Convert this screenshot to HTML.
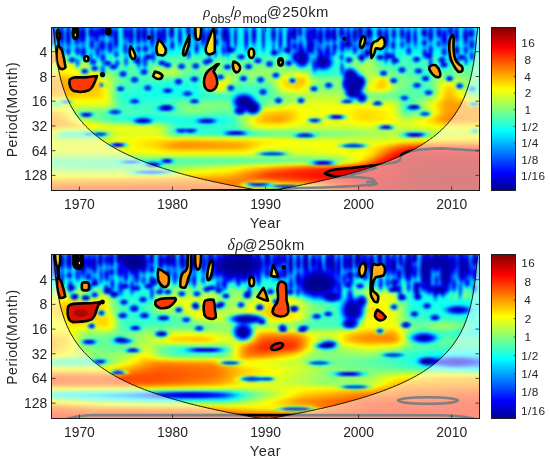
<!DOCTYPE html><html><head><meta charset="utf-8"><style>
html,body{margin:0;padding:0;background:#fff;width:550px;height:463px;overflow:hidden}
.hmo{position:absolute;overflow:hidden}
.hm{position:absolute;filter:blur(1px)}
.hm div{position:absolute;left:0;width:100%;height:3px}
.cb{position:absolute;left:491px;width:25px;background:linear-gradient(to top,#000090 0%,#0000ff 11.1%,#00ffff 36.5%,#ffff00 61.9%,#ff0000 87.3%,#800000 100%)}
svg{position:absolute;left:0;top:0}
text{font-family:"Liberation Sans",Arial,sans-serif;fill:#262626;stroke:none}
</style></head><body>
<div class="hmo" style="left:51px;top:27px;width:429px;height:164px"><div class="hm" style="left:-4px;top:-4px;width:437px;height:172px"><div style="top:0px;background:linear-gradient(90deg,#00beff,#00bbff,#00a0ff,#0084ff,#00a3ff,#00bcff,#00b2ff,#008bff,#008dff,#00b1ff,#009dff,#008bff,#00b0ff,#00bdff,#00b2ff,#00a5ff,#00adff,#0095ff,#0086ff,#009fff,#00b9ff,#00baff,#00b1ff,#00b8ff,#00b5ff,#00aeff,#00b6ff,#00adff,#00a4ff,#00b4ff,#00c4ff,#00c9ff,#00cdff,#00d0ff,#00bbff,#00c1ff,#12ffed,#00ffff,#00d2ff,#00a0ff,#00cbff,#00f8ff,#00a2ff,#00b7ff,#00d4ff,#00b1ff,#00aeff,#00c8ff,#00a2ff,#0093ff,#00b8ff,#00d2ff,#00b3ff,#00bcff,#1effe1,#00e9ff,#00d2ff,#00cfff,#00b4ff,#00bcff,#00d6ff,#00d5ff,#00c1ff,#00cbff,#00dbff,#00dbff,#00bdff,#00ceff,#00dcff,#00dbff,#00c6ff,#00a9ff,#00c5ff,#00d6ff,#00c4ff,#00c5ff,#00d7ff,#00c8ff,#00aeff,#00c9ff,#00d3ff,#00c4ff,#00d7ff,#00dcff,#00d9ff,#00dbff,#00dbff,#00c9ff,#009cff,#00a4ff,#0099ff,#00baff,#00dbff,#00d9ff,#00b5ff,#00d9ff,#00dcff,#00dcff,#00dbff,#00b0ff,#00bfff,#00dcff,#00d0ff,#009fff,#00c0ff,#00dbff,#00dcff,#00d5ff,#008bff,#00d8ff,#00dcff,#00dcff,#00d0ff,#00a3ff,#00c3ff,#00dbff,#00b0ff,#00c1ff,#00dbff,#00daff,#00b4ff,#0092ff,#00b8ff,#009bff,#0091ff,#009fff,#009bff,#0098ff,#00a6ff,#00a5ff,#0097ff,#0095ff,#009eff,#0099ff,#0094ff,#009dff,#0099ff,#009cff,#00a7ff,#009fff,#0090ff,#0094ff,#00a1ff,#00a2ff,#00a3ff,#00a8ff,#00a3ff,#0093ff,#009fff,#00a2ff,#0093ff,#0098ff,#00a6ff,#00a5ff,#00a2ff,#00a5ff,#0093ff,#008dff,#00a9ff,#00b6ff,#00b3ff,#00bbff,#00c7ff,#00ccff,#00ceff,#00d0ff,#00d1ff,#00d1ff,#00cbff,#00b7ff,#00c5ff,#1dffe2,#00ebff,#00d0ff,#00d1ff,#00d2ff,#00d2ff,#00cfff,#00d1ff,#00d0ff,#00caff,#00cdff,#00d1ff,#00c8ff,#00bbff,#00cfff,#00d2ff,#00d2ff,#00d1ff,#00d1ff,#00ceff,#00b8ff,#00c3ff,#00d1ff,#00d2ff,#00d0ff,#00cfff,#00cfff,#00caff,#00ccff,#00cfff,#00bfff,#00ccff,#00cbff,#00b3ff,#00afff,#00c7ff,#00d1ff,#00cdff,#00c3ff,#00d0ff,#00d2ff,#00d2ff,#00d2ff,#00d2ff,#00d2ff,#00d2ff,#00d2ff,#00d2ff)"></div><div style="top:2px;background:linear-gradient(90deg,#00beff,#00b8ff,#007fff,#004eff,#00c3ff,#14ffeb,#00a6ff,#0058ff,#008bff,#17ffe8,#0081ff,#005bff,#00d9ff,#0efff1,#009eff,#007bff,#00c1ff,#009eff,#004aff,#0077ff,#00afff,#00a6ff,#0075ff,#00acff,#00f4ff,#0096ff,#00abff,#00b6ff,#0053ff,#0098ff,#1affe5,#00beff,#00b1ff,#00beff,#0097ff,#009fff,#10ffef,#00feff,#00bfff,#0059ff,#009eff,#00c5ff,#0061ff,#00baff,#11ffee,#0080ff,#0075ff,#00c9ff,#008cff,#004eff,#00b1ff,#13ffec,#008cff,#0093ff,#1affe5,#00d1ff,#00b7ff,#00d6ff,#00a2ff,#0099ff,#1effe1,#00cdff,#0079ff,#009eff,#16ffe9,#00f8ff,#0093ff,#00b7ff,#00dcff,#00d5ff,#0083ff,#003cff,#01fffe,#00e2ff,#0088ff,#008eff,#06fff9,#00cfff,#007bff,#00aeff,#00c3ff,#009fff,#00e3ff,#1effe1,#00baff,#00cdff,#04fffb,#00d6ff,#0056ff,#0064ff,#006dff,#00a5ff,#00eeff,#16ffe9,#008cff,#00d5ff,#00ffff,#14ffeb,#00dcff,#008dff,#00a8ff,#09fff6,#00e9ff,#0061ff,#009dff,#00fdff,#14ffeb,#00d2ff,#005cff,#00d4ff,#00dcff,#00dcff,#00bbff,#005dff,#00c4ff,#1effe1,#0095ff,#00abff,#00deff,#14ffeb,#00b6ff,#0065ff,#00a5ff,#0090ff,#005bff,#00eeff,#0072ff,#009eff,#11ffee,#00a3ff,#007eff,#0078ff,#0086ff,#0072ff,#006dff,#00f3ff,#00aaff,#0084ff,#00edff,#00c8ff,#0062ff,#0067ff,#0084ff,#0083ff,#0096ff,#1cffe3,#00a5ff,#0051ff,#0078ff,#0094ff,#0078ff,#0092ff,#18ffe7,#00abff,#0085ff,#00e0ff,#009cff,#0055ff,#00e7ff,#00e7ff,#0085ff,#00c1ff,#0efff1,#00d1ff,#00cfff,#00ceff,#00c9ff,#00cbff,#00bfff,#0094ff,#00acff,#1cffe3,#00e7ff,#00bbff,#00c6ff,#00d2ff,#00cfff,#00b3ff,#00c8ff,#00cbff,#00b3ff,#00bcff,#00d0ff,#00b7ff,#0097ff,#00c9ff,#00d2ff,#00cfff,#00c2ff,#00d0ff,#0efff1,#0092ff,#00a3ff,#00d0ff,#00d1ff,#00baff,#00b5ff,#00eaff,#00eeff,#00c1ff,#00ebff,#0090ff,#00aeff,#00fcff,#0098ff,#0097ff,#23ffdc,#00ddff,#00bfff,#009fff,#00c9ff,#00d0ff,#00cfff,#00ecff,#1dffe2,#00d8ff,#00d2ff,#00d2ff,#00d2ff)"></div><div style="top:4px;background:linear-gradient(90deg,#00c0ff,#00b3ff,#0052ff,#000eff,#00a6ff,#0efff1,#008dff,#001dff,#005cff,#05fffa,#004fff,#0020ff,#00c8ff,#07fff8,#0075ff,#003bff,#0093ff,#004eff,#0003ff,#0059ff,#1cffe3,#0082ff,#0005ff,#0068ff,#00abff,#0049ff,#006aff,#002cff,#0000d5,#0046ff,#00edff,#0062ff,#0050ff,#00b7ff,#008bff,#006eff,#0bfff4,#00feff,#00a2ff,#000cff,#0064ff,#0083ff,#0017ff,#0092ff,#00fcff,#0039ff,#002dff,#009dff,#003aff,#0001ff,#0086ff,#01fffe,#0050ff,#005dff,#0efff1,#009dff,#007eff,#00a2ff,#0044ff,#0057ff,#16ffe9,#0093ff,#000dff,#004aff,#10ffef,#00f3ff,#0058ff,#00a3ff,#21ffde,#00d8ff,#0027ff,#0000cd,#00e4ff,#00b2ff,#0028ff,#0032ff,#00f3ff,#009fff,#003aff,#00c2ff,#00d9ff,#0068ff,#00d4ff,#04fffb,#0035ff,#0084ff,#00fdff,#00a5ff,#0008ff,#001bff,#0039ff,#008aff,#00edff,#05fffa,#004cff,#00cdff,#00fdff,#10ffef,#00daff,#0062ff,#0087ff,#07fff8,#00c9ff,#001aff,#006dff,#00fbff,#12ffed,#00c9ff,#002bff,#00ceff,#00ddff,#00ddff,#0099ff,#000aff,#0098ff,#18ffe7,#006eff,#0090ff,#00e0ff,#12ffed,#0091ff,#0031ff,#0067ff,#0026ff,#0009ff,#00adff,#0000ff,#005dff,#04fffb,#0090ff,#0059ff,#004dff,#005bff,#0034ff,#002bff,#00ccff,#0064ff,#0053ff,#00d9ff,#008fff,#001dff,#0069ff,#00c8ff,#0044ff,#005eff,#13ffec,#0066ff,#0000f1,#0063ff,#00ebff,#005bff,#0072ff,#01fffe,#0074ff,#0043ff,#00b8ff,#0045ff,#0008ff,#00cfff,#00aeff,#0026ff,#0056ff,#00d6ff,#00f0ff,#17ffe8,#00b8ff,#0087ff,#00c2ff,#00ebff,#0066ff,#0085ff,#18ffe7,#00d0ff,#006eff,#00c5ff,#1cffe3,#00c4ff,#005aff,#00a9ff,#00f8ff,#0099ff,#009aff,#0bfff4,#00bcff,#0069ff,#0efff1,#00f8ff,#00b8ff,#006aff,#008aff,#00eaff,#0041ff,#006bff,#00ceff,#00ccff,#006dff,#005eff,#00cbff,#00b3ff,#009dff,#00b0ff,#0000f9,#0060ff,#00d8ff,#004dff,#0059ff,#1effe1,#00daff,#00a0ff,#005cff,#00b5ff,#00b4ff,#009eff,#00dfff,#1bffe4,#00daff,#00d4ff,#00d4ff,#00d4ff)"></div><div style="top:6px;background:linear-gradient(90deg,#00c4ff,#00acff,#0022ff,#0000d3,#0086ff,#07fff8,#0071ff,#0000e9,#0030ff,#00ebff,#001bff,#0000e9,#00b1ff,#00f8ff,#0040ff,#0000f7,#005dff,#0008ff,#0000c9,#002aff,#11ffee,#003aff,#0000ae,#001dff,#0054ff,#0000f9,#0026ff,#0000d1,#000097,#0007ff,#009bff,#0000f1,#0000e0,#0074ff,#0040ff,#0032ff,#04fffb,#00fdff,#0083ff,#0000d6,#0030ff,#0042ff,#0000da,#0069ff,#00e2ff,#0000f6,#0000eb,#006eff,#0000f5,#0000c8,#005cff,#00e6ff,#0013ff,#0025ff,#00f6ff,#0057ff,#0035ff,#0064ff,#0000ee,#0015ff,#05fffa,#0054ff,#0000bf,#0000fd,#07fff8,#00ebff,#001eff,#007bff,#1cffe3,#00ccff,#0000ef,#0000a7,#00c8ff,#0078ff,#0000d2,#0000de,#00daff,#0069ff,#0000fc,#009eff,#00a6ff,#0028ff,#00beff,#00d3ff,#0000ba,#0021ff,#00f5ff,#0073ff,#0000cd,#0000de,#0009ff,#006cff,#00eeff,#00eeff,#000bff,#00c1ff,#00fcff,#0dfff2,#00d8ff,#0036ff,#0063ff,#05fffa,#00a4ff,#0000de,#003cff,#00f8ff,#10ffef,#00bfff,#0000fe,#00c8ff,#00e0ff,#00deff,#0073ff,#0000c9,#006aff,#12ffed,#0045ff,#0071ff,#00e2ff,#0efff1,#0068ff,#0000fe,#002bff,#0000d5,#0000cb,#0071ff,#0000c2,#0036ff,#00eeff,#0078ff,#002dff,#001dff,#0027ff,#0000f6,#0000ee,#0097ff,#0017ff,#0019ff,#00bbff,#0050ff,#0000de,#002fff,#006eff,#0000ec,#0013ff,#00feff,#0026ff,#0000b4,#002dff,#00c0ff,#002bff,#004bff,#00dcff,#0028ff,#0000f3,#0084ff,#0000f8,#0000ca,#00aeff,#0064ff,#0000cf,#0000d8,#0063ff,#00eeff,#08fff7,#0067ff,#0000fe,#006dff,#00c3ff,#002bff,#0055ff,#11ffee,#009bff,#0000fb,#0088ff,#19ffe6,#009eff,#0000e5,#0064ff,#00cfff,#004bff,#0060ff,#04fffb,#008dff,#0030ff,#04fffb,#00f5ff,#0079ff,#0000dd,#0011ff,#00b8ff,#0000f3,#002dff,#00c9ff,#00bdff,#000aff,#0000f5,#0094ff,#0063ff,#0067ff,#0074ff,#0000b0,#001eff,#00abff,#0008ff,#0022ff,#14ffeb,#00d5ff,#0070ff,#000bff,#0089ff,#0052ff,#001bff,#00aaff,#18ffe7,#00ddff,#00d8ff,#00d8ff,#00d8ff)"></div><div style="top:8px;background:linear-gradient(90deg,#00c7ff,#00a4ff,#0000f8,#0000ac,#0068ff,#00feff,#0059ff,#0000c9,#0012ff,#00cfff,#0000f2,#0000c5,#009aff,#00e8ff,#0011ff,#0000c7,#0031ff,#0000d9,#0000ac,#0009ff,#06fff9,#0014ff,#000098,#0000f2,#0011ff,#0000ca,#0005ff,#0000c1,#000092,#0000f7,#0063ff,#0000c2,#0000b9,#0043ff,#0000fd,#0000fb,#00faff,#00fdff,#006fff,#0000c2,#0011ff,#0012ff,#0000b8,#0049ff,#00c8ff,#0000cb,#0000c1,#004aff,#0000cf,#0000ae,#003fff,#00caff,#0000e2,#0000f7,#00daff,#0018ff,#0000f7,#002cff,#0000ba,#0000e5,#00f1ff,#0030ff,#0000a8,#0000db,#00feff,#00e2ff,#0000f1,#0056ff,#17ffe8,#00ceff,#0000f7,#0000a9,#00baff,#0051ff,#0000a7,#0000b3,#00c0ff,#0039ff,#0000d3,#0079ff,#0072ff,#0000f4,#00a5ff,#00baff,#0000a2,#0000fd,#00eeff,#004eff,#0000b0,#0000bc,#0000e3,#004eff,#00eeff,#00d5ff,#0000d8,#00b2ff,#00fbff,#0afff5,#00d5ff,#0010ff,#0041ff,#02fffd,#0083ff,#0000bc,#0015ff,#00f5ff,#0dfff2,#00b4ff,#0000de,#00c1ff,#00e2ff,#00e0ff,#0055ff,#0000ac,#0046ff,#0bfff4,#0020ff,#0052ff,#00e4ff,#0afff5,#0042ff,#0000d9,#0004ff,#0000b2,#0000b3,#0060ff,#0000bb,#002cff,#00ddff,#0064ff,#0007ff,#0000f2,#0000fa,#0000d0,#0000d1,#0062ff,#0000dc,#0000e7,#009cff,#0020ff,#0000bc,#0006ff,#0020ff,#0000b0,#0000d9,#00eaff,#0006ff,#0000a7,#0014ff,#0092ff,#0000ff,#0025ff,#00b1ff,#0000e9,#0000bd,#0059ff,#0000cd,#0000af,#0092ff,#0035ff,#0000ae,#00009d,#0006ff,#00eaff,#00f0ff,#0017ff,#0000ab,#002aff,#0093ff,#0000f6,#0028ff,#08fff7,#0063ff,#0000b7,#0053ff,#14ffeb,#0077ff,#0000a7,#0027ff,#009cff,#0005ff,#0025ff,#00f7ff,#005eff,#0002ff,#00f7ff,#00f0ff,#0043ff,#00009c,#0000d0,#0089ff,#0000c7,#0000fd,#00c4ff,#00b0ff,#0000d6,#0000c6,#005aff,#0018ff,#002dff,#0065ff,#0000ac,#0015ff,#0084ff,#0000dd,#0002ff,#07fff8,#00cfff,#003cff,#0000c8,#0052ff,#0000f7,#0000c5,#006fff,#13ffec,#00e0ff,#00dcff,#00dcff,#00dcff)"></div><div style="top:10px;background:linear-gradient(90deg,#00cbff,#009eff,#0000de,#00009b,#0052ff,#00f6ff,#004bff,#0000bc,#0002ff,#00b7ff,#0000da,#0000b5,#0087ff,#00d9ff,#0000f1,#0000b2,#0016ff,#0000c7,#0000a5,#0000f8,#01fffe,#0023ff,#00009e,#0000f5,#0000f0,#0000bc,#0007ff,#0000f5,#0000b1,#001fff,#006fff,#0000cd,#0000c1,#0036ff,#0000d1,#0000d5,#00efff,#00fdff,#006dff,#0000c0,#0007ff,#0000f6,#0000ad,#0036ff,#00b7ff,#0000b8,#0000b0,#003aff,#0000c2,#0000a9,#0032ff,#00b3ff,#0000c5,#0000dc,#00bfff,#0000f0,#0000d6,#000aff,#0000a7,#0000ce,#00e3ff,#0037ff,#0000ac,#0000e2,#00fbff,#00daff,#0000db,#003dff,#13ffec,#00deff,#003dff,#0000de,#00c4ff,#004bff,#0000a0,#0000ab,#00b0ff,#001aff,#0000c1,#0059ff,#0048ff,#0000d7,#008eff,#00d5ff,#0000c8,#0031ff,#00ebff,#0040ff,#0000a9,#0000b1,#0000cc,#0034ff,#00eeff,#00beff,#0000bc,#00a4ff,#00faff,#07fff8,#00d2ff,#0000f4,#0026ff,#00ffff,#0070ff,#0000b0,#0001ff,#00f3ff,#0bfff4,#00abff,#0000cc,#00bbff,#00e5ff,#00e2ff,#004aff,#0000a6,#0033ff,#03fffc,#0003ff,#0038ff,#00e6ff,#06fff9,#0023ff,#0000c2,#0000fa,#0000ad,#0000b0,#007dff,#0000e1,#003dff,#00d6ff,#005cff,#0000ed,#0000d8,#0000e1,#0000c5,#0000d1,#003cff,#0000be,#0000cb,#0086ff,#000aff,#0000b3,#0000f3,#0000fa,#00009c,#0000c1,#00dcff,#0012ff,#0000ae,#001bff,#006bff,#0000e1,#0007ff,#008fff,#0000ca,#0000ac,#0044ff,#0000c3,#0000ab,#0087ff,#0034ff,#0000ad,#000096,#0000f1,#00e9ff,#00e9ff,#000aff,#0000a4,#001bff,#006bff,#0000d4,#0005ff,#00feff,#0050ff,#0000ab,#0041ff,#11ffee,#006dff,#0000a0,#0015ff,#0071ff,#0000da,#0000fa,#00ebff,#003aff,#0000e7,#00e9ff,#00f1ff,#004dff,#0000a3,#0000d4,#0071ff,#0000ba,#0000e9,#00c2ff,#00b5ff,#0000dc,#0000c8,#0033ff,#0000e8,#0002ff,#0087ff,#0000dd,#004bff,#0072ff,#0000cf,#0000f5,#00f9ff,#00ccff,#0015ff,#0000a6,#0034ff,#0000eb,#0000bf,#0063ff,#0ffff0,#00e4ff,#00e0ff,#00e0ff,#00e0ff)"></div><div style="top:12px;background:linear-gradient(90deg,#00cfff,#009dff,#0000d3,#000098,#0046ff,#00f2ff,#004bff,#0000bc,#0000fb,#00a8ff,#0000d2,#0000b1,#007cff,#00d2ff,#0000e7,#0000af,#0010ff,#0000c9,#0000a7,#0000fb,#01fffe,#0063ff,#0000d7,#0024ff,#0000f0,#0000be,#0020ff,#0068ff,#001bff,#0074ff,#00b4ff,#001aff,#0007ff,#004aff,#0000bb,#0000c0,#00e6ff,#00fdff,#0080ff,#0000cd,#0014ff,#0000f2,#0000ad,#0030ff,#00b3ff,#0000b7,#0000b0,#0040ff,#0000ca,#0000ad,#0037ff,#00a6ff,#0000ba,#0000d0,#00b0ff,#0000e4,#0000cd,#0000ff,#0000a5,#0000cb,#00dcff,#0067ff,#0000d5,#0015ff,#00feff,#00d8ff,#0000d6,#0032ff,#0ffff0,#00ecff,#009dff,#0059ff,#00e3ff,#0068ff,#0000b3,#0000be,#00b0ff,#000fff,#0000be,#0043ff,#0030ff,#0000ce,#0080ff,#00feff,#004bff,#0095ff,#00edff,#004aff,#0000af,#0000b8,#0000c1,#0020ff,#00efff,#00afff,#0000b3,#009bff,#00f9ff,#04fffb,#00d0ff,#0000e5,#0014ff,#00fdff,#006dff,#0000b0,#0000ff,#00f2ff,#09fff6,#00a5ff,#0000c5,#00b7ff,#00e8ff,#00e5ff,#0055ff,#0000aa,#0034ff,#00fcff,#0000ef,#0025ff,#00e9ff,#03fffc,#000eff,#0000b8,#000eff,#0000c0,#0000be,#00abff,#003cff,#0076ff,#00daff,#0066ff,#0000e6,#0000cd,#0000da,#0000d0,#0000e0,#002bff,#0000b6,#0000c2,#007dff,#0011ff,#0000b7,#0000f6,#0003ff,#00009c,#0000c0,#00d5ff,#0045ff,#0000df,#0041ff,#0050ff,#0000d3,#0000f3,#007fff,#0000ca,#0000ac,#0049ff,#0000d4,#0000b5,#008eff,#0060ff,#0000ce,#0000b3,#0027ff,#00eeff,#00f8ff,#004aff,#0000d6,#0040ff,#0054ff,#0000c5,#0000f0,#00f7ff,#006dff,#0000bf,#0054ff,#10ffef,#008aff,#0000b8,#0038ff,#0059ff,#0000cc,#0000e8,#00e1ff,#0028ff,#0000de,#00ddff,#00f6ff,#0092ff,#0000fb,#0028ff,#0078ff,#0000bd,#0000ef,#00c7ff,#00ccff,#001eff,#0001ff,#0024ff,#0000d5,#0000eb,#00b3ff,#0062ff,#009fff,#0078ff,#0000d4,#0000f6,#00efff,#00ceff,#0004ff,#00009e,#0039ff,#0033ff,#0000f5,#0092ff,#10ffef,#00e7ff,#00e4ff,#00e4ff,#00e4ff)"></div><div style="top:14px;background:linear-gradient(90deg,#00d3ff,#00a3ff,#0000da,#000099,#0044ff,#00f0ff,#005bff,#0000c7,#0001ff,#00a5ff,#0000d9,#0000b5,#007aff,#00d3ff,#0000f2,#0000b4,#001eff,#0000e2,#0000b5,#0012ff,#03fffc,#00abff,#0034ff,#0060ff,#000fff,#0000d0,#0045ff,#00b7ff,#0078ff,#00b8ff,#00f6ff,#0085ff,#0076ff,#0069ff,#0000b4,#0000ba,#00e0ff,#00feff,#00a1ff,#0000f9,#003aff,#0004ff,#0000b3,#0039ff,#00bdff,#0000ca,#0000c2,#005dff,#0000ea,#0000c3,#004fff,#00a6ff,#0000bb,#0000d0,#00b0ff,#0000ed,#0000d4,#0010ff,#0000b3,#0000db,#00daff,#00a9ff,#0035ff,#006bff,#05fffa,#00dbff,#0000db,#0038ff,#0afff5,#00f1ff,#00c5ff,#0097ff,#00fbff,#009bff,#0000f2,#0000fc,#00c0ff,#0016ff,#0000c0,#0038ff,#002aff,#0000ce,#007dff,#0efff1,#0074ff,#0098ff,#00f0ff,#006aff,#0000cb,#0000d3,#0000bf,#0012ff,#00efff,#00abff,#0000b2,#009cff,#00f8ff,#00ffff,#00d0ff,#0000df,#000cff,#00fcff,#007dff,#0000b9,#0013ff,#00f3ff,#07fff8,#00a5ff,#0000c5,#00b8ff,#00ebff,#00e9ff,#0075ff,#0000c5,#004cff,#00f8ff,#0000e5,#001bff,#00ebff,#00ffff,#0003ff,#0000b6,#003aff,#0000fa,#0000ec,#00cbff,#0087ff,#00a1ff,#00dcff,#0083ff,#0000ec,#0000cc,#0000e5,#0000f1,#0007ff,#0031ff,#0000bd,#0000c9,#0084ff,#0031ff,#0000ce,#0013ff,#0033ff,#0000b3,#0000d6,#00d5ff,#0085ff,#0030ff,#006fff,#0042ff,#0000cf,#0000ea,#0080ff,#0000e7,#0000be,#0065ff,#0007ff,#0000dd,#00a5ff,#00a5ff,#002bff,#001dff,#0086ff,#00f3ff,#09fff6,#00abff,#005aff,#0096ff,#004fff,#0000c2,#0000e8,#00f3ff,#00a9ff,#0012ff,#008eff,#12ffed,#00bdff,#0017ff,#0082ff,#0059ff,#0000cd,#0000ea,#00ddff,#0029ff,#0000de,#00d4ff,#00f9ff,#00d1ff,#0086ff,#009fff,#0099ff,#0000d5,#0012ff,#00d2ff,#00e1ff,#008dff,#006bff,#0029ff,#0000d2,#0000e7,#00c1ff,#009aff,#00c7ff,#0094ff,#0000f1,#0009ff,#00ecff,#00d7ff,#000cff,#0000a1,#0050ff,#009fff,#0069ff,#00ccff,#12ffed,#00ebff,#00e8ff,#00e8ff,#00e8ff)"></div><div style="top:16px;background:linear-gradient(90deg,#00d7ff,#00aeff,#0000f1,#0000a5,#004fff,#00f2ff,#0077ff,#0000e6,#0016ff,#00adff,#0000f1,#0000c4,#0083ff,#00dbff,#0014ff,#0000c9,#003fff,#0015ff,#0000df,#003dff,#04fffb,#00c3ff,#0029ff,#005eff,#004cff,#0006ff,#0069ff,#008eff,#0054ff,#00b1ff,#00feff,#008fff,#0089ff,#0079ff,#0000b9,#0000bf,#00deff,#00ffff,#00c4ff,#0042ff,#0073ff,#002aff,#0000cd,#0051ff,#00d1ff,#0000f7,#0000ed,#008aff,#0028ff,#0000f8,#0078ff,#00b3ff,#0000cb,#0000dd,#00bfff,#000fff,#0000f2,#0036ff,#0000dd,#0007ff,#00dfff,#00daff,#007aff,#0097ff,#09fff6,#00e3ff,#0000f1,#004fff,#06fff9,#00f2ff,#008bff,#003eff,#00f5ff,#00cfff,#0052ff,#0053ff,#00d7ff,#0031ff,#0000ce,#0039ff,#0036ff,#0000d6,#0088ff,#0afff5,#0009ff,#0033ff,#00f3ff,#0097ff,#0007ff,#0007ff,#0000c3,#000bff,#00f0ff,#00b3ff,#0000b8,#00a5ff,#00f6ff,#00fcff,#00d3ff,#0000e2,#000fff,#00fcff,#009aff,#0000d9,#0039ff,#00f5ff,#05fffa,#00a9ff,#0000c6,#00bcff,#00edff,#00ecff,#00a0ff,#0002ff,#0077ff,#00f4ff,#0000e4,#001aff,#00eeff,#00fdff,#0002ff,#0000b9,#0071ff,#0058ff,#003bff,#00dcff,#0081ff,#008aff,#00d7ff,#00aaff,#0000f9,#0000ce,#0000f3,#0025ff,#0047ff,#004fff,#0000d6,#0000e2,#0094ff,#0065ff,#0007ff,#004aff,#007bff,#0000f2,#0011ff,#00dcff,#00a8ff,#0047ff,#0073ff,#0041ff,#0000cf,#0000e8,#0088ff,#0025ff,#0000f7,#0091ff,#0056ff,#0027ff,#00bfff,#00b9ff,#0067ff,#0095ff,#008fff,#00efff,#0dfff2,#00d2ff,#008cff,#00b5ff,#0057ff,#0000c6,#0000ed,#00efff,#00c2ff,#005eff,#00ccff,#13ffec,#00e1ff,#0078ff,#00c0ff,#006eff,#0000de,#0003ff,#00e2ff,#003cff,#0000e8,#00d2ff,#00faff,#00c5ff,#004eff,#007bff,#00bfff,#0013ff,#004fff,#00dfff,#00eaff,#00b9ff,#00b0ff,#003eff,#0000d9,#0000f6,#00b2ff,#0038ff,#00a7ff,#00bdff,#002dff,#0038ff,#00f1ff,#00e3ff,#002fff,#0000b7,#0070ff,#00a6ff,#004bff,#00b7ff,#10ffef,#00efff,#00ecff,#00ecff,#00ecff)"></div><div style="top:18px;background:linear-gradient(90deg,#00dbff,#00bdff,#001dff,#0000ce,#0069ff,#00f6ff,#009aff,#001cff,#0040ff,#00bfff,#001cff,#0000e8,#0097ff,#00e5ff,#0049ff,#0000fc,#0071ff,#005cff,#0026ff,#0075ff,#06fff9,#00abff,#0000da,#0023ff,#0091ff,#004fff,#007bff,#0032ff,#0000fc,#0080ff,#00ddff,#0048ff,#0047ff,#007bff,#0000cd,#0000d1,#00e1ff,#01fffe,#00d9ff,#0071ff,#00a9ff,#0062ff,#0004ff,#0079ff,#00e8ff,#003cff,#0033ff,#00bbff,#0078ff,#0048ff,#00a9ff,#00c8ff,#0000ed,#0000fb,#00d5ff,#004dff,#0030ff,#0072ff,#0028ff,#004bff,#00e8ff,#00e6ff,#0041ff,#0054ff,#06fff9,#00edff,#001eff,#0074ff,#02fffd,#00f0ff,#003fff,#0000ee,#00dfff,#00eeff,#008dff,#0073ff,#00e8ff,#005cff,#0000f3,#0054ff,#0055ff,#0000f1,#009eff,#06fff9,#0000dc,#0004ff,#00f5ff,#00c1ff,#004fff,#0047ff,#0000ca,#000bff,#00f2ff,#00c4ff,#0000cd,#00b6ff,#00f5ff,#00f8ff,#00d9ff,#0000ec,#001cff,#00fdff,#00bdff,#0015ff,#006fff,#00f8ff,#04fffb,#00b4ff,#0000cf,#00c5ff,#00f1ff,#00f0ff,#00c9ff,#0044ff,#00a8ff,#00eeff,#0000eb,#0023ff,#00f0ff,#00fcff,#000aff,#0000c0,#0097ff,#008dff,#0060ff,#00d8ff,#004cff,#0056ff,#00caff,#00c9ff,#0003ff,#0000c9,#0000e1,#0030ff,#0079ff,#0077ff,#000bff,#0014ff,#00a9ff,#0099ff,#0054ff,#008cff,#00bdff,#004aff,#005dff,#00e7ff,#00a3ff,#0014ff,#0043ff,#001aff,#0000bd,#0000d2,#0076ff,#006cff,#004bff,#00beff,#008eff,#0059ff,#00bdff,#0036ff,#0000ed,#0078ff,#0033ff,#00deff,#0afff5,#00b2ff,#003cff,#0081ff,#0068ff,#0000d4,#0000ff,#00ecff,#0076ff,#0011ff,#00cfff,#13ffec,#00e1ff,#0028ff,#00abff,#008fff,#000dff,#0035ff,#00ecff,#0060ff,#0005ff,#00d7ff,#00f9ff,#0087ff,#0000e4,#0015ff,#00d6ff,#0067ff,#0095ff,#00eaff,#00e1ff,#0034ff,#006aff,#005fff,#0000f5,#001cff,#009dff,#0000ec,#0074ff,#00e5ff,#007bff,#007bff,#00faff,#00ecff,#0066ff,#0000ef,#0095ff,#005fff,#0000e6,#0071ff,#0afff5,#00f1ff,#00eeff,#00eeff,#00eeff)"></div><div style="top:20px;background:linear-gradient(90deg,#00deff,#00ccff,#0061ff,#002dff,#0098ff,#00f9ff,#00b7ff,#0056ff,#0074ff,#00d3ff,#0053ff,#0022ff,#00b0ff,#00edff,#0086ff,#0047ff,#00a5ff,#009eff,#0066ff,#00a0ff,#08fff7,#0098ff,#0000bf,#0002ff,#00bbff,#0072ff,#0071ff,#0000f6,#0000cf,#0056ff,#00b3ff,#000aff,#000bff,#007aff,#0000f4,#0000f6,#00e7ff,#01fffe,#00ccff,#0043ff,#00b8ff,#009eff,#004dff,#00a7ff,#00fbff,#0087ff,#007fff,#00e1ff,#00bdff,#008cff,#00cbff,#00e0ff,#0024ff,#002eff,#00eaff,#0096ff,#007fff,#00b3ff,#007bff,#008fff,#00f2ff,#00dcff,#0000fb,#000cff,#00feff,#00f6ff,#005eff,#00a2ff,#00fcff,#00f0ff,#002eff,#0000e3,#00d2ff,#00f8ff,#0077ff,#003fff,#00e6ff,#0091ff,#0033ff,#0089ff,#0086ff,#0026ff,#00bcff,#08fff7,#000bff,#0034ff,#00f6ff,#00d5ff,#006aff,#0076ff,#0000d3,#0013ff,#00f5ff,#00daff,#0000fa,#00cdff,#00f6ff,#00f6ff,#00e3ff,#0004ff,#0035ff,#00ffff,#00deff,#0064ff,#00a5ff,#00fdff,#05fffa,#00c5ff,#0000e4,#00d3ff,#00f6ff,#00f6ff,#00e7ff,#004eff,#00d5ff,#00f0ff,#0000fc,#0034ff,#00f1ff,#00faff,#001bff,#0000cd,#0088ff,#003dff,#000bff,#00a9ff,#0016ff,#002bff,#00b0ff,#00d2ff,#0000fe,#0000be,#0000c1,#0014ff,#007cff,#0080ff,#004aff,#0051ff,#00bbff,#00b7ff,#007cff,#00acff,#00d3ff,#0040ff,#0048ff,#00dfff,#008fff,#0000e6,#000bff,#0000d0,#0000a4,#0000ae,#0034ff,#0086ff,#0071ff,#00cdff,#004eff,#000eff,#009dff,#000dff,#0000d6,#004eff,#0000f5,#00c8ff,#06fff9,#0085ff,#0000fd,#004cff,#0080ff,#0000f5,#0022ff,#00eaff,#0020ff,#0000c5,#00acff,#11ffee,#00ceff,#0000e4,#0077ff,#00baff,#0057ff,#0078ff,#00f6ff,#008eff,#0038ff,#00e0ff,#00f8ff,#0090ff,#0000ed,#001eff,#00e7ff,#0092ff,#00b6ff,#00eeff,#00d5ff,#0002ff,#003aff,#008eff,#0031ff,#0056ff,#009fff,#0000e3,#0066ff,#00faff,#00a7ff,#00a0ff,#01fffe,#00f0ff,#009fff,#0040ff,#00b6ff,#0035ff,#0000ca,#004aff,#03fffc,#00f0ff,#00edff,#00edff,#00edff)"></div><div style="top:22px;background:linear-gradient(90deg,#00e1ff,#00dbff,#00c1ff,#00c5ff,#00e4ff,#00feff,#00aeff,#004eff,#0091ff,#00e2ff,#0088ff,#005eff,#00c8ff,#00f1ff,#00b3ff,#006fff,#00bbff,#00b8ff,#006cff,#009dff,#07fff8,#00a9ff,#0000d1,#0016ff,#00bbff,#0052ff,#0057ff,#0000ea,#0000ca,#004bff,#0099ff,#0000f2,#0000f3,#007eff,#002fff,#002fff,#00f0ff,#01fffe,#00a5ff,#0000f3,#009dff,#00c0ff,#0080ff,#00cbff,#05fffa,#0093ff,#0079ff,#00ebff,#00a8ff,#0040ff,#0087ff,#00ebff,#0066ff,#0068ff,#00f8ff,#00afff,#00afff,#00dcff,#008eff,#0084ff,#00efff,#00dbff,#0000f6,#0006ff,#00fbff,#00fcff,#00a0ff,#00cbff,#00f7ff,#00f4ff,#0064ff,#000cff,#00e0ff,#00f7ff,#0043ff,#0008ff,#00d8ff,#00c4ff,#007eff,#00bcff,#00b8ff,#006cff,#00daff,#0bfff4,#008cff,#00abff,#00faff,#00c9ff,#003cff,#0079ff,#0000df,#001eff,#00e9ff,#00e9ff,#003fff,#00e4ff,#00fcff,#00fdff,#00efff,#0028ff,#005aff,#04fffb,#00f6ff,#00b0ff,#00c7ff,#03fffc,#07fff8,#00d9ff,#000aff,#00e4ff,#00fdff,#00fcff,#00f7ff,#0025ff,#00efff,#00f4ff,#0018ff,#004fff,#00f2ff,#00f2ff,#0031ff,#0000e2,#006eff,#0003ff,#0000e5,#007aff,#0000f4,#000aff,#0084ff,#00c2ff,#0000f3,#0000b8,#0000b8,#0015ff,#0088ff,#005aff,#0068ff,#0076ff,#00c5ff,#008bff,#000fff,#0064ff,#00c2ff,#0000ec,#0000f4,#00b6ff,#0081ff,#0000db,#0007ff,#000aff,#0000b8,#0000d2,#0066ff,#0062ff,#003eff,#00baff,#0013ff,#0000e4,#0095ff,#0084ff,#0040ff,#007dff,#0000ee,#00bfff,#04fffb,#0077ff,#0000f3,#003cff,#009fff,#002aff,#0052ff,#00efff,#001cff,#0000c3,#00a9ff,#10ffef,#00d8ff,#0000f9,#0090ff,#00daff,#0095ff,#00a9ff,#00fdff,#00bcff,#0078ff,#00e8ff,#00f6ff,#00d4ff,#006eff,#0092ff,#00eeff,#0051ff,#0087ff,#00edff,#00e5ff,#0055ff,#008fff,#00baff,#0074ff,#0092ff,#00bfff,#0003ff,#0089ff,#00f2ff,#006eff,#0067ff,#00f5ff,#00f0ff,#00baff,#0054ff,#00c6ff,#0049ff,#0000d4,#0056ff,#01fffe,#00edff,#00ebff,#00ebff,#00ebff)"></div><div style="top:24px;background:linear-gradient(90deg,#00e4ff,#00edff,#27ffd8,#5cffa3,#3fffc0,#06fff9,#006cff,#0000f7,#006fff,#00e6ff,#0083ff,#0052ff,#00d2ff,#00f1ff,#00afff,#002aff,#0084ff,#009cff,#0031ff,#0069ff,#00ffff,#00d1ff,#0029ff,#0068ff,#00a4ff,#001dff,#0043ff,#0009ff,#0000df,#0067ff,#009cff,#0000f5,#0000f6,#008eff,#0072ff,#006fff,#00f9ff,#01fffe,#0088ff,#0000d9,#007dff,#0094ff,#0057ff,#00cdff,#00fcff,#001dff,#0000ee,#00c4ff,#0049ff,#0000d4,#001fff,#00deff,#00a1ff,#008cff,#00f3ff,#003cff,#0067ff,#00e4ff,#0042ff,#001fff,#00cdff,#00eaff,#0038ff,#0046ff,#01fffe,#01fffe,#00d4ff,#00e9ff,#00fbff,#00fbff,#00b3ff,#0072ff,#00f8ff,#00f6ff,#002cff,#0000f7,#00ccff,#00e9ff,#00bfff,#00e3ff,#00dfff,#009cff,#00f1ff,#0dfff2,#00bcff,#00eeff,#01fffe,#00aeff,#000aff,#005eff,#0000e5,#0000e5,#0012ff,#0075ff,#007bff,#00f7ff,#04fffb,#04fffb,#00fbff,#0059ff,#0086ff,#08fff7,#05fffa,#00e6ff,#00c9ff,#07fff8,#08fff7,#00ecff,#003eff,#00f4ff,#04fffb,#03fffc,#00ffff,#0009ff,#00f9ff,#00f8ff,#003dff,#0070ff,#00d0ff,#0060ff,#0000e9,#0000e0,#007eff,#002aff,#0000f8,#0065ff,#0000ea,#0000e9,#004aff,#009cff,#0000ed,#0000b9,#0000b9,#0023ff,#00a3ff,#0028ff,#0049ff,#0066ff,#00c4ff,#0047ff,#0000d5,#0042ff,#00c2ff,#0000e5,#0000f6,#00afff,#008fff,#0000e5,#001dff,#0097ff,#0040ff,#005bff,#00adff,#002fff,#000aff,#00b1ff,#0046ff,#000aff,#00b4ff,#00baff,#007eff,#00a7ff,#0000fd,#00cbff,#05fffa,#0095ff,#000cff,#0054ff,#00c3ff,#0066ff,#0088ff,#00faff,#006fff,#000bff,#00cfff,#0ffff0,#00f0ff,#0086ff,#00d8ff,#00dfff,#0064ff,#006bff,#00f6ff,#00dfff,#00b2ff,#00ecff,#00f3ff,#00e9ff,#009dff,#00b1ff,#00d8ff,#0000f8,#0038ff,#00eaff,#00eeff,#00ddff,#00e5ff,#00c5ff,#006eff,#009aff,#00e2ff,#0063ff,#00b8ff,#00ceff,#000bff,#000bff,#00d4ff,#00edff,#0097ff,#0000fa,#00acff,#0090ff,#0025ff,#0094ff,#03fffc,#00ebff,#00e9ff,#00e9ff,#00e9ff)"></div><div style="top:26px;background:linear-gradient(90deg,#00f1ff,#11ffee,#88ff77,#dfff20,#9aff65,#1cffe3,#0039ff,#0000d1,#0041ff,#00e3ff,#0044ff,#000dff,#00c3ff,#00f2ff,#008eff,#0000e5,#0032ff,#0069ff,#0000f6,#002fff,#00f4ff,#00efff,#0098ff,#00c9ff,#0096ff,#0004ff,#003cff,#0056ff,#002aff,#00a2ff,#00bbff,#0018ff,#0019ff,#00afff,#00aaff,#00a4ff,#03fffc,#05fffa,#0093ff,#0000de,#0079ff,#0045ff,#0011ff,#00aeff,#00faff,#0009ff,#0000dc,#00c0ff,#0052ff,#0000da,#0022ff,#00e2ff,#00c7ff,#007cff,#00ddff,#0000fc,#002aff,#00e1ff,#0012ff,#0000f3,#00b8ff,#00fcff,#00b2ff,#00baff,#09fff6,#06fff9,#00f5ff,#00fcff,#03fffc,#03fffc,#00b1ff,#0080ff,#05fffa,#00fcff,#003eff,#0002ff,#00d1ff,#01fffe,#00eeff,#00fdff,#00efff,#0067ff,#00f8ff,#0ffff0,#0069ff,#00e6ff,#09fff6,#00a0ff,#0000ff,#0050ff,#0000e5,#0000b1,#0000a4,#0000fc,#0099ff,#06fff9,#0dfff2,#0dfff2,#09fff6,#0092ff,#00b6ff,#0efff1,#0efff1,#05fffa,#00bbff,#10ffef,#10ffef,#01fffe,#007cff,#05fffa,#0dfff2,#07fff8,#00daff,#0000e7,#0093ff,#00dbff,#006bff,#0094ff,#008dff,#0000cd,#0000a4,#0000bf,#0087ff,#009cff,#0057ff,#0054ff,#0000e2,#0000cb,#0008ff,#006eff,#0000fc,#0000ca,#0000c3,#0030ff,#00bbff,#0027ff,#0019ff,#0034ff,#00a1ff,#001bff,#0000c7,#0038ff,#00bbff,#0000f0,#003fff,#00d6ff,#00b8ff,#0014ff,#004cff,#00caff,#0096ff,#00a8ff,#00cbff,#0026ff,#0006ff,#00baff,#00ceff,#0097ff,#00ddff,#004fff,#0000fe,#0083ff,#0046ff,#00eaff,#0afff5,#00cfff,#0064ff,#009aff,#00e0ff,#0086ff,#00b1ff,#05fffa,#00d1ff,#0083ff,#00f5ff,#0ffff0,#00faff,#00f0ff,#00f7ff,#00cbff,#0007ff,#000bff,#00e1ff,#00f4ff,#00deff,#00f3ff,#00f6ff,#00ddff,#0041ff,#005dff,#00c2ff,#0000df,#0017ff,#00ecff,#00f3ff,#00f3ff,#00f0ff,#0097ff,#000eff,#004dff,#00ebff,#009fff,#00baff,#00b5ff,#0000e2,#0000e7,#00b7ff,#00efff,#0071ff,#0000d5,#008eff,#00d1ff,#0095ff,#00d5ff,#05fffa,#00eeff,#00ecff,#00ecff,#00ecff)"></div><div style="top:28px;background:linear-gradient(90deg,#16ffe9,#4effb1,#ebff14,#ffbc00,#f5ff0a,#4dffb2,#0055ff,#0000df,#0060ff,#03fffc,#0035ff,#0005ff,#00d0ff,#13ffec,#009dff,#0000e8,#0022ff,#0054ff,#0000e7,#0017ff,#00f1ff,#00f4ff,#008fff,#00f7ff,#009eff,#0006ff,#0047ff,#00abff,#007fff,#00daff,#00e9ff,#006aff,#006bff,#00d9ff,#007bff,#005dff,#01fffe,#11ffee,#00c8ff,#0016ff,#00a1ff,#002cff,#0006ff,#00a2ff,#0ffff0,#0090ff,#0058ff,#00fbff,#00c9ff,#0066ff,#009fff,#06fff9,#00d7ff,#0049ff,#00cdff,#0035ff,#006aff,#00f6ff,#0033ff,#000eff,#00d2ff,#0efff1,#04fffb,#06fff9,#13ffec,#12ffed,#0efff1,#10ffef,#11ffee,#11ffee,#0075ff,#003cff,#0bfff4,#0efff1,#007fff,#003aff,#00edff,#14ffeb,#0ffff0,#14ffeb,#00e7ff,#000eff,#00efff,#19ffe6,#0029ff,#00d1ff,#19ffe6,#00b7ff,#000cff,#006fff,#0024ff,#0008ff,#001aff,#0085ff,#00ebff,#1affe5,#1cffe3,#1bffe4,#1affe5,#00cdff,#00e7ff,#1dffe2,#1dffe2,#1affe5,#00b6ff,#1effe1,#1effe1,#16ffe9,#00bdff,#18ffe7,#1bffe4,#00f9ff,#0046ff,#0000aa,#0000bd,#005eff,#0096ff,#00c5ff,#00d2ff,#0039ff,#0000e3,#0009ff,#00beff,#009cff,#0051ff,#001dff,#0000cd,#0000bb,#0000d3,#0032ff,#001fff,#001bff,#000bff,#0047ff,#00c8ff,#0048ff,#0000f7,#000aff,#007dff,#0002ff,#0000bf,#002aff,#00a1ff,#0000e7,#0067ff,#00eeff,#00e8ff,#0073ff,#009fff,#00f2ff,#00daff,#00e9ff,#00faff,#005aff,#002cff,#00e1ff,#0bfff4,#00a9ff,#0099ff,#0000c8,#0000a7,#0000e7,#0088ff,#12ffed,#1bffe4,#09fff6,#00daff,#00eeff,#00e5ff,#0069ff,#00aaff,#00feff,#00e4ff,#0082ff,#02fffd,#16ffe9,#0bfff4,#0afff5,#0afff5,#00d5ff,#0004ff,#0006ff,#00e3ff,#09fff6,#01fffe,#07fff8,#07fff8,#00d6ff,#000aff,#001fff,#00baff,#0000f3,#0038ff,#00feff,#05fffa,#04fffb,#00ffff,#007aff,#0000f0,#0023ff,#00eeff,#0085ff,#009aff,#00c9ff,#0000fa,#0000f6,#00bdff,#00ffff,#0093ff,#0000e9,#00adff,#00d6ff,#007bff,#00dbff,#0dfff2,#00ffff,#00fdff,#00fdff,#00fdff)"></div><div style="top:30px;background:linear-gradient(90deg,#44ffbb,#90ff6f,#ffca00,#ff9000,#ffc700,#8aff75,#00c5ff,#0043ff,#00ceff,#37ffc8,#0081ff,#0041ff,#0efff1,#3cffc3,#00efff,#0038ff,#007fff,#006eff,#0000f1,#0021ff,#00fcff,#00ddff,#0039ff,#00f7ff,#00c0ff,#0019ff,#0063ff,#00a8ff,#0056ff,#00cbff,#10ffef,#00d3ff,#00d4ff,#00f5ff,#0022ff,#0005ff,#00eaff,#22ffdd,#08fff7,#008bff,#00dcff,#0058ff,#0027ff,#00c7ff,#1fffe0,#00e1ff,#009eff,#18ffe7,#00f9ff,#00b8ff,#00abff,#00b6ff,#00b3ff,#0020ff,#00b4ff,#00dfff,#00f6ff,#18ffe7,#00abff,#0089ff,#0afff5,#20ffdf,#20ffdf,#20ffdf,#21ffde,#22ffdd,#22ffdd,#22ffdd,#23ffdc,#22ffdd,#0058ff,#0022ff,#17ffe8,#24ffdb,#00daff,#00a7ff,#15ffea,#27ffd8,#27ffd8,#28ffd7,#00e6ff,#0000ff,#00edff,#2affd5,#0028ff,#00d9ff,#2cffd3,#00ebff,#0045ff,#00b4ff,#0076ff,#00aeff,#17ffe8,#24ffdb,#25ffda,#1affe5,#00d8ff,#00bdff,#00f7ff,#00fdff,#13ffec,#2effd1,#2effd1,#2cffd3,#00c8ff,#2effd1,#2effd1,#2affd5,#00f7ff,#2bffd4,#2cffd3,#10ffef,#0069ff,#0000bd,#0000d7,#0080ff,#00d0ff,#00f7ff,#1fffe0,#0dfff2,#00cdff,#00a2ff,#00c6ff,#0038ff,#0000fc,#0000e3,#0000b6,#0000ab,#0000b2,#0000f0,#001fff,#0079ff,#009aff,#0086ff,#00d1ff,#0067ff,#0000e2,#0000e9,#0056ff,#0010ff,#0000d1,#001bff,#007eff,#0012ff,#00a1ff,#0afff5,#00fdff,#0091ff,#00e7ff,#20ffdf,#18ffe7,#24ffdb,#31ffce,#00cfff,#00a3ff,#1cffe3,#00dcff,#0038ff,#0066ff,#0000c9,#0000a7,#0000ec,#00d1ff,#39ffc6,#32ffcd,#13ffec,#00ecff,#00fdff,#00c5ff,#0011ff,#0002ff,#0024ff,#0070ff,#0031ff,#00ffff,#21ffde,#1fffe0,#1fffe0,#1fffe0,#08fff7,#006dff,#006dff,#09fff6,#1dffe2,#1bffe4,#1dffe2,#1cffe3,#00e5ff,#0007ff,#0000f5,#0012ff,#0000e8,#005fff,#12ffed,#1affe5,#1affe5,#17ffe8,#00a9ff,#0012ff,#0054ff,#04fffb,#005dff,#0078ff,#00f9ff,#0061ff,#0050ff,#00d0ff,#00e1ff,#00cfff,#0066ff,#00f4ff,#00a2ff,#0012ff,#00a7ff,#18ffe7,#15ffea,#15ffea,#15ffea,#15ffea)"></div><div style="top:32px;background:linear-gradient(90deg,#70ff8f,#c7ff38,#ffa400,#ff8600,#ffa400,#beff41,#4affb5,#09fff6,#4cffb3,#6aff95,#1dffe2,#00eaff,#45ffba,#4fffb0,#48ffb7,#00e1ff,#0dfff2,#00b0ff,#001aff,#0054ff,#18ffe7,#00caff,#001cff,#00f2ff,#00f7ff,#004fff,#0094ff,#0061ff,#0000fa,#0087ff,#23ffdc,#22ffdd,#24ffdb,#20ffdf,#0057ff,#002eff,#04fffb,#33ffcc,#31ffce,#00c4ff,#00e2ff,#00caff,#009dff,#0bfff4,#2bffd4,#00b5ff,#0051ff,#17ffe8,#00c6ff,#002dff,#0000c9,#0000bd,#0026ff,#000bff,#0092ff,#2cffd3,#2fffd0,#2fffd0,#1bffe4,#12ffed,#2effd1,#31ffce,#32ffcd,#32ffcd,#33ffcc,#33ffcc,#34ffcb,#34ffcb,#35ffca,#34ffcb,#0076ff,#003aff,#2cffd3,#37ffc8,#23ffdc,#0ffff0,#35ffca,#3affc5,#3affc5,#3bffc4,#0afff5,#001eff,#10ffef,#3cffc3,#0064ff,#09fff6,#3effc1,#24ffdb,#00b7ff,#05fffa,#00b5ff,#00ebff,#3fffc0,#41ffbe,#35ffca,#00b4ff,#0000e3,#0000b9,#0033ff,#00f5ff,#32ffcd,#3fffc0,#3fffc0,#3dffc2,#00f0ff,#3bffc4,#3cffc3,#3cffc3,#24ffdb,#3cffc3,#3dffc2,#3affc5,#1fffe0,#00b2ff,#00ebff,#22ffdd,#11ffee,#21ffde,#37ffc8,#36ffc9,#16ffe9,#00d0ff,#00a6ff,#0002ff,#0000d5,#0000c5,#0000aa,#0000a4,#0000a6,#0000c8,#0006ff,#0089ff,#00e3ff,#00bdff,#00d1ff,#004aff,#0000cc,#0000c9,#0005ff,#0009ff,#0003ff,#003aff,#0089ff,#0098ff,#04fffb,#2affd5,#00c3ff,#001dff,#00c5ff,#3dffc2,#33ffcc,#39ffc6,#54ffab,#44ffbb,#2dffd2,#00d2ff,#0000f0,#0000b8,#0016ff,#0054ff,#0002ff,#00c4ff,#48ffb7,#5cffa3,#1bffe4,#0051ff,#0000df,#0021ff,#0070ff,#0000db,#0000ab,#0000a7,#0003ff,#0000f9,#00f3ff,#2bffd4,#32ffcd,#32ffcd,#32ffcd,#2fffd0,#0afff5,#0afff5,#2dffd2,#1dffe2,#00faff,#05fffa,#26ffd9,#0bfff4,#0032ff,#0000e2,#0000a6,#0000ae,#0043ff,#19ffe6,#2effd1,#2dffd2,#23ffdc,#00f3ff,#009cff,#00d7ff,#27ffd8,#004eff,#0068ff,#1cffe3,#00c3ff,#009bff,#002fff,#0000db,#0029ff,#009cff,#1affe5,#0084ff,#0000f9,#0086ff,#25ffda,#29ffd6,#29ffd6,#29ffd6,#29ffd6)"></div><div style="top:34px;background:linear-gradient(90deg,#96ff69,#e8ff17,#ff9600,#ff8600,#ff9800,#e5ff1a,#91ff6e,#86ff79,#8fff70,#90ff6f,#77ff88,#00f0ff,#004fff,#0054ff,#00f7ff,#00ebff,#2affd5,#0cfff3,#0080ff,#00b8ff,#3fffc0,#00e1ff,#0024ff,#00f6ff,#28ffd7,#00b0ff,#00ddff,#0046ff,#0000eb,#006bff,#2cffd3,#45ffba,#48ffb7,#47ffb8,#0bfff4,#00e1ff,#32ffcd,#40ffbf,#41ffbe,#008eff,#00a3ff,#2affd5,#1cffe3,#20ffdf,#00c5ff,#0028ff,#0000f5,#00fcff,#008fff,#0003ff,#0000c4,#0000be,#002dff,#0014ff,#00a3ff,#40ffbf,#41ffbe,#41ffbe,#41ffbe,#41ffbe,#43ffbc,#44ffbb,#44ffbb,#45ffba,#45ffba,#46ffb9,#46ffb9,#47ffb8,#47ffb8,#47ffb8,#00cfff,#0097ff,#44ffbb,#49ffb6,#47ffb8,#44ffbb,#4bffb4,#4bffb4,#47ffb8,#38ffc7,#29ffd6,#008bff,#11ffee,#4bffb4,#00e5ff,#3effc1,#50ffaf,#4affb5,#25ffda,#3fffc0,#00f0ff,#1affe5,#51ffae,#52ffad,#47ffb8,#00c0ff,#0000e6,#0000ba,#0039ff,#0ffff0,#4affb5,#50ffaf,#4fffb0,#45ffba,#00daff,#00a5ff,#00c6ff,#29ffd6,#43ffbc,#4dffb2,#4dffb2,#4dffb2,#4cffb3,#3effc1,#4bffb4,#4bffb4,#39ffc6,#40ffbf,#4affb5,#4affb5,#39ffc6,#00e1ff,#00b0ff,#0002ff,#0000d1,#0000be,#0000a7,#0000a4,#0000a4,#0000b9,#0000fd,#0088ff,#00dfff,#00a2ff,#00adff,#0005ff,#0000b9,#0000b1,#0000bc,#0000cb,#0000ee,#004bff,#00acff,#00f0ff,#2affd5,#37ffc8,#00b4ff,#0010ff,#00b6ff,#00f1ff,#0052ff,#0039ff,#00d1ff,#62ff9d,#67ff98,#00a5ff,#0000b8,#0000a6,#0000f2,#00deff,#00aeff,#4effb1,#6dff92,#70ff8f,#08fff7,#0006ff,#0000a6,#0000d7,#005dff,#0000fb,#0000f4,#002cff,#0047ff,#0000df,#006bff,#00ddff,#31ffce,#3effc1,#3effc1,#3effc1,#3cffc3,#3cffc3,#1effe1,#0076ff,#0000e7,#0005ff,#00bdff,#27ffd8,#00b6ff,#006fff,#0029ff,#0004ff,#008cff,#34ffcb,#3affc5,#12ffed,#007cff,#001fff,#0063ff,#00feff,#37ffc8,#0057ff,#0072ff,#01fffe,#0061ff,#005cff,#0000ea,#0000a6,#0000e1,#0031ff,#03fffc,#00acff,#0011ff,#00a7ff,#32ffcd,#37ffc8,#37ffc8,#37ffc8,#37ffc8)"></div><div style="top:36px;background:linear-gradient(90deg,#b5ff4a,#f8ff07,#ff9700,#ff8600,#ff9d00,#f4ff0b,#b2ff4d,#b0ff4f,#afff50,#acff53,#7cff83,#0071ff,#0000ac,#0000af,#006dff,#006dff,#00d8ff,#60ff9f,#0efff1,#2effd1,#65ff9a,#00f7ff,#000aff,#0022ff,#0091ff,#00f5ff,#2affd5,#007dff,#0007ff,#0087ff,#00ebff,#15ffea,#48ffb7,#54ffab,#1cffe3,#008cff,#11ffee,#48ffb7,#47ffb8,#0057ff,#006bff,#44ffbb,#3dffc2,#00c5ff,#0000e2,#0000a7,#0000b6,#00b6ff,#006dff,#001bff,#005eff,#00cdff,#00e4ff,#0042ff,#00d5ff,#4fffb0,#25ffda,#00deff,#00edff,#38ffc7,#55ffaa,#57ffa8,#57ffa8,#58ffa7,#58ffa7,#58ffa7,#59ffa6,#59ffa6,#59ffa6,#5affa5,#34ffcb,#19ffe6,#5affa5,#5bffa4,#5bffa4,#5cffa3,#5cffa3,#4fffb0,#00daff,#0040ff,#0031ff,#0000c9,#0000c4,#09fff6,#4bffb4,#5effa1,#60ff9f,#60ff9f,#5affa5,#5cffa3,#26ffd9,#41ffbe,#61ff9e,#61ff9e,#60ff9f,#4bffb4,#00ffff,#00e1ff,#24ffdb,#57ffa8,#5fffa0,#60ff9f,#5effa1,#20ffdf,#002cff,#0000ae,#0000d0,#00afff,#4dffb2,#5dffa2,#51ffae,#46ffb9,#51ffae,#5bffa4,#5dffa2,#5dffa2,#55ffaa,#58ffa7,#5bffa4,#46ffb9,#0bfff4,#00b3ff,#00ddff,#0037ff,#0000ef,#0000cb,#0000ab,#0000a4,#0000a6,#0000be,#000fff,#009cff,#00c6ff,#005bff,#0070ff,#0000d4,#0000ac,#0000a5,#0000a5,#0000ab,#0000c3,#0017ff,#0084ff,#00dcff,#24ffdb,#3bffc4,#0afff5,#0070ff,#00f9ff,#0083ff,#0000b7,#0000a6,#003aff,#44ffbb,#86ff79,#52ffad,#0089ff,#0000f7,#0084ff,#6fff90,#52ffad,#87ff78,#80ff7f,#7eff81,#5affa5,#00e1ff,#0081ff,#00b5ff,#00c4ff,#0030ff,#008fff,#22ffdd,#0058ff,#0000b0,#0000aa,#000eff,#00f6ff,#41ffbe,#43ffbc,#43ffbc,#43ffbc,#42ffbd,#0efff1,#002fff,#0000aa,#0000be,#0086ff,#2effd1,#26ffd9,#26ffd9,#23ffdc,#004eff,#0096ff,#40ffbf,#3dffc2,#00d7ff,#0000e8,#0000a4,#0000d8,#00c1ff,#39ffc6,#007dff,#0096ff,#00ccff,#000bff,#0033ff,#00abff,#0075ff,#0099ff,#000bff,#00d8ff,#04fffb,#008cff,#00fbff,#3dffc2,#3fffc0,#3fffc0,#3fffc0,#3fffc0)"></div><div style="top:38px;background:linear-gradient(90deg,#d3ff2c,#fffe00,#ffa700,#ff8e00,#ffb900,#f8ff07,#ceff31,#ccff33,#caff35,#c8ff37,#b5ff4a,#24ffdb,#0062ff,#0067ff,#00f1ff,#003eff,#009aff,#94ff6b,#7aff85,#82ff7d,#8aff75,#00e5ff,#0000d1,#0000a4,#0000f3,#00f2ff,#60ff9f,#00edff,#0066ff,#003eff,#0000d1,#0000fc,#00d0ff,#51ffae,#00c4ff,#0000fd,#00b4ff,#4effb1,#4cffb3,#004eff,#0062ff,#49ffb6,#46ffb9,#00e7ff,#0013ff,#0000b6,#0000c0,#00c8ff,#0063ff,#0021ff,#008aff,#4bffb4,#3bffc4,#009bff,#19ffe6,#3bffc4,#0065ff,#0000c1,#0000d7,#0094ff,#05fffa,#2bffd4,#5effa1,#6aff95,#6bff94,#6bff94,#67ff98,#60ff9f,#64ff9b,#6bff94,#67ff98,#63ff9c,#6cff93,#64ff9b,#55ffaa,#5cffa3,#6aff95,#44ffbb,#0059ff,#0000ab,#0000ae,#0005ff,#005bff,#4dffb2,#6eff91,#6fff90,#70ff8f,#70ff8f,#70ff8f,#6eff91,#4effb1,#5fffa0,#70ff8f,#70ff8f,#70ff8f,#70ff8f,#6fff90,#6fff90,#6fff90,#6eff91,#69ff96,#69ff96,#6dff92,#3fffc0,#0068ff,#0000d5,#0003ff,#00dfff,#62ff9d,#3bffc4,#008eff,#0030ff,#0090ff,#3bffc4,#6cff93,#6eff91,#6bff94,#6cff93,#57ffa8,#00a9ff,#0000e7,#0000d3,#0086ff,#00a8ff,#0048ff,#0000f6,#0000bf,#0000af,#0000b5,#0000db,#0040ff,#00c9ff,#00b6ff,#0026ff,#003aff,#0000c4,#0000a8,#0000a4,#0000a4,#0000a6,#0000b7,#0000fb,#0067ff,#00d0ff,#21ffde,#3cffc3,#31ffce,#00b7ff,#19ffe6,#00f6ff,#0055ff,#003bff,#00d6ff,#6dff92,#8eff71,#98ff67,#67ff98,#00b9ff,#2effd1,#abff54,#a3ff5c,#a5ff5a,#99ff66,#87ff78,#76ff89,#63ff9c,#52ffad,#4cffb3,#11ffee,#0081ff,#00e0ff,#3fffc0,#008dff,#0000c4,#0000c8,#003fff,#0cfff3,#45ffba,#47ffb8,#46ffb9,#46ffb9,#46ffb9,#3cffc3,#00e9ff,#0081ff,#009bff,#11ffee,#43ffbc,#44ffbb,#44ffbb,#36ffc9,#002cff,#006dff,#43ffbc,#44ffbb,#1bffe4,#007cff,#000eff,#0036ff,#00ccff,#35ffca,#00bfff,#00d4ff,#00deff,#0019ff,#0050ff,#29ffd6,#3effc1,#10ffef,#0011ff,#00d9ff,#3bffc4,#1bffe4,#39ffc6,#44ffbb,#44ffbb,#44ffbb,#44ffbb,#44ffbb)"></div><div style="top:40px;background:linear-gradient(90deg,#eeff11,#fff700,#ffcb00,#ffb200,#fff400,#faff05,#e7ff18,#e5ff1a,#e3ff1c,#e0ff1f,#ddff22,#d3ff2c,#bcff43,#b8ff47,#7dff82,#004bff,#00a8ff,#b2ff4d,#afff50,#abff54,#a5ff5a,#5fffa0,#0090ff,#0039ff,#00a4ff,#53ffac,#7fff80,#22ffdd,#009cff,#002aff,#0000ae,#0000ce,#008aff,#00d8ff,#0088ff,#0000f6,#00a3ff,#57ffa8,#52ffad,#0077ff,#008bff,#4effb1,#4fffb0,#47ffb8,#1bffe4,#005bff,#0005ff,#10ffef,#007dff,#002cff,#00a4ff,#5bffa4,#60ff9f,#0cfff3,#55ffaa,#4bffb4,#006cff,#0000c3,#0000d3,#0013ff,#0000d2,#000dff,#00f4ff,#75ff8a,#7dff82,#63ff9c,#00ddff,#006fff,#00afff,#46ffb9,#78ff87,#7aff85,#5dffa2,#00c1ff,#0039ff,#0070ff,#26ffd9,#69ff96,#00f0ff,#004bff,#0051ff,#00fcff,#6fff90,#7cff83,#7dff82,#7dff82,#7dff82,#7dff82,#71ff8e,#2dffd2,#00e8ff,#20ffdf,#6eff91,#7dff82,#7eff81,#7eff81,#7eff81,#7eff81,#78ff87,#2fffd0,#00adff,#00aaff,#2affd5,#73ff8c,#57ffa8,#25ffda,#39ffc6,#6eff91,#76ff89,#00f7ff,#0000e8,#0000a4,#0000ea,#00f9ff,#77ff88,#7dff82,#7dff82,#7dff82,#5dffa2,#0084ff,#0000bc,#0000b4,#0072ff,#16ffe9,#00c4ff,#004cff,#0000fb,#0000de,#0000e9,#0024ff,#0095ff,#0bfff4,#00bdff,#000fff,#0018ff,#0000cd,#0000b1,#0000a6,#0000a5,#0000ab,#0000c3,#000aff,#0076ff,#00e1ff,#28ffd7,#3effc1,#1fffe0,#0067ff,#00ecff,#54ffab,#4fffb0,#55ffaa,#70ff8f,#83ff7c,#8fff70,#9aff65,#97ff68,#57ffa8,#8fff70,#b9ff46,#b6ff49,#aeff51,#a0ff5f,#8fff70,#7cff83,#6cff93,#5effa1,#55ffaa,#3cffc3,#00f0ff,#25ffda,#4affb5,#0bfff4,#0069ff,#00e4ff,#23ffdc,#46ffb9,#4affb5,#4affb5,#4affb5,#4affb5,#4affb5,#49ffb6,#48ffb7,#43ffbc,#44ffbb,#48ffb7,#49ffb6,#49ffb6,#48ffb7,#36ffc9,#0023ff,#0062ff,#46ffb9,#48ffb7,#44ffbb,#00e8ff,#000bff,#0000b6,#0000ff,#00e0ff,#05fffa,#16ffe9,#28ffd7,#00a6ff,#00d8ff,#43ffbc,#49ffb6,#32ffcd,#0060ff,#12ffed,#49ffb6,#47ffb8,#48ffb7,#49ffb6,#49ffb6,#48ffb7,#48ffb7,#48ffb7)"></div><div style="top:42px;background:linear-gradient(90deg,#fffc00,#fff100,#fff800,#f9ff06,#bcff43,#fdff02,#f9ff06,#f6ff09,#f4ff0b,#f1ff0e,#eeff11,#ebff14,#e7ff18,#e2ff1d,#b2ff4d,#00a3ff,#0afff5,#c8ff37,#c5ff3a,#c0ff3f,#baff45,#afff50,#5effa1,#00b1ff,#007cff,#00fdff,#79ff86,#00f1ff,#007bff,#00dcff,#00acff,#00acff,#002bff,#0000ba,#0000e5,#003dff,#09fff6,#5bffa4,#57ffa8,#00d0ff,#00e0ff,#51ffae,#52ffad,#53ffac,#54ffab,#00c9ff,#0057ff,#34ffcb,#00b8ff,#005bff,#00daff,#66ff99,#71ff8e,#5cffa3,#79ff86,#81ff7e,#55ffaa,#06fff9,#00ddff,#002bff,#0000ae,#0000dc,#00dbff,#82ff7d,#8bff74,#29ffd6,#000fff,#0000a5,#0000d4,#00d6ff,#74ff8b,#7cff83,#2dffd2,#001eff,#0000a4,#0000c5,#00baff,#70ff8f,#7aff85,#6aff95,#6cff93,#7cff83,#82ff7d,#82ff7d,#83ff7c,#83ff7c,#83ff7c,#80ff7f,#21ffde,#0020ff,#0000b9,#000eff,#0ffff0,#80ff7f,#86ff79,#86ff79,#86ff79,#86ff79,#63ff9c,#007dff,#0000b5,#0000b2,#0072ff,#5fffa0,#87ff78,#87ff78,#87ff78,#88ff77,#86ff79,#51ffae,#009cff,#0038ff,#009dff,#53ffac,#87ff78,#88ff77,#88ff77,#88ff77,#84ff7b,#4affb5,#00d8ff,#00a2ff,#45ffba,#6fff90,#2fffd0,#00c6ff,#0070ff,#004aff,#0059ff,#009aff,#00fdff,#48ffb7,#00d9ff,#0012ff,#000dff,#0000f9,#0000da,#0000c2,#0000bf,#0000cd,#0000f6,#0046ff,#00adff,#05fffa,#32ffcd,#3dffc2,#05fffa,#0032ff,#00baff,#4effb1,#4cffb3,#4dffb2,#5dffa2,#75ff8a,#89ff76,#97ff68,#a1ff5e,#9fff60,#b0ff4f,#baff45,#b9ff46,#b2ff4d,#a5ff5a,#94ff6b,#83ff7c,#73ff8c,#66ff99,#5dffa2,#54ffab,#3effc1,#4bffb4,#52ffad,#3effc1,#00f5ff,#48ffb7,#4fffb0,#45ffba,#38ffc7,#41ffbe,#4cffb3,#4dffb2,#4dffb2,#4cffb3,#4cffb3,#4bffb4,#49ffb6,#49ffb6,#4affb5,#49ffb6,#49ffb6,#3affc5,#0034ff,#0076ff,#47ffb8,#49ffb6,#47ffb8,#00f3ff,#0012ff,#0000b6,#0001ff,#00e3ff,#36ffc9,#40ffbf,#4dffb2,#39ffc6,#43ffbc,#50ffaf,#50ffaf,#4cffb3,#02fffd,#44ffbb,#4effb1,#4effb1,#4dffb2,#4dffb2,#4dffb2,#4cffb3,#4cffb3,#4cffb3)"></div><div style="top:44px;background:linear-gradient(90deg,#fff000,#ffed00,#eeff11,#92ff6d,#90ff6f,#fffa00,#fffb00,#fffe00,#fdff02,#faff05,#f7ff08,#f4ff0b,#f0ff0f,#ecff13,#dcff23,#53ffac,#90ff6f,#ceff31,#9eff61,#83ff7c,#a9ff56,#b3ff4c,#00edff,#0000d0,#0000a5,#0028ff,#43ffbc,#00afff,#003bff,#00f8ff,#60ff9f,#30ffcf,#003aff,#0000ba,#0000f0,#00beff,#4dffb2,#5affa5,#58ffa7,#29ffd6,#2fffd0,#53ffac,#53ffac,#54ffab,#56ffa9,#10ffef,#00c0ff,#46ffb9,#00eeff,#00a9ff,#16ffe9,#6aff95,#74ff8b,#79ff86,#87ff78,#91ff6e,#99ff66,#9dff62,#94ff6b,#3cffc3,#00d7ff,#07fff8,#7cff83,#a0ff5f,#9cff63,#63ff9c,#0090ff,#0008ff,#004fff,#1fffe0,#74ff8b,#77ff88,#5affa5,#00bfff,#0039ff,#006fff,#26ffd9,#77ff88,#7cff83,#7dff82,#7eff81,#7fff80,#80ff7f,#80ff7f,#81ff7e,#82ff7d,#83ff7c,#80ff7f,#21ffde,#0021ff,#0000b9,#000eff,#10ffef,#82ff7d,#88ff77,#89ff76,#89ff76,#89ff76,#75ff8a,#00cdff,#0005ff,#0001ff,#00c4ff,#74ff8b,#8cff73,#8dff72,#8dff72,#8dff72,#8eff71,#8cff73,#80ff7f,#74ff8b,#81ff7e,#8dff72,#8fff70,#8fff70,#8fff70,#8fff70,#8fff70,#8fff70,#8cff73,#5dffa2,#93ff6c,#91ff6e,#79ff86,#42ffbd,#06fff9,#00e6ff,#00f1ff,#20ffdf,#53ffac,#69ff96,#01fffe,#0031ff,#0024ff,#0054ff,#003fff,#001dff,#0017ff,#002dff,#005fff,#00a8ff,#00f2ff,#22ffdd,#34ffcb,#37ffc8,#00f5ff,#0025ff,#009aff,#10ffef,#00daff,#00bfff,#00d6ff,#18ffe7,#5effa1,#86ff79,#99ff66,#a6ff59,#b0ff4f,#b5ff4a,#b6ff49,#b0ff4f,#a6ff59,#98ff67,#89ff76,#7cff83,#70ff8f,#68ff97,#62ff9d,#5dffa2,#5dffa2,#5cffa3,#57ffa8,#41ffbe,#56ffa9,#30ffcf,#0093ff,#0029ff,#0072ff,#17ffe8,#4fffb0,#50ffaf,#4fffb0,#49ffb6,#1bffe4,#00d5ff,#00e6ff,#2effd1,#46ffb9,#47ffb8,#3dffc2,#0066ff,#00a8ff,#46ffb9,#48ffb7,#49ffb6,#40ffbf,#05fffa,#00d1ff,#01fffe,#43ffbc,#4fffb0,#52ffad,#56ffa9,#57ffa8,#58ffa7,#58ffa7,#58ffa7,#57ffa8,#50ffaf,#55ffaa,#54ffab,#53ffac,#52ffad,#51ffae,#50ffaf,#50ffaf,#4fffb0,#4fffb0)"></div><div style="top:46px;background:linear-gradient(90deg,#ffe500,#ffe600,#ffff00,#83ff7c,#b6ff49,#fff100,#fff300,#fff600,#fffa00,#fffd00,#feff01,#faff05,#f7ff08,#f3ff0c,#efff10,#d1ff2e,#d4ff2b,#56ffa9,#0046ff,#0000f9,#00a1ff,#94ff6b,#58ffa7,#0060ff,#0018ff,#00baff,#7dff82,#0092ff,#002bff,#00e1ff,#72ff8d,#7aff85,#36ffc9,#00eaff,#08fff7,#4bffb4,#59ffa6,#4bffb4,#40ffbf,#44ffbb,#4effb1,#54ffab,#54ffab,#55ffaa,#56ffa9,#3fffc0,#0dfff2,#00c7ff,#002dff,#0031ff,#00e3ff,#61ff9e,#74ff8b,#80ff7f,#8eff71,#9cff63,#a7ff58,#b0ff4f,#b5ff4a,#b6ff49,#b4ff4b,#b5ff4a,#b6ff49,#b2ff4d,#abff54,#9fff60,#7fff80,#59ffa6,#5fffa0,#70ff8f,#70ff8f,#6eff91,#6dff92,#65ff9a,#57ffa8,#60ff9f,#6fff90,#73ff8c,#75ff8a,#76ff89,#78ff87,#79ff86,#7bff84,#7cff83,#7eff81,#7fff80,#80ff7f,#82ff7d,#77ff88,#33ffcc,#00f8ff,#2dffd2,#78ff87,#88ff77,#89ff76,#8aff75,#8aff75,#8bff74,#8bff74,#7bff84,#51ffae,#51ffae,#7cff83,#8eff71,#8fff70,#90ff6f,#91ff6e,#91ff6e,#92ff6d,#92ff6d,#93ff6c,#93ff6c,#94ff6b,#94ff6b,#94ff6b,#94ff6b,#94ff6b,#94ff6b,#95ff6a,#95ff6a,#96ff69,#82ff7d,#9dff62,#a1ff5e,#a0ff5f,#94ff6b,#7eff81,#6fff90,#71ff8e,#7cff83,#7eff81,#6fff90,#24ffdb,#0077ff,#0069ff,#00c4ff,#00c2ff,#00a7ff,#00a2ff,#00b3ff,#00d6ff,#00feff,#1dffe2,#2bffd4,#2fffd0,#30ffcf,#00f8ff,#0028ff,#0082ff,#008bff,#002dff,#0007ff,#001aff,#0068ff,#00e5ff,#50ffaf,#82ff7d,#9aff65,#a9ff56,#b0ff4f,#b1ff4e,#aeff51,#a6ff59,#9cff63,#90ff6f,#85ff7a,#74ff8b,#4affb5,#2fffd0,#4effb1,#66ff99,#67ff98,#65ff9a,#60ff9f,#5dffa2,#00f7ff,#0000f6,#0000a4,#0000d4,#00c6ff,#4cffb3,#53ffac,#50ffaf,#22ffdd,#004fff,#0000bd,#0000d8,#00a1ff,#36ffc9,#43ffbc,#3fffc0,#00b6ff,#00e9ff,#44ffbb,#47ffb8,#49ffb6,#4bffb4,#4dffb2,#4fffb0,#52ffad,#55ffaa,#58ffa7,#5affa5,#5dffa2,#5fffa0,#60ff9f,#61ff9e,#61ff9e,#60ff9f,#5effa1,#5cffa3,#5affa5,#59ffa6,#57ffa8,#55ffaa,#54ffab,#53ffac,#52ffad,#52ffad)"></div><div style="top:48px;background:linear-gradient(90deg,#ffdb00,#ffdc00,#ffe400,#dbff24,#fdff02,#ffe600,#ffea00,#ffed00,#fff100,#fff500,#fff800,#fffc00,#ffff00,#fdff02,#faff05,#f6ff09,#e5ff1a,#17ffe8,#0000de,#0000a9,#003cff,#84ff7b,#deff21,#beff41,#aaff55,#c6ff39,#bfff40,#00a4ff,#0033ff,#00f0ff,#82ff7d,#8bff74,#7eff81,#70ff8f,#65ff9a,#5cffa3,#1fffe0,#0075ff,#0029ff,#0091ff,#2dffd2,#54ffab,#55ffaa,#55ffaa,#55ffaa,#50ffaf,#18ffe7,#003bff,#0000a7,#0000b2,#0078ff,#4cffb3,#71ff8e,#80ff7f,#91ff6e,#a2ff5d,#b0ff4f,#baff45,#c0ff3f,#c3ff3c,#c4ff3b,#c3ff3c,#c1ff3e,#bcff43,#b3ff4c,#a6ff59,#97ff68,#86ff79,#78ff87,#6dff92,#66ff99,#63ff9c,#63ff9c,#64ff9b,#66ff99,#68ff97,#6aff95,#6cff93,#6eff91,#71ff8e,#73ff8c,#76ff89,#79ff86,#7bff84,#7eff81,#80ff7f,#82ff7d,#84ff7b,#86ff79,#87ff78,#86ff79,#88ff77,#89ff76,#8aff75,#8aff75,#8bff74,#8bff74,#8cff73,#8dff72,#8eff71,#8eff71,#8fff70,#90ff6f,#91ff6e,#92ff6d,#93ff6c,#93ff6c,#94ff6b,#95ff6a,#96ff69,#97ff68,#97ff68,#95ff6a,#77ff88,#49ffb6,#5effa1,#8fff70,#9cff63,#9eff61,#9fff60,#a1ff5e,#9dff62,#aaff55,#b0ff4f,#b7ff48,#bbff44,#bcff43,#b8ff47,#b2ff4d,#a5ff5a,#8eff71,#70ff8f,#3fffc0,#00d0ff,#00c4ff,#0bfff4,#11ffee,#08fff7,#06fff9,#0dfff2,#18ffe7,#21ffde,#27ffd8,#29ffd6,#2bffd4,#2dffd2,#0cfff3,#004bff,#0069ff,#0016ff,#0000c6,#0000b1,#0000b8,#0000e6,#0058ff,#00ecff,#4effb1,#81ff7e,#9eff61,#aaff55,#aeff51,#adff52,#a8ff57,#a1ff5e,#99ff66,#8cff73,#1effe1,#0036ff,#0000e9,#006aff,#3effc1,#73ff8c,#71ff8e,#6dff92,#69ff96,#3fffc0,#009aff,#002dff,#0078ff,#1fffe0,#57ffa8,#57ffa8,#53ffac,#24ffdb,#0050ff,#0000bd,#0000d8,#00a1ff,#35ffca,#42ffbd,#40ffbf,#04fffb,#1fffe0,#44ffbb,#48ffb7,#4bffb4,#4fffb0,#53ffac,#57ffa8,#5affa5,#5dffa2,#60ff9f,#63ff9c,#66ff99,#68ff97,#6aff95,#6bff94,#6aff95,#68ff97,#66ff99,#64ff9b,#61ff9e,#5effa1,#5bffa4,#59ffa6,#57ffa8,#55ffaa,#54ffab,#54ffab)"></div><div style="top:50px;background:linear-gradient(90deg,#ffd000,#ffd100,#ffd300,#ffe000,#ffdb00,#ffda00,#ffde00,#ffe100,#ffe400,#ffe800,#ffeb00,#ffee00,#fff000,#fff200,#fff400,#fff600,#fffb00,#c9ff36,#20ffdf,#00dcff,#61ff9e,#e6ff19,#fbff04,#f9ff06,#f6ff09,#f1ff0e,#dbff24,#00e7ff,#0061ff,#27ffd8,#99ff66,#97ff68,#87ff78,#77ff88,#6aff95,#59ffa6,#00cbff,#0000d5,#0000a4,#0000f3,#00efff,#51ffae,#55ffaa,#54ffab,#54ffab,#53ffac,#41ffbe,#00c6ff,#0036ff,#004aff,#00f0ff,#57ffa8,#6aff95,#78ff87,#87ff78,#97ff68,#a4ff5b,#adff52,#b3ff4c,#b6ff49,#b7ff48,#b7ff48,#b5ff4a,#b0ff4f,#a7ff58,#9bff64,#8bff74,#7cff83,#6eff91,#63ff9c,#5cffa3,#5affa5,#59ffa6,#5affa5,#5cffa3,#5fffa0,#62ff9d,#66ff99,#6bff94,#70ff8f,#75ff8a,#7aff85,#80ff7f,#85ff7a,#8aff75,#78ff87,#42ffbd,#3fffc0,#7aff85,#95ff6a,#95ff6a,#93ff6c,#90ff6f,#8eff71,#8dff72,#8cff73,#8bff74,#89ff76,#85ff7a,#8aff75,#8eff71,#8fff70,#90ff6f,#91ff6e,#92ff6d,#92ff6d,#93ff6c,#94ff6b,#95ff6a,#96ff69,#97ff68,#98ff67,#68ff97,#0085ff,#0000e5,#001fff,#18ffe7,#a5ff5a,#b3ff4c,#b7ff48,#bbff44,#beff41,#c5ff3a,#ccff33,#d4ff2b,#dbff24,#dfff20,#deff21,#d4ff2b,#c0ff3f,#a2ff5d,#80ff7f,#5bffa4,#21ffde,#13ffec,#2cffd3,#2dffd2,#2bffd4,#2cffd3,#2dffd2,#2fffd0,#31ffce,#32ffcd,#33ffcc,#35ffca,#38ffc7,#2affd5,#0096ff,#005fff,#0000e1,#0000aa,#0000a4,#0000a5,#0000b9,#0001ff,#007eff,#00f0ff,#49ffb6,#8aff75,#a6ff59,#adff52,#aeff51,#aeff51,#acff53,#aaff55,#9cff63,#00f7ff,#0000e0,#0000a7,#0018ff,#2fffd0,#87ff78,#83ff7c,#7bff84,#75ff8a,#6fff90,#61ff9e,#50ffaf,#57ffa8,#60ff9f,#5fffa0,#5cffa3,#59ffa6,#51ffae,#21ffde,#00d8ff,#00e9ff,#2fffd0,#42ffbd,#3fffc0,#42ffbd,#34ffcb,#3fffc0,#4cffb3,#52ffad,#58ffa7,#5effa1,#64ff9b,#69ff96,#6dff92,#6cff93,#6cff93,#73ff8c,#77ff88,#78ff87,#78ff87,#77ff88,#76ff89,#73ff8c,#6fff90,#6bff94,#67ff98,#63ff9c,#60ff9f,#5cffa3,#59ffa6,#57ffa8,#56ffa9,#55ffaa)"></div><div style="top:52px;background:linear-gradient(90deg,#ffc500,#ffc600,#ffc700,#ffc900,#ffca00,#ffcc00,#ffce00,#ffd100,#ffd300,#ffd500,#ffd800,#ffda00,#ffdc00,#ffde00,#ffe000,#ffe200,#ffe400,#ffe700,#ffee00,#fff400,#ffef00,#ffee00,#fff000,#fff200,#fff600,#fffb00,#f4ff0b,#54ffab,#00d3ff,#76ff89,#b9ff46,#a6ff59,#93ff6c,#81ff7e,#72ff8d,#65ff9a,#23ffdc,#0077ff,#002aff,#0092ff,#2effd1,#54ffab,#4effb1,#38ffc7,#32ffcd,#47ffb8,#50ffaf,#4affb5,#3bffc4,#3effc1,#4effb1,#56ffa9,#5dffa2,#66ff99,#71ff8e,#7cff83,#85ff7a,#8bff74,#8fff70,#92ff6d,#93ff6c,#92ff6d,#91ff6e,#8dff72,#87ff78,#7eff81,#74ff8b,#68ff97,#5effa1,#57ffa8,#52ffad,#4fffb0,#39ffc6,#01fffe,#00faff,#37ffc8,#59ffa6,#62ff9d,#6aff95,#73ff8c,#7cff83,#87ff78,#91ff6e,#9bff64,#8eff71,#00d6ff,#0000f5,#0000eb,#00beff,#92ff6d,#acff53,#a5ff5a,#9dff62,#96ff69,#90ff6f,#8cff73,#6fff90,#00f2ff,#009cff,#00ecff,#6cff93,#8cff73,#8eff71,#8eff71,#8eff71,#87ff78,#6eff91,#6dff92,#87ff78,#92ff6d,#95ff6a,#97ff68,#51ffae,#003cff,#0000ac,#0000d6,#00eeff,#bcff43,#d5ff2a,#dcff23,#e2ff1d,#e6ff19,#e6ff19,#edff12,#faff05,#fffd00,#fffa00,#fffc00,#f6ff09,#e1ff1e,#c3ff3c,#a1ff5e,#80ff7f,#5fffa0,#4effb1,#4cffb3,#49ffb6,#48ffb7,#48ffb7,#49ffb6,#49ffb6,#4affb5,#4bffb4,#4cffb3,#4effb1,#50ffaf,#4cffb3,#00f2ff,#0077ff,#0000e0,#0000aa,#0000a4,#0000a5,#0000b0,#0000d4,#000dff,#0047ff,#00a4ff,#31ffce,#95ff6a,#afff50,#b4ff4b,#b7ff48,#bcff43,#c2ff3d,#c6ff39,#9dff62,#08fff7,#00beff,#2cffd3,#9fff60,#a7ff58,#95ff6a,#85ff7a,#7eff81,#79ff86,#74ff8b,#70ff8f,#6cff93,#69ff96,#66ff99,#63ff9c,#60ff9f,#5dffa2,#59ffa6,#55ffaa,#51ffae,#28ffd7,#00afff,#007fff,#00dbff,#3cffc3,#53ffac,#5cffa3,#65ff9a,#6fff90,#79ff86,#82ff7d,#87ff78,#5cffa3,#00d5ff,#00a3ff,#12ffed,#7dff82,#8dff72,#8bff74,#87ff78,#84ff7b,#7fff80,#7aff85,#74ff8b,#6fff90,#69ff96,#64ff9b,#5fffa0,#5bffa4,#59ffa6,#57ffa8,#56ffa9)"></div><div style="top:54px;background:linear-gradient(90deg,#ffb900,#ffba00,#ffba00,#ffbb00,#ffbc00,#ffbd00,#ffbe00,#ffc000,#ffc100,#ffc200,#ffc300,#ffc500,#ffc700,#ffc900,#ffcb00,#ffcd00,#ffcf00,#ffd200,#ffd400,#ffd600,#ffd900,#ffdb00,#ffdd00,#ffe000,#ffe400,#ffe900,#fff400,#beff41,#69ff96,#bcff43,#c9ff36,#b4ff4b,#9fff60,#8cff73,#7bff84,#6eff91,#63ff9c,#50ffaf,#43ffbc,#4dffb2,#55ffaa,#4cffb3,#00e1ff,#0030ff,#0014ff,#00a5ff,#37ffc8,#4cffb3,#4bffb4,#4bffb4,#4bffb4,#4cffb3,#4effb1,#52ffad,#57ffa8,#5cffa3,#60ff9f,#63ff9c,#65ff9a,#66ff99,#67ff98,#67ff98,#66ff99,#64ff9b,#59ffa6,#3affc5,#31ffce,#46ffb9,#4dffb2,#4affb5,#48ffb7,#35ffca,#0099ff,#0000de,#0000d1,#0077ff,#35ffca,#5dffa2,#69ff96,#77ff88,#85ff7a,#95ff6a,#a4ff5b,#b3ff4c,#a0ff5f,#00b4ff,#0000c4,#0000bb,#0097ff,#a3ff5c,#c6ff39,#b8ff47,#aaff55,#9eff61,#94ff6b,#89ff76,#10ffef,#0000fb,#0000a6,#0000f1,#03fffc,#83ff7c,#8aff75,#8aff75,#7dff82,#00f7ff,#0037ff,#002bff,#00dfff,#7aff85,#92ff6d,#98ff67,#94ff6b,#3bffc4,#00d1ff,#0cfff3,#a8ff57,#eaff15,#faff05,#fff900,#fffa00,#a4ff5b,#00ffff,#0bfff4,#bdff42,#ffdc00,#ffd300,#ffd800,#ffe500,#fffa00,#e6ff19,#c6ff39,#a6ff59,#8bff74,#79ff86,#6fff90,#6aff95,#68ff97,#67ff98,#67ff98,#68ff97,#68ff97,#69ff96,#69ff96,#6aff95,#6cff93,#6cff93,#40ffbf,#0097ff,#0000f6,#0000be,#0000ab,#0000aa,#0000b0,#0000b8,#0000bc,#0000c3,#0000ec,#0078ff,#4affb5,#abff54,#baff45,#c2ff3d,#ceff31,#dcff23,#ebff14,#f6ff09,#f7ff08,#f1ff0e,#ecff13,#dcff23,#9cff63,#00faff,#00a6ff,#00ffff,#6cff93,#7cff83,#77ff88,#74ff8b,#70ff8f,#6dff92,#6aff95,#67ff98,#64ff9b,#61ff9e,#5effa1,#50ffaf,#00b8ff,#0000d0,#0000a7,#0013ff,#0bfff4,#60ff9f,#6eff91,#7bff84,#89ff76,#97ff68,#a3ff5c,#9dff62,#00e8ff,#0000d5,#0000a8,#0031ff,#52ffad,#a2ff5d,#9fff60,#99ff66,#92ff6d,#8bff74,#84ff7b,#7dff82,#76ff89,#6fff90,#68ff97,#62ff9d,#5dffa2,#59ffa6,#57ffa8,#56ffa9)"></div><div style="top:56px;background:linear-gradient(90deg,#ffaf00,#ffaf00,#ffb000,#ffb000,#ffb000,#ffb100,#ffb100,#ffb200,#ffb200,#ffb300,#ffb300,#ffb400,#ffb600,#ffb800,#ffba00,#ffbc00,#ffbf00,#ffc100,#ffc400,#ffc600,#ffc900,#ffcb00,#ffce00,#ffd100,#ffd500,#ffdb00,#ffe400,#fdff02,#d5ff2a,#e2ff1d,#d4ff2b,#bfff40,#a9ff56,#94ff6b,#82ff7d,#72ff8d,#67ff98,#5fffa0,#5affa5,#57ffa8,#55ffaa,#3dffc2,#0080ff,#0000b7,#0000a7,#002fff,#15ffea,#47ffb8,#46ffb9,#45ffba,#43ffbc,#42ffbd,#41ffbe,#40ffbf,#40ffbf,#40ffbf,#40ffbf,#41ffbe,#41ffbe,#41ffbe,#42ffbd,#42ffbd,#42ffbd,#37ffc8,#00c3ff,#0017ff,#0005ff,#009bff,#29ffd6,#3dffc2,#3dffc2,#28ffd7,#007aff,#0000c2,#0000b7,#0055ff,#27ffd8,#58ffa7,#67ff98,#78ff87,#8cff73,#9fff60,#b3ff4c,#c7ff38,#d5ff2a,#a3ff5c,#22ffdd,#1cffe3,#a1ff5e,#e5ff1a,#daff25,#c6ff39,#b2ff4d,#a1ff5e,#93ff6c,#88ff77,#38ffc7,#0055ff,#0000e8,#004aff,#2dffd2,#80ff7f,#83ff7c,#83ff7c,#62ff9d,#007dff,#0000b1,#0000ab,#005dff,#58ffa7,#8bff74,#93ff6c,#a0ff5f,#afff50,#bfff40,#d6ff29,#efff10,#fffa00,#ffe800,#ffdb00,#f7ff08,#00b8ff,#0000b7,#0000bd,#00d7ff,#ffe600,#ffb800,#ffbe00,#ffcc00,#ffe200,#fffe00,#e1ff1e,#c3ff3c,#a9ff56,#96ff69,#8aff75,#84ff7b,#81ff7e,#80ff7f,#80ff7f,#80ff7f,#80ff7f,#80ff7f,#80ff7f,#81ff7e,#82ff7d,#83ff7c,#57ffa8,#0064ff,#0000e4,#0000d3,#0000c2,#0000b3,#0000ad,#0000a9,#0000a6,#0000a5,#0000ac,#0000f7,#00e2ff,#9fff60,#c2ff3d,#ceff31,#dfff20,#f3ff0c,#fff600,#ffe500,#ffdc00,#ffde00,#ffec00,#f0ff0f,#2bffd4,#0000eb,#0000a7,#000eff,#21ffde,#7eff81,#7dff82,#79ff86,#76ff89,#73ff8c,#70ff8f,#6cff93,#69ff96,#66ff99,#63ff9c,#5affa5,#00f1ff,#0021ff,#0000e5,#0067ff,#31ffce,#6cff93,#7bff84,#8cff73,#9eff61,#b0ff4f,#bfff40,#c2ff3d,#43ffbc,#003eff,#0000f8,#009eff,#8aff75,#baff45,#b2ff4d,#aaff55,#a1ff5e,#98ff67,#8fff70,#86ff79,#7eff81,#75ff8a,#6dff92,#65ff9a,#5fffa0,#5affa5,#58ffa7,#56ffa9)"></div><div style="top:58px;background:linear-gradient(90deg,#ffa900,#ffa900,#ffa900,#ffaa00,#ffaa00,#ffab00,#ffab00,#ffac00,#ffac00,#ffad00,#ffae00,#ffaf00,#ffb000,#ffb200,#ffb400,#ffb600,#ffb900,#ffbb00,#ffbd00,#ffc000,#ffc200,#ffc400,#ffc700,#ffca00,#ffce00,#ffd400,#ffdd00,#fff200,#fbff04,#eeff11,#d9ff26,#c2ff3d,#abff54,#95ff6a,#82ff7d,#71ff8e,#65ff9a,#5cffa3,#57ffa8,#53ffac,#50ffaf,#49ffb6,#00fdff,#006bff,#0050ff,#00ccff,#35ffca,#41ffbe,#3fffc0,#3dffc2,#3bffc4,#39ffc6,#37ffc8,#35ffca,#33ffcc,#31ffce,#30ffcf,#2fffd0,#2fffd0,#2fffd0,#2fffd0,#2fffd0,#30ffcf,#19ffe6,#0064ff,#0000b3,#0000a9,#0034ff,#07fff8,#31ffce,#32ffcd,#30ffcf,#0bfff4,#00b5ff,#00adff,#05fffa,#3fffc0,#50ffaf,#60ff9f,#74ff8b,#8aff75,#a0ff5f,#b7ff48,#ceff31,#e3ff1c,#f5ff0a,#ffff00,#fffb00,#fffc00,#f4ff0b,#dfff20,#c6ff39,#adff52,#98ff67,#87ff78,#7dff82,#72ff8d,#51ffae,#32ffcd,#4dffb2,#6eff91,#73ff8c,#73ff8c,#73ff8c,#6bff94,#0ffff0,#0074ff,#0069ff,#00fdff,#6bff94,#7cff83,#85ff7a,#93ff6c,#a6ff59,#bdff42,#d5ff2a,#eeff11,#fffa00,#ffe600,#ffd600,#ffeb00,#2affd5,#0022ff,#002cff,#46ffb9,#ffd200,#ffb800,#ffbf00,#ffcd00,#ffe200,#fffc00,#e5ff1a,#c8ff37,#b0ff4f,#9dff62,#92ff6d,#8bff74,#88ff77,#87ff78,#76ff89,#4dffb2,#4bffb4,#75ff8a,#86ff79,#88ff77,#88ff77,#8aff75,#31ffce,#000eff,#0000c6,#0000cc,#0000d2,#0000b5,#0000a7,#0000a5,#0000a4,#0000a4,#0000a5,#0000d4,#00b6ff,#9dff62,#ceff31,#dcff23,#edff12,#fffc00,#ffe700,#ffd700,#ffce00,#ffd100,#ffe000,#ffff00,#6fff90,#0053ff,#0000ef,#006dff,#49ffb6,#81ff7e,#7dff82,#79ff86,#76ff89,#72ff8d,#6fff90,#6bff94,#61ff9e,#4dffb2,#48ffb7,#55ffaa,#53ffac,#2fffd0,#1cffe3,#3fffc0,#5fffa0,#6eff91,#7eff81,#92ff6d,#a7ff58,#bcff43,#cfff30,#deff21,#ddff22,#b2ff4d,#99ff66,#c1ff3e,#d7ff28,#cdff32,#b3ff4c,#9fff60,#a5ff5a,#a5ff5a,#9bff64,#90ff6f,#86ff79,#7bff84,#71ff8e,#68ff97,#61ff9e,#5cffa3,#58ffa7,#56ffa9)"></div><div style="top:60px;background:linear-gradient(90deg,#ffa400,#ffa400,#ffa500,#ffa500,#ffa600,#ffa700,#ffa800,#ffa900,#ffaa00,#ffab00,#ffac00,#ffae00,#ffaf00,#ffb100,#ffb300,#ffb500,#ffb700,#ffb900,#ffbb00,#ffbd00,#ffbf00,#ffc100,#ffc300,#ffc600,#ffc900,#ffcf00,#bcff43,#0014ff,#00f1ff,#eeff11,#daff25,#c2ff3d,#aaff55,#93ff6c,#7fff80,#6dff92,#60ff9f,#57ffa8,#51ffae,#4dffb2,#4affb5,#48ffb7,#43ffbc,#38ffc7,#34ffcb,#3affc5,#3cffc3,#3affc5,#37ffc8,#33ffcc,#2cffd3,#2cffd3,#2dffd2,#2bffd4,#29ffd6,#27ffd8,#26ffd9,#25ffda,#24ffdb,#24ffdb,#24ffdb,#24ffdb,#24ffdb,#20ffdf,#00deff,#0064ff,#0055ff,#00c6ff,#1cffe3,#26ffd9,#27ffd8,#27ffd8,#27ffd8,#26ffd9,#28ffd7,#2fffd0,#38ffc7,#46ffb9,#58ffa7,#6eff91,#85ff7a,#9eff61,#b7ff48,#cfff30,#e7ff18,#fbff04,#fff500,#fff000,#fff700,#f5ff0a,#d7ff28,#a9ff56,#89ff76,#82ff7d,#77ff88,#6bff94,#64ff9b,#61ff9e,#5fffa0,#5fffa0,#5fffa0,#5fffa0,#5fffa0,#5fffa0,#5fffa0,#5dffa2,#53ffac,#52ffad,#5dffa2,#63ff9c,#68ff97,#73ff8c,#82ff7d,#97ff68,#afff50,#c9ff36,#e3ff1c,#fcff03,#ffed00,#ffdd00,#ffd300,#ffe300,#e6ff19,#ebff14,#ffd800,#ffc200,#ffc300,#ffca00,#ffd800,#ffeb00,#faff05,#deff21,#c3ff3c,#a9ff56,#9aff65,#91ff6e,#8bff74,#89ff76,#74ff8b,#00ceff,#0005ff,#0000ff,#00c0ff,#70ff8f,#88ff77,#89ff76,#8aff75,#17ffe8,#0000ef,#0000c2,#0000c6,#0000d1,#0000af,#0000a4,#0000a4,#0000a4,#0000a4,#0000a9,#0000ec,#00deff,#b3ff4c,#ddff22,#eaff15,#faff05,#fff100,#ffdf00,#ffd000,#ffca00,#ffce00,#ffdf00,#fff800,#e0ff1f,#99ff66,#66ff99,#77ff88,#88ff77,#82ff7d,#7cff83,#77ff88,#73ff8c,#70ff8f,#6bff94,#4fffb0,#00bbff,#0016ff,#0008ff,#0096ff,#32ffcd,#52ffad,#52ffad,#55ffaa,#5dffa2,#6aff95,#7dff82,#93ff6c,#abff54,#c4ff3b,#daff25,#edff12,#faff05,#fffd00,#fffe00,#faff05,#ecff13,#88ff77,#00a3ff,#0050ff,#00deff,#8dff72,#a6ff59,#9aff65,#8cff73,#7fff80,#75ff8a,#6bff94,#63ff9c,#5dffa2,#59ffa6,#57ffa8)"></div><div style="top:62px;background:linear-gradient(90deg,#ff9f00,#ff9f00,#ffa000,#ffa100,#ffa200,#ffa400,#ffa500,#ffa700,#ffa800,#ffaa00,#ffac00,#ffad00,#ffaf00,#ffb000,#ffb200,#ffb400,#ffb500,#ffb700,#ffb900,#ffba00,#ffbc00,#ffbe00,#ffc000,#ffc200,#ffc600,#ffcb00,#bfff40,#0015ff,#00f3ff,#f0ff0f,#dbff24,#c2ff3d,#a9ff56,#91ff6e,#7bff84,#52ffad,#00f9ff,#00deff,#22ffdd,#45ffba,#44ffbb,#42ffbd,#3fffc0,#3cffc3,#3affc5,#37ffc8,#34ffcb,#32ffcd,#24ffdb,#00bfff,#0048ff,#006cff,#00f2ff,#20ffdf,#20ffdf,#1effe1,#1cffe3,#1bffe4,#1affe5,#1affe5,#1affe5,#1affe5,#1affe5,#1affe5,#19ffe6,#13ffec,#11ffee,#18ffe7,#1bffe4,#1bffe4,#1bffe4,#1bffe4,#1cffe3,#1cffe3,#1fffe0,#24ffdb,#2dffd2,#3cffc3,#4fffb0,#67ff98,#80ff7f,#9bff64,#b5ff4a,#d0ff2f,#e9ff16,#feff01,#fff100,#ffed00,#fff500,#ebff14,#58ffa7,#0075ff,#004bff,#00dbff,#53ffac,#58ffa7,#51ffae,#4dffb2,#4cffb3,#4cffb3,#4cffb3,#4cffb3,#4cffb3,#4cffb3,#4cffb3,#4cffb3,#4cffb3,#4cffb3,#4dffb2,#50ffaf,#55ffaa,#60ff9f,#71ff8e,#87ff78,#a1ff5e,#bdff42,#d8ff27,#f2ff0d,#fff500,#ffe500,#ffd900,#ffd300,#ffcf00,#ffcd00,#ffcc00,#ffcd00,#ffd000,#ffd700,#ffe400,#fff600,#f0ff0f,#c8ff37,#4fffb0,#00daff,#02fffd,#6cff93,#8aff75,#88ff77,#65ff9a,#0080ff,#0000b6,#0000b2,#006fff,#5fffa0,#88ff77,#8aff75,#8cff73,#33ffcc,#0010ff,#0000c6,#0000cb,#0000c8,#0000aa,#0000a4,#0000a4,#0000a5,#0000ab,#0000c7,#0047ff,#42ffbd,#d1ff2e,#ebff14,#f8ff07,#fff800,#ffe700,#ffd700,#ffcb00,#ffc700,#ffcd00,#ffde00,#fff800,#e8ff17,#c9ff36,#afff50,#9aff65,#8bff74,#81ff7e,#7aff85,#75ff8a,#71ff8e,#6dff92,#67ff98,#34ffcb,#005eff,#0000b6,#0000ae,#0034ff,#0efff1,#4bffb4,#4cffb3,#4fffb0,#58ffa7,#67ff98,#7cff83,#94ff6b,#afff50,#caff35,#e4ff1b,#fbff04,#fff200,#ffe900,#ffe700,#ffed00,#f6ff09,#18ffe7,#0000d6,#0000a4,#0022ff,#57ffa8,#afff50,#92ff6d,#49ffb6,#19ffe6,#33ffcc,#5effa1,#64ff9b,#5effa1,#59ffa6,#57ffa8)"></div><div style="top:64px;background:linear-gradient(90deg,#ff9c00,#ff9d00,#ff9e00,#ff9f00,#ffa100,#ffa200,#ffa400,#ffa600,#ffa800,#ffaa00,#ffac00,#ffae00,#ffb000,#ffb200,#ffb300,#ffb500,#ffb600,#ffb800,#ffb900,#ffba00,#ffbc00,#ffbd00,#ffbf00,#ffc100,#ffc400,#ffc900,#ffd200,#ffe600,#fff400,#f6ff09,#ddff22,#c3ff3c,#a8ff57,#8fff70,#6dff92,#00bcff,#0000cf,#0000b4,#0052ff,#21ffde,#3effc1,#3bffc4,#38ffc7,#36ffc9,#33ffcc,#30ffcf,#2dffd2,#2affd5,#00feff,#0023ff,#0000a5,#0000bd,#008bff,#12ffed,#18ffe7,#16ffe9,#14ffeb,#12ffed,#09fff6,#00e8ff,#00ccff,#00d9ff,#00fdff,#10ffef,#12ffed,#12ffed,#12ffed,#12ffed,#12ffed,#12ffed,#12ffed,#13ffec,#13ffec,#14ffeb,#16ffe9,#1bffe4,#24ffdb,#33ffcc,#46ffb9,#5dffa2,#77ff88,#91ff6e,#acff53,#c6ff39,#dfff20,#f5ff0a,#fffb00,#fff700,#feff01,#caff35,#00baff,#0000b9,#0000a7,#003bff,#21ffde,#48ffb7,#41ffbe,#3effc1,#3dffc2,#3cffc3,#3cffc3,#3dffc2,#3dffc2,#3dffc2,#3dffc2,#3dffc2,#3bffc4,#2effd1,#2affd5,#3affc5,#47ffb8,#52ffad,#63ff9c,#79ff86,#93ff6c,#afff50,#cbff34,#e4ff1b,#faff05,#fff300,#ffe800,#ffe200,#ffdf00,#ffdd00,#ffdd00,#ffde00,#ffe100,#ffe800,#fff300,#fbff04,#e4ff1b,#74ff8b,#003cff,#0000ae,#0000df,#00e1ff,#81ff7e,#8cff73,#85ff7a,#3bffc4,#00b5ff,#00b0ff,#33ffcc,#83ff7c,#8bff74,#8cff73,#8fff70,#6cff93,#0080ff,#0000ef,#0000d6,#0000b7,#0000a6,#0000a4,#0000a4,#0000a7,#0000bf,#0012ff,#00c6ff,#8bff74,#dcff23,#eeff11,#f9ff06,#fff800,#ffea00,#ffdd00,#ffd400,#ffd200,#ffd900,#ffea00,#fcff03,#dfff20,#c3ff3c,#a9ff56,#96ff69,#87ff78,#7eff81,#77ff88,#72ff8d,#6eff91,#69ff96,#65ff9a,#5bffa4,#25ffda,#00cbff,#00bfff,#0dfff2,#44ffbb,#49ffb6,#49ffb6,#4cffb3,#55ffaa,#66ff99,#7cff83,#97ff68,#b4ff4b,#d1ff2e,#eeff11,#fff700,#ffe300,#ffd700,#ffd500,#ffda00,#ffea00,#a8ff57,#00b2ff,#005aff,#00eeff,#a4ff5b,#b3ff4c,#47ffb8,#009aff,#0064ff,#0091ff,#1affe5,#5fffa0,#5effa1,#5affa5,#57ffa8)"></div><div style="top:66px;background:linear-gradient(90deg,#ff9f00,#ffa000,#ffa100,#ffa200,#ffa400,#ffa600,#ffa800,#ffaa00,#ffac00,#ffaf00,#ffb100,#ffb300,#ffb500,#ffb700,#ffb900,#ffba00,#ffbc00,#ffbd00,#ffbe00,#ffbf00,#ffc000,#ffc200,#ffc300,#ffc400,#ffc700,#ffcb00,#ffd300,#ffdf00,#ffef00,#faff05,#e1ff1e,#c5ff3a,#a9ff56,#8dff72,#6dff92,#00e4ff,#0009ff,#0000e4,#0083ff,#24ffdb,#36ffc9,#34ffcb,#31ffce,#2fffd0,#2dffd2,#2affd5,#28ffd7,#25ffda,#19ffe6,#00b7ff,#0043ff,#0066ff,#00e8ff,#16ffe9,#15ffea,#13ffec,#11ffee,#00ffff,#0092ff,#0000eb,#0000ac,#0000c2,#0047ff,#00e1ff,#0efff1,#10ffef,#11ffee,#11ffee,#11ffee,#10ffef,#0ffff0,#10ffef,#12ffed,#13ffec,#15ffea,#19ffe6,#20ffdf,#2cffd3,#3cffc3,#4fffb0,#64ff9b,#79ff86,#8fff70,#a4ff5b,#b9ff46,#caff35,#d6ff29,#d9ff26,#d2ff2d,#b8ff47,#34ffcb,#0065ff,#003fff,#00c7ff,#39ffc6,#40ffbf,#3affc5,#36ffc9,#35ffca,#36ffc9,#37ffc8,#38ffc7,#3affc5,#3affc5,#3bffc4,#37ffc8,#00efff,#0052ff,#0027ff,#00a1ff,#2dffd2,#4fffb0,#5effa1,#71ff8e,#87ff78,#9eff61,#b5ff4a,#cbff34,#deff21,#ecff13,#f6ff09,#fcff03,#ffff00,#fffd00,#fffc00,#fffb00,#fffd00,#fdff02,#f5ff0a,#e9ff16,#d9ff26,#85ff7a,#0078ff,#0000d9,#0018ff,#0efff1,#8eff71,#95ff6a,#94ff6b,#93ff6c,#8eff71,#8dff72,#92ff6d,#94ff6b,#94ff6b,#94ff6b,#95ff6a,#8eff71,#0cfff3,#0039ff,#0000cf,#0000a9,#0000a4,#0000a4,#0000a4,#0000ab,#0000da,#0057ff,#08fff7,#94ff6b,#caff35,#d6ff29,#deff21,#e7ff18,#f1ff0e,#faff05,#fffd00,#fffc00,#fbff04,#eeff11,#daff25,#c3ff3c,#acff53,#98ff67,#88ff77,#7dff82,#75ff8a,#70ff8f,#6cff93,#68ff97,#65ff9a,#61ff9e,#5effa1,#5affa5,#56ffa9,#53ffac,#50ffaf,#4dffb2,#43ffbc,#0efff1,#00ccff,#00e1ff,#3effc1,#7dff82,#9cff63,#b9ff46,#d7ff28,#f4ff0b,#ffef00,#ffdb00,#ffcf00,#ffcc00,#ffd100,#ffdd00,#ffef00,#eeff11,#d3ff2c,#d5ff2a,#d0ff2f,#b8ff47,#49ffb6,#009bff,#0065ff,#0091ff,#1affe5,#60ff9f,#5fffa0,#5affa5,#57ffa8)"></div><div style="top:68px;background:linear-gradient(90deg,#ffa400,#ffa500,#ffa600,#ffa700,#ffa900,#ffab00,#ffae00,#ffb000,#ffb200,#ffb500,#ffb700,#ffb900,#ffbc00,#ffbe00,#ffc000,#ffc200,#ffc300,#ffc500,#ffc600,#ffc700,#ffc700,#ffc800,#ffc900,#ffca00,#ffcc00,#ffcf00,#ffd400,#ffde00,#ffec00,#feff01,#e5ff1a,#c9ff36,#aaff55,#8cff73,#70ff8f,#53ffac,#28ffd7,#16ffe9,#2affd5,#31ffce,#2fffd0,#2dffd2,#2bffd4,#29ffd6,#27ffd8,#25ffda,#23ffdc,#21ffde,#1fffe0,#1cffe3,#15ffea,#15ffea,#17ffe8,#16ffe9,#14ffeb,#12ffed,#11ffee,#09fff6,#00c7ff,#0044ff,#0000f8,#0018ff,#0092ff,#00f8ff,#10ffef,#12ffed,#12ffed,#0cfff3,#00dbff,#0077ff,#003fff,#0068ff,#00ccff,#0bfff4,#16ffe9,#19ffe6,#1fffe0,#27ffd8,#32ffcd,#3effc1,#4cffb3,#5bffa4,#6aff95,#79ff86,#86ff79,#92ff6d,#9aff65,#9dff62,#98ff67,#8dff72,#7aff85,#5affa5,#46ffb9,#45ffba,#3effc1,#31ffce,#23ffdc,#18ffe7,#13ffec,#16ffe9,#1fffe0,#2bffd4,#35ffca,#3bffc4,#3effc1,#30ffcf,#0091ff,#0000bf,#0000a5,#0013ff,#05fffa,#50ffaf,#5dffa2,#6bff94,#7bff84,#8cff73,#9eff61,#aeff51,#bcff43,#c7ff38,#d0ff2f,#d5ff2a,#d9ff26,#dcff23,#deff21,#e0ff1f,#e1ff1e,#e0ff1f,#dcff23,#d6ff29,#cdff32,#beff41,#8aff75,#4cffb3,#62ff9d,#97ff68,#a2ff5d,#a1ff5e,#a1ff5e,#a1ff5e,#a1ff5e,#a0ff5f,#a0ff5f,#a0ff5f,#9fff60,#9eff61,#9eff61,#98ff67,#44ffbb,#0064ff,#0000c8,#0000a5,#0000a4,#0000a4,#0000a5,#0000b4,#0000f4,#006dff,#04fffb,#82ff7d,#adff52,#b4ff4b,#b7ff48,#bcff43,#c1ff3e,#c6ff39,#c9ff36,#c9ff36,#c5ff3a,#bbff44,#aeff51,#9fff60,#90ff6f,#82ff7d,#77ff88,#70ff8f,#6bff94,#67ff98,#64ff9b,#62ff9d,#60ff9f,#5dffa2,#5bffa4,#59ffa6,#56ffa9,#54ffab,#52ffad,#4dffb2,#04fffb,#0027ff,#0000ad,#0000bb,#0075ff,#5bffa4,#a1ff5e,#c0ff3f,#deff21,#faff05,#ffea00,#ffd500,#ffc900,#ffc700,#ffcd00,#ffd800,#ffe700,#fff800,#f6ff09,#e5ff1a,#d4ff2b,#c2ff3d,#9fff60,#52ffad,#1fffe0,#38ffc7,#62ff9d,#67ff98,#5fffa0,#5affa5,#57ffa8)"></div><div style="top:70px;background:linear-gradient(90deg,#ffaa00,#ffab00,#ffac00,#ffad00,#ffaf00,#ffb100,#ffb400,#ffb600,#ffb900,#ffbb00,#ffbe00,#ffc000,#ffc300,#ffc500,#ffc700,#ffca00,#ffcb00,#ffcd00,#ffce00,#ffce00,#ffcf00,#ffcf00,#ffd000,#ffd000,#ffd100,#ffd300,#ffd700,#ffde00,#ffe900,#fffc00,#eaff15,#ccff33,#abff54,#8aff75,#6cff93,#52ffad,#40ffbf,#34ffcb,#2dffd2,#29ffd6,#27ffd8,#25ffda,#24ffdb,#22ffdd,#21ffde,#20ffdf,#1effe1,#1dffe2,#1bffe4,#1affe5,#18ffe7,#17ffe8,#15ffea,#14ffeb,#13ffec,#12ffed,#11ffee,#10ffef,#10ffef,#0cfff3,#08fff7,#0bfff4,#10ffef,#12ffed,#13ffec,#13ffec,#13ffec,#00f9ff,#0072ff,#0000cd,#0000a4,#0000bd,#0051ff,#00edff,#17ffe8,#1affe5,#1dffe2,#22ffdd,#28ffd7,#2effd1,#36ffc9,#3effc1,#45ffba,#4dffb2,#54ffab,#5bffa4,#5fffa0,#61ff9e,#5fffa0,#5affa5,#53ffac,#4bffb4,#42ffbd,#33ffcc,#19ffe6,#00f3ff,#00caff,#00abff,#009cff,#00a2ff,#00bbff,#00e1ff,#0cfff3,#2bffd4,#3cffc3,#3effc1,#00f6ff,#0057ff,#002aff,#00a7ff,#35ffca,#54ffab,#5cffa3,#65ff9a,#6fff90,#7bff84,#86ff79,#91ff6e,#9aff65,#a3ff5c,#a9ff56,#afff50,#b3ff4c,#b7ff48,#bbff44,#beff41,#c1ff3e,#c3ff3c,#c3ff3c,#c2ff3d,#c0ff3f,#bcff43,#b8ff47,#b4ff4b,#b1ff4e,#afff50,#aeff51,#adff52,#adff52,#adff52,#adff52,#adff52,#acff53,#acff53,#aaff55,#a8ff57,#a6ff59,#a1ff5e,#67ff98,#00a5ff,#0000eb,#0000ad,#0000a5,#0000a6,#0000ad,#0000cd,#0000f7,#0012ff,#0062ff,#13ffec,#86ff79,#91ff6e,#91ff6e,#91ff6e,#91ff6e,#92ff6d,#93ff6c,#92ff6d,#8fff70,#8aff75,#83ff7c,#7bff84,#73ff8c,#6dff92,#67ff98,#63ff9c,#60ff9f,#5effa1,#5bffa4,#5affa5,#5affa5,#59ffa6,#58ffa7,#57ffa8,#56ffa9,#55ffaa,#54ffab,#52ffad,#2cffd3,#0091ff,#000eff,#0028ff,#00dbff,#79ff86,#a9ff56,#c6ff39,#e4ff1b,#fffe00,#ffe400,#ffd000,#ffc400,#ffc200,#ffc800,#ffd400,#ffe300,#fff400,#f9ff06,#e8ff17,#d7ff28,#c6ff39,#b4ff4b,#a2ff5d,#90ff6f,#81ff7e,#75ff8a,#69ff96,#60ff9f,#5bffa4,#58ffa7)"></div><div style="top:72px;background:linear-gradient(90deg,#ffbf00,#ffc000,#ffc000,#ffc100,#ffc200,#ffc300,#ffc400,#ffc500,#ffc700,#ffc800,#ffca00,#ffcb00,#ffcd00,#ffcf00,#ffd100,#ffd300,#ffd500,#ffd600,#ffd700,#ffd800,#ffd800,#ffd800,#ffd800,#ffd800,#ffd900,#ffd900,#ffdb00,#ffe000,#ffea00,#fffa00,#ecff13,#cfff30,#adff52,#8aff75,#6aff95,#4fffb0,#3bffc4,#2fffd0,#28ffd7,#24ffdb,#22ffdd,#21ffde,#20ffdf,#1fffe0,#1effe1,#1dffe2,#1cffe3,#1bffe4,#1affe5,#19ffe6,#18ffe7,#17ffe8,#16ffe9,#15ffea,#14ffeb,#13ffec,#13ffec,#13ffec,#13ffec,#14ffeb,#15ffea,#16ffe9,#16ffe9,#17ffe8,#18ffe7,#19ffe6,#1affe5,#18ffe7,#00fdff,#00bdff,#0092ff,#00b2ff,#00f7ff,#1bffe4,#20ffdf,#21ffde,#22ffdd,#24ffdb,#26ffd9,#28ffd7,#2affd5,#2cffd3,#2fffd0,#31ffce,#33ffcc,#35ffca,#37ffc8,#38ffc7,#38ffc7,#38ffc7,#37ffc8,#35ffca,#29ffd6,#08fff7,#00caff,#0081ff,#0041ff,#0017ff,#0005ff,#000bff,#0029ff,#005fff,#00a9ff,#00f4ff,#29ffd6,#41ffbe,#46ffb9,#3cffc3,#38ffc7,#49ffb6,#53ffac,#58ffa7,#5dffa2,#62ff9d,#67ff98,#69ff96,#70ff8f,#7bff84,#83ff7c,#89ff76,#8fff70,#94ff6b,#99ff66,#9eff61,#a3ff5c,#a7ff58,#a6ff59,#a8ff57,#b1ff4e,#b7ff48,#b9ff46,#baff45,#bbff44,#bbff44,#baff45,#baff45,#baff45,#baff45,#baff45,#baff45,#baff45,#b9ff46,#b9ff46,#b8ff47,#b6ff49,#b3ff4c,#b0ff4f,#acff53,#95ff6a,#23ffdc,#006bff,#0000f2,#0000c9,#0000c6,#0000de,#0000f4,#0000d4,#0000c0,#0000d7,#006dff,#4cffb3,#7cff83,#7aff85,#77ff88,#74ff8b,#72ff8d,#70ff8f,#6fff90,#6dff92,#6cff93,#6aff95,#68ff97,#65ff9a,#63ff9c,#60ff9f,#5dffa2,#48ffb7,#00e5ff,#007eff,#0094ff,#0afff5,#4effb1,#56ffa9,#57ffa8,#58ffa7,#58ffa7,#59ffa6,#5affa5,#5bffa4,#59ffa6,#54ffab,#62ff9d,#80ff7f,#9aff65,#b5ff4a,#d1ff2e,#edff12,#fff500,#ffdd00,#ffca00,#ffbf00,#ffbc00,#ffc200,#ffce00,#ffdc00,#ffec00,#fffc00,#f1ff0e,#e1ff1e,#d1ff2e,#c0ff3f,#b0ff4f,#a0ff5f,#91ff6e,#83ff7c,#78ff87,#70ff8f,#6bff94,#68ff97)"></div><div style="top:74px;background:linear-gradient(90deg,#fffa00,#fff900,#fff800,#fff600,#fff300,#fff000,#ffed00,#ffea00,#ffe600,#ffe400,#ffe100,#ffdf00,#ffdf00,#ffdf00,#ffe000,#ffe200,#ffe300,#ffe400,#ffe500,#ffe500,#ffe500,#ffe500,#ffe500,#ffe500,#ffe500,#ffe600,#ffe700,#ffea00,#fff200,#ffff00,#ebff14,#d0ff2f,#b0ff4f,#8eff71,#6eff91,#52ffad,#3effc1,#31ffce,#2affd5,#27ffd8,#25ffda,#24ffdb,#22ffdd,#1dffe2,#1cffe3,#1fffe0,#20ffdf,#20ffdf,#1fffe0,#1fffe0,#1effe1,#1dffe2,#1cffe3,#1cffe3,#1bffe4,#1bffe4,#1bffe4,#1cffe3,#1dffe2,#1effe1,#20ffdf,#22ffdd,#23ffdc,#25ffda,#27ffd8,#29ffd6,#2bffd4,#2dffd2,#2effd1,#30ffcf,#31ffce,#33ffcc,#32ffcd,#2fffd0,#2fffd0,#33ffcc,#36ffc9,#37ffc8,#38ffc7,#38ffc7,#39ffc6,#39ffc6,#3affc5,#3bffc4,#3bffc4,#3cffc3,#3cffc3,#3dffc2,#3effc1,#3effc1,#3fffc0,#39ffc6,#1bffe4,#00d4ff,#0072ff,#0016ff,#0000d6,#0000b6,#0000aa,#0000ae,#0000c2,#0000ef,#003dff,#00a0ff,#00fdff,#36ffc9,#4bffb4,#50ffaf,#53ffac,#57ffa8,#5affa5,#5effa1,#63ff9c,#61ff9e,#1dffe2,#00a4ff,#00aaff,#2fffd0,#7eff81,#8aff75,#90ff6f,#96ff69,#9cff63,#a2ff5d,#a4ff5b,#6fff90,#00dfff,#00baff,#3effc1,#afff50,#c1ff3e,#c3ff3c,#c5ff3a,#c6ff39,#c6ff39,#c6ff39,#c6ff39,#c6ff39,#c6ff39,#c6ff39,#c6ff39,#c6ff39,#c5ff3a,#c5ff3a,#c3ff3c,#c1ff3e,#beff41,#bbff44,#b4ff4b,#92ff6d,#34ffcb,#00bdff,#0070ff,#005dff,#006bff,#0025ff,#0000c6,#0000b8,#0000be,#0036ff,#3dffc2,#8cff73,#8aff75,#87ff78,#84ff7b,#81ff7e,#7fff80,#7eff81,#7dff82,#7cff83,#7cff83,#7bff84,#79ff86,#76ff89,#71ff8e,#67ff98,#0bfff4,#0017ff,#0000a6,#0000b3,#0060ff,#2cffd3,#56ffa9,#5bffa4,#5fffa0,#63ff9c,#67ff98,#6bff94,#70ff8f,#76ff89,#7fff80,#8cff73,#9eff61,#b3ff4c,#cbff34,#e4ff1b,#feff01,#ffe700,#ffd200,#ffc100,#ffb700,#ffb500,#ffb900,#ffc200,#ffce00,#ffdb00,#ffe800,#fff500,#fcff03,#efff10,#e2ff1d,#d5ff2a,#c8ff37,#bcff43,#b1ff4e,#a8ff57,#a2ff5d,#9eff61,#9bff64)"></div><div style="top:76px;background:linear-gradient(90deg,#bbff44,#bdff42,#c1ff3e,#c6ff39,#ceff31,#d5ff2a,#d3ff2c,#b5ff4a,#7fff80,#54ffab,#5affa5,#92ff6d,#d7ff28,#fffe00,#fff300,#fff200,#fff300,#fff300,#fff400,#fff400,#fff400,#fff400,#fff400,#fff400,#fff400,#fff400,#fff500,#fff800,#fffd00,#f7ff08,#e7ff18,#d0ff2f,#b3ff4c,#93ff6c,#74ff8b,#58ffa7,#44ffbb,#37ffc8,#30ffcf,#2dffd2,#2affd5,#0cfff3,#009bff,#0026ff,#0015ff,#0071ff,#00f0ff,#23ffdc,#27ffd8,#27ffd8,#26ffd9,#26ffd9,#25ffda,#25ffda,#25ffda,#25ffda,#25ffda,#27ffd8,#29ffd6,#2bffd4,#2effd1,#31ffce,#34ffcb,#37ffc8,#3affc5,#3dffc2,#40ffbf,#43ffbc,#46ffb9,#49ffb6,#49ffb6,#26ffd9,#00a8ff,#002eff,#0024ff,#0091ff,#1bffe4,#4dffb2,#52ffad,#52ffad,#53ffac,#53ffac,#53ffac,#53ffac,#54ffab,#54ffab,#54ffab,#55ffaa,#55ffaa,#56ffa9,#54ffab,#46ffb9,#11ffee,#00aaff,#0034ff,#0000d8,#0000a8,#000096,#000091,#000092,#00009b,#0000b4,#0000e9,#003fff,#00abff,#0efff1,#43ffbc,#54ffab,#59ffa6,#5dffa2,#61ff9e,#66ff99,#6bff94,#4bffb4,#006cff,#0000b2,#0000b5,#007dff,#6cff93,#97ff68,#9eff61,#a4ff5b,#abff54,#b1ff4e,#a2ff5d,#00d5ff,#0000cb,#0000ab,#0050ff,#80ff7f,#cdff32,#d0ff2f,#d2ff2d,#d2ff2d,#d3ff2c,#d3ff2c,#d3ff2c,#d3ff2c,#d3ff2c,#d3ff2c,#d3ff2c,#d3ff2c,#d2ff2d,#d2ff2d,#d0ff2f,#ccff33,#b0ff4f,#59ffa6,#00d4ff,#0072ff,#005cff,#008aff,#00d3ff,#09fff6,#16ffe9,#0095ff,#0000f0,#0000c4,#0000dd,#0082ff,#75ff8a,#abff54,#aaff55,#a7ff58,#a4ff5b,#a0ff5f,#a1ff5e,#a1ff5e,#a1ff5e,#a1ff5e,#a0ff5f,#9fff60,#9cff63,#96ff69,#8cff73,#7fff80,#5cffa3,#00ebff,#007eff,#0091ff,#05fffa,#4bffb4,#59ffa6,#60ff9f,#68ff97,#70ff8f,#78ff87,#80ff7f,#89ff76,#92ff6d,#9eff61,#abff54,#bcff43,#d0ff2f,#e5ff1a,#fcff03,#ffec00,#ffd700,#ffc500,#ffb700,#ffaf00,#ffac00,#ffaf00,#ffb500,#ffbd00,#ffc500,#ffce00,#ffd700,#ffdf00,#ffe800,#fff100,#fffa00,#fcff03,#f4ff0b,#ecff13,#e6ff19,#e2ff1d,#dfff20,#deff21)"></div><div style="top:78px;background:linear-gradient(90deg,#73ff8c,#76ff89,#7cff83,#85ff7a,#91ff6e,#94ff6b,#6bff94,#00f4ff,#0077ff,#003cff,#003eff,#0082ff,#1affe5,#afff50,#f0ff0f,#fbff04,#fbff04,#fbff04,#fbff04,#fbff04,#fbff04,#fbff04,#fbff04,#fbff04,#fbff04,#faff05,#faff05,#f9ff06,#f5ff0a,#eeff11,#e3ff1c,#d0ff2f,#b7ff48,#99ff66,#7aff85,#5effa1,#4affb5,#3dffc2,#36ffc9,#33ffcc,#2dffd2,#00eaff,#0035ff,#0000b7,#0000ac,#0001ff,#00bbff,#23ffdc,#2fffd0,#2fffd0,#2fffd0,#2effd1,#2effd1,#2effd1,#2effd1,#2fffd0,#30ffcf,#32ffcd,#35ffca,#38ffc7,#3cffc3,#40ffbf,#44ffbb,#49ffb6,#4dffb2,#51ffae,#55ffaa,#59ffa6,#5dffa2,#61ff9e,#5effa1,#0dfff2,#003bff,#0000b6,#0000af,#001bff,#00f3ff,#60ff9f,#6cff93,#6cff93,#6dff92,#6dff92,#6dff92,#6dff92,#6dff92,#6dff92,#6dff92,#6eff91,#6eff91,#6eff91,#6bff94,#58ffa7,#17ffe8,#00a1ff,#0022ff,#0000c8,#00009d,#000091,#00008f,#000090,#000093,#00009f,#0000b7,#0000e1,#002eff,#00a0ff,#0ffff0,#4cffb3,#5dffa2,#63ff9c,#68ff97,#6eff91,#74ff8b,#64ff9b,#00bfff,#0001ff,#0005ff,#00d4ff,#88ff77,#a5ff5a,#acff53,#b3ff4c,#baff45,#c1ff3e,#bcff43,#2cffd3,#002fff,#0000fd,#00bcff,#acff53,#dcff23,#deff21,#dfff20,#dfff20,#dfff20,#dfff20,#dfff20,#dfff20,#dfff20,#dfff20,#dfff20,#dfff20,#dfff20,#dfff20,#deff21,#d2ff2d,#8bff74,#00d8ff,#0016ff,#0000b8,#0000af,#0000e8,#0083ff,#2fffd0,#84ff7b,#5cffa3,#00c0ff,#006bff,#00a2ff,#4fffb0,#c1ff3e,#cbff34,#c0ff3f,#4dffb2,#0070ff,#001bff,#0080ff,#5fffa0,#bfff40,#c6ff39,#c5ff3a,#c3ff3c,#beff41,#b6ff49,#a7ff58,#94ff6b,#7eff81,#68ff97,#56ffa9,#4dffb2,#4dffb2,#52ffad,#5affa5,#65ff9a,#71ff8e,#7dff82,#89ff76,#95ff6a,#a1ff5e,#aeff51,#bcff43,#cbff34,#dbff24,#edff12,#fffe00,#ffeb00,#ffd900,#ffc700,#ffb800,#ffad00,#ffa700,#ffa400,#ffa500,#ffa800,#ffab00,#ffb000,#ffb400,#ffb900,#ffbd00,#ffc200,#ffcd00,#f1ff0e,#90ff6f,#88ff77,#dcff23,#ffe600,#ffdd00,#ffdd00,#ffde00)"></div><div style="top:80px;background:linear-gradient(90deg,#4bffb4,#50ffaf,#57ffa8,#62ff9d,#70ff8f,#80ff7f,#91ff6e,#a2ff5d,#b1ff4e,#c0ff3f,#ceff31,#daff25,#e3ff1c,#e8ff17,#e9ff16,#eaff15,#e9ff16,#e9ff16,#e9ff16,#e9ff16,#e8ff17,#e8ff17,#e8ff17,#e8ff17,#e8ff17,#e8ff17,#e7ff18,#e7ff18,#e5ff1a,#e1ff1e,#d8ff27,#c9ff36,#b4ff4b,#99ff66,#7cff83,#62ff9d,#4effb1,#42ffbd,#3bffc4,#38ffc7,#37ffc8,#32ffcd,#15ffea,#00e6ff,#00ddff,#06fff9,#2cffd3,#35ffca,#36ffc9,#36ffc9,#36ffc9,#35ffca,#35ffca,#35ffca,#36ffc9,#36ffc9,#37ffc8,#36ffc9,#2bffd4,#1cffe3,#1effe1,#35ffca,#4bffb4,#55ffaa,#5bffa4,#60ff9f,#65ff9a,#6aff95,#6fff90,#74ff8b,#78ff87,#75ff8a,#52ffad,#1effe1,#19ffe6,#4bffb4,#76ff89,#7fff80,#80ff7f,#80ff7f,#80ff7f,#7fff80,#7fff80,#7fff80,#7fff80,#7fff80,#7fff80,#7fff80,#7fff80,#7eff81,#7cff83,#6bff94,#31ffce,#00c1ff,#0040ff,#0000dd,#0000a9,#000096,#000091,#000092,#000095,#00009a,#00009d,#0000a7,#0000c8,#0020ff,#00afff,#30ffcf,#67ff98,#73ff8c,#79ff86,#7fff80,#85ff7a,#8bff74,#80ff7f,#5bffa4,#63ff9c,#96ff69,#afff50,#b7ff48,#beff41,#c5ff3a,#ccff33,#d3ff2c,#d9ff26,#d1ff2e,#a5ff5a,#97ff68,#c9ff36,#e6ff19,#e8ff17,#e9ff16,#e9ff16,#e9ff16,#e9ff16,#e9ff16,#e9ff16,#e9ff16,#e9ff16,#e9ff16,#eaff15,#eaff15,#eaff15,#eaff15,#eaff15,#e9ff16,#e7ff18,#d9ff26,#bcff43,#9eff61,#98ff67,#aeff51,#c9ff36,#d6ff29,#daff25,#d9ff26,#bfff40,#a2ff5d,#b7ff48,#deff21,#e7ff18,#e4ff1b,#90ff6f,#004eff,#0000a9,#0000a4,#0000b1,#008aff,#b1ff4e,#e3ff1c,#e3ff1c,#e1ff1e,#dbff24,#cfff30,#beff41,#a5ff5a,#89ff76,#6eff91,#59ffa6,#4dffb2,#4affb5,#4cffb3,#48ffb7,#43ffbc,#54ffab,#78ff87,#92ff6d,#a3ff5c,#b2ff4d,#c1ff3e,#d1ff2e,#e0ff1f,#f1ff0e,#fffd00,#ffec00,#ffdb00,#ffca00,#ffbb00,#ffaf00,#ffa600,#ffa000,#ff9e00,#ff9d00,#ff9d00,#ff9e00,#ff9f00,#ffa000,#ffa100,#ffa200,#ffa700,#fcff03,#00d0ff,#005bff,#0059ff,#0051ff,#00acff,#a1ff5e,#ffc700,#ffac00)"></div><div style="top:82px;background:linear-gradient(90deg,#73ff8c,#76ff89,#7cff83,#84ff7b,#8fff70,#9cff63,#aaff55,#b7ff48,#c3ff3c,#ceff31,#d5ff2a,#daff25,#dbff24,#d9ff26,#d7ff28,#d4ff2b,#d2ff2d,#d1ff2e,#d0ff2f,#cfff30,#cfff30,#ceff31,#cdff32,#cdff32,#ccff33,#ccff33,#cbff34,#caff35,#c8ff37,#c5ff3a,#bfff40,#b3ff4c,#a2ff5d,#8cff73,#75ff8a,#60ff9f,#50ffaf,#46ffb9,#41ffbe,#3effc1,#3dffc2,#3cffc3,#3cffc3,#3cffc3,#3bffc4,#3bffc4,#3bffc4,#3affc5,#3affc5,#3affc5,#39ffc6,#39ffc6,#38ffc7,#37ffc8,#32ffcd,#20ffdf,#00efff,#0087ff,#0008ff,#0000c5,#0000c1,#0000fc,#0089ff,#10ffef,#4bffb4,#61ff9e,#6aff95,#70ff8f,#75ff8a,#7aff85,#7eff81,#81ff7e,#84ff7b,#85ff7a,#85ff7a,#85ff7a,#84ff7b,#83ff7c,#83ff7c,#82ff7d,#82ff7d,#81ff7e,#80ff7f,#80ff7f,#7fff80,#7eff81,#7eff81,#7dff82,#7cff83,#7cff83,#7bff84,#73ff8c,#50ffaf,#00ffff,#008eff,#0022ff,#0000dc,#0000ba,#0000ab,#0000a4,#00009f,#000097,#000092,#000092,#00009c,#0000d5,#0064ff,#19ffe6,#80ff7f,#98ff67,#9eff61,#a4ff5b,#a9ff56,#afff50,#b5ff4a,#bbff44,#c1ff3e,#c7ff38,#cdff32,#d4ff2b,#d9ff26,#dfff20,#e3ff1c,#e7ff18,#eaff15,#ecff13,#eeff11,#eeff11,#eeff11,#edff12,#edff12,#edff12,#edff12,#edff12,#edff12,#eeff11,#eeff11,#eeff11,#eeff11,#efff10,#efff10,#efff10,#f0ff0f,#f0ff0f,#f0ff0f,#f1ff0e,#f1ff0e,#f2ff0d,#f2ff0d,#f3ff0c,#f4ff0b,#f4ff0b,#f4ff0b,#f4ff0b,#f5ff0a,#f6ff09,#f8ff07,#f8ff07,#f9ff06,#f9ff06,#f9ff06,#f9ff06,#f3ff0c,#c8ff37,#62ff9d,#2fffd0,#75ff8a,#d4ff2b,#f2ff0d,#f3ff0c,#f2ff0d,#eeff11,#e8ff17,#dbff24,#c7ff38,#adff52,#8eff71,#71ff8e,#56ffa9,#32ffcd,#00ebff,#0067ff,#0000e5,#0000b5,#0000c1,#0036ff,#10ffef,#8cff73,#afff50,#c0ff3f,#d0ff2f,#e0ff1f,#f0ff0f,#fffc00,#ffeb00,#ffda00,#ffc900,#ffba00,#ffae00,#ffa400,#ff9f00,#ff9c00,#ff9a00,#ff9a00,#ff9a00,#ff9a00,#ff9a00,#ff9a00,#ff9a00,#ff9b00,#ffa700,#f7ff08,#57ffa8,#18ffe7,#4dffb2,#ccff33,#ffc700,#ff9f00,#ff9b00)"></div><div style="top:84px;background:linear-gradient(90deg,#bbff44,#bdff42,#c0ff3f,#c4ff3b,#caff35,#d1ff2e,#d8ff27,#deff21,#e3ff1c,#e4ff1b,#e2ff1d,#ddff22,#d5ff2a,#ccff33,#c4ff3b,#beff41,#b9ff46,#b7ff48,#b5ff4a,#b3ff4c,#b2ff4d,#b1ff4e,#b0ff4f,#aeff51,#adff52,#acff53,#aaff55,#a9ff56,#a7ff58,#a4ff5b,#9fff60,#97ff68,#8aff75,#7aff85,#6aff95,#5cffa3,#51ffae,#4affb5,#46ffb9,#43ffbc,#42ffbd,#41ffbe,#41ffbe,#40ffbf,#3fffc0,#3fffc0,#3effc1,#3dffc2,#3dffc2,#3cffc3,#3bffc4,#3bffc4,#39ffc6,#33ffcc,#17ffe8,#00cdff,#0058ff,#0000df,#0000aa,#0000a4,#0000a4,#0000ab,#0000ec,#0081ff,#05fffa,#4bffb4,#66ff99,#70ff8f,#75ff8a,#7aff85,#7eff81,#81ff7e,#83ff7c,#84ff7b,#84ff7b,#83ff7c,#82ff7d,#80ff7f,#7fff80,#7eff81,#7dff82,#7bff84,#7aff85,#79ff86,#78ff87,#76ff89,#75ff8a,#74ff8b,#73ff8c,#72ff8d,#72ff8d,#71ff8e,#66ff99,#31ffce,#00a3ff,#001aff,#0000df,#0000d6,#0000e0,#0000d9,#0000b5,#000099,#000090,#00008f,#000094,#0000c2,#0051ff,#21ffde,#a6ff59,#c7ff38,#cdff32,#d1ff2e,#d5ff2a,#daff25,#deff21,#e3ff1c,#e7ff18,#ecff13,#f0ff0f,#f5ff0a,#f8ff07,#fbff04,#fcff03,#fcff03,#fbff04,#faff05,#f7ff08,#f4ff0b,#f2ff0d,#f0ff0f,#eeff11,#eeff11,#eeff11,#eeff11,#efff10,#efff10,#f0ff0f,#f1ff0e,#f1ff0e,#f2ff0d,#f2ff0d,#f3ff0c,#f4ff0b,#f4ff0b,#f5ff0a,#f6ff09,#f7ff08,#f8ff07,#f9ff06,#fbff04,#fcff03,#feff01,#ffff00,#fffd00,#fffc00,#fffa00,#fff900,#fff700,#fff700,#fff600,#fff700,#fff800,#fff900,#fffa00,#fffb00,#fffd00,#fffe00,#ffff00,#fdff02,#fcff03,#faff05,#f6ff09,#eeff11,#e1ff1e,#ccff33,#b1ff4e,#91ff6e,#71ff8e,#4bffb4,#00fcff,#0070ff,#0000de,#0000a7,#0000a4,#0000a7,#0000df,#00a7ff,#5cffa3,#9fff60,#b6ff49,#c6ff39,#d6ff29,#e7ff18,#f9ff06,#fff200,#ffdf00,#ffcd00,#ffbd00,#ffaf00,#ffa500,#ff9f00,#ff9c00,#ff9a00,#ff9a00,#ff9a00,#ff9a00,#ff9a00,#ff9a00,#ff9a00,#ff9a00,#ff9a00,#ff9a00,#ff9a00,#ff9a00,#ff9a00,#ff9a00,#ff9a00,#ff9a00,#ff9a00)"></div><div style="top:86px;background:linear-gradient(90deg,#fffa00,#fffa00,#fff900,#fff900,#fff800,#fff700,#fff700,#fff800,#fffb00,#fbff04,#f0ff0f,#e1ff1e,#d0ff2f,#c0ff3f,#b2ff4d,#a7ff58,#a1ff5e,#9dff62,#9aff65,#98ff67,#96ff69,#94ff6b,#92ff6d,#90ff6f,#8eff71,#8cff73,#8aff75,#88ff77,#86ff79,#83ff7c,#77ff88,#4effb1,#00fdff,#00aeff,#008fff,#00adff,#00f1ff,#2dffd2,#45ffba,#48ffb7,#47ffb8,#46ffb9,#45ffba,#44ffbb,#43ffbc,#42ffbd,#41ffbe,#40ffbf,#3fffc0,#3effc1,#3dffc2,#3cffc3,#3bffc4,#38ffc7,#2cffd3,#07fff8,#00c1ff,#006bff,#0020ff,#0000f8,#0000fc,#002fff,#008bff,#00eeff,#36ffc9,#5bffa4,#69ff96,#70ff8f,#75ff8a,#7aff85,#7eff81,#81ff7e,#82ff7d,#82ff7d,#81ff7e,#80ff7f,#7eff81,#7cff83,#7bff84,#79ff86,#77ff88,#75ff8a,#73ff8c,#71ff8e,#6fff90,#6dff92,#6cff93,#6aff95,#68ff97,#67ff98,#68ff97,#69ff96,#66ff99,#0efff1,#003dff,#0000c4,#0000af,#0000b2,#0000d4,#0011ff,#0000f1,#0000b0,#000096,#000093,#0000a1,#0000e4,#008bff,#61ff9e,#dbff24,#f7ff08,#fbff04,#ffff00,#fffc00,#fff900,#fff600,#fff300,#fff000,#ffed00,#ffeb00,#ffe800,#ffe700,#ffe700,#ffe900,#ffed00,#fff200,#fff800,#fffe00,#fbff04,#f6ff09,#f2ff0d,#f0ff0f,#efff10,#efff10,#f0ff0f,#f0ff0f,#f1ff0e,#f2ff0d,#f3ff0c,#f4ff0b,#f5ff0a,#f6ff09,#f6ff09,#f7ff08,#f8ff07,#f9ff06,#faff05,#fcff03,#fdff02,#fffe00,#fffc00,#fffa00,#fff800,#fff500,#fff300,#fff000,#ffee00,#ffec00,#ffea00,#ffe900,#ffe900,#ffe900,#ffea00,#ffec00,#ffee00,#fff000,#fff200,#fff400,#fff600,#fff800,#fffa00,#fffd00,#fcff03,#f4ff0b,#e6ff19,#d1ff2e,#b4ff4b,#94ff6b,#75ff8a,#5affa5,#43ffbc,#25ffda,#00f8ff,#00cbff,#00bbff,#00deff,#29ffd6,#6aff95,#8cff73,#9eff61,#acff53,#bbff44,#ccff33,#deff21,#f1ff0e,#fff900,#ffe500,#ffd100,#ffc000,#ffb100,#ffa600,#ff9f00,#ff9c00,#ff9a00,#ff9a00,#ff9a00,#ff9a00,#ff9a00,#ff9a00,#ff9a00,#ff9a00,#ff9a00,#ff9a00,#ff9a00,#ff9a00,#ff9a00,#ff9a00,#ff9a00,#ff9a00,#ff9a00)"></div><div style="top:88px;background:linear-gradient(90deg,#ffc000,#ffc100,#ffc200,#ffc500,#ffc800,#ffcc00,#ffd100,#ffd700,#ffe000,#ffee00,#feff01,#e8ff17,#d1ff2e,#bbff44,#a9ff56,#9aff65,#8dff72,#79ff86,#5bffa4,#40ffbf,#38ffc7,#48ffb7,#61ff9e,#71ff8e,#75ff8a,#74ff8b,#71ff8e,#6eff91,#6bff94,#63ff9c,#36ffc9,#00b2ff,#000bff,#0000b0,#0000a4,#0000b7,#001eff,#00bdff,#2affd5,#47ffb8,#49ffb6,#48ffb7,#46ffb9,#45ffba,#44ffbb,#43ffbc,#41ffbe,#40ffbf,#3fffc0,#3effc1,#3cffc3,#3bffc4,#3affc5,#39ffc6,#38ffc7,#37ffc8,#35ffca,#31ffce,#2dffd2,#2cffd3,#31ffce,#3cffc3,#48ffb7,#53ffac,#5affa5,#60ff9f,#65ff9a,#6aff95,#6fff90,#73ff8c,#77ff88,#7aff85,#7bff84,#7bff84,#79ff86,#78ff87,#76ff89,#73ff8c,#71ff8e,#6fff90,#6dff92,#6bff94,#68ff97,#66ff99,#64ff9b,#62ff9d,#60ff9f,#5effa1,#5cffa3,#5bffa4,#5cffa3,#5fffa0,#5fffa0,#12ffed,#0047ff,#0000c8,#0000b0,#0000b4,#0000ec,#0072ff,#007bff,#0014ff,#0000d7,#0000cd,#0000f3,#0062ff,#1affe5,#c6ff39,#ffee00,#ffe000,#ffdc00,#ffd900,#ffd700,#ffd500,#ffd300,#ffd100,#ffd000,#ffce00,#ffcd00,#ffcd00,#ffce00,#ffd100,#ffd600,#ffdd00,#ffe500,#ffee00,#fff600,#ffff00,#f9ff06,#f4ff0b,#f1ff0e,#f0ff0f,#f1ff0e,#f1ff0e,#f2ff0d,#f3ff0c,#f4ff0b,#f5ff0a,#f6ff09,#f7ff08,#f8ff07,#f9ff06,#faff05,#fbff04,#fcff03,#fdff02,#ffff00,#fffd00,#fffa00,#fff800,#fff500,#fff100,#ffee00,#ffeb00,#ffe800,#ffe500,#ffe200,#ffe000,#ffdf00,#ffde00,#ffdf00,#ffe000,#ffe200,#ffe500,#ffe700,#ffea00,#ffec00,#ffef00,#fff100,#fff400,#fff700,#fffc00,#f9ff06,#ebff14,#d6ff29,#baff45,#9aff65,#7bff84,#62ff9d,#53ffac,#4dffb2,#50ffaf,#57ffa8,#62ff9d,#6eff91,#76ff89,#62ff9d,#12ffed,#00c0ff,#00c0ff,#20ffdf,#96ff69,#d5ff2a,#efff10,#fffa00,#ffe600,#ffd100,#ffbf00,#ffb000,#ffa500,#ff9e00,#ff9a00,#ff9900,#ff9800,#ff9800,#ff9800,#ff9900,#ff9900,#ff9900,#ff9900,#ff9900,#ff9900,#ff9900,#ff9900,#ff9900,#ff9a00,#ff9a00,#ff9a00,#ff9a00)"></div><div style="top:90px;background:linear-gradient(90deg,#ffab00,#ffac00,#ffae00,#ffb100,#ffb500,#ffba00,#ffc000,#ffc700,#ffd100,#ffdf00,#fff100,#f8ff07,#e1ff1e,#caff35,#b4ff4b,#92ff6d,#3cffc3,#009fff,#0009ff,#0000be,#0000b4,#0000de,#0053ff,#00eaff,#4dffb2,#69ff96,#69ff96,#65ff9a,#61ff9e,#5cffa3,#51ffae,#2dffd2,#00e4ff,#009eff,#0083ff,#00a3ff,#00e8ff,#26ffd9,#3effc1,#42ffbd,#41ffbe,#40ffbf,#3fffc0,#3dffc2,#3cffc3,#3bffc4,#3affc5,#38ffc7,#37ffc8,#36ffc9,#35ffca,#34ffcb,#32ffcd,#31ffce,#30ffcf,#30ffcf,#31ffce,#32ffcd,#35ffca,#38ffc7,#3cffc3,#40ffbf,#43ffbc,#47ffb8,#4bffb4,#50ffaf,#53ffac,#57ffa8,#5bffa4,#5fffa0,#62ff9d,#64ff9b,#65ff9a,#64ff9b,#63ff9c,#62ff9d,#60ff9f,#5effa1,#5cffa3,#5bffa4,#59ffa6,#57ffa8,#55ffaa,#53ffac,#51ffae,#4fffb0,#4effb1,#4cffb3,#4affb5,#4affb5,#4bffb4,#50ffaf,#56ffa9,#4effb1,#00f4ff,#0073ff,#0033ff,#004bff,#00c0ff,#49ffb6,#40ffbf,#00e1ff,#009cff,#0092ff,#00c9ff,#3cffc3,#bfff40,#ffed00,#ffd300,#ffcc00,#ffc900,#ffc600,#ffc300,#ffc100,#ffbf00,#ffbd00,#ffbc00,#ffbc00,#ffbd00,#ffbf00,#ffc300,#ffc800,#ffcf00,#ffd800,#ffe100,#ffeb00,#fff400,#fffc00,#fbff04,#f7ff08,#f4ff0b,#f3ff0c,#f3ff0c,#f3ff0c,#f4ff0b,#f4ff0b,#f5ff0a,#f5ff0a,#f6ff09,#f5ff0a,#f2ff0d,#ebff14,#dfff20,#d3ff2c,#ccff33,#cdff32,#d8ff27,#e8ff17,#f6ff09,#fffd00,#fff600,#fff200,#ffee00,#ffeb00,#ffe700,#ffe300,#ffe000,#ffde00,#ffdc00,#ffdb00,#ffdc00,#ffdd00,#ffdf00,#ffe200,#ffe400,#ffe700,#ffea00,#ffec00,#ffef00,#fff200,#fff600,#fffa00,#fcff03,#efff10,#ddff22,#c4ff3b,#a9ff56,#8eff71,#79ff86,#6bff94,#67ff98,#69ff96,#71ff8e,#7bff84,#84ff7b,#76ff89,#00f2ff,#0015ff,#0000aa,#0000a6,#0003ff,#00faff,#bfff40,#faff05,#ffee00,#ffdb00,#ffc800,#ffb700,#ffa900,#ff9f00,#ff9800,#ff9500,#ff9400,#ff9400,#ff9400,#ff9500,#ff9500,#ff9600,#ff9600,#ff9700,#ff9700,#ff9800,#ff9800,#ff9800,#ff9900,#ff9900,#ff9900,#ff9a00,#ff9a00)"></div><div style="top:92px;background:linear-gradient(90deg,#ffa400,#ffa600,#ffa800,#ffab00,#ffaf00,#ffb300,#ffb900,#ffbf00,#ffc700,#ffd200,#ffe100,#fff300,#f6ff09,#e1ff1e,#cbff34,#afff50,#6eff91,#00f1ff,#0067ff,#0011ff,#0002ff,#0036ff,#00a6ff,#1dffe2,#5effa1,#6bff94,#68ff97,#63ff9c,#5dffa2,#58ffa7,#52ffad,#4dffb2,#47ffb8,#42ffbd,#3effc1,#3cffc3,#3affc5,#39ffc6,#38ffc7,#37ffc8,#35ffca,#34ffcb,#33ffcc,#32ffcd,#30ffcf,#2effd1,#2cffd3,#2affd5,#29ffd6,#28ffd7,#28ffd7,#28ffd7,#28ffd7,#27ffd8,#26ffd9,#26ffd9,#26ffd9,#27ffd8,#28ffd7,#2affd5,#2dffd2,#30ffcf,#32ffcd,#35ffca,#38ffc7,#3affc5,#3dffc2,#40ffbf,#42ffbd,#44ffbb,#46ffb9,#48ffb7,#48ffb7,#48ffb7,#48ffb7,#46ffb9,#45ffba,#44ffbb,#43ffbc,#41ffbe,#40ffbf,#3fffc0,#3effc1,#3cffc3,#3bffc4,#3affc5,#39ffc6,#38ffc7,#37ffc8,#37ffc8,#3affc5,#3fffc0,#48ffb7,#54ffab,#5effa1,#5effa1,#5cffa3,#72ff8d,#98ff67,#b2ff4d,#b2ff4d,#9dff62,#89ff76,#8dff72,#b3ff4c,#ebff14,#ffe600,#ffd000,#ffc700,#ffc200,#ffbd00,#ffba00,#ffb600,#ffb300,#ffb000,#ffae00,#ffae00,#ffb000,#ffb300,#ffb700,#ffbe00,#ffc500,#ffcd00,#ffd700,#ffe100,#ffeb00,#fff400,#fffb00,#fdff02,#f9ff06,#f7ff08,#f6ff09,#f5ff0a,#f5ff0a,#f5ff0a,#f5ff0a,#f5ff0a,#f1ff0e,#e1ff1e,#b0ff4f,#50ffaf,#00ceff,#0053ff,#0001ff,#0000dc,#0000df,#000cff,#0067ff,#00e8ff,#6cff93,#caff35,#f9ff06,#fff400,#ffed00,#ffe900,#ffe500,#ffe100,#ffde00,#ffdc00,#ffdb00,#ffdc00,#ffdd00,#ffdf00,#ffe200,#ffe400,#ffe700,#ffea00,#ffec00,#ffef00,#fff200,#fff500,#fffa00,#feff01,#f3ff0c,#e4ff1b,#d1ff2e,#bbff44,#a6ff59,#95ff6a,#8bff74,#88ff77,#8bff74,#92ff6d,#9bff64,#a5ff5a,#abff54,#91ff6e,#37ffc8,#00daff,#00d9ff,#3effc1,#baff45,#f9ff06,#ffee00,#ffdd00,#ffcb00,#ffbb00,#ffab00,#ff9f00,#ff9600,#ff9100,#ff8f00,#ff8e00,#ff8f00,#ff8f00,#ff9000,#ff9100,#ff9200,#ff9300,#ff9400,#ff9500,#ff9600,#ff9600,#ff9700,#ff9800,#ff9900,#ff9900,#ff9900,#ff9a00)"></div><div style="top:94px;background:linear-gradient(90deg,#ff9f00,#ffa000,#ffa200,#ffa500,#ffa900,#ffad00,#ffb200,#ffb700,#ffbe00,#ffc600,#ffd100,#ffe000,#fff200,#f8ff07,#e3ff1c,#cfff30,#bdff42,#adff52,#9bff64,#8cff73,#83ff7c,#81ff7e,#80ff7f,#7dff82,#77ff88,#70ff8f,#69ff96,#62ff9d,#5bffa4,#54ffab,#4dffb2,#46ffb9,#3fffc0,#3affc5,#35ffca,#32ffcd,#30ffcf,#2effd1,#2dffd2,#2cffd3,#2bffd4,#29ffd6,#24ffdb,#18ffe7,#01fffe,#00ddff,#00b9ff,#009eff,#0096ff,#00a1ff,#00bdff,#00e0ff,#00feff,#12ffed,#1affe5,#1cffe3,#1cffe3,#1cffe3,#1dffe2,#1effe1,#1fffe0,#20ffdf,#21ffde,#23ffdc,#24ffdb,#25ffda,#26ffd9,#28ffd7,#29ffd6,#2affd5,#2bffd4,#2cffd3,#2cffd3,#2cffd3,#29ffd6,#22ffdd,#13ffec,#00fcff,#00e6ff,#00d7ff,#00d5ff,#00e0ff,#00f4ff,#0afff5,#19ffe6,#21ffde,#24ffdb,#24ffdb,#24ffdb,#25ffda,#28ffd7,#2effd1,#39ffc6,#47ffb8,#57ffa8,#69ff96,#7cff83,#90ff6f,#a3ff5c,#b6ff49,#c9ff36,#d9ff26,#e8ff17,#f9ff06,#fff100,#ffde00,#ffd000,#ffc600,#ffbe00,#ffb800,#ffb300,#ffaf00,#ffaa00,#ffa600,#ffa300,#ffa100,#ffa100,#ffa400,#ffa900,#ffb100,#ffb900,#ffc200,#ffcd00,#ffd700,#ffe200,#ffec00,#fff400,#fffb00,#feff01,#f9ff06,#eaff15,#c4ff3b,#89ff76,#5cffa3,#5affa5,#83ff7c,#bcff43,#e0ff1f,#deff21,#afff50,#4fffb0,#00cdff,#0053ff,#0000ff,#0000dc,#0000df,#000bff,#0066ff,#00e6ff,#69ff96,#c6ff39,#f6ff09,#fff600,#ffef00,#ffeb00,#ffe600,#ffe200,#ffdf00,#ffdd00,#ffdc00,#ffdc00,#ffdd00,#ffe000,#ffe200,#ffe500,#ffe700,#ffea00,#ffed00,#ffef00,#fff200,#fff500,#fff900,#ffff00,#f7ff08,#ecff13,#ddff22,#cdff32,#bdff42,#b1ff4e,#aaff55,#a9ff56,#adff52,#b4ff4b,#bcff43,#c5ff3a,#ceff31,#d7ff28,#dfff20,#e8ff17,#f1ff0e,#fdff02,#fff500,#ffe800,#ffda00,#ffcb00,#ffbc00,#ffad00,#ffa000,#ff9600,#ff8f00,#ff8a00,#ff8900,#ff8900,#ff8a00,#ff8b00,#ff8c00,#ff8e00,#ff8f00,#ff9000,#ff9200,#ff9300,#ff9400,#ff9500,#ff9700,#ff9800,#ff9900,#ff9900,#ff9a00,#ff9a00)"></div><div style="top:96px;background:linear-gradient(90deg,#ff9c00,#ff9c00,#ff9e00,#ffa100,#ffa400,#ffa800,#ffac00,#ffb000,#ffb500,#ffbb00,#ffc300,#ffcf00,#ffde00,#fff000,#faff05,#e7ff18,#d4ff2b,#c5ff3a,#b8ff47,#aeff51,#a5ff5a,#9dff62,#95ff6a,#8dff72,#84ff7b,#7cff83,#74ff8b,#6cff93,#64ff9b,#5cffa3,#55ffaa,#4dffb2,#46ffb9,#40ffbf,#3bffc4,#37ffc8,#35ffca,#33ffcc,#32ffcd,#31ffce,#2fffd0,#27ffd8,#0efff1,#00d3ff,#007cff,#0020ff,#0000db,#0000ba,#0000b2,#0000be,#0000e7,#0031ff,#008cff,#00dbff,#0bfff4,#1dffe2,#21ffde,#20ffdf,#1fffe0,#1effe1,#1cffe3,#1bffe4,#1affe5,#19ffe6,#18ffe7,#18ffe7,#18ffe7,#18ffe7,#18ffe7,#19ffe6,#19ffe6,#19ffe6,#17ffe8,#0efff1,#00f0ff,#00b5ff,#0061ff,#0010ff,#0000d6,#0000bc,#0000b9,#0000cd,#0000fe,#004dff,#00a2ff,#00e4ff,#08fff7,#14ffeb,#17ffe8,#19ffe6,#1dffe2,#23ffdc,#2effd1,#3dffc2,#4effb1,#61ff9e,#75ff8a,#8aff75,#9eff61,#b3ff4c,#c8ff37,#dcff23,#f1ff0e,#fffa00,#ffe800,#ffd900,#ffcd00,#ffc300,#ffbc00,#ffb600,#ffb100,#ffad00,#ffa800,#ffa400,#ffa000,#ff9f00,#ff9f00,#ffa300,#ffaa00,#ffb200,#ffbc00,#ffc700,#ffd100,#ffdc00,#ffe600,#fff000,#fff700,#fffd00,#f9ff06,#d7ff28,#60ff9f,#0096ff,#0000ed,#0000ac,#0000ab,#0000e3,#0083ff,#4dffb2,#c9ff36,#ebff14,#ebff14,#e3ff1c,#d6ff29,#c9ff36,#c1ff3e,#c2ff3d,#ccff33,#dbff24,#e9ff16,#f4ff0b,#fcff03,#fffd00,#fff900,#fff400,#fff000,#ffec00,#ffe800,#ffe400,#ffe200,#ffe100,#ffe100,#ffe200,#ffe400,#ffe700,#ffe900,#ffeb00,#ffee00,#fff000,#fff300,#fff600,#fff800,#fffc00,#feff01,#f8ff07,#f0ff0f,#e5ff1a,#daff25,#d0ff2f,#c8ff37,#c4ff3b,#c5ff3a,#c9ff36,#cfff30,#d6ff29,#deff21,#e5ff1a,#edff12,#f5ff0a,#fdff02,#fff800,#ffef00,#ffe500,#ffda00,#ffcf00,#ffc200,#ffb600,#ffa900,#ff9f00,#ff9600,#ff9000,#ff8d00,#ff8c00,#ff8d00,#ff8e00,#ff8f00,#ff9100,#ff9200,#ff9400,#ff9500,#ff9700,#ff9800,#ff9a00,#ff9b00,#ff9d00,#ff9e00,#ff9f00,#ffa000,#ffa000,#ffa100)"></div><div style="top:98px;background:linear-gradient(90deg,#ff9a00,#ff9b00,#ff9c00,#ff9e00,#ffa100,#ffa400,#ffa700,#ffab00,#ffaf00,#ffb300,#ffb900,#ffc200,#ffcd00,#ffdb00,#ffeb00,#fffb00,#f4ff0b,#e7ff18,#dcff23,#d3ff2c,#caff35,#c2ff3d,#bbff44,#b3ff4c,#abff54,#a4ff5b,#9cff63,#94ff6b,#8dff72,#85ff7a,#7eff81,#77ff88,#71ff8e,#6bff94,#67ff98,#64ff9b,#62ff9d,#60ff9f,#5fffa0,#5effa1,#5cffa3,#53ffac,#37ffc8,#00f6ff,#0095ff,#002fff,#0000e2,#0000bc,#0000b3,#0000c1,#0000ef,#0042ff,#00a8ff,#01fffe,#35ffca,#48ffb7,#4bffb4,#48ffb7,#42ffbd,#3cffc3,#36ffc9,#2fffd0,#29ffd6,#24ffdb,#20ffdf,#1dffe2,#1cffe3,#1bffe4,#1bffe4,#1bffe4,#1bffe4,#1bffe4,#19ffe6,#10ffef,#00f2ff,#00b7ff,#0063ff,#0010ff,#0000d6,#0000bc,#0000ba,#0000ce,#0000ff,#004eff,#00a4ff,#00e7ff,#0cfff3,#18ffe7,#1bffe4,#1dffe2,#20ffdf,#25ffda,#2effd1,#3bffc4,#4affb5,#5cffa3,#6fff90,#83ff7c,#97ff68,#abff54,#bfff40,#d4ff2b,#e7ff18,#faff05,#fff300,#ffe400,#ffd900,#ffd100,#ffcc00,#ffc700,#ffc400,#ffc000,#ffbd00,#ffba00,#ffb800,#ffb700,#ffb800,#ffbc00,#ffc200,#ffc900,#ffd100,#ffda00,#ffe300,#ffec00,#fff400,#fffc00,#fcff03,#f8ff07,#f4ff0b,#e7ff18,#b4ff4b,#44ffbb,#00bfff,#006cff,#0068ff,#00b4ff,#36ffc9,#a9ff56,#deff21,#eaff15,#eaff15,#eaff15,#e9ff16,#e9ff16,#e8ff17,#e8ff17,#e9ff16,#ebff14,#edff12,#f0ff0f,#f3ff0c,#f7ff08,#faff05,#feff01,#fffd00,#fffa00,#fff700,#fff400,#fff200,#fff100,#fff100,#fff200,#fff400,#fff600,#fff700,#fff900,#fffb00,#fffd00,#ffff00,#fdff02,#fbff04,#f9ff06,#f5ff0a,#f1ff0e,#ecff13,#e5ff1a,#deff21,#d7ff28,#d3ff2c,#d1ff2e,#d2ff2d,#d5ff2a,#daff25,#e0ff1f,#e6ff19,#ecff13,#f3ff0c,#f9ff06,#ffff00,#fff800,#fff100,#ffe900,#ffe100,#ffd700,#ffce00,#ffc400,#ffbb00,#ffb300,#ffad00,#ffa900,#ffa600,#ffa600,#ffa600,#ffa700,#ffa800,#ffaa00,#ffab00,#ffac00,#ffad00,#ffaf00,#ffb000,#ffb100,#ffb200,#ffb300,#ffb500,#ffb500,#ffb600,#ffb600,#ffb700)"></div><div style="top:100px;background:linear-gradient(90deg,#ff9a00,#ff9b00,#ff9c00,#ff9e00,#ffa000,#ffa200,#ffa500,#ffa700,#ffaa00,#ffae00,#ffb200,#ffb700,#ffbf00,#ffc800,#ffd200,#ffdd00,#ffe700,#fff000,#fff800,#feff01,#f7ff08,#f0ff0f,#e9ff16,#e3ff1c,#dcff23,#d5ff2a,#ceff31,#c8ff37,#c1ff3e,#baff45,#b4ff4b,#aeff51,#a9ff56,#a5ff5a,#a2ff5d,#a0ff5f,#9eff61,#9dff62,#9cff63,#9bff64,#9aff65,#99ff66,#93ff6c,#84ff7b,#66ff99,#3affc5,#0bfff4,#00e8ff,#00ddff,#00edff,#12ffed,#40ffbf,#68ff97,#80ff7f,#89ff76,#89ff76,#85ff7a,#7dff82,#73ff8c,#67ff98,#5bffa4,#4effb1,#42ffbd,#38ffc7,#30ffcf,#2bffd4,#28ffd7,#26ffd9,#26ffd9,#26ffd9,#26ffd9,#26ffd9,#26ffd9,#25ffda,#23ffdc,#1cffe3,#0efff1,#00f9ff,#00e3ff,#00d5ff,#00d3ff,#00dfff,#00f3ff,#0afff5,#1affe5,#22ffdd,#25ffda,#26ffd9,#26ffd9,#27ffd8,#29ffd6,#2dffd2,#33ffcc,#3cffc3,#49ffb6,#58ffa7,#69ff96,#7bff84,#8eff71,#a1ff5e,#b4ff4b,#c7ff38,#daff25,#ecff13,#fbff04,#fff600,#ffec00,#ffe600,#ffe200,#ffe000,#ffdf00,#ffdd00,#ffdc00,#ffdb00,#ffda00,#ffdb00,#ffdc00,#ffdf00,#ffe300,#ffe800,#ffee00,#fff400,#fffb00,#fdff02,#f8ff07,#f2ff0d,#eeff11,#ebff14,#e9ff16,#e8ff17,#e7ff18,#e5ff1a,#e2ff1d,#dfff20,#dfff20,#e1ff1e,#e3ff1c,#e4ff1b,#e4ff1b,#e3ff1c,#e3ff1c,#e2ff1d,#e2ff1d,#e2ff1d,#e2ff1d,#e2ff1d,#e2ff1d,#e3ff1c,#e5ff1a,#e6ff19,#e8ff17,#eaff15,#ecff13,#eeff11,#f1ff0e,#f3ff0c,#f4ff0b,#f6ff09,#f7ff08,#f8ff07,#f8ff07,#f7ff08,#f6ff09,#f5ff0a,#f4ff0b,#f2ff0d,#efff10,#eaff15,#e4ff1b,#e0ff1f,#e0ff1f,#e4ff1b,#e7ff18,#e7ff18,#e4ff1b,#e1ff1e,#ddff22,#daff25,#d8ff27,#d7ff28,#d9ff26,#dbff24,#dfff20,#e3ff1c,#e8ff17,#ecff13,#f1ff0e,#f5ff0a,#faff05,#ffff00,#fffa00,#fff500,#ffef00,#ffe900,#ffe200,#ffdc00,#ffd600,#ffd100,#ffcd00,#ffca00,#ffc900,#ffc900,#ffc900,#ffc900,#ffca00,#ffcb00,#ffcc00,#ffcc00,#ffcd00,#ffce00,#ffcf00,#ffcf00,#ffd000,#ffd100,#ffd200,#ffd200,#ffd200,#ffd300,#ffd300)"></div><div style="top:102px;background:linear-gradient(90deg,#ff9f00,#ff9f00,#ffa100,#ffa300,#ffa500,#ffa800,#ffab00,#ffae00,#ffb100,#ffb300,#ffb600,#ffb900,#ffbd00,#ffc200,#ffc700,#ffcc00,#ffd200,#ffd800,#ffde00,#ffe300,#ffe900,#ffef00,#fff400,#fffa00,#feff01,#f9ff06,#f3ff0c,#eeff11,#e9ff16,#e4ff1b,#e0ff1f,#dcff23,#d9ff26,#d7ff28,#d6ff29,#d4ff2b,#d3ff2c,#d3ff2c,#d2ff2d,#d1ff2e,#d0ff2f,#cfff30,#cfff30,#ceff31,#ccff33,#caff35,#c8ff37,#c6ff39,#c4ff3b,#c4ff3b,#c5ff3a,#c6ff39,#c6ff39,#c5ff3a,#c3ff3c,#bfff40,#b7ff48,#adff52,#9eff61,#8eff71,#7bff84,#69ff96,#58ffa7,#49ffb6,#3dffc2,#36ffc9,#32ffcd,#30ffcf,#2fffd0,#2fffd0,#2fffd0,#2fffd0,#2fffd0,#2fffd0,#2fffd0,#2fffd0,#2fffd0,#2fffd0,#2fffd0,#2fffd0,#2fffd0,#2fffd0,#2fffd0,#2fffd0,#2fffd0,#2fffd0,#2fffd0,#2fffd0,#2fffd0,#30ffcf,#31ffce,#33ffcc,#37ffc8,#3dffc2,#46ffb9,#53ffac,#62ff9d,#72ff8d,#83ff7c,#95ff6a,#a6ff59,#b7ff48,#c8ff37,#d9ff26,#e7ff18,#f2ff0d,#faff05,#feff01,#fffe00,#fffd00,#fffd00,#fffd00,#fffd00,#fffe00,#ffff00,#feff01,#fdff02,#fbff04,#f8ff07,#f5ff0a,#f1ff0e,#eeff11,#eaff15,#e6ff19,#e3ff1c,#e0ff1f,#deff21,#dcff23,#dbff24,#daff25,#daff25,#daff25,#daff25,#daff25,#d9ff26,#d9ff26,#d9ff26,#d9ff26,#d9ff26,#d9ff26,#d9ff26,#d8ff27,#d8ff27,#d8ff27,#d8ff27,#d8ff27,#d8ff27,#d9ff26,#daff25,#daff25,#dbff24,#dcff23,#ddff22,#deff21,#dfff20,#e0ff1f,#e1ff1e,#e2ff1d,#e2ff1d,#e3ff1c,#e3ff1c,#e3ff1c,#e2ff1d,#dfff20,#cfff30,#98ff67,#2cffd3,#00abff,#004cff,#0026ff,#003eff,#0091ff,#0dfff2,#80ff7f,#c2ff3d,#d7ff28,#d9ff26,#d9ff26,#d8ff27,#d8ff27,#d9ff26,#dbff24,#deff21,#e1ff1e,#e4ff1b,#e7ff18,#eaff15,#edff12,#f0ff0f,#f4ff0b,#f7ff08,#fbff04,#feff01,#fffc00,#fff800,#fff400,#fff100,#ffee00,#ffec00,#ffeb00,#ffea00,#ffea00,#ffea00,#ffea00,#ffea00,#ffeb00,#ffeb00,#ffeb00,#ffeb00,#ffec00,#ffec00,#ffec00,#ffec00,#ffed00,#ffed00,#ffed00,#ffed00,#ffed00,#ffed00)"></div><div style="top:104px;background:linear-gradient(90deg,#ffb100,#ffb300,#ffb600,#ffbb00,#ffc200,#ffc900,#ffd000,#ffd600,#ffda00,#ffde00,#ffe000,#ffe200,#ffe400,#ffe600,#ffe700,#ffea00,#ffec00,#ffef00,#fff300,#fff700,#fffb00,#ffff00,#faff05,#f6ff09,#f2ff0d,#eeff11,#ebff14,#e9ff16,#e8ff17,#e7ff18,#e8ff17,#e8ff17,#e9ff16,#ebff14,#ecff13,#edff12,#edff12,#edff12,#ecff13,#ebff14,#ebff14,#eaff15,#e9ff16,#e9ff16,#e8ff17,#e7ff18,#e7ff18,#e6ff19,#e5ff1a,#e5ff1a,#e4ff1b,#e3ff1c,#e3ff1c,#e1ff1e,#dfff20,#daff25,#d2ff2d,#c5ff3a,#b5ff4a,#a1ff5e,#8bff74,#76ff89,#61ff9e,#50ffaf,#40ffbf,#27ffd8,#08fff7,#00faff,#0bfff4,#1cffe3,#13ffec,#00feff,#00faff,#0bfff4,#21ffde,#2effd1,#32ffcd,#32ffcd,#32ffcd,#32ffcd,#32ffcd,#32ffcd,#32ffcd,#32ffcd,#32ffcd,#32ffcd,#32ffcd,#32ffcd,#32ffcd,#32ffcd,#33ffcc,#34ffcb,#36ffc9,#3affc5,#41ffbe,#4affb5,#56ffa9,#63ff9c,#71ff8e,#80ff7f,#8eff71,#9cff63,#abff54,#b8ff47,#c4ff3b,#cdff32,#d4ff2b,#d8ff27,#d9ff26,#daff25,#daff25,#d9ff26,#d9ff26,#d8ff27,#d8ff27,#d7ff28,#d5ff2a,#d4ff2b,#d2ff2d,#d1ff2e,#cfff30,#cdff32,#cbff34,#caff35,#c8ff37,#c7ff38,#c6ff39,#c5ff3a,#c4ff3b,#c4ff3b,#c4ff3b,#c4ff3b,#c5ff3a,#c5ff3a,#c5ff3a,#c5ff3a,#c5ff3a,#c5ff3a,#c5ff3a,#c5ff3a,#c6ff39,#c6ff39,#c6ff39,#c6ff39,#c6ff39,#c6ff39,#c7ff38,#c7ff38,#c8ff37,#c8ff37,#c9ff36,#caff35,#caff35,#cbff34,#cbff34,#ccff33,#cdff32,#cdff32,#ceff31,#ceff31,#cfff30,#cfff30,#cfff30,#caff35,#abff54,#4fffb0,#00b4ff,#001eff,#0000c7,#0000af,#0000bd,#0004ff,#0090ff,#31ffce,#9eff61,#c6ff39,#cdff32,#ccff33,#caff35,#c9ff36,#c8ff37,#c9ff36,#caff35,#ccff33,#cfff30,#d2ff2d,#d5ff2a,#d8ff27,#dcff23,#dfff20,#e2ff1d,#e5ff1a,#e9ff16,#ecff13,#efff10,#f2ff0d,#f5ff0a,#f6ff09,#f8ff07,#f8ff07,#f9ff06,#f9ff06,#faff05,#faff05,#faff05,#faff05,#faff05,#fbff04,#fbff04,#fbff04,#fbff04,#fcff03,#fcff03,#fcff03,#fcff03,#fcff03,#fcff03,#fcff03,#fcff03)"></div><div style="top:106px;background:linear-gradient(90deg,#ffd000,#ffd400,#ffdc00,#ffe600,#fff400,#fbff04,#ecff13,#e0ff1f,#d7ff28,#d1ff2e,#ceff31,#ccff33,#cbff34,#cbff34,#caff35,#caff35,#c9ff36,#c7ff38,#c5ff3a,#c3ff3c,#c0ff3f,#beff41,#bbff44,#b9ff46,#b7ff48,#b6ff49,#b7ff48,#b9ff46,#beff41,#c4ff3b,#cbff34,#d2ff2d,#daff25,#e0ff1f,#e5ff1a,#e9ff16,#ebff14,#ebff14,#ebff14,#ebff14,#eaff15,#eaff15,#e9ff16,#e9ff16,#e8ff17,#e8ff17,#e7ff18,#e7ff18,#e7ff18,#e6ff19,#e6ff19,#e5ff1a,#e4ff1b,#e3ff1c,#e1ff1e,#dcff23,#d4ff2b,#c7ff38,#b6ff49,#a1ff5e,#8bff74,#75ff8a,#5fffa0,#44ffbb,#00ecff,#003dff,#0000c0,#0000aa,#0000d1,#0015ff,#0000ec,#0000b2,#0000ab,#0000d3,#0048ff,#00d2ff,#1dffe2,#2dffd2,#2effd1,#2effd1,#2effd1,#2effd1,#2effd1,#2effd1,#2effd1,#2effd1,#2effd1,#2effd1,#2effd1,#2dffd2,#2bffd4,#29ffd6,#27ffd8,#27ffd8,#2affd5,#31ffce,#3bffc4,#47ffb8,#54ffab,#60ff9f,#6cff93,#76ff89,#80ff7f,#8aff75,#93ff6c,#9aff65,#a0ff5f,#a4ff5b,#a6ff59,#a8ff57,#a9ff56,#aaff55,#abff54,#acff53,#acff53,#acff53,#acff53,#abff54,#aaff55,#aaff55,#a9ff56,#a8ff57,#a8ff57,#a7ff58,#a6ff59,#a6ff59,#a6ff59,#a5ff5a,#a6ff59,#a6ff59,#a6ff59,#a7ff58,#a7ff58,#a7ff58,#a8ff57,#a8ff57,#a9ff56,#a9ff56,#a9ff56,#aaff55,#aaff55,#abff54,#abff54,#abff54,#acff53,#acff53,#adff52,#aeff51,#afff50,#b0ff4f,#b1ff4e,#b2ff4d,#b3ff4c,#b4ff4b,#b5ff4a,#b6ff49,#b8ff47,#b9ff46,#baff45,#bbff44,#bcff43,#bdff42,#beff41,#bfff40,#bfff40,#b9ff46,#a8ff57,#8aff75,#6cff93,#5effa1,#68ff97,#86ff79,#a7ff58,#bbff44,#c1ff3e,#bfff40,#baff45,#b5ff4a,#afff50,#a9ff56,#a5ff5a,#a3ff5c,#a3ff5c,#a5ff5a,#a9ff56,#adff52,#b2ff4d,#b7ff48,#bbff44,#c0ff3f,#c5ff3a,#caff35,#ceff31,#d3ff2c,#d7ff28,#dbff24,#dfff20,#e1ff1e,#e3ff1c,#e4ff1b,#e5ff1a,#e5ff1a,#e6ff19,#e7ff18,#e7ff18,#e8ff17,#e9ff16,#e9ff16,#eaff15,#ebff14,#ebff14,#d5ff2a,#5cffa3,#00d4ff,#00d3ff,#5affa5,#d7ff28,#eeff11,#efff10)"></div><div style="top:108px;background:linear-gradient(90deg,#fff400,#fffa00,#f8ff07,#e7ff18,#d2ff2d,#baff45,#a3ff5c,#90ff6f,#82ff7d,#79ff86,#75ff8a,#73ff8c,#73ff8c,#73ff8c,#73ff8c,#73ff8c,#73ff8c,#73ff8c,#72ff8d,#71ff8e,#6fff90,#6eff91,#6dff92,#6cff93,#62ff9d,#50ffaf,#41ffbe,#44ffbb,#5dffa2,#80ff7f,#9dff62,#b1ff4e,#c0ff3f,#cdff32,#d6ff29,#ddff22,#e0ff1f,#e1ff1e,#e2ff1d,#e2ff1d,#e2ff1d,#e1ff1e,#e1ff1e,#e1ff1e,#e1ff1e,#e1ff1e,#e0ff1f,#e0ff1f,#e0ff1f,#e0ff1f,#dfff20,#dfff20,#dfff20,#deff21,#dcff23,#d7ff28,#cfff30,#c2ff3d,#b1ff4e,#9dff62,#87ff78,#70ff8f,#5bffa4,#47ffb8,#1cffe3,#00b6ff,#004cff,#002bff,#005cff,#0095ff,#0076ff,#0039ff,#002dff,#0060ff,#00baff,#07fff8,#25ffda,#2affd5,#2affd5,#2affd5,#2affd5,#2affd5,#2affd5,#2affd5,#2affd5,#29ffd6,#24ffdb,#15ffea,#00f6ff,#00c5ff,#0088ff,#004aff,#0019ff,#0000f9,#0000ed,#0000f5,#0011ff,#0042ff,#0082ff,#00c8ff,#06fff9,#31ffce,#4affb5,#57ffa8,#5fffa0,#65ff9a,#6aff95,#6eff91,#71ff8e,#75ff8a,#78ff87,#7bff84,#7dff82,#7fff80,#81ff7e,#82ff7d,#83ff7c,#83ff7c,#83ff7c,#83ff7c,#84ff7b,#84ff7b,#84ff7b,#84ff7b,#83ff7c,#83ff7c,#82ff7d,#80ff7f,#80ff7f,#80ff7f,#81ff7e,#84ff7b,#86ff79,#88ff77,#89ff76,#8aff75,#8aff75,#8bff74,#8cff73,#8cff73,#8dff72,#8eff71,#8eff71,#8fff70,#90ff6f,#91ff6e,#92ff6d,#93ff6c,#95ff6a,#96ff69,#98ff67,#9aff65,#9cff63,#9dff62,#9fff60,#a1ff5e,#a3ff5c,#a5ff5a,#a6ff59,#a8ff57,#aaff55,#acff53,#aeff51,#afff50,#b1ff4e,#b3ff4c,#b5ff4a,#b7ff48,#b8ff47,#baff45,#bcff43,#bdff42,#bcff43,#baff45,#b5ff4a,#aeff51,#a4ff5b,#98ff67,#89ff76,#78ff87,#65ff9a,#53ffac,#46ffb9,#40ffbf,#44ffbb,#4fffb0,#61ff9e,#75ff8a,#88ff77,#98ff67,#a3ff5c,#acff53,#b3ff4c,#baff45,#c0ff3f,#c5ff3a,#caff35,#cdff32,#d0ff2f,#d1ff2e,#d3ff2c,#d4ff2b,#d5ff2a,#d6ff29,#d7ff28,#d8ff27,#d9ff26,#dbff24,#dcff23,#ddff22,#ddff22,#c9ff36,#54ffab,#00d0ff,#00cfff,#53ffac,#ccff33,#e3ff1c,#e4ff1b)"></div><div style="top:110px;background:linear-gradient(90deg,#efff10,#e7ff18,#d9ff26,#c5ff3a,#abff54,#8eff71,#73ff8c,#5cffa3,#4bffb4,#41ffbe,#3cffc3,#3bffc4,#3bffc4,#3bffc4,#3cffc3,#3dffc2,#3dffc2,#3bffc4,#1bffe4,#00c2ff,#0075ff,#0062ff,#0078ff,#00a0ff,#0060ff,#0000e4,#0000ac,#0000a7,#0000c8,#003cff,#00eaff,#71ff8e,#abff54,#c0ff3f,#cdff32,#d5ff2a,#daff25,#dcff23,#ddff22,#ddff22,#ddff22,#ddff22,#ddff22,#ddff22,#deff21,#deff21,#deff21,#deff21,#deff21,#deff21,#deff21,#deff21,#deff21,#deff21,#dcff23,#d8ff27,#d1ff2e,#c5ff3a,#b6ff49,#a3ff5c,#8fff70,#7aff85,#67ff98,#56ffa9,#4affb5,#41ffbe,#3cffc3,#3affc5,#3affc5,#3bffc4,#3affc5,#39ffc6,#39ffc6,#3affc5,#3bffc4,#3bffc4,#3bffc4,#3bffc4,#3bffc4,#3bffc4,#3affc5,#3affc5,#3affc5,#3affc5,#3affc5,#37ffc8,#2dffd2,#15ffea,#00e5ff,#009fff,#004fff,#0007ff,#0000d4,#0000b9,#0000b0,#0000b5,#0000cb,#0000f7,#003cff,#008dff,#00d9ff,#12ffed,#32ffcd,#41ffbe,#47ffb8,#4cffb3,#4fffb0,#53ffac,#58ffa7,#5cffa3,#60ff9f,#63ff9c,#67ff98,#6aff95,#6cff93,#6eff91,#6fff90,#70ff8f,#71ff8e,#71ff8e,#71ff8e,#6fff90,#66ff99,#4dffb2,#1effe1,#00ddff,#0098ff,#0060ff,#0040ff,#003aff,#0050ff,#0080ff,#00c3ff,#0afff5,#43ffbc,#66ff99,#76ff89,#7bff84,#7dff82,#7eff81,#7fff80,#7fff80,#80ff7f,#81ff7e,#82ff7d,#83ff7c,#84ff7b,#86ff79,#87ff78,#89ff76,#8bff74,#8dff72,#90ff6f,#92ff6d,#94ff6b,#96ff69,#98ff67,#9aff65,#9cff63,#9eff61,#a1ff5e,#a3ff5c,#a5ff5a,#a7ff58,#a9ff56,#abff54,#adff52,#b0ff4f,#b2ff4d,#b4ff4b,#b6ff49,#b7ff48,#b7ff48,#b4ff4b,#adff52,#9dff62,#7fff80,#49ffb6,#00f8ff,#0099ff,#003eff,#0000f8,#0000ce,#0000bb,#0000ba,#0000cb,#0000f3,#0039ff,#0095ff,#00f6ff,#48ffb7,#7fff80,#9dff62,#acff53,#b5ff4a,#bcff43,#c1ff3e,#c5ff3a,#c8ff37,#caff35,#ccff33,#cdff32,#ceff31,#d0ff2f,#d1ff2e,#d2ff2d,#d4ff2b,#d5ff2a,#d6ff29,#d8ff27,#d9ff26,#daff25,#dcff23,#ddff22,#deff21,#dfff20,#e0ff1f,#e0ff1f,#e0ff1f)"></div><div style="top:112px;background:linear-gradient(90deg,#e8ff17,#e2ff1d,#d6ff29,#c5ff3a,#b0ff4f,#99ff66,#82ff7d,#6fff90,#62ff9d,#59ffa6,#55ffaa,#54ffab,#54ffab,#55ffaa,#55ffaa,#56ffa9,#57ffa8,#57ffa8,#52ffad,#38ffc7,#0ffff0,#00fbff,#12ffed,#30ffcf,#1effe1,#00e2ff,#00b1ff,#00adff,#00ddff,#2fffd0,#79ff86,#a5ff5a,#baff45,#c8ff37,#d3ff2c,#daff25,#deff21,#e1ff1e,#e2ff1d,#e3ff1c,#e4ff1b,#e4ff1b,#e5ff1a,#e6ff19,#e7ff18,#e7ff18,#e8ff17,#e9ff16,#e9ff16,#eaff15,#ebff14,#ebff14,#ecff13,#ecff13,#ecff13,#e9ff16,#e5ff1a,#ddff22,#d2ff2d,#c4ff3b,#b6ff49,#a7ff58,#9aff65,#8eff71,#86ff79,#81ff7e,#7fff80,#7eff81,#7fff80,#7fff80,#7fff80,#7fff80,#7fff80,#7fff80,#7fff80,#7eff81,#7eff81,#7dff82,#7dff82,#7dff82,#7cff83,#7cff83,#7cff83,#7bff84,#7bff84,#7aff85,#7aff85,#78ff87,#75ff8a,#6dff92,#61ff9e,#51ffae,#41ffbe,#34ffcb,#2effd1,#31ffce,#3cffc3,#4bffb4,#5bffa4,#67ff98,#6fff90,#73ff8c,#75ff8a,#76ff89,#77ff88,#78ff87,#7bff84,#7dff82,#80ff7f,#83ff7c,#86ff79,#88ff77,#8bff74,#8dff72,#8eff71,#8fff70,#90ff6f,#90ff6f,#90ff6f,#90ff6f,#8eff71,#84ff7b,#67ff98,#28ffd7,#00c5ff,#0055ff,#0000f7,#0000bf,#0000a9,#0000a7,#0000b3,#0000dc,#002cff,#0098ff,#05fffa,#55ffaa,#7fff80,#8fff70,#93ff6c,#94ff6b,#95ff6a,#95ff6a,#95ff6a,#96ff69,#96ff69,#97ff68,#98ff67,#99ff66,#9aff65,#9bff64,#9dff62,#9eff61,#a0ff5f,#a1ff5e,#a3ff5c,#a4ff5b,#a6ff59,#a7ff58,#a9ff56,#aaff55,#acff53,#adff52,#afff50,#b0ff4f,#b2ff4d,#b4ff4b,#b5ff4a,#b8ff47,#baff45,#bcff43,#beff41,#bfff40,#c0ff3f,#beff41,#b8ff47,#adff52,#96ff69,#6cff93,#2affd5,#00d6ff,#0080ff,#0038ff,#0007ff,#0000ef,#0000ee,#0005ff,#0035ff,#007eff,#00d6ff,#2effd1,#73ff8c,#9fff60,#b6ff49,#c3ff3c,#caff35,#d0ff2f,#d5ff2a,#d9ff26,#dbff24,#ddff22,#deff21,#dfff20,#e1ff1e,#e2ff1d,#e3ff1c,#e4ff1b,#e5ff1a,#e6ff19,#e7ff18,#e8ff17,#e9ff16,#eaff15,#ebff14,#ecff13,#edff12,#eeff11,#efff10,#efff10,#efff10)"></div><div style="top:114px;background:linear-gradient(90deg,#e9ff16,#e5ff1a,#deff21,#d4ff2b,#c7ff38,#b9ff46,#abff54,#a0ff5f,#97ff68,#92ff6d,#90ff6f,#8fff70,#8fff70,#8fff70,#90ff6f,#90ff6f,#91ff6e,#91ff6e,#92ff6d,#92ff6d,#92ff6d,#93ff6c,#93ff6c,#94ff6b,#95ff6a,#97ff68,#9bff64,#a1ff5e,#a8ff57,#b1ff4e,#bbff44,#c5ff3a,#cfff30,#d8ff27,#dfff20,#e4ff1b,#e8ff17,#eaff15,#ecff13,#eeff11,#efff10,#f0ff0f,#f2ff0d,#f3ff0c,#f5ff0a,#f6ff09,#f7ff08,#f9ff06,#faff05,#fbff04,#fdff02,#feff01,#ffff00,#fffd00,#fffd00,#fffd00,#ffff00,#fcff03,#f7ff08,#f1ff0e,#eaff15,#e3ff1c,#dcff23,#d7ff28,#d4ff2b,#d3ff2c,#d3ff2c,#d5ff2a,#d6ff29,#d7ff28,#d8ff27,#d8ff27,#d8ff27,#d7ff28,#d6ff29,#d6ff29,#d5ff2a,#d4ff2b,#d4ff2b,#d3ff2c,#d2ff2d,#d1ff2e,#d1ff2e,#d0ff2f,#cfff30,#cfff30,#ceff31,#cdff32,#cdff32,#ccff33,#cbff34,#caff35,#caff35,#c9ff36,#c8ff37,#c8ff37,#c7ff38,#c6ff39,#c5ff3a,#c5ff3a,#c4ff3b,#c3ff3c,#c2ff3d,#c2ff3d,#c1ff3e,#c1ff3e,#c2ff3d,#c2ff3d,#c3ff3c,#c4ff3b,#c4ff3b,#c5ff3a,#c6ff39,#c6ff39,#c6ff39,#c6ff39,#c5ff3a,#c4ff3b,#c3ff3c,#c2ff3d,#c1ff3e,#c0ff3f,#bcff43,#b4ff4b,#a3ff5c,#87ff78,#64ff9b,#44ffbb,#2effd1,#2affd5,#39ffc6,#55ffaa,#77ff88,#96ff69,#aaff55,#b5ff4a,#b9ff46,#b9ff46,#b9ff46,#b9ff46,#b9ff46,#b9ff46,#b9ff46,#b9ff46,#b9ff46,#b8ff47,#b9ff46,#b9ff46,#b9ff46,#baff45,#baff45,#bbff44,#bbff44,#bcff43,#bcff43,#bdff42,#bdff42,#beff41,#beff41,#bfff40,#bfff40,#c0ff3f,#c1ff3e,#c1ff3e,#c2ff3d,#c3ff3c,#c4ff3b,#c5ff3a,#c7ff38,#c9ff36,#cbff34,#cdff32,#ceff31,#ceff31,#ccff33,#c9ff36,#c4ff3b,#beff41,#b8ff47,#b0ff4f,#a8ff57,#a1ff5e,#9dff62,#9cff63,#a0ff5f,#a7ff58,#b2ff4d,#bdff42,#c7ff38,#d0ff2f,#d7ff28,#ddff22,#e3ff1c,#e8ff17,#edff12,#f1ff0e,#f5ff0a,#f8ff07,#f9ff06,#fbff04,#fcff03,#fcff03,#fdff02,#feff01,#feff01,#ffff00,#fffe00,#fffe00,#fffd00,#fffc00,#fffc00,#fffb00,#fffa00,#fffa00,#fff900,#fff900,#fff800,#fff800,#fff800)"></div><div style="top:116px;background:linear-gradient(90deg,#ebff14,#e9ff16,#e6ff19,#e2ff1d,#dcff23,#d6ff29,#d1ff2e,#ccff33,#c8ff37,#c6ff39,#c5ff3a,#c5ff3a,#c5ff3a,#c5ff3a,#c5ff3a,#c5ff3a,#c6ff39,#c6ff39,#c6ff39,#c6ff39,#c6ff39,#c7ff38,#c7ff38,#c7ff38,#c8ff37,#c8ff37,#caff35,#ccff33,#d0ff2f,#d3ff2c,#d8ff27,#dcff23,#e1ff1e,#e6ff19,#eaff15,#eeff11,#f1ff0e,#f3ff0c,#f5ff0a,#f7ff08,#f9ff06,#fbff04,#fdff02,#ffff00,#fffd00,#fffb00,#fff900,#fff700,#fff500,#fff300,#fff100,#ffef00,#ffed00,#ffeb00,#ffe900,#ffe700,#ffe600,#ffe500,#ffe500,#ffe500,#ffe500,#ffe500,#ffe400,#ffe400,#ffe200,#ffe000,#ffdd00,#ffdb00,#ffd800,#ffd600,#ffd600,#ffd600,#ffd600,#ffd700,#ffd800,#ffd900,#ffda00,#ffdb00,#ffdc00,#ffdd00,#ffde00,#ffdf00,#ffe000,#ffe100,#ffe200,#ffe300,#ffe400,#ffe500,#ffe600,#ffe700,#ffe800,#ffe900,#ffea00,#ffeb00,#ffec00,#ffed00,#ffee00,#ffef00,#fff100,#fff200,#fff300,#fff500,#fff700,#fff900,#fffa00,#fffc00,#fffe00,#ffff00,#feff01,#fcff03,#fbff04,#faff05,#f9ff06,#f8ff07,#f7ff08,#f5ff0a,#f4ff0b,#f2ff0d,#f0ff0f,#efff10,#edff12,#ebff14,#eaff15,#e8ff17,#e6ff19,#e5ff1a,#e3ff1c,#e2ff1d,#e1ff1e,#e1ff1e,#e0ff1f,#e0ff1f,#dfff20,#dfff20,#deff21,#ddff22,#ddff22,#dcff23,#dcff23,#dbff24,#dbff24,#daff25,#daff25,#d9ff26,#d8ff27,#d8ff27,#d8ff27,#d7ff28,#d7ff28,#d6ff29,#d6ff29,#d6ff29,#d6ff29,#d5ff2a,#d5ff2a,#d5ff2a,#d5ff2a,#d4ff2b,#d4ff2b,#d4ff2b,#d4ff2b,#d3ff2c,#d3ff2c,#d3ff2c,#d3ff2c,#d3ff2c,#d4ff2b,#d6ff29,#d7ff28,#daff25,#dcff23,#deff21,#e0ff1f,#e2ff1d,#e3ff1c,#e3ff1c,#e3ff1c,#e3ff1c,#e2ff1d,#e2ff1d,#e3ff1c,#e4ff1b,#e6ff19,#e9ff16,#ecff13,#f0ff0f,#f4ff0b,#f8ff07,#fcff03,#fffe00,#fffa00,#fff700,#fff300,#ffef00,#ffeb00,#ffe800,#ffe600,#ffe400,#ffe300,#ffe200,#ffe200,#ffe100,#ffe100,#ffe100,#ffe100,#ffe000,#ffe000,#ffe000,#ffdf00,#ffdf00,#ffdf00,#ffdf00,#ffde00,#ffde00,#ffde00,#ffde00,#ffdd00,#ffdd00,#ffdd00)"></div><div style="top:118px;background:linear-gradient(90deg,#ecff13,#ebff14,#ebff14,#eaff15,#e9ff16,#e7ff18,#e6ff19,#e5ff1a,#e4ff1b,#e4ff1b,#e4ff1b,#e4ff1b,#e4ff1b,#e4ff1b,#e4ff1b,#e4ff1b,#e4ff1b,#e4ff1b,#e4ff1b,#e4ff1b,#e4ff1b,#e4ff1b,#e4ff1b,#e4ff1b,#e4ff1b,#e4ff1b,#e5ff1a,#e5ff1a,#e6ff19,#e7ff18,#e8ff17,#e8ff17,#e7ff18,#e4ff1b,#e1ff1e,#dfff20,#e2ff1d,#e9ff16,#f1ff0e,#f9ff06,#feff01,#fffd00,#fffa00,#fff800,#fff500,#fff300,#fff100,#ffee00,#ffec00,#ffe900,#ffe700,#ffe500,#ffe200,#ffe000,#ffdd00,#ffda00,#ffd600,#ffd300,#ffce00,#ffca00,#ffc500,#ffc100,#ffbc00,#ffb800,#ffb400,#ffb000,#ffad00,#ffaa00,#ffa700,#ffa600,#ffa500,#ffa500,#ffa600,#ffa700,#ffa800,#ffa900,#ffaa00,#ffab00,#ffac00,#ffad00,#ffae00,#ffaf00,#ffb000,#ffb100,#ffb200,#ffb300,#ffb400,#ffb500,#ffb700,#ffb800,#ffb900,#ffba00,#ffbb00,#ffbc00,#ffbd00,#ffbf00,#ffc000,#ffc200,#ffc500,#ffc800,#ffcb00,#ffce00,#ffd100,#ffd500,#ffd900,#ffdc00,#ffe000,#ffe300,#ffe600,#ffe900,#ffeb00,#ffed00,#ffef00,#fff100,#fff300,#fff400,#fff600,#fff800,#fffa00,#fffb00,#fffd00,#ffff00,#fdff02,#fbff04,#faff05,#f8ff07,#f7ff08,#f6ff09,#f5ff0a,#f5ff0a,#f4ff0b,#f4ff0b,#f3ff0c,#f3ff0c,#f2ff0d,#f2ff0d,#f1ff0e,#f1ff0e,#f0ff0f,#f0ff0f,#efff10,#efff10,#efff10,#eeff11,#eeff11,#edff12,#edff12,#ecff13,#ebff14,#eaff15,#e9ff16,#e8ff17,#e7ff18,#e7ff18,#e6ff19,#e7ff18,#e7ff18,#e7ff18,#e7ff18,#e7ff18,#e7ff18,#e7ff18,#e6ff19,#e6ff19,#e6ff19,#e7ff18,#e8ff17,#ebff14,#eeff11,#f2ff0d,#f6ff09,#faff05,#feff01,#fffc00,#fff800,#fff400,#fff000,#ffed00,#ffe900,#ffe600,#ffe300,#ffe000,#ffdd00,#ffda00,#ffd800,#ffd500,#ffd200,#ffd000,#ffcd00,#ffcb00,#ffc800,#ffc500,#ffc300,#ffc000,#ffbe00,#ffbc00,#ffba00,#ffb900,#ffb900,#ffb800,#ffb800,#ffb800,#ffb800,#ffb800,#ffb800,#ffb800,#ffb800,#ffb800,#ffb700,#ffb700,#ffb700,#ffb700,#ffb700,#ffb700,#ffb700,#ffb700,#ffb700,#ffb700,#ffb700)"></div><div style="top:120px;background:linear-gradient(90deg,#ecff13,#ecff13,#ecff13,#ecff13,#ecff13,#ecff13,#ebff14,#ebff14,#ebff14,#ebff14,#ebff14,#ebff14,#ebff14,#ebff14,#ebff14,#ebff14,#ebff14,#ebff14,#ebff14,#ebff14,#ebff14,#ebff14,#ebff14,#ebff14,#ebff14,#ebff14,#ebff14,#ebff14,#e8ff17,#daff25,#aeff51,#55ffaa,#00dbff,#0065ff,#0013ff,#0000ec,#0000f0,#001eff,#007aff,#00f9ff,#76ff89,#cdff32,#f7ff08,#fff800,#fff300,#fff100,#ffee00,#ffec00,#ffe900,#ffe700,#ffe400,#ffe200,#ffdf00,#ffdc00,#ffd900,#ffd500,#ffd000,#ffca00,#ffc400,#ffbe00,#ffb700,#ffb000,#ffaa00,#ffa500,#ffa000,#ff9c00,#ff9900,#ff9700,#ff9500,#ff9500,#ff9400,#ff9500,#ff9500,#ff9600,#ff9700,#ff9800,#ff9900,#ff9a00,#ff9b00,#ff9c00,#ff9c00,#ff9d00,#ff9e00,#ff9f00,#ffa000,#ffa100,#ffa200,#ffa300,#ffa400,#ffa500,#ffa600,#ffa700,#ffa800,#ffa900,#ffaa00,#ffac00,#ffae00,#ffb200,#ffb600,#ffbb00,#ffc000,#ffc600,#ffcb00,#ffd100,#ffd700,#ffdd00,#ffe300,#ffe800,#ffed00,#fff100,#fff300,#fff600,#fff700,#fff900,#fffa00,#fffb00,#fffc00,#fffd00,#ffff00,#feff01,#fdff02,#fcff03,#fbff04,#f9ff06,#f8ff07,#f7ff08,#f7ff08,#f6ff09,#f6ff09,#f6ff09,#f6ff09,#f6ff09,#f6ff09,#f6ff09,#f7ff08,#f7ff08,#f7ff08,#f7ff08,#f7ff08,#f7ff08,#f7ff08,#f7ff08,#f7ff08,#f4ff0b,#eeff11,#dfff20,#c3ff3c,#99ff66,#63ff9c,#28ffd7,#00efff,#00c3ff,#00a8ff,#00a0ff,#00acff,#00cbff,#00faff,#34ffcb,#6fff90,#a4ff5b,#ccff33,#e5ff1a,#f2ff0d,#f8ff07,#fbff04,#fdff02,#fffe00,#fff900,#fff300,#ffed00,#ffe600,#ffde00,#ffd700,#ffcf00,#ffc800,#ffc100,#ffba00,#ffb400,#ffae00,#ffa900,#ffa400,#ffa000,#ff9d00,#ff9a00,#ff9800,#ff9600,#ff9500,#ff9300,#ff9200,#ff9000,#ff8f00,#ff8d00,#ff8c00,#ff8a00,#ff8900,#ff8800,#ff8700,#ff8600,#ff8600,#ff8600,#ff8600,#ff8600,#ff8600,#ff8600,#ff8600,#ff8600,#ff8600,#ff8600,#ff8600,#ff8600,#ff8600,#ff8600,#ff8600,#ff8600,#ff8600,#ff8600,#ff8600,#ff8600,#ff8600)"></div><div style="top:122px;background:linear-gradient(90deg,#ebff14,#ebff14,#ebff14,#ebff14,#ebff14,#ebff14,#ebff14,#ebff14,#ebff14,#ebff14,#ebff14,#ebff14,#ebff14,#ebff14,#ebff14,#ebff14,#ebff14,#ebff14,#ebff14,#ebff14,#ebff14,#ebff14,#ebff14,#ebff14,#ebff14,#ebff14,#ebff14,#ebff14,#e8ff17,#d9ff26,#adff52,#55ffaa,#00daff,#0065ff,#0012ff,#0000ec,#0000f0,#001eff,#007aff,#00f8ff,#75ff8a,#ccff33,#f6ff09,#fff900,#fff400,#fff100,#ffef00,#ffec00,#ffea00,#ffe700,#ffe500,#ffe200,#ffe000,#ffdd00,#ffd900,#ffd400,#ffcf00,#ffc800,#ffc100,#ffba00,#ffb200,#ffab00,#ffa400,#ff9e00,#ff9900,#ff9600,#ff9400,#ff9300,#ff9300,#ff9200,#ff9300,#ff9300,#ff9400,#ff9400,#ff9500,#ff9600,#ff9700,#ff9700,#ff9800,#ff9900,#ff9a00,#ff9a00,#ff9b00,#ff9c00,#ff9c00,#ff9d00,#ff9e00,#ff9f00,#ff9f00,#ffa000,#ffa100,#ffa200,#ffa200,#ffa300,#ffa500,#ffa700,#ffaa00,#ffae00,#ffb400,#ffba00,#ffc200,#ffc900,#ffd100,#ffd800,#ffe000,#ffe800,#ffef00,#fff600,#fffc00,#feff01,#fbff04,#f9ff06,#f7ff08,#f7ff08,#f6ff09,#f5ff0a,#f5ff0a,#f4ff0b,#f4ff0b,#f3ff0c,#f3ff0c,#f2ff0d,#f2ff0d,#f1ff0e,#f1ff0e,#f0ff0f,#f0ff0f,#f1ff0e,#f1ff0e,#f2ff0d,#f2ff0d,#f3ff0c,#f4ff0b,#f5ff0a,#f5ff0a,#f6ff09,#f7ff08,#f8ff07,#f8ff07,#f9ff06,#faff05,#faff05,#f7ff08,#ecff13,#d1ff2e,#9dff62,#4dffb2,#00e6ff,#007bff,#001eff,#0000da,#0000b5,#0000a6,#0000a4,#0000a8,#0000ba,#0000e6,#0030ff,#0093ff,#02fffd,#67ff98,#b5ff4a,#e6ff19,#fffe00,#fff200,#ffeb00,#ffe500,#ffde00,#ffd600,#ffcc00,#ffc100,#ffb700,#ffac00,#ffa100,#ff9700,#ff8d00,#ff8400,#ff7b00,#ff7400,#ff6d00,#ff6700,#ff6200,#ff5f00,#ff5d00,#ff5b00,#ff5a00,#ff5a00,#ff5900,#ff5800,#ff5800,#ff5700,#ff5700,#ff5600,#ff5500,#ff5500,#ff5400,#ff5400,#ff5400,#ff5300,#ff5300,#ff5300,#ff5300,#ff5300,#ff5300,#ff5300,#ff5300,#ff5300,#ff5300,#ff5300,#ff5300,#ff5300,#ff5300,#ff5300,#ff5300,#ff5300,#ff5300,#ff5300,#ff5300,#ff5300)"></div><div style="top:124px;background:linear-gradient(90deg,#e8ff17,#e8ff17,#e8ff17,#e8ff17,#e8ff17,#e8ff17,#e8ff17,#e8ff17,#e8ff17,#e8ff17,#e8ff17,#e8ff17,#e8ff17,#e8ff17,#e8ff17,#e8ff17,#e8ff17,#e8ff17,#e8ff17,#e8ff17,#e8ff17,#e8ff17,#e8ff17,#e8ff17,#e8ff17,#e8ff17,#e8ff17,#e8ff17,#e8ff17,#e8ff17,#e8ff17,#e8ff17,#e6ff19,#e2ff1d,#deff21,#ddff22,#dfff20,#e6ff19,#eeff11,#f5ff0a,#faff05,#fdff02,#fffe00,#fffc00,#fffa00,#fff700,#fff500,#fff300,#fff100,#ffee00,#ffec00,#ffea00,#ffe700,#ffe400,#ffe100,#ffdd00,#ffd700,#ffd100,#ffcb00,#ffc400,#ffbd00,#ffb600,#ffb000,#ffaa00,#ffa600,#ffa400,#ffa300,#ffa200,#ffa200,#ffa300,#ffa300,#ffa300,#ffa400,#ffa400,#ffa500,#ffa600,#ffa600,#ffa700,#ffa700,#ffa800,#ffa800,#ffa900,#ffa900,#ffaa00,#ffaa00,#ffab00,#ffab00,#ffac00,#ffac00,#ffad00,#ffae00,#ffae00,#ffaf00,#ffaf00,#ffb100,#ffb200,#ffb500,#ffba00,#ffbf00,#ffc600,#ffcd00,#ffd500,#ffdc00,#ffe400,#ffeb00,#fff300,#fffa00,#fdff02,#f7ff08,#f3ff0c,#f0ff0f,#eeff11,#edff12,#edff12,#ecff13,#ecff13,#ecff13,#ecff13,#ebff14,#ebff14,#ebff14,#ebff14,#eaff15,#eaff15,#eaff15,#eaff15,#eaff15,#ebff14,#ebff14,#ecff13,#edff12,#efff10,#f0ff0f,#f1ff0e,#f2ff0d,#f3ff0c,#f4ff0b,#f5ff0a,#f7ff08,#f8ff07,#f9ff06,#faff05,#fbff04,#fbff04,#f9ff06,#f3ff0c,#e5ff1a,#ceff31,#aeff51,#87ff78,#61ff9e,#41ffbe,#2dffd2,#27ffd8,#31ffce,#4affb5,#6eff91,#97ff68,#bfff40,#e1ff1e,#f9ff06,#fff500,#ffeb00,#ffe500,#ffdf00,#ffd800,#ffd000,#ffc600,#ffbb00,#ffae00,#ffa100,#ff9400,#ff8700,#ff7b00,#ff6f00,#ff6400,#ff5900,#ff4f00,#ff4700,#ff3f00,#ff3800,#ff3300,#ff2f00,#ff2d00,#ff2c00,#ff2c00,#ff2c00,#ff2b00,#ff2b00,#ff2b00,#ff2b00,#ff2b00,#ff2b00,#ff2b00,#ff2a00,#ff2a00,#ff2a00,#ff2a00,#ff2a00,#ff2a00,#ff2a00,#ff2a00,#ff2a00,#ff2a00,#ff2a00,#ff2a00,#ff2a00,#ff2a00,#ff2a00,#ff2a00,#ff2a00,#ff2a00,#ff2a00,#ff2a00,#ff2a00,#ff2a00,#ff2a00,#ff2a00,#ff2a00)"></div><div style="top:126px;background:linear-gradient(90deg,#e3ff1c,#e3ff1c,#e3ff1c,#e3ff1c,#e3ff1c,#e3ff1c,#e3ff1c,#e3ff1c,#e3ff1c,#e3ff1c,#e3ff1c,#e3ff1c,#e3ff1c,#e3ff1c,#e3ff1c,#e3ff1c,#e3ff1c,#e3ff1c,#e3ff1c,#e3ff1c,#e3ff1c,#e3ff1c,#e3ff1c,#e3ff1c,#e3ff1c,#e3ff1c,#e3ff1c,#e3ff1c,#e3ff1c,#e3ff1c,#e4ff1b,#e4ff1b,#e5ff1a,#e7ff18,#e8ff17,#eaff15,#ecff13,#edff12,#efff10,#f1ff0e,#f3ff0c,#f5ff0a,#f6ff09,#f8ff07,#faff05,#fcff03,#feff01,#ffff00,#fffd00,#fffb00,#fff900,#fff700,#fff500,#fff300,#fff000,#ffed00,#ffe900,#ffe500,#ffe000,#ffdb00,#ffd600,#ffd100,#ffcd00,#ffc900,#ffc600,#ffc500,#ffc400,#ffc400,#ffc400,#ffc400,#ffc400,#ffc500,#ffc500,#ffc500,#ffc600,#ffc600,#ffc600,#ffc700,#ffc700,#ffc800,#ffc800,#ffc800,#ffc900,#ffc900,#ffc900,#ffca00,#ffca00,#ffca00,#ffcb00,#ffcb00,#ffcb00,#ffcc00,#ffcc00,#ffcd00,#ffcd00,#ffcf00,#ffd100,#ffd400,#ffd800,#ffdd00,#ffe200,#ffe800,#ffed00,#fff300,#fff800,#fffe00,#fbff04,#f5ff0a,#f1ff0e,#edff12,#ebff14,#e9ff16,#e8ff17,#e8ff17,#e8ff17,#e7ff18,#e7ff18,#e7ff18,#e6ff19,#e6ff19,#e6ff19,#e5ff1a,#e5ff1a,#e5ff1a,#e4ff1b,#e4ff1b,#e4ff1b,#e5ff1a,#e6ff19,#e7ff18,#e8ff17,#e9ff16,#eaff15,#ebff14,#edff12,#eeff11,#efff10,#f0ff0f,#f1ff0e,#f3ff0c,#f4ff0b,#f5ff0a,#f6ff09,#f8ff07,#f9ff06,#faff05,#fbff04,#fcff03,#fdff02,#ffff00,#fffe00,#fffd00,#fffc00,#fffb00,#fffa00,#fff800,#fff700,#fff600,#fff400,#fff200,#ffef00,#ffeb00,#ffe500,#ffdd00,#ffd400,#ffca00,#ffbe00,#ffb100,#ffa300,#ff9400,#ff8500,#ff7600,#ff6900,#ff5c00,#ff5000,#ff4500,#ff3a00,#ff3000,#ff2700,#ff1f00,#ff1700,#ff1200,#ff0e00,#ff0c00,#ff0b00,#ff0b00,#ff0b00,#ff0a00,#ff0a00,#ff0a00,#ff0a00,#ff0a00,#ff0a00,#ff0a00,#ff0a00,#ff0a00,#ff0a00,#ff0a00,#ff0a00,#ff0a00,#ff0a00,#ff0a00,#ff0a00,#ff0a00,#ff0a00,#ff0a00,#ff0a00,#ff0a00,#ff0a00,#ff0a00,#ff0a00,#ff0a00,#ff0a00,#ff0a00,#ff0a00,#ff0a00,#ff0a00,#ff0a00,#ff0a00)"></div><div style="top:128px;background:linear-gradient(90deg,#ddff22,#ddff22,#ddff22,#ddff22,#ddff22,#ddff22,#ddff22,#ddff22,#ddff22,#ddff22,#ddff22,#ddff22,#ddff22,#ddff22,#ddff22,#ddff22,#ddff22,#ddff22,#ddff22,#ddff22,#ddff22,#ddff22,#ddff22,#ddff22,#ddff22,#ddff22,#ddff22,#ddff22,#ddff22,#ddff22,#ddff22,#deff21,#deff21,#dfff20,#e0ff1f,#e2ff1d,#e3ff1c,#e4ff1b,#e6ff19,#e7ff18,#e8ff17,#eaff15,#ebff14,#ecff13,#edff12,#efff10,#f0ff0f,#f1ff0e,#f3ff0c,#f4ff0b,#f5ff0a,#f7ff08,#f8ff07,#faff05,#fbff04,#fdff02,#fffe00,#fffc00,#fff900,#fff700,#fff400,#fff200,#ffef00,#ffee00,#ffec00,#ffeb00,#ffeb00,#ffeb00,#ffeb00,#ffeb00,#ffeb00,#ffeb00,#ffec00,#ffec00,#ffec00,#ffec00,#ffec00,#ffed00,#ffed00,#ffed00,#ffed00,#ffed00,#ffed00,#ffee00,#ffee00,#ffee00,#ffee00,#ffee00,#ffee00,#ffef00,#ffef00,#ffef00,#ffef00,#ffef00,#fff000,#fff100,#fff200,#fff300,#fff500,#fff800,#fffb00,#fffe00,#fbff04,#f3ff0c,#e5ff1a,#cfff30,#aeff51,#84ff7b,#55ffaa,#27ffd8,#00feff,#00e0ff,#00d1ff,#00d1ff,#00dfff,#00fcff,#23ffdc,#4fffb0,#7bff84,#a0ff5f,#bdff42,#cfff30,#d8ff27,#dcff23,#deff21,#deff21,#deff21,#dfff20,#dfff20,#e0ff1f,#e1ff1e,#e3ff1c,#e4ff1b,#e5ff1a,#e6ff19,#e7ff18,#e9ff16,#eaff15,#ebff14,#ecff13,#edff12,#eeff11,#f0ff0f,#f1ff0e,#f2ff0d,#f3ff0c,#f4ff0b,#f6ff09,#f7ff08,#f8ff07,#f9ff06,#fbff04,#fcff03,#fdff02,#feff01,#fffe00,#fffd00,#fffc00,#fffa00,#fff700,#fff300,#ffed00,#ffe400,#ffd900,#ffcb00,#ffbc00,#ffad00,#ff9c00,#ff8b00,#ff7a00,#ff6a00,#ff5b00,#ff4d00,#ff4000,#ff3500,#ff2a00,#ff1f00,#ff1500,#ff0c00,#ff0300,#fb0000,#f50000,#f10000,#ef0000,#ee0000,#ed0000,#ed0000,#ed0000,#ed0000,#ed0000,#ed0000,#ed0000,#ed0000,#ed0000,#ed0000,#ed0000,#ed0000,#ed0000,#ed0000,#ed0000,#ed0000,#ed0000,#ed0000,#ed0000,#ed0000,#ed0000,#ed0000,#ed0000,#ed0000,#ed0000,#ed0000,#ed0000,#ed0000,#ed0000,#ed0000,#ed0000,#ed0000,#ed0000,#ed0000)"></div><div style="top:130px;background:linear-gradient(90deg,#d0ff2f,#d0ff2f,#d0ff2f,#d0ff2f,#d0ff2f,#d0ff2f,#d0ff2f,#d0ff2f,#d0ff2f,#d0ff2f,#d0ff2f,#d0ff2f,#d0ff2f,#d0ff2f,#d0ff2f,#d0ff2f,#d0ff2f,#d0ff2f,#d0ff2f,#d0ff2f,#cfff30,#cfff30,#cfff30,#cfff30,#cfff30,#cfff30,#cfff30,#cfff30,#cfff30,#cfff30,#cfff30,#d0ff2f,#d0ff2f,#d1ff2e,#d1ff2e,#d2ff2d,#d3ff2c,#d4ff2b,#d5ff2a,#d5ff2a,#d6ff29,#d7ff28,#d8ff27,#d9ff26,#d9ff26,#daff25,#dbff24,#dcff23,#ddff22,#deff21,#deff21,#dfff20,#e0ff1f,#e1ff1e,#e2ff1d,#e3ff1c,#e4ff1b,#e4ff1b,#e5ff1a,#e6ff19,#e7ff18,#e7ff18,#e8ff17,#e8ff17,#e9ff16,#e9ff16,#e9ff16,#e9ff16,#e9ff16,#e9ff16,#e9ff16,#e9ff16,#e9ff16,#e9ff16,#e9ff16,#e9ff16,#e8ff17,#e8ff17,#e8ff17,#e8ff17,#e8ff17,#e8ff17,#e8ff17,#e8ff17,#e8ff17,#e8ff17,#e8ff17,#e8ff17,#e8ff17,#e8ff17,#e8ff17,#e8ff17,#e8ff17,#e8ff17,#e8ff17,#e7ff18,#e7ff18,#e7ff18,#e6ff19,#e5ff1a,#e3ff1c,#deff21,#d1ff2e,#b5ff4a,#84ff7b,#3dffc2,#00e3ff,#0083ff,#002dff,#0000ea,#0000c0,#0000ab,#0000a5,#0000a5,#0000ab,#0000c0,#0000ea,#002dff,#0081ff,#00deff,#35ffca,#79ff86,#a6ff59,#bfff40,#caff35,#ceff31,#d0ff2f,#d0ff2f,#d1ff2e,#d2ff2d,#d3ff2c,#d4ff2b,#d5ff2a,#d7ff28,#d8ff27,#d9ff26,#daff25,#dbff24,#dcff23,#ddff22,#dfff20,#e0ff1f,#e1ff1e,#e2ff1d,#e4ff1b,#e6ff19,#e8ff17,#eaff15,#ecff13,#eeff11,#f0ff0f,#f2ff0d,#f4ff0b,#f6ff09,#f8ff07,#faff05,#fcff03,#ffff00,#fffc00,#fff800,#fff200,#ffe900,#ffdd00,#ffce00,#ffbd00,#ffab00,#ff9800,#ff8600,#ff7300,#ff6100,#ff5000,#ff4000,#ff3300,#ff2600,#ff1b00,#ff1100,#ff0700,#fc0000,#f30000,#eb0000,#e40000,#de0000,#da0000,#d80000,#d70000,#d60000,#d60000,#d60000,#d60000,#d60000,#d60000,#d60000,#d60000,#d60000,#d60000,#d60000,#d60000,#d60000,#d60000,#d60000,#d60000,#d60000,#d60000,#d60000,#d60000,#d60000,#d60000,#d60000,#d60000,#d60000,#d60000,#d60000,#d60000,#d60000,#d60000,#d60000,#d60000,#d60000,#d60000)"></div><div style="top:132px;background:linear-gradient(90deg,#b2ff4d,#b2ff4d,#b2ff4d,#b2ff4d,#b2ff4d,#b2ff4d,#b2ff4d,#b2ff4d,#b1ff4e,#b1ff4e,#b1ff4e,#b1ff4e,#b1ff4e,#b1ff4e,#b1ff4e,#b1ff4e,#b1ff4e,#b1ff4e,#b0ff4f,#b0ff4f,#b0ff4f,#b0ff4f,#b0ff4f,#b0ff4f,#b0ff4f,#b0ff4f,#b0ff4f,#b0ff4f,#afff50,#afff50,#afff50,#afff50,#b0ff4f,#b0ff4f,#b0ff4f,#b0ff4f,#b1ff4e,#b1ff4e,#b1ff4e,#b2ff4d,#b2ff4d,#b2ff4d,#b3ff4c,#b3ff4c,#b3ff4c,#b4ff4b,#b4ff4b,#b4ff4b,#b5ff4a,#b5ff4a,#b6ff49,#b6ff49,#b6ff49,#b7ff48,#b7ff48,#b7ff48,#b7ff48,#b8ff47,#b8ff47,#b8ff47,#b8ff47,#b8ff47,#b8ff47,#b8ff47,#b8ff47,#b8ff47,#b8ff47,#b8ff47,#b8ff47,#b8ff47,#b8ff47,#b8ff47,#b8ff47,#b8ff47,#b8ff47,#b8ff47,#b8ff47,#b8ff47,#b8ff47,#b8ff47,#b8ff47,#b8ff47,#b8ff47,#b8ff47,#b8ff47,#b8ff47,#b8ff47,#b8ff47,#b8ff47,#b8ff47,#b8ff47,#b8ff47,#b8ff47,#b8ff47,#b8ff47,#b8ff47,#b8ff47,#b8ff47,#b8ff47,#b8ff47,#b8ff47,#b8ff47,#b7ff48,#b5ff4a,#b1ff4e,#a9ff56,#9bff64,#89ff76,#72ff8d,#5affa5,#44ffbb,#32ffcd,#29ffd6,#29ffd6,#32ffcd,#42ffbd,#58ffa7,#6fff90,#84ff7b,#96ff69,#a2ff5d,#a9ff56,#acff53,#aeff51,#aeff51,#aeff51,#aeff51,#afff50,#b0ff4f,#b0ff4f,#b1ff4e,#b3ff4c,#b4ff4b,#b5ff4a,#b6ff49,#b7ff48,#b8ff47,#b9ff46,#baff45,#bbff44,#bcff43,#beff41,#bfff40,#c1ff3e,#c4ff3b,#c8ff37,#ccff33,#d0ff2f,#d5ff2a,#daff25,#dfff20,#e3ff1c,#e8ff17,#edff12,#f2ff0d,#f7ff08,#fdff02,#fffb00,#fff300,#ffeb00,#ffe100,#ffd500,#ffc600,#ffb500,#ffa200,#ff8f00,#ff7c00,#ff6a00,#ff5800,#ff4800,#ff3800,#ff2a00,#ff1d00,#ff1200,#ff0700,#fd0000,#f40000,#ec0000,#e40000,#dd0000,#d80000,#d30000,#d00000,#cf0000,#ce0000,#cd0000,#cd0000,#cd0000,#cd0000,#cd0000,#cd0000,#cd0000,#cd0000,#cd0000,#cd0000,#cd0000,#cd0000,#cd0000,#cd0000,#cd0000,#cd0000,#cd0000,#cd0000,#cd0000,#cd0000,#cd0000,#cd0000,#cd0000,#cd0000,#cd0000,#cd0000,#cd0000,#cd0000,#cd0000,#cd0000,#cd0000,#cd0000,#cd0000,#cd0000)"></div><div style="top:134px;background:linear-gradient(90deg,#8eff71,#8eff71,#8dff72,#8dff72,#8dff72,#8dff72,#8dff72,#8dff72,#8cff73,#8cff73,#8cff73,#8cff73,#8cff73,#8bff74,#8bff74,#8bff74,#8bff74,#8bff74,#8aff75,#8aff75,#8aff75,#8aff75,#8aff75,#8aff75,#89ff76,#89ff76,#89ff76,#89ff76,#89ff76,#88ff77,#88ff77,#88ff77,#88ff77,#88ff77,#88ff77,#87ff78,#87ff78,#87ff78,#87ff78,#87ff78,#87ff78,#87ff78,#87ff78,#87ff78,#87ff78,#86ff79,#86ff79,#86ff79,#86ff79,#86ff79,#86ff79,#86ff79,#86ff79,#86ff79,#85ff7a,#85ff7a,#85ff7a,#84ff7b,#7fff80,#78ff87,#75ff8a,#79ff86,#80ff7f,#84ff7b,#85ff7a,#85ff7a,#85ff7a,#85ff7a,#85ff7a,#85ff7a,#85ff7a,#85ff7a,#85ff7a,#85ff7a,#85ff7a,#85ff7a,#85ff7a,#85ff7a,#85ff7a,#85ff7a,#85ff7a,#85ff7a,#85ff7a,#85ff7a,#85ff7a,#85ff7a,#85ff7a,#85ff7a,#85ff7a,#85ff7a,#85ff7a,#85ff7a,#85ff7a,#85ff7a,#85ff7a,#85ff7a,#85ff7a,#85ff7a,#85ff7a,#86ff79,#86ff79,#86ff79,#85ff7a,#85ff7a,#85ff7a,#85ff7a,#85ff7a,#84ff7b,#84ff7b,#84ff7b,#83ff7c,#83ff7c,#83ff7c,#83ff7c,#83ff7c,#83ff7c,#84ff7b,#84ff7b,#84ff7b,#84ff7b,#84ff7b,#84ff7b,#84ff7b,#85ff7a,#85ff7a,#85ff7a,#86ff79,#86ff79,#87ff78,#88ff77,#89ff76,#8aff75,#8bff74,#8cff73,#8dff72,#8eff71,#8fff70,#90ff6f,#91ff6e,#92ff6d,#93ff6c,#95ff6a,#97ff68,#9aff65,#9eff61,#a4ff5b,#abff54,#b3ff4c,#bbff44,#c3ff3c,#cbff34,#d4ff2b,#dcff23,#e4ff1b,#edff12,#f6ff09,#fffe00,#fff300,#ffe600,#ffd900,#ffcb00,#ffbb00,#ffa900,#ff9600,#ff8200,#ff6f00,#ff5d00,#ff4c00,#ff3d00,#ff2e00,#ff2100,#ff1500,#ff0900,#fe0000,#f50000,#ec0000,#e50000,#de0000,#d90000,#d40000,#d00000,#ce0000,#cc0000,#cb0000,#ca0000,#ca0000,#ca0000,#ca0000,#ca0000,#ca0000,#ca0000,#ca0000,#ca0000,#ca0000,#ca0000,#ca0000,#ca0000,#ca0000,#ca0000,#ca0000,#ca0000,#ca0000,#ca0000,#ca0000,#ca0000,#ca0000,#ca0000,#ca0000,#ca0000,#ca0000,#ca0000,#ca0000,#ca0000,#ca0000,#ca0000,#ca0000,#ca0000,#ca0000,#ca0000)"></div><div style="top:136px;background:linear-gradient(90deg,#6fff90,#6fff90,#6fff90,#6eff91,#6eff91,#6eff91,#6eff91,#6dff92,#6dff92,#6dff92,#6cff93,#6cff93,#6cff93,#6bff94,#6bff94,#6bff94,#6bff94,#6aff95,#6aff95,#6aff95,#69ff96,#69ff96,#69ff96,#69ff96,#68ff97,#68ff97,#68ff97,#67ff98,#67ff98,#67ff98,#67ff98,#66ff99,#66ff99,#65ff9a,#65ff9a,#64ff9b,#62ff9d,#5effa1,#55ffaa,#4affb5,#3dffc2,#34ffcb,#31ffce,#35ffca,#3effc1,#49ffb6,#54ffab,#5affa5,#5dffa2,#5effa1,#5dffa2,#5dffa2,#5cffa3,#5bffa4,#5bffa4,#58ffa7,#3cffc3,#00deff,#0053ff,#0000f0,#0000d8,#0005ff,#0079ff,#00ffff,#49ffb6,#5affa5,#5cffa3,#5cffa3,#5cffa3,#5cffa3,#5cffa3,#5cffa3,#5dffa2,#5dffa2,#5dffa2,#5dffa2,#5dffa2,#5dffa2,#5dffa2,#5dffa2,#5dffa2,#5effa1,#5effa1,#5effa1,#5effa1,#5effa1,#5effa1,#5effa1,#5effa1,#5effa1,#5fffa0,#5fffa0,#5fffa0,#5fffa0,#5fffa0,#60ff9f,#60ff9f,#60ff9f,#60ff9f,#60ff9f,#61ff9e,#61ff9e,#61ff9e,#61ff9e,#61ff9e,#62ff9d,#62ff9d,#62ff9d,#62ff9d,#62ff9d,#62ff9d,#62ff9d,#63ff9c,#64ff9b,#64ff9b,#65ff9a,#66ff99,#66ff99,#67ff98,#68ff97,#69ff96,#69ff96,#6aff95,#6bff94,#6cff93,#6dff92,#6eff91,#6eff91,#6fff90,#70ff8f,#71ff8e,#70ff8f,#6fff90,#6bff94,#65ff9a,#5effa1,#58ffa7,#55ffaa,#55ffaa,#59ffa6,#61ff9e,#6aff95,#74ff8b,#7dff82,#87ff78,#90ff6f,#9aff65,#a4ff5b,#afff50,#baff45,#c5ff3a,#d0ff2f,#dbff24,#e6ff19,#f2ff0d,#feff01,#fff200,#ffe300,#ffd300,#ffc200,#ffb000,#ff9d00,#ff8a00,#ff7600,#ff6200,#ff5000,#ff3f00,#ff3000,#ff2200,#ff1600,#ff0c00,#ff0100,#f70000,#ee0000,#e50000,#dd0000,#d70000,#d20000,#cf0000,#cc0000,#ca0000,#c90000,#c80000,#c80000,#c80000,#c70000,#c70000,#c70000,#c70000,#c70000,#c70000,#c70000,#c70000,#c70000,#c70000,#c70000,#c70000,#c70000,#c70000,#c70000,#c70000,#c70000,#c70000,#c70000,#c70000,#c70000,#c70000,#c70000,#c70000,#c70000,#c70000,#c70000,#c70000,#c70000,#c70000,#c70000,#c70000,#c70000,#c70000)"></div><div style="top:138px;background:linear-gradient(90deg,#63ff9c,#63ff9c,#63ff9c,#63ff9c,#62ff9d,#62ff9d,#62ff9d,#61ff9e,#61ff9e,#60ff9f,#60ff9f,#60ff9f,#5fffa0,#5fffa0,#5effa1,#5effa1,#5dffa2,#5dffa2,#5dffa2,#5cffa3,#5cffa3,#5bffa4,#5bffa4,#5bffa4,#5affa5,#5affa5,#59ffa6,#59ffa6,#59ffa6,#59ffa6,#59ffa6,#58ffa7,#58ffa7,#56ffa9,#51ffae,#3fffc0,#17ffe8,#00d4ff,#0087ff,#0044ff,#001bff,#000bff,#0009ff,#000cff,#0020ff,#004fff,#0094ff,#00deff,#15ffea,#23ffdc,#0bfff4,#00dfff,#00bcff,#00b1ff,#00c2ff,#00e7ff,#00fbff,#00c4ff,#004bff,#0000ee,#0000d6,#0002ff,#0073ff,#00f6ff,#3fffc0,#50ffaf,#51ffae,#52ffad,#53ffac,#53ffac,#54ffab,#54ffab,#55ffaa,#55ffaa,#56ffa9,#56ffa9,#57ffa8,#57ffa8,#58ffa7,#58ffa7,#59ffa6,#59ffa6,#5affa5,#5affa5,#5bffa4,#5bffa4,#5cffa3,#5cffa3,#5dffa2,#5effa1,#5effa1,#5fffa0,#60ff9f,#61ff9e,#62ff9d,#63ff9c,#64ff9b,#65ff9a,#66ff99,#67ff98,#68ff97,#69ff96,#6aff95,#6bff94,#6cff93,#6eff91,#6fff90,#70ff8f,#71ff8e,#72ff8d,#73ff8c,#74ff8b,#76ff89,#77ff88,#79ff86,#7aff85,#7cff83,#7eff81,#7fff80,#81ff7e,#83ff7c,#84ff7b,#86ff79,#88ff77,#89ff76,#8bff74,#8cff73,#8dff72,#8bff74,#82ff7d,#6aff95,#3dffc2,#00f9ff,#00a8ff,#0058ff,#0017ff,#0000ea,#0000d5,#0000d1,#0000e0,#0005ff,#0040ff,#0090ff,#00e8ff,#3bffc4,#7bff84,#a6ff59,#c0ff3f,#d1ff2e,#deff21,#e9ff16,#f4ff0b,#fffe00,#fff300,#ffe700,#ffda00,#ffcd00,#ffbe00,#ffae00,#ff9d00,#ff8b00,#ff7900,#ff6700,#ff5500,#ff4400,#ff3300,#ff2500,#ff1800,#ff0d00,#ff0400,#fa0000,#f20000,#ea0000,#e30000,#db0000,#d50000,#d00000,#cc0000,#ca0000,#c80000,#c70000,#c70000,#c60000,#c60000,#c50000,#c50000,#c50000,#c40000,#c40000,#c40000,#c40000,#c40000,#c40000,#c40000,#c40000,#c40000,#c40000,#c40000,#c40000,#c40000,#c40000,#c40000,#c40000,#c40000,#c40000,#c40000,#c40000,#c40000,#c40000,#c40000,#c40000,#c40000,#c40000,#c40000,#c40000,#c40000,#c40000,#c40000,#c40000)"></div><div style="top:140px;background:linear-gradient(90deg,#6bff94,#6bff94,#6bff94,#6aff95,#6aff95,#6aff95,#69ff96,#68ff97,#68ff97,#67ff98,#67ff98,#66ff99,#66ff99,#65ff9a,#65ff9a,#64ff9b,#64ff9b,#63ff9c,#62ff9d,#62ff9d,#61ff9e,#61ff9e,#60ff9f,#60ff9f,#5fffa0,#5fffa0,#5effa1,#5effa1,#5effa1,#5effa1,#5effa1,#5effa1,#5effa1,#5effa1,#5effa1,#5dffa2,#5bffa4,#57ffa8,#4fffb0,#44ffbb,#39ffc6,#30ffcf,#2dffd2,#31ffce,#3affc5,#46ffb9,#4effb1,#47ffb8,#19ffe6,#00b5ff,#003aff,#0000da,#0000af,#0000a7,#0000b5,#0000ed,#0057ff,#00d1ff,#26ffd9,#47ffb8,#4effb1,#55ffaa,#5dffa2,#61ff9e,#64ff9b,#65ff9a,#66ff99,#67ff98,#69ff96,#6aff95,#6bff94,#6cff93,#6eff91,#6fff90,#70ff8f,#71ff8e,#72ff8d,#74ff8b,#75ff8a,#76ff89,#77ff88,#79ff86,#7aff85,#7bff84,#7cff83,#7eff81,#7fff80,#80ff7f,#81ff7e,#83ff7c,#84ff7b,#86ff79,#88ff77,#8aff75,#8dff72,#8fff70,#92ff6d,#94ff6b,#97ff68,#99ff66,#9cff63,#9fff60,#a1ff5e,#a4ff5b,#a6ff59,#a9ff56,#acff53,#aeff51,#b1ff4e,#b3ff4c,#b6ff49,#b9ff46,#bcff43,#beff41,#c1ff3e,#c4ff3b,#c7ff38,#caff35,#ccff33,#cfff30,#d2ff2d,#d5ff2a,#d8ff27,#dbff24,#ddff22,#e0ff1f,#e2ff1d,#e3ff1c,#e1ff1e,#d7ff28,#bbff44,#87ff78,#37ffc8,#00d7ff,#0078ff,#002bff,#0000f7,#0000dd,#0000da,#0000eb,#0017ff,#005dff,#00baff,#22ffdd,#82ff7d,#cbff34,#faff05,#ffe900,#ffda00,#ffcf00,#ffc600,#ffbd00,#ffb400,#ffab00,#ffa200,#ff9800,#ff8e00,#ff8200,#ff7600,#ff6800,#ff5b00,#ff4d00,#ff4000,#ff3300,#ff2600,#ff1900,#ff0f00,#ff0500,#fc0000,#f60000,#ef0000,#e90000,#e30000,#dd0000,#d80000,#d30000,#cf0000,#cc0000,#c90000,#c80000,#c70000,#c60000,#c50000,#c40000,#c30000,#c30000,#c20000,#c20000,#c20000,#c20000,#c10000,#c10000,#c10000,#c10000,#c10000,#c10000,#c10000,#c10000,#c10000,#c10000,#c10000,#c10000,#c10000,#c10000,#c10000,#c10000,#c10000,#c10000,#c10000,#c10000,#c10000,#c10000,#c10000,#c10000,#c10000,#c10000,#c10000,#c10000,#c10000)"></div><div style="top:142px;background:linear-gradient(90deg,#79ff86,#79ff86,#79ff86,#78ff87,#78ff87,#77ff88,#77ff88,#76ff89,#75ff8a,#75ff8a,#74ff8b,#73ff8c,#73ff8c,#72ff8d,#71ff8e,#71ff8e,#70ff8f,#6fff90,#6eff91,#6eff91,#6dff92,#6cff93,#6cff93,#6bff94,#6bff94,#6aff95,#6aff95,#6aff95,#6aff95,#6aff95,#6aff95,#6aff95,#6bff94,#6bff94,#6bff94,#6cff93,#6cff93,#6cff93,#6cff93,#6cff93,#6dff92,#6dff92,#6dff92,#6dff92,#6eff91,#6eff91,#6dff92,#66ff99,#4affb5,#08fff7,#00a6ff,#0049ff,#000eff,#0000fd,#0018ff,#005dff,#00c0ff,#1fffe0,#59ffa6,#71ff8e,#78ff87,#7aff85,#7cff83,#7eff81,#80ff7f,#82ff7d,#84ff7b,#86ff79,#88ff77,#8aff75,#8cff73,#8eff71,#91ff6e,#93ff6c,#95ff6a,#97ff68,#99ff66,#9bff64,#9dff62,#9fff60,#a1ff5e,#a3ff5c,#a5ff5a,#a7ff58,#a9ff56,#abff54,#adff52,#afff50,#b1ff4e,#b3ff4c,#b6ff49,#b9ff46,#bcff43,#c0ff3f,#c4ff3b,#c8ff37,#ccff33,#d0ff2f,#d5ff2a,#d9ff26,#ddff22,#e2ff1d,#e6ff19,#eaff15,#eeff11,#f3ff0c,#f7ff08,#fbff04,#fffe00,#fffa00,#fff600,#fff200,#ffee00,#ffe900,#ffe500,#ffe100,#ffdd00,#ffd900,#ffd500,#ffd100,#ffcd00,#ffc900,#ffc500,#ffc100,#ffbd00,#ffb900,#ffb600,#ffb300,#ffb100,#ffae00,#ffad00,#ffad00,#ffaf00,#ffb400,#ffbc00,#ffc600,#ffcf00,#ffd400,#ffd300,#ffcc00,#ffc000,#ffb200,#ffa500,#ff9900,#ff9000,#ff8900,#ff8300,#ff7d00,#ff7700,#ff7100,#ff6c00,#ff6600,#ff6000,#ff5a00,#ff5400,#ff4e00,#ff4700,#ff4000,#ff3900,#ff3100,#ff2900,#ff2000,#ff1800,#ff1000,#ff0800,#ff0100,#f90000,#f40000,#ef0000,#ea0000,#e60000,#e20000,#de0000,#da0000,#d60000,#d20000,#cf0000,#cd0000,#cb0000,#c90000,#c70000,#c60000,#c40000,#c30000,#c20000,#c10000,#c00000,#bf0000,#bf0000,#bf0000,#bf0000,#bf0000,#bf0000,#bf0000,#bf0000,#bf0000,#bf0000,#bf0000,#bf0000,#bf0000,#bf0000,#bf0000,#bf0000,#bf0000,#bf0000,#bf0000,#bf0000,#bf0000,#bf0000,#bf0000,#bf0000,#bf0000,#bf0000,#bf0000,#bf0000,#bf0000,#bf0000,#bf0000,#bf0000)"></div><div style="top:144px;background:linear-gradient(90deg,#8bff74,#8bff74,#8aff75,#8aff75,#89ff76,#89ff76,#88ff77,#87ff78,#87ff78,#86ff79,#85ff7a,#84ff7b,#84ff7b,#83ff7c,#82ff7d,#82ff7d,#81ff7e,#80ff7f,#7fff80,#7fff80,#7eff81,#7dff82,#7cff83,#7cff83,#7bff84,#7bff84,#7aff85,#7aff85,#7bff84,#7bff84,#7bff84,#7cff83,#7dff82,#7dff82,#7eff81,#7eff81,#7fff80,#7fff80,#80ff7f,#81ff7e,#81ff7e,#82ff7d,#82ff7d,#83ff7c,#83ff7c,#84ff7b,#84ff7b,#85ff7a,#85ff7a,#83ff7c,#7dff82,#74ff8b,#6cff93,#6aff95,#6fff90,#79ff86,#84ff7b,#8bff74,#8fff70,#91ff6e,#94ff6b,#96ff69,#99ff66,#9bff64,#9eff61,#a1ff5e,#a3ff5c,#a6ff59,#a8ff57,#abff54,#aeff51,#b0ff4f,#b3ff4c,#b5ff4a,#b8ff47,#bbff44,#bdff42,#c0ff3f,#c2ff3d,#c5ff3a,#c7ff38,#caff35,#cdff32,#cfff30,#d2ff2d,#d4ff2b,#d7ff28,#daff25,#dcff23,#dfff20,#e2ff1d,#e6ff19,#eaff15,#efff10,#f5ff0a,#faff05,#fffe00,#fff800,#fff300,#ffed00,#ffe700,#ffe100,#ffdc00,#ffd600,#ffd000,#ffca00,#ffc500,#ffbf00,#ffb900,#ffb400,#ffae00,#ffa900,#ffa300,#ff9e00,#ff9a00,#ff9500,#ff9000,#ff8b00,#ff8600,#ff8200,#ff7d00,#ff7800,#ff7400,#ff6f00,#ff6a00,#ff6600,#ff6200,#ff5f00,#ff5c00,#ff5900,#ff5700,#ff5400,#ff5200,#ff5000,#ff4e00,#ff4b00,#ff4900,#ff4700,#ff4400,#ff4200,#ff4000,#ff3d00,#ff3b00,#ff3800,#ff3600,#ff3300,#ff3000,#ff2d00,#ff2900,#ff2600,#ff2300,#ff2000,#ff1d00,#ff1900,#ff1600,#ff1300,#ff0f00,#ff0c00,#ff0800,#ff0400,#ff0100,#fc0000,#f80000,#f40000,#f00000,#ed0000,#ea0000,#e60000,#e40000,#e10000,#de0000,#dc0000,#d90000,#d70000,#d40000,#d20000,#cf0000,#cd0000,#cb0000,#c90000,#c70000,#c50000,#c40000,#c20000,#c00000,#be0000,#bd0000,#bd0000,#bc0000,#bc0000,#bc0000,#bc0000,#bc0000,#bc0000,#bc0000,#bc0000,#bc0000,#bc0000,#bc0000,#bc0000,#bc0000,#bc0000,#bc0000,#bc0000,#bc0000,#bc0000,#bc0000,#bc0000,#bc0000,#bc0000,#bc0000,#bc0000,#bc0000,#bc0000,#bc0000,#bc0000,#bc0000,#bc0000,#bc0000)"></div><div style="top:146px;background:linear-gradient(90deg,#a4ff5b,#a4ff5b,#a4ff5b,#a4ff5b,#a3ff5c,#a3ff5c,#a2ff5d,#a1ff5e,#a1ff5e,#a0ff5f,#a0ff5f,#9fff60,#9fff60,#9eff61,#9dff62,#9dff62,#9cff63,#9cff63,#9bff64,#9aff65,#9aff65,#99ff66,#99ff66,#98ff67,#98ff67,#97ff68,#97ff68,#97ff68,#98ff67,#98ff67,#99ff66,#99ff66,#9aff65,#9bff64,#9bff64,#9cff63,#9cff63,#9dff62,#9eff61,#9eff61,#9eff61,#9eff61,#9eff61,#9dff62,#9bff64,#99ff66,#97ff68,#94ff6b,#91ff6e,#8fff70,#8cff73,#8bff74,#8bff74,#8cff73,#8eff71,#91ff6e,#95ff6a,#9aff65,#9fff60,#a5ff5a,#aaff55,#afff50,#b4ff4b,#b8ff47,#bcff43,#bfff40,#c2ff3d,#c5ff3a,#c7ff38,#caff35,#cdff32,#cfff30,#d2ff2d,#d4ff2b,#d7ff28,#d9ff26,#dcff23,#deff21,#e1ff1e,#e3ff1c,#e6ff19,#e8ff17,#ebff14,#edff12,#f0ff0f,#f2ff0d,#f5ff0a,#f8ff07,#faff05,#fdff02,#fffe00,#fffa00,#fff500,#ffef00,#ffe900,#ffe300,#ffdd00,#ffd600,#ffcf00,#ffc900,#ffc200,#ffbc00,#ffb500,#ffae00,#ffa800,#ffa100,#ff9b00,#ff9400,#ff8e00,#ff8700,#ff8100,#ff7b00,#ff7600,#ff7100,#ff6d00,#ff6900,#ff6400,#ff6000,#ff5c00,#ff5800,#ff5400,#ff5000,#ff4c00,#ff4800,#ff4400,#ff4000,#ff3d00,#ff3a00,#ff3700,#ff3500,#ff3300,#ff3000,#ff2e00,#ff2c00,#ff2a00,#ff2800,#ff2600,#ff2400,#ff2200,#ff2000,#ff1e00,#ff1c00,#ff1900,#ff1700,#ff1500,#ff1300,#ff1100,#ff0f00,#ff0d00,#ff0a00,#ff0800,#ff0600,#ff0400,#ff0200,#ff0000,#fc0000,#fa0000,#f80000,#f60000,#f40000,#f20000,#ef0000,#ed0000,#eb0000,#e90000,#e70000,#e40000,#e20000,#e00000,#de0000,#dc0000,#d90000,#d70000,#d50000,#d30000,#d10000,#cf0000,#cc0000,#ca0000,#c80000,#c60000,#c40000,#c20000,#c00000,#be0000,#bc0000,#bb0000,#ba0000,#b90000,#b90000,#b90000,#b90000,#b90000,#b90000,#b90000,#b90000,#b90000,#b90000,#b90000,#b90000,#b90000,#b90000,#b90000,#b90000,#b90000,#b90000,#b90000,#b90000,#b90000,#b90000,#b90000,#b90000,#b90000,#b90000,#b90000,#b90000,#b90000,#b90000,#b90000)"></div><div style="top:148px;background:linear-gradient(90deg,#c1ff3e,#c1ff3e,#c1ff3e,#c0ff3f,#c0ff3f,#c0ff3f,#bfff40,#bfff40,#bfff40,#beff41,#beff41,#beff41,#bdff42,#bdff42,#bdff42,#bcff43,#bcff43,#bcff43,#bbff44,#bbff44,#bbff44,#baff45,#baff45,#baff45,#b9ff46,#b9ff46,#b9ff46,#b9ff46,#baff45,#baff45,#bbff44,#bbff44,#bcff43,#bcff43,#bcff43,#baff45,#b7ff48,#b0ff4f,#a4ff5b,#92ff6d,#78ff87,#57ffa8,#2effd1,#02fffd,#00d2ff,#00a5ff,#007cff,#0059ff,#003eff,#002aff,#001dff,#0016ff,#0013ff,#0013ff,#0017ff,#0020ff,#002fff,#0045ff,#0063ff,#0089ff,#00b5ff,#00e6ff,#19ffe6,#49ffb6,#74ff8b,#98ff67,#b5ff4a,#c9ff36,#d8ff27,#e1ff1e,#e7ff18,#ebff14,#eeff11,#f1ff0e,#f3ff0c,#f6ff09,#f8ff07,#faff05,#fcff03,#ffff00,#fffd00,#fffb00,#fff900,#fff700,#fff400,#fff200,#fff000,#ffee00,#ffeb00,#ffe900,#ffe600,#ffe200,#ffdd00,#ffd700,#ffd000,#ffca00,#ffc200,#ffbb00,#ffb400,#ffad00,#ffa600,#ff9f00,#ff9800,#ff9000,#ff8900,#ff8200,#ff7b00,#ff7400,#ff6d00,#ff6600,#ff6000,#ff5a00,#ff5500,#ff5100,#ff4e00,#ff4a00,#ff4700,#ff4400,#ff4100,#ff3e00,#ff3c00,#ff3900,#ff3600,#ff3300,#ff3000,#ff2d00,#ff2b00,#ff2800,#ff2600,#ff2500,#ff2300,#ff2100,#ff1f00,#ff1e00,#ff1c00,#ff1a00,#ff1800,#ff1700,#ff1500,#ff1300,#ff1200,#ff1000,#ff0e00,#ff0c00,#ff0b00,#ff0900,#ff0700,#ff0600,#ff0400,#ff0200,#ff0000,#fe0000,#fc0000,#fa0000,#f90000,#f70000,#f50000,#f30000,#f20000,#f00000,#ee0000,#ed0000,#eb0000,#e90000,#e70000,#e60000,#e40000,#e20000,#df0000,#dd0000,#db0000,#d90000,#d60000,#d40000,#d20000,#cf0000,#cd0000,#cb0000,#c90000,#c60000,#c40000,#c20000,#bf0000,#bd0000,#bb0000,#b90000,#b80000,#b70000,#b60000,#b60000,#b60000,#b60000,#b60000,#b60000,#b60000,#b60000,#b60000,#b60000,#b60000,#b60000,#b60000,#b60000,#b60000,#b60000,#b60000,#b60000,#b60000,#b60000,#b60000,#b60000,#b60000,#b60000,#b60000,#b60000,#b60000,#b60000,#b60000,#b60000,#b60000)"></div><div style="top:150px;background:linear-gradient(90deg,#deff21,#deff21,#deff21,#deff21,#deff21,#deff21,#deff21,#deff21,#ddff22,#ddff22,#ddff22,#ddff22,#ddff22,#ddff22,#ddff22,#dcff23,#dcff23,#dcff23,#dcff23,#dcff23,#dcff23,#dcff23,#dcff23,#dbff24,#dbff24,#dbff24,#dbff24,#dcff23,#dcff23,#ddff22,#ddff22,#deff21,#dfff20,#dfff20,#e0ff1f,#e0ff1f,#dfff20,#deff21,#dbff24,#d6ff29,#cdff32,#c0ff3f,#afff50,#99ff66,#80ff7f,#65ff9a,#49ffb6,#2dffd2,#14ffeb,#00feff,#00edff,#00e2ff,#00ddff,#00deff,#00e5ff,#00f3ff,#06fff9,#1effe1,#3affc5,#58ffa7,#77ff88,#94ff6b,#b0ff4f,#c7ff38,#dbff24,#e9ff16,#f4ff0b,#fcff03,#fffd00,#fff900,#fff600,#fff400,#fff200,#fff000,#ffee00,#ffec00,#ffea00,#ffe800,#ffe600,#ffe500,#ffe300,#ffe100,#ffdf00,#ffdd00,#ffdb00,#ffd900,#ffd700,#ffd500,#ffd300,#ffd100,#ffce00,#ffca00,#ffc500,#ffbf00,#ffb900,#ffb200,#ffab00,#ffa300,#ff9c00,#ff9500,#ff8d00,#ff8600,#ff7f00,#ff7700,#ff7000,#ff6900,#ff6100,#ff5a00,#ff5300,#ff4c00,#ff4600,#ff4000,#ff3c00,#ff3900,#ff3600,#ff3400,#ff3200,#ff3000,#ff2e00,#ff2c00,#ff2a00,#ff2800,#ff2600,#ff2400,#ff2200,#ff2000,#ff1e00,#ff1d00,#ff1b00,#ff1900,#ff1800,#ff1700,#ff1500,#ff1400,#ff1200,#ff1100,#ff0f00,#ff0e00,#ff0c00,#ff0b00,#ff0a00,#ff0800,#ff0700,#ff0500,#ff0400,#ff0200,#ff0100,#ff0000,#fd0000,#fc0000,#fa0000,#f90000,#f70000,#f60000,#f40000,#f30000,#f20000,#f00000,#ef0000,#ed0000,#ec0000,#ea0000,#e90000,#e70000,#e60000,#e40000,#e20000,#e10000,#de0000,#dc0000,#da0000,#d70000,#d50000,#d30000,#d00000,#ce0000,#cb0000,#c90000,#c70000,#c40000,#c20000,#c00000,#bd0000,#bb0000,#b90000,#b70000,#b50000,#b40000,#b40000,#b40000,#b40000,#b40000,#b40000,#b40000,#b40000,#b40000,#b40000,#b40000,#b40000,#b40000,#b40000,#b40000,#b40000,#b40000,#b40000,#b40000,#b40000,#b40000,#b40000,#b40000,#b40000,#b40000,#b40000,#b40000,#b40000,#b40000,#b40000,#b40000,#b40000)"></div><div style="top:152px;background:linear-gradient(90deg,#fdff02,#fdff02,#fdff02,#fdff02,#fdff02,#fdff02,#fdff02,#fdff02,#feff01,#feff01,#feff01,#feff01,#feff01,#feff01,#feff01,#feff01,#feff01,#feff01,#feff01,#feff01,#feff01,#feff01,#feff01,#feff01,#feff01,#feff01,#ffff00,#ffff00,#ffff00,#fffe00,#fffd00,#fffd00,#fffc00,#fffc00,#fffb00,#fffa00,#fffa00,#fff900,#fff900,#fff800,#fff700,#fff700,#fff600,#fff600,#fff500,#fff400,#fff400,#fff300,#fff300,#fff200,#fff200,#fff100,#fff000,#fff000,#ffef00,#ffee00,#ffed00,#ffec00,#ffeb00,#ffe900,#ffe800,#ffe600,#ffe500,#ffe300,#ffe100,#ffe000,#ffde00,#ffdd00,#ffdb00,#ffd900,#ffd800,#ffd600,#ffd500,#ffd300,#ffd100,#ffd000,#ffce00,#ffcd00,#ffcb00,#ffca00,#ffc800,#ffc600,#ffc500,#ffc300,#ffc200,#ffc000,#ffbe00,#ffbd00,#ffbb00,#ffb900,#ffb700,#ffb300,#ffaf00,#ffaa00,#ffa500,#ff9f00,#ff9800,#ff9200,#ff8c00,#ff8600,#ff7f00,#ff7900,#ff7300,#ff6d00,#ff6600,#ff6000,#ff5a00,#ff5300,#ff4d00,#ff4700,#ff4200,#ff3d00,#ff3a00,#ff3700,#ff3400,#ff3200,#ff3100,#ff2f00,#ff2d00,#ff2b00,#ff2a00,#ff2800,#ff2600,#ff2400,#ff2300,#ff2100,#ff1f00,#ff1e00,#ff1c00,#ff1a00,#ff1900,#ff1700,#ff1600,#ff1400,#ff1300,#ff1100,#ff1000,#ff0e00,#ff0c00,#ff0b00,#ff0900,#ff0800,#ff0600,#ff0500,#ff0300,#ff0200,#ff0000,#fd0000,#fc0000,#fa0000,#f90000,#f70000,#f60000,#f40000,#f30000,#f10000,#ef0000,#ee0000,#ec0000,#eb0000,#e90000,#e80000,#e60000,#e40000,#e30000,#e10000,#df0000,#dd0000,#db0000,#d90000,#d70000,#d50000,#d20000,#d00000,#ce0000,#cb0000,#c90000,#c70000,#c50000,#c20000,#c00000,#be0000,#bb0000,#b90000,#b70000,#b50000,#b40000,#b30000,#b20000,#b20000,#b20000,#b20000,#b20000,#b20000,#b20000,#b20000,#b20000,#b20000,#b20000,#b20000,#b20000,#b20000,#b20000,#b20000,#b20000,#b20000,#b20000,#b20000,#b20000,#b20000,#b20000,#b20000,#b20000,#b20000,#b20000,#b20000,#b20000,#b20000,#b20000)"></div><div style="top:154px;background:linear-gradient(90deg,#ffe000,#ffe000,#ffe000,#ffe000,#ffe000,#ffdf00,#ffdf00,#ffdf00,#ffdf00,#ffdf00,#ffde00,#ffde00,#ffde00,#ffde00,#ffde00,#ffde00,#ffdd00,#ffdd00,#ffdd00,#ffdd00,#ffdd00,#ffdc00,#ffdc00,#ffdc00,#ffdc00,#ffdc00,#ffdb00,#ffdb00,#ffdb00,#ffda00,#ffda00,#ffd900,#ffd900,#ffd800,#ffd800,#ffd700,#ffd700,#ffd600,#ffd500,#ffd500,#ffd400,#ffd400,#ffd300,#ffd300,#ffd200,#ffd200,#ffd100,#ffd100,#ffd000,#ffd000,#ffcf00,#ffcf00,#ffce00,#ffce00,#ffcd00,#ffcc00,#ffcc00,#ffcb00,#ffca00,#ffc800,#ffc700,#ffc600,#ffc500,#ffc300,#ffc200,#ffc100,#ffbf00,#ffbe00,#ffbd00,#ffbc00,#ffba00,#ffb900,#ffb800,#ffb600,#ffb500,#ffb400,#ffb300,#ffb100,#ffb000,#ffaf00,#ffad00,#ffac00,#ffab00,#ffaa00,#ffa800,#ffa700,#ffa600,#ffa400,#ffa300,#ffa100,#ffa000,#ff9d00,#ff9b00,#ff9700,#ff9400,#ff9000,#ff8c00,#ff8800,#ff8400,#ff8000,#ff7c00,#ff7800,#ff7400,#ff7000,#ff6c00,#ff6800,#ff6400,#ff6000,#ff5c00,#ff5900,#ff5500,#ff5200,#ff4f00,#ff4c00,#ff4900,#ff4700,#ff4500,#ff4200,#ff4000,#ff3e00,#ff3c00,#ff3900,#ff3700,#ff3500,#ff3300,#ff3100,#ff2e00,#ff2c00,#ff2a00,#ff2800,#ff2600,#ff2400,#ff2200,#ff2000,#ff1e00,#ff1b00,#ff1900,#ff1700,#ff1500,#ff1300,#ff1100,#ff0f00,#ff0d00,#ff0b00,#ff0900,#ff0700,#ff0500,#ff0200,#ff0000,#fd0000,#fb0000,#f90000,#f70000,#f50000,#f30000,#f10000,#ef0000,#ed0000,#eb0000,#e90000,#e70000,#e40000,#e20000,#e00000,#de0000,#dc0000,#da0000,#d80000,#d60000,#d40000,#d20000,#d00000,#ce0000,#cc0000,#ca0000,#c80000,#c60000,#c40000,#c20000,#c00000,#be0000,#bc0000,#ba0000,#b80000,#b60000,#b50000,#b30000,#b30000,#b20000,#b20000,#b20000,#b20000,#b20000,#b20000,#b20000,#b20000,#b20000,#b20000,#b20000,#b20000,#b20000,#b20000,#b20000,#b20000,#b20000,#b20000,#b20000,#b20000,#b20000,#b20000,#b20000,#b20000,#b20000,#b20000,#b20000,#b20000,#b20000,#b20000,#b20000)"></div><div style="top:156px;background:linear-gradient(90deg,#ffc000,#ffc000,#ffbf00,#ffbf00,#ffbf00,#ffbf00,#ffbf00,#ffbe00,#ffbe00,#ffbe00,#ffbd00,#ffbd00,#ffbd00,#ffbc00,#ffbc00,#ffbc00,#ffbc00,#ffbb00,#ffbb00,#ffbb00,#ffba00,#ffba00,#ffba00,#ffba00,#ffb900,#ffb900,#ffb900,#ffb800,#ffb800,#ffb700,#ffb700,#ffb700,#ffb600,#ffb600,#ffb500,#ffb500,#ffb400,#ffb400,#ffb400,#ffb300,#ffb300,#ffb200,#ffb200,#ffb100,#ffb100,#ffb100,#ffb000,#ffb000,#ffaf00,#ffaf00,#ffae00,#ffae00,#ffae00,#ffad00,#ffad00,#ffac00,#ffab00,#ffab00,#ffaa00,#ffa900,#ffa800,#ffa700,#ffa600,#ffa500,#ffa400,#ffa300,#ffa200,#ffa100,#ffa000,#ffa000,#ff9f00,#ff9e00,#ff9d00,#ff9c00,#ff9b00,#ff9a00,#ff9900,#ff9800,#ff9700,#ff9600,#ff9500,#ff9400,#ff9300,#ff9200,#ff9100,#ff9000,#ff8f00,#ff8e00,#ff8d00,#ff8c00,#ff8b00,#ff8a00,#ff8900,#ff8700,#ff8600,#ff8400,#ff8300,#ff8200,#ff8100,#ff8000,#ff8000,#ff7f00,#ff7e00,#ff7e00,#ff7d00,#ff7c00,#ff7c00,#ff7b00,#ff7a00,#ff7800,#ff7700,#ff7500,#ff7200,#ff7000,#ff6d00,#ff6a00,#ff6700,#ff6400,#ff6100,#ff5e00,#ff5b00,#ff5800,#ff5500,#ff5200,#ff4f00,#ff4c00,#ff4900,#ff4600,#ff4300,#ff4000,#ff3d00,#ff3a00,#ff3700,#ff3400,#ff3100,#ff2e00,#ff2b00,#ff2800,#ff2500,#ff2200,#ff1f00,#ff1c00,#ff1900,#ff1600,#ff1300,#ff1000,#ff0d00,#ff0a00,#ff0700,#ff0500,#ff0200,#fe0000,#fb0000,#f80000,#f60000,#f30000,#f00000,#ed0000,#eb0000,#e80000,#e50000,#e20000,#e00000,#dd0000,#da0000,#d80000,#d50000,#d30000,#d10000,#cf0000,#ce0000,#cc0000,#ca0000,#c90000,#c70000,#c50000,#c40000,#c20000,#c00000,#be0000,#bd0000,#bb0000,#b90000,#b80000,#b60000,#b50000,#b40000,#b30000,#b30000,#b30000,#b30000,#b30000,#b20000,#b20000,#b20000,#b20000,#b20000,#b20000,#b20000,#b20000,#b20000,#b20000,#b20000,#b20000,#b20000,#b20000,#b20000,#b20000,#b20000,#b20000,#b20000,#b20000,#b20000,#b20000,#b20000,#b20000,#b20000,#b20000,#b20000)"></div><div style="top:158px;background:linear-gradient(90deg,#ffa300,#ffa300,#ffa300,#ffa200,#ffa200,#ffa200,#ffa100,#ffa100,#ffa100,#ffa000,#ffa000,#ffa000,#ff9f00,#ff9f00,#ff9f00,#ff9e00,#ff9e00,#ff9e00,#ff9d00,#ff9d00,#ff9d00,#ff9c00,#ff9c00,#ff9b00,#ff9b00,#ff9b00,#ff9a00,#ff9a00,#ff9a00,#ff9900,#ff9900,#ff9900,#ff9800,#ff9800,#ff9700,#ff9700,#ff9700,#ff9600,#ff9600,#ff9500,#ff9500,#ff9500,#ff9400,#ff9400,#ff9400,#ff9300,#ff9300,#ff9200,#ff9200,#ff9200,#ff9100,#ff9100,#ff9100,#ff9000,#ff9000,#ff8f00,#ff8f00,#ff8e00,#ff8e00,#ff8e00,#ff8d00,#ff8d00,#ff8c00,#ff8c00,#ff8b00,#ff8b00,#ff8a00,#ff8a00,#ff8900,#ff8900,#ff8800,#ff8800,#ff8700,#ff8700,#ff8600,#ff8600,#ff8500,#ff8500,#ff8400,#ff8400,#ff8300,#ff8300,#ff8200,#ff8200,#ff8100,#ff8100,#ff8000,#ff8000,#ff7f00,#ff7f00,#ff7e00,#ff7e00,#ff7e00,#ff7e00,#ff7e00,#ff7f00,#ff8100,#ff8500,#ff8c00,#ff9800,#ffa900,#ffbe00,#ffd500,#ffeb00,#fffd00,#f6ff09,#f5ff0a,#fbff04,#fff500,#ffe500,#ffd300,#ffc400,#ffb800,#ffb000,#ffaa00,#ffa500,#ffa100,#ff9d00,#ff9900,#ff9500,#ff9200,#ff8e00,#ff8a00,#ff8600,#ff8200,#ff7e00,#ff7a00,#ff7500,#ff7100,#ff6c00,#ff6800,#ff6300,#ff5e00,#ff5a00,#ff5500,#ff5000,#ff4b00,#ff4700,#ff4200,#ff3d00,#ff3900,#ff3400,#ff2f00,#ff2a00,#ff2600,#ff2100,#ff1d00,#ff1900,#ff1500,#ff1100,#ff0d00,#ff0a00,#ff0600,#ff0200,#fe0000,#fa0000,#f60000,#f20000,#ef0000,#eb0000,#e70000,#e40000,#e00000,#dc0000,#d90000,#d60000,#d30000,#d10000,#cf0000,#cd0000,#cc0000,#ca0000,#c90000,#c80000,#c60000,#c50000,#c40000,#c20000,#c10000,#c00000,#be0000,#bd0000,#bc0000,#ba0000,#b90000,#b80000,#b70000,#b70000,#b60000,#b60000,#b60000,#b50000,#b50000,#b50000,#b50000,#b50000,#b50000,#b50000,#b40000,#b40000,#b40000,#b40000,#b40000,#b40000,#b30000,#b30000,#b30000,#b30000,#b30000,#b30000,#b30000,#b20000,#b20000,#b20000,#b20000,#b20000,#b20000,#b20000,#b20000)"></div><div style="top:160px;background:linear-gradient(90deg,#ff8a00,#ff8a00,#ff8900,#ff8900,#ff8900,#ff8900,#ff8800,#ff8800,#ff8800,#ff8700,#ff8700,#ff8600,#ff8600,#ff8600,#ff8500,#ff8500,#ff8500,#ff8400,#ff8400,#ff8300,#ff8300,#ff8300,#ff8200,#ff8200,#ff8200,#ff8100,#ff8100,#ff8100,#ff8000,#ff8000,#ff7f00,#ff7f00,#ff7f00,#ff7e00,#ff7e00,#ff7e00,#ff7d00,#ff7d00,#ff7d00,#ff7c00,#ff7c00,#ff7b00,#ff7b00,#ff7b00,#ff7a00,#ff7a00,#ff7a00,#ff7900,#ff7900,#ff7800,#ff7800,#ff7800,#ff7700,#ff7700,#ff7700,#ff7600,#ff7600,#ff7600,#ff7600,#ff7600,#ff7600,#ff7600,#ff7600,#ff7600,#ff7700,#ff7700,#ff7700,#ff7700,#ff7700,#ff7700,#ff7700,#ff7700,#ff7700,#ff7700,#ff7700,#ff7800,#ff7800,#ff7800,#ff7800,#ff7800,#ff7800,#ff7800,#ff7800,#ff7800,#ff7800,#ff7800,#ff7900,#ff7900,#ff7900,#ff7900,#ff7900,#ff7900,#ff7a00,#ff7b00,#ff7f00,#ff8a00,#ffa500,#ffda00,#cfff30,#5dffa2,#00dfff,#006bff,#0010ff,#0000d5,#0000b8,#0000ae,#0000b0,#0000c1,#0000e7,#0028ff,#0080ff,#00e6ff,#4affb5,#9bff64,#d1ff2e,#f0ff0f,#feff01,#fff900,#fff500,#fff100,#ffeb00,#ffe400,#ffdd00,#ffd500,#ffce00,#ffc700,#ffc000,#ffba00,#ffb300,#ffac00,#ffa500,#ff9e00,#ff9700,#ff8f00,#ff8800,#ff8100,#ff7a00,#ff7300,#ff6c00,#ff6400,#ff5d00,#ff5600,#ff4f00,#ff4800,#ff4100,#ff3a00,#ff3400,#ff2e00,#ff2900,#ff2300,#ff1e00,#ff1a00,#ff1500,#ff1000,#ff0b00,#ff0600,#ff0200,#fc0000,#f70000,#f20000,#ed0000,#e90000,#e40000,#df0000,#db0000,#d70000,#d30000,#d10000,#cf0000,#cd0000,#cc0000,#cb0000,#ca0000,#c90000,#c80000,#c70000,#c60000,#c50000,#c40000,#c30000,#c20000,#c10000,#c00000,#bf0000,#bf0000,#be0000,#bd0000,#bc0000,#bc0000,#bb0000,#bb0000,#bb0000,#ba0000,#ba0000,#ba0000,#b90000,#b90000,#b80000,#b80000,#b80000,#b70000,#b70000,#b70000,#b60000,#b60000,#b60000,#b50000,#b50000,#b40000,#b40000,#b40000,#b30000,#b30000,#b30000,#b20000,#b20000,#b20000,#b20000,#b20000)"></div><div style="top:162px;background:linear-gradient(90deg,#ff7200,#ff7200,#ff7200,#ff7200,#ff7200,#ff7100,#ff7100,#ff7100,#ff7100,#ff7000,#ff7000,#ff7000,#ff6f00,#ff6f00,#ff6f00,#ff6e00,#ff6e00,#ff6e00,#ff6d00,#ff6d00,#ff6d00,#ff6c00,#ff6c00,#ff6c00,#ff6b00,#ff6b00,#ff6b00,#ff6a00,#ff6a00,#ff6a00,#ff6900,#ff6900,#ff6900,#ff6800,#ff6800,#ff6800,#ff6700,#ff6700,#ff6700,#ff6700,#ff6600,#ff6600,#ff6600,#ff6500,#ff6500,#ff6500,#ff6400,#ff6400,#ff6400,#ff6300,#ff6300,#ff6300,#ff6200,#ff6200,#ff6200,#ff6200,#ff6200,#ff6200,#ff6200,#ff6200,#ff6300,#ff6300,#ff6400,#ff6400,#ff6500,#ff6500,#ff6600,#ff6600,#ff6700,#ff6700,#ff6800,#ff6800,#ff6900,#ff6900,#ff6a00,#ff6a00,#ff6b00,#ff6b00,#ff6c00,#ff6c00,#ff6d00,#ff6d00,#ff6e00,#ff6e00,#ff6f00,#ff6f00,#ff7000,#ff7000,#ff7100,#ff7100,#ff7200,#ff7200,#ff7300,#ff7400,#ff7700,#ff7d00,#ff8b00,#ffa700,#ffd400,#e8ff17,#98ff67,#42ffbd,#00f1ff,#00b1ff,#0085ff,#006fff,#006eff,#007fff,#00a0ff,#00c6ff,#00e6ff,#00eeff,#00d6ff,#009fff,#005aff,#0018ff,#0000e5,#0000c6,#0000b8,#0000b5,#0000be,#0000d7,#0005ff,#004aff,#00a2ff,#05fffa,#63ff9c,#b2ff4d,#ebff14,#ffee00,#ffd800,#ffca00,#ffbf00,#ffb600,#ffad00,#ffa400,#ff9b00,#ff9300,#ff8a00,#ff8100,#ff7800,#ff6f00,#ff6700,#ff5e00,#ff5600,#ff4d00,#ff4600,#ff3f00,#ff3800,#ff3200,#ff2c00,#ff2700,#ff2100,#ff1b00,#ff1600,#ff1000,#ff0a00,#ff0500,#fe0000,#f80000,#f30000,#ed0000,#e70000,#e20000,#dd0000,#d80000,#d40000,#d10000,#cf0000,#ce0000,#cd0000,#cc0000,#cc0000,#cb0000,#ca0000,#ca0000,#c90000,#c80000,#c80000,#c70000,#c60000,#c50000,#c50000,#c40000,#c30000,#c30000,#c20000,#c10000,#c10000,#c00000,#c00000,#bf0000,#bf0000,#be0000,#be0000,#bd0000,#bc0000,#bc0000,#bb0000,#bb0000,#ba0000,#ba0000,#b90000,#b90000,#b80000,#b70000,#b70000,#b60000,#b60000,#b50000,#b50000,#b40000,#b40000,#b30000,#b30000,#b20000,#b20000,#b20000,#b20000)"></div><div style="top:164px;background:linear-gradient(90deg,#ff5e00,#ff5e00,#ff5e00,#ff5e00,#ff5d00,#ff5d00,#ff5d00,#ff5d00,#ff5d00,#ff5c00,#ff5c00,#ff5c00,#ff5c00,#ff5c00,#ff5c00,#ff5b00,#ff5b00,#ff5b00,#ff5b00,#ff5b00,#ff5a00,#ff5a00,#ff5a00,#ff5a00,#ff5a00,#ff5a00,#ff5900,#ff5900,#ff5900,#ff5900,#ff5900,#ff5800,#ff5800,#ff5800,#ff5800,#ff5800,#ff5700,#ff5700,#ff5700,#ff5700,#ff5700,#ff5700,#ff5600,#ff5600,#ff5600,#ff5600,#ff5600,#ff5500,#ff5500,#ff5500,#ff5500,#ff5500,#ff5500,#ff5400,#ff5400,#ff5400,#ff5400,#ff5400,#ff5400,#ff5500,#ff5500,#ff5500,#ff5600,#ff5600,#ff5700,#ff5700,#ff5700,#ff5800,#ff5800,#ff5800,#ff5900,#ff5900,#ff5900,#ff5a00,#ff5a00,#ff5b00,#ff5b00,#ff5b00,#ff5c00,#ff5c00,#ff5c00,#ff5d00,#ff5d00,#ff5e00,#ff5e00,#ff5e00,#ff5f00,#ff5f00,#ff5f00,#ff6000,#ff6000,#ff6000,#ff6100,#ff6200,#ff6400,#ff6800,#ff6e00,#ff7800,#ff8500,#ff9500,#ffa600,#ffb800,#ffcb00,#ffdd00,#fff000,#fcff03,#ecff13,#ddff22,#d1ff2e,#c7ff38,#bdff42,#b1ff4e,#9eff61,#83ff7c,#61ff9e,#3dffc2,#1bffe4,#01fffe,#00f2ff,#00f2ff,#01fffe,#1effe1,#46ffb9,#76ff89,#a6ff59,#d3ff2c,#f7ff08,#ffec00,#ffd900,#ffcc00,#ffc200,#ffba00,#ffb200,#ffaa00,#ffa200,#ff9b00,#ff9300,#ff8b00,#ff8300,#ff7b00,#ff7400,#ff6c00,#ff6400,#ff5d00,#ff5500,#ff4e00,#ff4700,#ff4000,#ff3a00,#ff3400,#ff2e00,#ff2800,#ff2200,#ff1c00,#ff1700,#ff1100,#ff0b00,#ff0500,#ff0000,#f90000,#f30000,#ed0000,#e80000,#e20000,#dd0000,#d80000,#d40000,#d10000,#d00000,#ce0000,#ce0000,#cd0000,#cc0000,#cc0000,#cb0000,#ca0000,#ca0000,#c90000,#c90000,#c80000,#c70000,#c70000,#c60000,#c50000,#c50000,#c40000,#c40000,#c30000,#c20000,#c20000,#c10000,#c10000,#c00000,#bf0000,#bf0000,#be0000,#be0000,#bd0000,#bc0000,#bc0000,#bb0000,#ba0000,#ba0000,#b90000,#b90000,#b80000,#b70000,#b70000,#b60000,#b60000,#b50000,#b40000,#b40000,#b30000,#b30000,#b20000,#b20000,#b20000,#b20000)"></div><div style="top:166px;background:linear-gradient(90deg,#ff4e00,#ff4e00,#ff4e00,#ff4e00,#ff4e00,#ff4e00,#ff4e00,#ff4e00,#ff4e00,#ff4e00,#ff4e00,#ff4e00,#ff4e00,#ff4e00,#ff4e00,#ff4e00,#ff4e00,#ff4e00,#ff4e00,#ff4e00,#ff4d00,#ff4d00,#ff4d00,#ff4d00,#ff4d00,#ff4d00,#ff4d00,#ff4d00,#ff4d00,#ff4d00,#ff4d00,#ff4d00,#ff4d00,#ff4d00,#ff4d00,#ff4d00,#ff4d00,#ff4d00,#ff4d00,#ff4d00,#ff4d00,#ff4d00,#ff4c00,#ff4c00,#ff4c00,#ff4c00,#ff4c00,#ff4c00,#ff4c00,#ff4c00,#ff4c00,#ff4c00,#ff4c00,#ff4c00,#ff4c00,#ff4c00,#ff4c00,#ff4c00,#ff4c00,#ff4c00,#ff4c00,#ff4c00,#ff4c00,#ff4c00,#ff4d00,#ff4d00,#ff4d00,#ff4d00,#ff4d00,#ff4d00,#ff4d00,#ff4d00,#ff4d00,#ff4d00,#ff4d00,#ff4e00,#ff4e00,#ff4e00,#ff4e00,#ff4e00,#ff4e00,#ff4e00,#ff4e00,#ff4e00,#ff4e00,#ff4f00,#ff4f00,#ff4f00,#ff4f00,#ff4f00,#ff4f00,#ff4f00,#ff4f00,#ff5000,#ff5100,#ff5500,#ff5b00,#ff6400,#ff7000,#ff7e00,#ff8e00,#ff9e00,#ffaf00,#ffbf00,#ffd000,#ffe000,#ffef00,#fffd00,#f7ff08,#f0ff0f,#eeff11,#efff10,#f3ff0c,#f8ff07,#feff01,#fffb00,#fff500,#ffef00,#ffe900,#ffe400,#ffde00,#ffd800,#ffd200,#ffcd00,#ffc700,#ffc100,#ffbb00,#ffb500,#ffaf00,#ffa900,#ffa300,#ff9d00,#ff9700,#ff9100,#ff8b00,#ff8500,#ff7f00,#ff7800,#ff7200,#ff6c00,#ff6600,#ff6000,#ff5a00,#ff5400,#ff4e00,#ff4800,#ff4200,#ff3c00,#ff3600,#ff3100,#ff2b00,#ff2500,#ff2000,#ff1a00,#ff1500,#ff0f00,#ff0900,#ff0400,#fd0000,#f80000,#f20000,#ec0000,#e70000,#e20000,#dc0000,#d80000,#d40000,#d10000,#d00000,#ce0000,#ce0000,#cd0000,#cc0000,#cc0000,#cb0000,#ca0000,#ca0000,#c90000,#c90000,#c80000,#c70000,#c70000,#c60000,#c60000,#c50000,#c40000,#c40000,#c30000,#c20000,#c20000,#c10000,#c10000,#c00000,#bf0000,#bf0000,#be0000,#be0000,#bd0000,#bc0000,#bc0000,#bb0000,#bb0000,#ba0000,#b90000,#b90000,#b80000,#b80000,#b70000,#b60000,#b60000,#b50000,#b40000,#b40000,#b30000,#b30000,#b20000,#b20000,#b20000,#b20000)"></div><div style="top:168px;background:linear-gradient(90deg,#ff4a00,#ff4a00,#ff4a00,#ff4a00,#ff4a00,#ff4a00,#ff4a00,#ff4a00,#ff4a00,#ff4a00,#ff4a00,#ff4a00,#ff4a00,#ff4a00,#ff4a00,#ff4a00,#ff4a00,#ff4a00,#ff4a00,#ff4a00,#ff4a00,#ff4a00,#ff4a00,#ff4a00,#ff4a00,#ff4a00,#ff4a00,#ff4a00,#ff4a00,#ff4a00,#ff4a00,#ff4a00,#ff4a00,#ff4a00,#ff4a00,#ff4a00,#ff4a00,#ff4a00,#ff4a00,#ff4a00,#ff4a00,#ff4a00,#ff4a00,#ff4a00,#ff4a00,#ff4a00,#ff4900,#ff4900,#ff4900,#ff4900,#ff4900,#ff4900,#ff4900,#ff4900,#ff4900,#ff4900,#ff4900,#ff4900,#ff4900,#ff4900,#ff4900,#ff4900,#ff4a00,#ff4a00,#ff4a00,#ff4a00,#ff4a00,#ff4a00,#ff4a00,#ff4a00,#ff4a00,#ff4a00,#ff4a00,#ff4a00,#ff4a00,#ff4a00,#ff4a00,#ff4a00,#ff4a00,#ff4a00,#ff4a00,#ff4a00,#ff4a00,#ff4a00,#ff4a00,#ff4a00,#ff4a00,#ff4a00,#ff4a00,#ff4a00,#ff4a00,#ff4a00,#ff4a00,#ff4a00,#ff4c00,#ff4f00,#ff5400,#ff5d00,#ff6900,#ff7700,#ff8600,#ff9600,#ffa600,#ffb600,#ffc600,#ffd600,#ffe500,#fff200,#fffc00,#fbff04,#f9ff06,#fbff04,#ffff00,#fffa00,#fff500,#ffef00,#ffe900,#ffe300,#ffde00,#ffd800,#ffd200,#ffcc00,#ffc700,#ffc100,#ffbb00,#ffb600,#ffb000,#ffaa00,#ffa500,#ff9f00,#ff9900,#ff9400,#ff8e00,#ff8900,#ff8300,#ff7e00,#ff7800,#ff7200,#ff6d00,#ff6700,#ff6200,#ff5c00,#ff5700,#ff5100,#ff4b00,#ff4600,#ff4000,#ff3b00,#ff3500,#ff3000,#ff2a00,#ff2500,#ff1f00,#ff1900,#ff1400,#ff0e00,#ff0900,#ff0300,#fd0000,#f70000,#f20000,#ec0000,#e70000,#e10000,#dc0000,#d80000,#d40000,#d10000,#d00000,#ce0000,#ce0000,#cd0000,#cc0000,#cc0000,#cb0000,#ca0000,#ca0000,#c90000,#c90000,#c80000,#c70000,#c70000,#c60000,#c60000,#c50000,#c40000,#c40000,#c30000,#c20000,#c20000,#c10000,#c10000,#c00000,#bf0000,#bf0000,#be0000,#be0000,#bd0000,#bc0000,#bc0000,#bb0000,#bb0000,#ba0000,#b90000,#b90000,#b80000,#b80000,#b70000,#b60000,#b60000,#b50000,#b40000,#b40000,#b30000,#b30000,#b20000,#b20000,#b20000,#b20000)"></div><div style="top:170px;background:linear-gradient(90deg,#ff4900,#ff4900,#ff4900,#ff4900,#ff4900,#ff4900,#ff4900,#ff4900,#ff4900,#ff4900,#ff4900,#ff4900,#ff4900,#ff4900,#ff4900,#ff4900,#ff4900,#ff4900,#ff4900,#ff4900,#ff4900,#ff4900,#ff4900,#ff4900,#ff4900,#ff4900,#ff4900,#ff4900,#ff4900,#ff4900,#ff4900,#ff4900,#ff4900,#ff4900,#ff4900,#ff4900,#ff4900,#ff4900,#ff4900,#ff4900,#ff4900,#ff4900,#ff4900,#ff4900,#ff4900,#ff4900,#ff4900,#ff4900,#ff4900,#ff4900,#ff4900,#ff4900,#ff4900,#ff4900,#ff4900,#ff4900,#ff4900,#ff4900,#ff4900,#ff4900,#ff4900,#ff4900,#ff4900,#ff4900,#ff4900,#ff4900,#ff4900,#ff4900,#ff4900,#ff4900,#ff4900,#ff4900,#ff4900,#ff4900,#ff4900,#ff4900,#ff4900,#ff4900,#ff4900,#ff4900,#ff4900,#ff4900,#ff4900,#ff4900,#ff4900,#ff4900,#ff4900,#ff4900,#ff4900,#ff4900,#ff4900,#ff4900,#ff4a00,#ff4a00,#ff4b00,#ff4e00,#ff5400,#ff5d00,#ff6900,#ff7600,#ff8600,#ff9500,#ffa500,#ffb600,#ffc600,#ffd500,#ffe400,#fff100,#fffc00,#fcff03,#faff05,#fcff03,#fffe00,#fff900,#fff400,#ffee00,#ffe800,#ffe300,#ffdd00,#ffd700,#ffd100,#ffcc00,#ffc600,#ffc000,#ffba00,#ffb500,#ffaf00,#ffa900,#ffa400,#ff9e00,#ff9900,#ff9300,#ff8e00,#ff8800,#ff8300,#ff7d00,#ff7800,#ff7200,#ff6c00,#ff6700,#ff6100,#ff5c00,#ff5600,#ff5100,#ff4b00,#ff4600,#ff4000,#ff3b00,#ff3500,#ff3000,#ff2a00,#ff2500,#ff1f00,#ff1900,#ff1400,#ff0e00,#ff0900,#ff0300,#fd0000,#f70000,#f20000,#ec0000,#e70000,#e10000,#dc0000,#d80000,#d40000,#d10000,#d00000,#ce0000,#ce0000,#cd0000,#cc0000,#cc0000,#cb0000,#ca0000,#ca0000,#c90000,#c90000,#c80000,#c70000,#c70000,#c60000,#c60000,#c50000,#c40000,#c40000,#c30000,#c20000,#c20000,#c10000,#c10000,#c00000,#bf0000,#bf0000,#be0000,#be0000,#bd0000,#bc0000,#bc0000,#bb0000,#bb0000,#ba0000,#b90000,#b90000,#b80000,#b80000,#b70000,#b60000,#b60000,#b50000,#b40000,#b40000,#b30000,#b30000,#b20000,#b20000,#b20000,#b20000)"></div></div></div>
<div class="cb" style="top:27px;height:164px"></div>
<div class="hmo" style="left:51px;top:254px;width:429px;height:165px"><div class="hm" style="left:-4px;top:-4px;width:437px;height:173px"><div style="top:0px;background:linear-gradient(90deg,#0096ff,#0095ff,#008fff,#0080ff,#007dff,#008cff,#0093ff,#008bff,#008eff,#06fff9,#00aeff,#0060ff,#0067ff,#0087ff,#0092ff,#008fff,#008eff,#007fff,#006bff,#00a9ff,#06fff9,#0086ff,#00b8ff,#00f3ff,#007dff,#0089ff,#0082ff,#0078ff,#00b3ff,#15ffea,#0092ff,#0083ff,#0071ff,#0074ff,#0088ff,#007dff,#0065ff,#0064ff,#0073ff,#0065ff,#0063ff,#0069ff,#0047ff,#003fff,#0052ff,#0054ff,#0060ff,#0063ff,#004fff,#0060ff,#0088ff,#0090ff,#0073ff,#0066ff,#0088ff,#0095ff,#0092ff,#008dff,#0093ff,#008cff,#0081ff,#0086ff,#008cff,#007eff,#007aff,#008bff,#008eff,#0071ff,#0063ff,#00d7ff,#00dbff,#0079ff,#0086ff,#0084ff,#007aff,#0090ff,#0095ff,#0090ff,#0071ff,#007dff,#0087ff,#0071ff,#0070ff,#0083ff,#0084ff,#0074ff,#0079ff,#006fff,#0054ff,#004aff,#004dff,#0043ff,#003bff,#003dff,#0036ff,#0022ff,#0023ff,#0031ff,#0025ff,#002cff,#0041ff,#002dff,#0030ff,#005dff,#006eff,#006eff,#0070ff,#0086ff,#008cff,#0077ff,#005fff,#0079ff,#0082ff,#0059ff,#0078ff,#0082ff,#0068ff,#006fff,#0075ff,#0066ff,#0073ff,#0075ff,#0070ff,#0088ff,#0093ff,#008dff,#008eff,#008dff,#006fff,#0052ff,#0062ff,#0086ff,#0092ff,#008fff,#0094ff,#008fff,#0081ff,#0089ff,#0094ff,#0092ff,#0089ff,#0085ff,#0060ff,#0055ff,#007bff,#0083ff,#007cff,#008aff,#0079ff,#0066ff,#0072ff,#0066ff,#0083ff,#18ffe7,#007cff,#005dff,#0073ff,#008dff,#008dff,#0089ff,#008dff,#0080ff,#0072ff,#0085ff,#0093ff,#0085ff,#0071ff,#007eff,#008bff,#0070ff,#0057ff,#006aff,#007bff,#0070ff,#0091ff,#1cffe3,#009aff,#0098ff,#20ffdf,#0095ff,#0064ff,#0066ff,#00d8ff,#00c4ff,#0076ff,#00dbff,#00f2ff,#007fff,#0060ff,#0056ff,#004aff,#0058ff,#007bff,#007fff,#0060ff,#00c3ff,#00eaff,#007fff,#005cff,#003eff,#0041ff,#0064ff,#006dff,#006cff,#0086ff,#008eff,#005aff,#0044ff,#0067ff,#007dff,#006aff,#006eff,#008eff,#0091ff,#0090ff,#0094ff,#0095ff,#0096ff,#0096ff)"></div><div style="top:2px;background:linear-gradient(90deg,#0096ff,#0095ff,#0087ff,#0068ff,#0099ff,#0ffff0,#0093ff,#006eff,#006fff,#00faff,#0086ff,#0026ff,#0056ff,#20ffdf,#0090ff,#006bff,#009dff,#00d7ff,#004dff,#0092ff,#00dfff,#005dff,#009cff,#00cbff,#0058ff,#00ddff,#0090ff,#003aff,#00a5ff,#00f1ff,#0063ff,#00bcff,#005aff,#005bff,#02fffd,#004dff,#000aff,#0007ff,#0025ff,#000fff,#0011ff,#0025ff,#0000fa,#0000ee,#0000f9,#0000f7,#0033ff,#0061ff,#000eff,#0029ff,#0070ff,#007dff,#0030ff,#003eff,#22ffdd,#00a3ff,#0083ff,#006cff,#008fff,#00e0ff,#0066ff,#005bff,#0072ff,#0052ff,#0061ff,#20ffdf,#0092ff,#0040ff,#0027ff,#00c2ff,#00b9ff,#0053ff,#006eff,#0066ff,#0051ff,#00dbff,#00f0ff,#008aff,#004dff,#0061ff,#006cff,#003dff,#003bff,#007eff,#00e8ff,#005bff,#005bff,#0092ff,#0045ff,#0018ff,#006aff,#001aff,#0000fd,#0047ff,#0016ff,#0000e4,#0000e6,#0018ff,#0000fc,#0000e9,#0034ff,#0010ff,#0000fb,#0098ff,#005fff,#0041ff,#0040ff,#0070ff,#007dff,#0049ff,#001aff,#0055ff,#00e4ff,#0053ff,#0061ff,#0060ff,#002aff,#0090ff,#0091ff,#0023ff,#00ecff,#0079ff,#004cff,#00d5ff,#00e7ff,#0073ff,#0087ff,#06fff9,#005dff,#001dff,#003eff,#0cfff3,#00b1ff,#0075ff,#008aff,#0084ff,#0066ff,#0077ff,#0092ff,#0088ff,#0066ff,#006aff,#0039ff,#002fff,#00ecff,#00a2ff,#006bff,#06fff9,#0076ff,#0033ff,#0044ff,#0032ff,#0056ff,#02fffd,#004aff,#0021ff,#0046ff,#007bff,#0073ff,#0066ff,#00b1ff,#00c0ff,#004cff,#00e5ff,#16ffe9,#0067ff,#0023ff,#0059ff,#0dfff2,#0065ff,#002fff,#007eff,#00ddff,#004eff,#007aff,#07fff8,#0065ff,#006aff,#15ffea,#0078ff,#0033ff,#0037ff,#00aaff,#0052ff,#001aff,#00caff,#00edff,#0065ff,#0039ff,#0076ff,#002cff,#0039ff,#00f4ff,#005eff,#0018ff,#0083ff,#00b5ff,#0051ff,#0036ff,#004aff,#001dff,#0096ff,#0080ff,#0047ff,#0074ff,#007fff,#0019ff,#0043ff,#008bff,#0063ff,#004bff,#00f9ff,#00bbff,#0075ff,#0071ff,#008cff,#0096ff,#0096ff,#0096ff)"></div><div style="top:4px;background:linear-gradient(90deg,#0099ff,#0096ff,#007aff,#0048ff,#007cff,#03fffc,#0084ff,#0038ff,#0036ff,#00e4ff,#0051ff,#0000e7,#0022ff,#13ffec,#0060ff,#001eff,#0067ff,#00a4ff,#0020ff,#006dff,#009dff,#001fff,#006dff,#008aff,#0020ff,#00c2ff,#0036ff,#0000e8,#0085ff,#009fff,#000aff,#0070ff,#0000f9,#001aff,#00d1ff,#0000fe,#0000b3,#0000b2,#0000d0,#0000bc,#0000c1,#0000db,#0000bb,#0000b0,#0000b1,#0000ac,#0000d8,#0000fd,#0000cf,#0019ff,#00bdff,#005fff,#0000e4,#0000fa,#21ffde,#00a0ff,#005dff,#0028ff,#006eff,#008fff,#000aff,#0013ff,#0040ff,#0014ff,#0025ff,#0efff1,#0076ff,#0005ff,#0000e3,#009fff,#0083ff,#0020ff,#0048ff,#0036ff,#0016ff,#00cfff,#00eeff,#007fff,#0023ff,#00a0ff,#008dff,#0000ff,#0000fa,#0052ff,#00b1ff,#002aff,#0030ff,#0050ff,#0001ff,#0000e0,#0019ff,#0000d3,#0000c4,#0000fe,#0000d9,#0000b5,#0000b7,#0000d7,#0000b7,#0000b4,#0000f1,#0000cb,#0000c5,#0052ff,#0031ff,#0009ff,#0004ff,#0094ff,#00afff,#0010ff,#0000d3,#001eff,#00c2ff,#0027ff,#0043ff,#0030ff,#0000e3,#0054ff,#0033ff,#0000d9,#00c3ff,#003dff,#001cff,#00c5ff,#00d0ff,#003eff,#005bff,#00e9ff,#002cff,#0000e4,#000dff,#00fdff,#0086ff,#0038ff,#006fff,#0072ff,#003eff,#0087ff,#17ffe8,#0076ff,#0027ff,#003cff,#000cff,#0000ff,#00d4ff,#007bff,#0048ff,#00f4ff,#0043ff,#0000fc,#0064ff,#001aff,#001fff,#00daff,#000fff,#0000e2,#0011ff,#005aff,#0040ff,#0027ff,#008bff,#0078ff,#0001ff,#009dff,#00f9ff,#001cff,#0000c4,#000fff,#00f8ff,#0040ff,#0005ff,#005dff,#00a6ff,#0018ff,#0059ff,#00d5ff,#0014ff,#0026ff,#00faff,#004bff,#0000fa,#0000fe,#005cff,#0000d0,#0000b5,#00aaff,#00dfff,#0041ff,#0007ff,#002cff,#0000ee,#0000fc,#0090ff,#0004ff,#0000cb,#0018ff,#0038ff,#0000f3,#0000f7,#0004ff,#0000e4,#005dff,#0044ff,#001bff,#005cff,#0066ff,#0000d9,#0005ff,#0047ff,#003bff,#001fff,#00e2ff,#0096ff,#002eff,#0027ff,#0070ff,#0096ff,#0098ff,#0098ff)"></div><div style="top:6px;background:linear-gradient(90deg,#009dff,#0097ff,#0069ff,#0022ff,#005aff,#00f1ff,#006dff,#0000fc,#0000fa,#00c8ff,#0020ff,#0000b9,#0000f7,#00f6ff,#0022ff,#0000d4,#002bff,#006bff,#0000f1,#0042ff,#0053ff,#0000e3,#003cff,#0041ff,#0000e6,#009eff,#0000eb,#0000b0,#005eff,#0045ff,#0000c2,#0029ff,#0000bb,#0000eb,#00a7ff,#0000d0,#000093,#000093,#0000a6,#000097,#00009c,#0000ad,#00009c,#000096,#000095,#000093,#0000a6,#0000bc,#0000a9,#0000e0,#007aff,#003bff,#0000ba,#0000da,#18ffe7,#009bff,#0024ff,#0000d6,#003cff,#0036ff,#0000be,#0000d0,#000aff,#0000de,#0000f3,#00f3ff,#0056ff,#0000d3,#0000b4,#0079ff,#0049ff,#0000ee,#001eff,#0002ff,#0000dd,#00bbff,#00e9ff,#0071ff,#0000f8,#007cff,#0052ff,#0000cf,#0000cb,#0026ff,#0072ff,#0000f7,#0004ff,#0012ff,#0000cb,#0000b8,#0000d8,#0000a8,#0000a2,#0000c9,#0000b1,#00009c,#00009d,#0000ae,#00009a,#00009a,#0000c1,#0000a5,#0000a6,#0013ff,#0005ff,#0000d7,#0000cf,#0068ff,#0085ff,#0000e0,#0000aa,#0000f0,#009cff,#0000ff,#0024ff,#0003ff,#0000b3,#0022ff,#0000f5,#0000b8,#0097ff,#0004ff,#0000ec,#00b1ff,#00acff,#0000fb,#0022ff,#00c8ff,#0000fe,#0000b8,#0000e0,#00e4ff,#0045ff,#0000eb,#0040ff,#0057ff,#0010ff,#0067ff,#0afff5,#004dff,#0000df,#0004ff,#0000e1,#0000d5,#00b4ff,#004dff,#0021ff,#00daff,#0012ff,#0000cf,#0025ff,#0000d3,#0000ee,#00b0ff,#0000de,#0000ba,#0000e5,#0031ff,#0003ff,#0000e4,#005aff,#002aff,#0000c0,#0050ff,#00d7ff,#0000df,#000090,#0000d8,#00ddff,#001cff,#0000e0,#003aff,#0064ff,#0000e1,#0031ff,#009dff,#0000d2,#0000f0,#00d2ff,#0018ff,#0000cd,#0000d1,#001fff,#000099,#00008f,#0091ff,#00cdff,#0019ff,#0000db,#0000ed,#0000c3,#0000cc,#001aff,#0000c0,#0000a9,#0000c7,#0000d0,#0000b2,#0000c3,#0000d0,#0000be,#0024ff,#000cff,#0000f0,#0040ff,#0049ff,#0000b6,#0000da,#0008ff,#0012ff,#0000f3,#00c5ff,#0060ff,#0000df,#0000d8,#0043ff,#0094ff,#009bff,#009bff)"></div><div style="top:8px;background:linear-gradient(90deg,#00a2ff,#0098ff,#0055ff,#0000fd,#0038ff,#00dcff,#0054ff,#0000d4,#0000d3,#00aeff,#0000fe,#0000a4,#0000df,#00dbff,#0000fa,#0000b8,#0007ff,#0036ff,#0000cc,#001bff,#0019ff,#0000bf,#0016ff,#0003ff,#0000ba,#0080ff,#0000ca,#00009e,#0046ff,#0014ff,#0000ad,#0005ff,#0000a7,#0000db,#009eff,#0000cf,#000094,#000093,#00009e,#00008f,#000092,#00009a,#000092,#000090,#000090,#000090,#000095,#0000a0,#00009a,#0000bf,#0043ff,#0026ff,#0000b4,#0000d5,#0dfff2,#0097ff,#0000ee,#0000a0,#0010ff,#0001ff,#0000a1,#0000ae,#0000e7,#0000c3,#0000db,#00d4ff,#003eff,#0000b8,#0000a1,#0059ff,#0019ff,#0000cc,#0000f8,#0000d9,#0000b9,#00a5ff,#00e5ff,#0061ff,#0000d8,#005bff,#002bff,#0000b9,#0000b6,#0006ff,#0038ff,#0000d0,#0000dd,#0000e3,#0000ac,#0000a2,#0000b2,#000097,#000095,#0000a9,#00009c,#000093,#000093,#00009a,#000092,#000092,#0000a5,#000096,#000098,#0000e2,#0000e0,#0000b7,#0000b1,#003fff,#0061ff,#0000c9,#00009f,#0000d9,#0078ff,#0000e2,#000aff,#0000e8,#0000a1,#0009ff,#0000e3,#0000b4,#0070ff,#0000dc,#0000c9,#009cff,#0083ff,#0000c9,#0000f1,#00a8ff,#0000dc,#00009f,#0000c2,#00c6ff,#000aff,#0000b7,#0011ff,#0038ff,#0000e7,#0045ff,#00f9ff,#0024ff,#0000af,#0000d6,#0000c1,#0000b8,#0091ff,#0021ff,#0000fc,#00c1ff,#0000ef,#0000b7,#0000f6,#0000aa,#0000d1,#008eff,#0000c4,#0000ac,#0000cd,#0011ff,#0000d5,#0000bb,#002eff,#0000ed,#00009c,#0018ff,#00c4ff,#0000ca,#00008f,#0000c5,#00c1ff,#0000fe,#0000c8,#001aff,#0027ff,#0000b6,#000cff,#0078ff,#0000b9,#0000dc,#00a2ff,#0000ea,#0000b3,#0000b6,#000aff,#00009f,#000092,#0090ff,#00b8ff,#0000f2,#0000be,#0000c6,#0000ae,#0000b3,#0000d2,#0000a9,#0000a4,#0000aa,#0000ae,#0000a4,#0000ad,#0000b6,#0000ad,#0000f7,#0000e1,#0000d2,#0026ff,#0033ff,#0000ab,#0000c2,#0000da,#0000ee,#0000d1,#00a3ff,#0034ff,#0000b8,#0000b3,#0020ff,#0092ff,#009eff,#009eff)"></div><div style="top:10px;background:linear-gradient(90deg,#00a7ff,#0098ff,#0040ff,#0000e0,#001cff,#00c4ff,#0044ff,#0000c6,#0000c7,#00a0ff,#0000f3,#0000a0,#0000d7,#00cfff,#0000fa,#0000b9,#0000fd,#000eff,#0000b5,#0000ff,#0000fa,#0000b4,#0000ff,#0000d9,#0000a4,#006eff,#0000ce,#0000a1,#004bff,#001aff,#0000b0,#0006ff,#0000ab,#0000de,#00b8ff,#0000fb,#0000b2,#0000aa,#0000a7,#000090,#000091,#000094,#000090,#00008f,#00008f,#00008f,#000091,#000097,#000095,#0000af,#0023ff,#0028ff,#0000cd,#0000e5,#06fff9,#0098ff,#0000d3,#000090,#0000fb,#0000f8,#0000a0,#0000ab,#0000e2,#0000bf,#0000d5,#00b8ff,#0038ff,#0000b3,#00009e,#0045ff,#0000fb,#0000be,#0000e2,#0000c4,#0000ab,#0093ff,#00e0ff,#0054ff,#0000c5,#0044ff,#001eff,#0000b6,#0000b2,#0000f6,#000bff,#0000b7,#0000c3,#0000c5,#00009e,#000098,#0000a0,#000092,#000091,#000099,#000093,#000090,#000090,#000092,#000090,#000090,#000098,#000092,#000093,#0000c4,#0000c8,#0000a7,#0000a4,#001fff,#004aff,#0000c8,#00009f,#0000d9,#005bff,#0000d0,#0000f8,#0000e6,#0000a1,#0005ff,#0000f8,#0000c0,#0056ff,#0000c7,#0000b6,#0089ff,#0066ff,#0000b2,#0000d7,#0091ff,#0000ca,#000096,#0000b3,#00abff,#0000e9,#0000a7,#0000f5,#001dff,#0000cb,#0027ff,#00e7ff,#000aff,#00009e,#0000bd,#0000ae,#0000a8,#006fff,#0000fc,#0000e1,#00afff,#0000df,#0000b0,#0000dd,#00009b,#0000c5,#007eff,#0000bf,#0000ac,#0000c9,#0003ff,#0000c2,#0000b0,#0013ff,#0000ca,#00008f,#0000fb,#00c8ff,#0000df,#000091,#0000d5,#00adff,#0000eb,#0000bc,#0003ff,#0000f8,#00009c,#0000ef,#0078ff,#0000bb,#0000db,#0075ff,#0000cc,#0000a8,#0000a9,#000bff,#0000e2,#0000ca,#00a6ff,#00a1ff,#0000d6,#0000ae,#0000b2,#0000a7,#0000ab,#0000b8,#0000a4,#0000a4,#0000a4,#0000a8,#0000a4,#0000a8,#0000aa,#0000a7,#0000d9,#0000c8,#0000c1,#0013ff,#0027ff,#0000ac,#0000b6,#0000c0,#0000d5,#0000bb,#0084ff,#0026ff,#0000b6,#0000b1,#001eff,#0095ff,#00a1ff,#00a1ff)"></div><div style="top:12px;background:linear-gradient(90deg,#00acff,#0098ff,#0031ff,#0000ce,#0007ff,#00abff,#0045ff,#0000cb,#0000cb,#00a0ff,#0001ff,#0000a6,#0000dc,#00d5ff,#0023ff,#0000d6,#000fff,#0000f6,#0000ab,#0000f1,#0000f7,#0000b5,#0000f7,#0000c6,#00009d,#006aff,#0000f8,#0000c1,#006bff,#0053ff,#0000d4,#002dff,#0000cd,#0000fb,#00dcff,#0044ff,#0000f4,#0000dc,#0000c0,#000096,#000094,#000095,#000090,#00008f,#00008f,#000090,#000091,#000097,#000095,#0000ac,#0019ff,#003aff,#000aff,#001eff,#05fffa,#00a0ff,#0000d7,#000091,#0007ff,#001eff,#0000b3,#0000c5,#0000fb,#0000cd,#0000da,#00a5ff,#0047ff,#0000c1,#0000a6,#0042ff,#0000f1,#0000bc,#0000db,#0000c1,#0000aa,#0089ff,#00ddff,#004eff,#0000bf,#0039ff,#002aff,#0000bf,#0000b9,#0000f7,#0000ed,#0000ab,#0000b4,#0000b5,#000098,#000094,#000099,#000091,#000090,#000093,#000090,#000090,#000090,#000090,#000090,#000090,#000093,#000090,#000091,#0000b2,#0000ba,#0000a2,#0000a0,#000bff,#003fff,#0000d9,#0000ad,#0000f0,#0048ff,#0000c8,#0000f2,#0000fc,#0000ae,#0012ff,#0031ff,#0000f4,#0050ff,#0000bf,#0000af,#007cff,#005eff,#0000af,#0000d2,#0086ff,#0000c7,#000096,#0000b0,#0097ff,#0000e9,#0000a8,#0000f5,#000aff,#0000be,#000fff,#00d3ff,#0007ff,#00009e,#0000b8,#0000a6,#0000a2,#0051ff,#0000e4,#0000d2,#00a7ff,#0000e0,#0000b1,#0000d8,#00009a,#0000c3,#0081ff,#0000ce,#0000b4,#0000da,#000eff,#0000c6,#0000b1,#0009ff,#0000be,#00008f,#0000f5,#00daff,#001fff,#0000c6,#000cff,#00a3ff,#0000e2,#0000b9,#0000f3,#0000dc,#000092,#0000e0,#0097ff,#0000dd,#0000f2,#0051ff,#0000b9,#0000a4,#0000a5,#0006ff,#0046ff,#0027ff,#00c0ff,#008aff,#0000c3,#0000a8,#0000a9,#0000a5,#0000a8,#0000b6,#0000a4,#0000a4,#0000a4,#0000aa,#0000a7,#0000a8,#0000a6,#0000a5,#0000c7,#0000bc,#0000bb,#0009ff,#0027ff,#0000b1,#0000b1,#0000b4,#0000c7,#0000b1,#0067ff,#0036ff,#0000d4,#0000ce,#0040ff,#009dff,#00a5ff,#00a5ff)"></div><div style="top:14px;background:linear-gradient(90deg,#00b2ff,#009cff,#0029ff,#0000c7,#0000f9,#0093ff,#0057ff,#0000e8,#0000e5,#00b0ff,#0025ff,#0000bf,#0000f4,#00e1ff,#0068ff,#0026ff,#003dff,#0000ed,#0000aa,#0000f1,#000dff,#0000c2,#0000fe,#0000c6,#00009e,#006cff,#0044ff,#0009ff,#0097ff,#00a2ff,#002aff,#0073ff,#001eff,#003aff,#00f2ff,#0073ff,#001fff,#0000fe,#0000e2,#0000a8,#0000a0,#00009c,#000091,#000090,#000090,#000091,#000097,#00009e,#000097,#0000b1,#0024ff,#0055ff,#0041ff,#0062ff,#08fff7,#00acff,#0000fb,#0000a8,#002fff,#0069ff,#0000f4,#0007ff,#0033ff,#0000f7,#0000f8,#009eff,#0067ff,#0000e9,#0000c5,#0052ff,#0000f8,#0000bf,#0000e4,#0000d1,#0000b4,#008bff,#00dbff,#0051ff,#0000c0,#0037ff,#004cff,#0000de,#0000d6,#0008ff,#0000de,#0000a8,#0000ae,#0000af,#000096,#000093,#000097,#000090,#000090,#000091,#000090,#00008f,#00008f,#00008f,#00008f,#000090,#000092,#000090,#000091,#0000ab,#0000b5,#0000a3,#0000a1,#0003ff,#003fff,#0000fc,#0000d6,#001dff,#0040ff,#0000c6,#0000f4,#0029ff,#0000db,#0032ff,#0069ff,#003fff,#005dff,#0000c2,#0000af,#0076ff,#006dff,#0000bd,#0000e0,#008aff,#0000d3,#00009b,#0000b8,#0088ff,#0005ff,#0000b9,#000cff,#0001ff,#0000b9,#0000fc,#00b8ff,#0019ff,#0000a9,#0000c6,#0000a8,#0000a2,#003cff,#0000d8,#0000cc,#00a9ff,#0000f2,#0000bc,#0000e8,#0000a8,#0000cc,#0093ff,#0000f4,#0000d4,#0003ff,#0031ff,#0000e2,#0000c4,#0012ff,#0000c0,#000090,#0005ff,#00eaff,#0070ff,#0029ff,#0054ff,#00a2ff,#0000e4,#0000ba,#0000ed,#0000d0,#000091,#0000db,#00beff,#0022ff,#0029ff,#003aff,#0000b0,#0000a4,#0000a4,#0000f7,#005cff,#0039ff,#00c3ff,#0075ff,#0000b8,#0000a5,#0000a5,#0000a4,#0000a9,#0000c5,#0000a8,#0000a4,#0000a9,#0000b8,#0000b1,#0000a9,#0000a5,#0000a5,#0000bd,#0000ba,#0000bc,#000aff,#002fff,#0000b8,#0000af,#0000af,#0000c0,#0000ad,#004cff,#0050ff,#0019ff,#0018ff,#0075ff,#00a6ff,#00a9ff,#00a9ff)"></div><div style="top:16px;background:linear-gradient(90deg,#00beff,#00a6ff,#002cff,#0000c8,#0000f1,#007eff,#0075ff,#0024ff,#001eff,#00caff,#005dff,#0000f8,#0028ff,#00ecff,#00a4ff,#006fff,#0069ff,#0000f0,#0000ad,#0000fb,#003cff,#0000ec,#001cff,#0000d8,#0000a8,#0074ff,#008fff,#004eff,#00b8ff,#00c9ff,#006bff,#00b4ff,#0072ff,#007bff,#00f6ff,#006bff,#0007ff,#0000f0,#0000fd,#0000ce,#0000c0,#0000b3,#000096,#000093,#00009a,#00009d,#0000ae,#0000b4,#0000a1,#0000bf,#003fff,#0058ff,#0000ff,#0044ff,#09fff6,#00beff,#0041ff,#0000ec,#006dff,#00baff,#0056ff,#005fff,#0079ff,#003aff,#002fff,#00a6ff,#0092ff,#002cff,#0007ff,#0075ff,#0014ff,#0000cf,#0002ff,#0000f9,#0000d5,#0099ff,#00ddff,#0060ff,#0000c8,#003dff,#007dff,#001aff,#000bff,#0027ff,#0000dc,#0000a9,#0000ae,#0000b0,#000097,#000094,#000099,#000091,#000090,#000091,#000090,#00008f,#00008f,#00008f,#000090,#000090,#000092,#000091,#000092,#0000ab,#0000b7,#0000aa,#0000ab,#0009ff,#0046ff,#0025ff,#0009ff,#004eff,#0043ff,#0000c8,#0000fe,#0062ff,#0027ff,#005aff,#005dff,#004cff,#006dff,#0000cf,#0000b6,#0079ff,#008eff,#0000e7,#0009ff,#0096ff,#0000ef,#0000ad,#0000cc,#0077ff,#002eff,#0000e7,#0029ff,#0000fa,#0000b7,#0000ee,#0092ff,#0035ff,#0000ce,#0000e6,#0000b3,#0000a8,#0030ff,#0000d6,#0000cd,#00b2ff,#001aff,#0000dd,#000dff,#0000cf,#0000ea,#00acff,#0034ff,#0016ff,#0043ff,#0068ff,#001fff,#0000fb,#0032ff,#0000ce,#0000a0,#0029ff,#00f2ff,#00a4ff,#0047ff,#0039ff,#009fff,#0000f0,#0000c0,#0000f1,#0000d5,#000094,#0000e3,#00bbff,#0053ff,#0068ff,#002fff,#0000ac,#0000a4,#0000a4,#0000eb,#0028ff,#0001ff,#00b1ff,#0067ff,#0000b4,#0000a5,#0000a4,#0000a4,#0000ab,#0000eb,#0000bc,#0000a7,#0000c1,#0000de,#0000bd,#0000a8,#0000a4,#0000a5,#0000ba,#0000bf,#0000c3,#0019ff,#003bff,#0000be,#0000ae,#0000ae,#0000be,#0000ae,#0030ff,#005bff,#0046ff,#0055ff,#009eff,#00b1ff,#00b2ff,#00b2ff)"></div><div style="top:18px;background:linear-gradient(90deg,#00cfff,#00b7ff,#003cff,#0000d1,#0000ed,#006dff,#0097ff,#0066ff,#005eff,#00e4ff,#009dff,#004cff,#006eff,#00f7ff,#00b9ff,#0069ff,#006eff,#0000ff,#0000b5,#0010ff,#0079ff,#0039ff,#0053ff,#0001ff,#0000c5,#0084ff,#00b5ff,#0053ff,#00bfff,#00a8ff,#0050ff,#00a4ff,#0046ff,#005dff,#00eaff,#004fff,#0000e3,#0000d7,#0006ff,#0000ef,#0000ef,#0000e8,#0000a5,#0000a0,#0000b7,#0000ba,#0000e2,#0000e8,#0000bc,#0000db,#005fff,#0049ff,#0000c2,#0008ff,#05fffa,#00d2ff,#008fff,#004dff,#00a6ff,#00d5ff,#006cff,#007bff,#00acff,#0073ff,#0058ff,#00aaff,#00b9ff,#0070ff,#0052ff,#00a2ff,#0043ff,#0000f7,#0033ff,#0037ff,#0014ff,#00b4ff,#00e4ff,#007cff,#0000de,#004cff,#00aaff,#0054ff,#0038ff,#0047ff,#0000e5,#0000ad,#0000b7,#0000ba,#00009b,#000097,#00009e,#000095,#000093,#000093,#000091,#000090,#000090,#000090,#000090,#000091,#000094,#000094,#000096,#0000b2,#0000c2,#0000bc,#0000c1,#001bff,#0055ff,#0033ff,#0003ff,#005bff,#0050ff,#0000cf,#0011ff,#0082ff,#005dff,#0069ff,#000fff,#000cff,#0071ff,#0000ea,#0000cb,#0085ff,#00b2ff,#0029ff,#0045ff,#00a1ff,#0015ff,#0000d0,#0000e9,#005bff,#0042ff,#0009ff,#0024ff,#0000f3,#0000b6,#0000e1,#0060ff,#0040ff,#0000fd,#000eff,#0000c7,#0000b9,#002cff,#0000de,#0000d3,#00bdff,#0054ff,#001cff,#0046ff,#0013ff,#0024ff,#00c9ff,#007fff,#0069ff,#008aff,#00a3ff,#0070ff,#0053ff,#0065ff,#0000eb,#0000c0,#0053ff,#00f7ff,#00a4ff,#0000f8,#0000d8,#008eff,#0007ff,#0000d2,#0002ff,#0000ea,#0000a3,#0000f7,#007cff,#0033ff,#0082ff,#0031ff,#0000ad,#0000a4,#0000a4,#0000e7,#0000f4,#0000d0,#009cff,#0061ff,#0000b2,#0000a4,#0000a4,#0000a4,#0000af,#0025ff,#0000f9,#0000c4,#0000fe,#0017ff,#0000bd,#0000a7,#0000a4,#0000a5,#0000ba,#0000cd,#0000d7,#0035ff,#0042ff,#0000be,#0000ae,#0000ae,#0000c0,#0000b5,#0015ff,#004fff,#0027ff,#0048ff,#00adff,#00beff,#00beff,#00beff)"></div><div style="top:20px;background:linear-gradient(90deg,#00e1ff,#00ccff,#0058ff,#0000e5,#0000ef,#0063ff,#00b5ff,#007eff,#0072ff,#00f6ff,#00cbff,#0090ff,#00aaff,#01fffe,#00afff,#0033ff,#0055ff,#001cff,#0000ca,#002cff,#00a8ff,#007fff,#0092ff,#0040ff,#0000fe,#00a1ff,#00b5ff,#0027ff,#00b0ff,#0066ff,#000cff,#0057ff,#0000ef,#0015ff,#00d6ff,#0042ff,#0000d9,#0000d3,#0009ff,#0000ed,#000bff,#003aff,#0000cc,#0000c1,#0000dd,#0000cd,#0025ff,#003fff,#0000f5,#0017ff,#0095ff,#0075ff,#0000d9,#0023ff,#07fff8,#00e5ff,#00c3ff,#0056ff,#0097ff,#009aff,#0012ff,#0032ff,#00b0ff,#007dff,#004fff,#00a7ff,#00d3ff,#0087ff,#006cff,#00c7ff,#007eff,#0038ff,#0073ff,#0072ff,#005bff,#00d2ff,#00ecff,#00a0ff,#0009ff,#0067ff,#00c3ff,#0053ff,#0024ff,#004eff,#0000fa,#0000b9,#0000c9,#0000cf,#0000a7,#0000a0,#0000aa,#00009f,#00009a,#00009a,#000095,#000091,#000091,#000093,#000093,#000094,#00009c,#00009c,#0000a1,#0000c2,#0000d6,#0000d8,#0000e3,#0039ff,#006aff,#0020ff,#0000d3,#003cff,#0065ff,#0000e0,#0028ff,#0061ff,#003aff,#0049ff,#0000d0,#0000d2,#0069ff,#0017ff,#0000f4,#0099ff,#00c3ff,#0049ff,#006aff,#009eff,#0032ff,#0000f1,#0000fc,#0033ff,#0029ff,#0000ea,#0000f0,#0000e3,#0000b7,#0000d4,#0026ff,#0022ff,#0006ff,#0022ff,#0000df,#0000d4,#002dff,#0000ee,#0000e0,#00c4ff,#008aff,#0065ff,#0081ff,#004fff,#005dff,#00e0ff,#00a8ff,#0073ff,#0095ff,#00c7ff,#009cff,#0086ff,#0096ff,#0018ff,#0000e7,#0063ff,#00fbff,#00aaff,#0000e6,#0000cd,#008dff,#002cff,#0000f6,#0022ff,#000fff,#0000c6,#0016ff,#0029ff,#0000ee,#0075ff,#003eff,#0000b2,#0000a4,#0000a5,#0000ee,#0000de,#0000c2,#008fff,#0062ff,#0000b4,#0000a4,#0000a4,#0000a4,#0000b6,#0055ff,#005cff,#0016ff,#005cff,#003dff,#0000b4,#0000a5,#0000a4,#0000a5,#0000bf,#0000e6,#0000fc,#005dff,#003fff,#0000b7,#0000af,#0000af,#0000c8,#0000c4,#0000f9,#003aff,#0000f2,#0018ff,#00aaff,#00cbff,#00cbff,#00cbff)"></div><div style="top:22px;background:linear-gradient(90deg,#00f4ff,#00e4ff,#007eff,#0009ff,#0000fb,#005bff,#00ccff,#0066ff,#0055ff,#00f4ff,#009bff,#0038ff,#0071ff,#00fdff,#009fff,#0011ff,#003dff,#0042ff,#0000f2,#0047ff,#0083ff,#005aff,#00a0ff,#0088ff,#004fff,#00c5ff,#00a7ff,#0001ff,#009aff,#0031ff,#0000e3,#003cff,#0000ed,#0013ff,#00d7ff,#0057ff,#0000e7,#0000e1,#001aff,#0000dc,#0007ff,#008eff,#0011ff,#0000fd,#0000f7,#0000cc,#0053ff,#009dff,#004bff,#0068ff,#00cdff,#00d2ff,#0071ff,#00a3ff,#12ffed,#00f6ff,#00c6ff,#0000f8,#0041ff,#006aff,#0000f0,#0008ff,#00a4ff,#0063ff,#002cff,#0098ff,#00dfff,#0065ff,#0048ff,#00d3ff,#00a9ff,#0072ff,#00aeff,#0080ff,#007cff,#00eaff,#00f6ff,#00c6ff,#0046ff,#008dff,#00c3ff,#0027ff,#0000f4,#003aff,#0019ff,#0000d2,#0000eb,#0000f4,#0000c1,#0000b4,#0000bb,#0000ae,#0000ab,#0000ab,#0000a2,#000099,#000099,#00009e,#000099,#00009b,#0000ad,#0000ac,#0000b2,#0000df,#0000f8,#0000f6,#0002ff,#0060ff,#0087ff,#0019ff,#0000cb,#002bff,#0082ff,#0000fd,#003fff,#0021ff,#0000f6,#0024ff,#0000c2,#0000c4,#0060ff,#004dff,#002eff,#00b0ff,#00b2ff,#0023ff,#0055ff,#0086ff,#0037ff,#0000f9,#0000f4,#0005ff,#0000f4,#0000b7,#0000ba,#0000cb,#0000b4,#0000c4,#0000f1,#0000eb,#0000de,#0016ff,#0000f2,#0000f0,#0030ff,#0006ff,#0000f7,#00c2ff,#008cff,#0076ff,#003bff,#0000e0,#0005ff,#00b4ff,#0071ff,#0000fe,#002eff,#00a8ff,#0056ff,#0039ff,#009bff,#0053ff,#0006ff,#004aff,#00fdff,#00d7ff,#0043ff,#0014ff,#00b4ff,#0066ff,#002dff,#004eff,#0040ff,#0004ff,#003dff,#0000f5,#0000c9,#0064ff,#0058ff,#0000c0,#0000a5,#0000a7,#0005ff,#0000e5,#0000c7,#0093ff,#006cff,#0000ba,#0000a5,#0000a4,#0000a5,#0000bf,#006cff,#00a9ff,#0075ff,#00a6ff,#0045ff,#0000ac,#0000a5,#0000a4,#0000a6,#0000c7,#0008ff,#0030ff,#0089ff,#003bff,#0000b3,#0000b2,#0000b5,#0000d8,#0000e1,#0000ff,#0031ff,#0000db,#0000fa,#00a8ff,#00d8ff,#00d9ff,#00d8ff)"></div><div style="top:24px;background:linear-gradient(90deg,#07fff8,#00fbff,#00abff,#003dff,#002fff,#008dff,#00e0ff,#0041ff,#002fff,#00e1ff,#0044ff,#0000e4,#001bff,#00e9ff,#009cff,#000dff,#0038ff,#0072ff,#002dff,#0056ff,#002cff,#0005ff,#0072ff,#00b7ff,#0093ff,#00e8ff,#00a0ff,#0000f7,#008eff,#001eff,#0000de,#005cff,#0047ff,#0062ff,#00f4ff,#0090ff,#001bff,#0013ff,#0045ff,#0000d8,#0000ff,#00c9ff,#0061ff,#0046ff,#0003ff,#0000cb,#0063ff,#00dcff,#0090ff,#00abff,#00f5ff,#00fcff,#00c3ff,#00ebff,#17ffe8,#08fff7,#00c1ff,#0000d5,#0018ff,#008cff,#000cff,#0030ff,#00bcff,#0048ff,#0013ff,#0085ff,#00e2ff,#003cff,#0021ff,#00c8ff,#009aff,#006eff,#00caff,#005aff,#0065ff,#00f9ff,#02fffd,#00e5ff,#007aff,#00b7ff,#00c5ff,#0014ff,#0000ec,#0037ff,#004cff,#0002ff,#0022ff,#002bff,#0000ef,#0000d8,#0000c4,#0000b4,#0000c1,#0000cd,#0000c0,#0000b0,#0000af,#0000b9,#0000a5,#0000a6,#0000ce,#0000bc,#0000bc,#0009ff,#0029ff,#0008ff,#0008ff,#0089ff,#00adff,#0042ff,#0000de,#0051ff,#00a6ff,#002bff,#005dff,#0003ff,#0000e1,#0022ff,#0000da,#0000dc,#007bff,#007dff,#0061ff,#00c2ff,#0089ff,#0000e8,#0021ff,#0061ff,#0020ff,#0000e1,#0000d6,#0000db,#0000c8,#00009d,#00009e,#0000b1,#0000aa,#0000b3,#0000c9,#0000bc,#0000b4,#0000f6,#0000f6,#0005ff,#003dff,#0021ff,#0018ff,#00b3ff,#004fff,#003cff,#0000db,#0000a4,#0000b3,#0064ff,#0048ff,#0000de,#0000fe,#007aff,#0001ff,#0000e8,#007dff,#0090ff,#0013ff,#0028ff,#00fdff,#00faff,#00abff,#00a3ff,#00efff,#00a4ff,#006cff,#008eff,#0089ff,#0050ff,#006dff,#0000eb,#0000c6,#0067ff,#007eff,#0000db,#0000ac,#0000b1,#002dff,#000fff,#0000e5,#00acff,#007eff,#0000c4,#0000a6,#0000a4,#0000a7,#0000c9,#007aff,#00c9ff,#007fff,#00afff,#0045ff,#0000aa,#0000a5,#0000a4,#0000a7,#0000d2,#0031ff,#005eff,#00adff,#004eff,#0000b5,#0000b9,#0000c3,#0000f4,#0012ff,#0037ff,#0041ff,#0000dc,#0000f9,#00b1ff,#00e6ff,#00e6ff,#00e6ff)"></div><div style="top:26px;background:linear-gradient(90deg,#18ffe7,#12ffed,#00d9ff,#007eff,#0071ff,#00c2ff,#00f3ff,#002dff,#001dff,#00e9ff,#0074ff,#0004ff,#003fff,#00f7ff,#00b4ff,#001cff,#004cff,#00a9ff,#0075ff,#0072ff,#0016ff,#0000f9,#0060ff,#00a3ff,#006eff,#00e8ff,#00a9ff,#0000fc,#0097ff,#0030ff,#0000e8,#007eff,#00adff,#00a5ff,#0dfff2,#00d7ff,#0077ff,#006dff,#0086ff,#0000e4,#000dff,#00ecff,#009dff,#0083ff,#0011ff,#0000d1,#006aff,#00dfff,#006aff,#00a5ff,#0dfff2,#00e1ff,#003aff,#0087ff,#00f0ff,#0cfff3,#00e2ff,#0000f7,#0049ff,#00e8ff,#0091ff,#00b1ff,#00e8ff,#003fff,#0011ff,#0080ff,#00ebff,#0031ff,#001aff,#00b9ff,#0061ff,#003dff,#00c2ff,#0027ff,#0036ff,#08fff7,#13ffec,#00e2ff,#0052ff,#00ceff,#00deff,#0031ff,#0000ff,#005fff,#008cff,#0046ff,#0067ff,#0069ff,#0022ff,#0000fe,#0000ca,#0000bb,#0000d7,#0003ff,#0000f4,#0000d0,#0000cf,#0000ea,#0000bc,#0000bc,#0002ff,#0000c9,#0000c2,#0035ff,#0063ff,#000dff,#0001ff,#00afff,#00d5ff,#009dff,#0040ff,#00aaff,#00cdff,#0063ff,#008aff,#0015ff,#0000ec,#0050ff,#002eff,#0030ff,#00b8ff,#008cff,#0070ff,#00c8ff,#0065ff,#0000cb,#0000f6,#0039ff,#0000fb,#0000c1,#0000b6,#0000b9,#0000ab,#000094,#000094,#00009e,#00009d,#0000a2,#0000ac,#0000a3,#00009f,#0000d5,#0000ea,#0002ff,#003bff,#0035ff,#0037ff,#009dff,#001dff,#0027ff,#0023ff,#0000c4,#0000db,#0095ff,#008fff,#0019ff,#004aff,#0096ff,#0000fa,#0000e4,#0081ff,#00c8ff,#0013ff,#000bff,#00fbff,#00ffff,#008dff,#00a6ff,#09fff6,#00c9ff,#008bff,#00b9ff,#00c5ff,#0083ff,#0096ff,#000aff,#0000db,#0089ff,#00acff,#000dff,#0000c2,#0000cc,#0067ff,#005dff,#0033ff,#00d3ff,#0097ff,#0000d6,#0000a9,#0000a5,#0000aa,#0000d2,#0088ff,#00bbff,#0025ff,#0071ff,#004cff,#0000ad,#0000a6,#0000a4,#0000a7,#0000d2,#004eff,#0069ff,#00b6ff,#0080ff,#0000c7,#0000ce,#0000e0,#001fff,#0047ff,#0075ff,#006aff,#0000f1,#0019ff,#00c7ff,#00f2ff,#00f2ff,#00f2ff)"></div><div style="top:28px;background:linear-gradient(90deg,#24ffdb,#21ffde,#00ffff,#00bfff,#00b5ff,#00f0ff,#04fffb,#002eff,#001eff,#00fcff,#00f8ff,#00a0ff,#00b4ff,#15ffea,#00e0ff,#004eff,#007dff,#00deff,#00bdff,#00b5ff,#0054ff,#0026ff,#008cff,#005eff,#0013ff,#00b3ff,#00c2ff,#000eff,#00b6ff,#0068ff,#0014ff,#009aff,#008eff,#006fff,#0afff5,#06fff9,#00b9ff,#00acff,#00bfff,#0009ff,#0036ff,#05fffa,#00a8ff,#009eff,#0033ff,#0000e0,#007fff,#00b1ff,#001bff,#0060ff,#12ffed,#009eff,#0000cb,#0000e5,#0042ff,#00c5ff,#0efff1,#007bff,#00c9ff,#23ffdc,#17ffe8,#20ffdf,#0cfff3,#004dff,#001aff,#0091ff,#05fffa,#0049ff,#002dff,#00bdff,#0041ff,#0026ff,#00b3ff,#0008ff,#0018ff,#16ffe9,#26ffd9,#00bbff,#0013ff,#00c4ff,#0afff5,#008aff,#0052ff,#00b4ff,#00ceff,#0082ff,#00a2ff,#0096ff,#002eff,#0012ff,#0000e7,#0000d4,#0007ff,#004bff,#0038ff,#0000e4,#0000e1,#002bff,#0000ec,#0000e9,#004aff,#0000e8,#0000d8,#006dff,#00a2ff,#0018ff,#0006ff,#00ceff,#00f5ff,#00efff,#00ccff,#00f8ff,#00edff,#009eff,#00c3ff,#005fff,#002dff,#00a5ff,#009fff,#009dff,#00e5ff,#0071ff,#0055ff,#00bfff,#0054ff,#0000c4,#0000e3,#0019ff,#0000da,#0000aa,#0000a2,#0000a4,#00009c,#000091,#000091,#000094,#000094,#000096,#00009b,#000098,#000098,#0000bd,#0000c9,#0000d8,#0024ff,#003cff,#0044ff,#008fff,#0010ff,#0024ff,#006aff,#0000fa,#000aff,#00b1ff,#00faff,#00d2ff,#00ecff,#00e7ff,#004eff,#002dff,#00c3ff,#00f6ff,#0016ff,#0000fd,#00faff,#00f4ff,#0047ff,#0068ff,#0cfff3,#00bbff,#005fff,#00a8ff,#00c0ff,#0034ff,#0050ff,#0042ff,#001eff,#00c3ff,#00dbff,#0052ff,#0000f3,#0003ff,#00a9ff,#00b0ff,#008cff,#00f6ff,#00b1ff,#0000f2,#0000b2,#0000a9,#0000af,#0000d5,#0091ff,#009bff,#0000ec,#003cff,#005cff,#0000b7,#0000a9,#0000a5,#0000a8,#0000d3,#0056ff,#004aff,#009dff,#00bdff,#0007ff,#0000fd,#0011ff,#0038ff,#003fff,#009fff,#00a5ff,#0030ff,#005aff,#00e3ff,#00fcff,#00fbff,#00fbff)"></div><div style="top:30px;background:linear-gradient(90deg,#2affd5,#29ffd6,#19ffe6,#00f3ff,#00ecff,#11ffee,#12ffed,#0044ff,#0030ff,#07fff8,#17ffe8,#00a4ff,#0092ff,#0bfff4,#0bfff4,#00a7ff,#00ceff,#0afff5,#00f5ff,#00fdff,#00d8ff,#00b6ff,#00c5ff,#000aff,#0000d5,#004fff,#00daff,#0041ff,#00e0ff,#00bbff,#0071ff,#00cbff,#0051ff,#002fff,#00f7ff,#0afff5,#00a8ff,#0097ff,#00d4ff,#0051ff,#007eff,#11ffee,#007eff,#008dff,#006dff,#0012ff,#00a7ff,#00a4ff,#0012ff,#004eff,#11ffee,#007fff,#0000b6,#0000a9,#0000bb,#005fff,#0ffff0,#00bfff,#23ffdc,#39ffc6,#43ffbc,#47ffb8,#2cffd3,#0076ff,#0035ff,#00bbff,#2cffd3,#008fff,#006cff,#00ebff,#004eff,#0031ff,#00c3ff,#0005ff,#0014ff,#27ffd8,#39ffc6,#00bfff,#001aff,#00d1ff,#2effd1,#00faff,#00d9ff,#0cfff3,#00f7ff,#0077ff,#009dff,#0097ff,#0010ff,#0009ff,#002bff,#0027ff,#006bff,#009fff,#007cff,#0000f3,#0000f0,#006fff,#0045ff,#0040ff,#009eff,#003cff,#0021ff,#00b9ff,#00daff,#0036ff,#001bff,#00ecff,#0dfff2,#10ffef,#0ffff0,#15ffea,#05fffa,#00d2ff,#00f2ff,#00c9ff,#00a8ff,#00f0ff,#00b6ff,#00a7ff,#00e7ff,#0049ff,#002eff,#00aeff,#005aff,#0000ca,#0000e6,#0004ff,#0000c6,#00009f,#000099,#00009a,#000095,#000090,#000090,#000090,#000090,#000091,#000094,#000094,#000095,#0000ae,#0000ad,#0000b5,#0002ff,#0033ff,#0036ff,#008eff,#0023ff,#003bff,#0079ff,#000bff,#0017ff,#00b5ff,#1effe1,#29ffd6,#2bffd4,#22ffdd,#00e5ff,#00d2ff,#16ffe9,#17ffe8,#0025ff,#0002ff,#05fffa,#00e5ff,#0016ff,#0036ff,#04fffb,#008cff,#0027ff,#006eff,#003eff,#0000af,#0000b0,#0019ff,#0065ff,#00f8ff,#04fffb,#00a1ff,#003aff,#004bff,#00e0ff,#00c2ff,#0094ff,#00f1ff,#00c1ff,#0018ff,#0000c3,#0000b3,#0000b4,#0000d4,#0094ff,#009eff,#0000ef,#0038ff,#007dff,#0000d2,#0000b3,#0000ab,#0000af,#0000ef,#0055ff,#0021ff,#0074ff,#00e2ff,#0057ff,#0043ff,#004eff,#0027ff,#0003ff,#009eff,#00daff,#0087ff,#00a7ff,#00f8ff,#03fffc,#02fffd,#02fffd)"></div><div style="top:32px;background:linear-gradient(90deg,#30ffcf,#2fffd0,#29ffd6,#17ffe8,#14ffeb,#25ffda,#21ffde,#0076ff,#005eff,#16ffe9,#04fffb,#0050ff,#0038ff,#00e5ff,#26ffd9,#00fdff,#11ffee,#24ffdb,#19ffe6,#22ffdd,#0cfff3,#00d7ff,#007aff,#0000b8,#0000a5,#0000ed,#00cfff,#0095ff,#0cfff3,#00f6ff,#00ceff,#00f5ff,#002eff,#0013ff,#00e4ff,#00f4ff,#006eff,#0058ff,#00a8ff,#007bff,#00acff,#0cfff3,#0044ff,#0063ff,#00b4ff,#0069ff,#00daff,#00d7ff,#0047ff,#0084ff,#00dbff,#0083ff,#0000cb,#0000ab,#0000bc,#0066ff,#09fff6,#007bff,#21ffde,#4cffb3,#5bffa4,#61ff9e,#50ffaf,#00bcff,#0075ff,#00faff,#54ffab,#00f8ff,#00dcff,#2dffd2,#0091ff,#006bff,#00f9ff,#001dff,#002eff,#3effc1,#4effb1,#08fff7,#0068ff,#13ffec,#45ffba,#3bffc4,#30ffcf,#39ffc6,#00f9ff,#003dff,#0063ff,#0084ff,#0000f7,#0000fa,#0078ff,#00c0ff,#00e2ff,#00edff,#00c2ff,#0016ff,#0013ff,#00b6ff,#00b3ff,#00b0ff,#00e5ff,#00b0ff,#00acff,#00fbff,#06fff9,#0071ff,#004dff,#08fff7,#1affe5,#1cffe3,#1dffe2,#1effe1,#16ffe9,#00faff,#11ffee,#11ffee,#08fff7,#08fff7,#0068ff,#004fff,#00cbff,#002dff,#0017ff,#009fff,#0072ff,#0000ea,#0000fb,#0000fb,#0000be,#00009c,#000096,#000096,#000092,#000090,#000090,#00008f,#00008f,#000090,#000091,#000093,#000094,#0000a9,#0000a7,#0000b0,#0000f6,#0024ff,#0018ff,#008fff,#0056ff,#0028ff,#0000fa,#0000ed,#0030ff,#00cfff,#24ffdb,#00f8ff,#00c2ff,#00e6ff,#24ffdb,#33ffcc,#3bffc4,#2dffd2,#004aff,#001fff,#1bffe4,#00e0ff,#0007ff,#0020ff,#00feff,#0077ff,#001fff,#0059ff,#002cff,#0000ab,#0000ad,#002bff,#007bff,#09fff6,#1fffe0,#00e8ff,#005eff,#006bff,#02fffd,#0076ff,#0003ff,#000bff,#003eff,#0023ff,#0000d3,#0000c2,#0000b9,#0000d4,#008aff,#00acff,#0026ff,#0060ff,#0094ff,#0000f9,#0000c9,#0000be,#0000cd,#0029ff,#0050ff,#000bff,#0053ff,#00eaff,#0068ff,#007fff,#008fff,#001fff,#0000f5,#0099ff,#00f6ff,#00a3ff,#00b3ff,#02fffd,#08fff7,#08fff7,#07fff8)"></div><div style="top:34px;background:linear-gradient(90deg,#38ffc7,#38ffc7,#36ffc9,#2fffd0,#2effd1,#35ffca,#32ffcd,#00bfff,#00abff,#2bffd4,#00f2ff,#0011ff,#0000ea,#0079ff,#19ffe6,#2effd1,#33ffcc,#35ffca,#31ffce,#28ffd7,#00b4ff,#0049ff,#0060ff,#0000fa,#0000cc,#0048ff,#04fffb,#00efff,#24ffdb,#00aeff,#0097ff,#03fffc,#002dff,#0010ff,#00ddff,#00dcff,#0040ff,#0018ff,#0000fb,#0000c4,#0009ff,#00beff,#001dff,#0039ff,#00b7ff,#0089ff,#00e4ff,#10ffef,#00c3ff,#0061ff,#0000da,#0000d7,#0000fe,#0018ff,#004eff,#00e9ff,#13ffec,#0049ff,#0afff5,#61ff9e,#72ff8d,#79ff86,#71ff8e,#14ffeb,#00d7ff,#3fffc0,#74ff8b,#55ffaa,#48ffb7,#64ff9b,#07fff8,#00e5ff,#3effc1,#005aff,#006cff,#58ffa7,#62ff9d,#52ffad,#14ffeb,#49ffb6,#46ffb9,#0efff1,#00baff,#00d1ff,#00daff,#0027ff,#0044ff,#0084ff,#0000f9,#0000fe,#00a3ff,#21ffde,#29ffd6,#25ffda,#08fff7,#0066ff,#0061ff,#00fdff,#0bfff4,#0afff5,#09fff6,#00b4ff,#03fffc,#21ffde,#22ffdd,#00c5ff,#00a5ff,#1effe1,#25ffda,#25ffda,#25ffda,#26ffd9,#24ffdb,#18ffe7,#23ffdc,#29ffd6,#29ffd6,#02fffd,#0029ff,#0014ff,#00b2ff,#0027ff,#0012ff,#009cff,#0092ff,#0023ff,#001aff,#0000fe,#0000c0,#00009c,#000097,#000097,#000093,#000090,#000090,#00008f,#00008f,#000090,#000091,#000094,#000097,#0000ac,#0000b2,#0000c0,#0008ff,#0016ff,#0000fd,#0089ff,#007fff,#0000e7,#0000a4,#0000b9,#0048ff,#03fffc,#00f5ff,#0021ff,#0000b7,#0000ef,#00cbff,#43ffbc,#4cffb3,#44ffbb,#008bff,#005dff,#38ffc7,#00f0ff,#000fff,#0027ff,#0ffff0,#0098ff,#0031ff,#0081ff,#008dff,#0000d9,#0002ff,#009eff,#0059ff,#00f5ff,#2fffd0,#14ffeb,#0043ff,#004dff,#09fff6,#0022ff,#0000b5,#0000a4,#0000ca,#0003ff,#0000cf,#0000d2,#0000c1,#0000d5,#005aff,#005eff,#001eff,#0041ff,#0049ff,#0000f3,#0000d2,#0000d3,#0000f0,#0052ff,#0053ff,#0009ff,#0049ff,#00e7ff,#0043ff,#009dff,#00cfff,#0052ff,#0015ff,#00beff,#00f4ff,#005eff,#0069ff,#00faff,#0dfff2,#0dfff2,#0dfff2)"></div><div style="top:36px;background:linear-gradient(90deg,#4bffb4,#4bffb4,#4bffb4,#49ffb6,#49ffb6,#4cffb3,#4bffb4,#13ffec,#06fff9,#48ffb7,#00dfff,#0000d6,#0000aa,#0000c4,#0098ff,#3cffc3,#4effb1,#4effb1,#4cffb3,#2fffd0,#006bff,#000aff,#0052ff,#00e9ff,#00fdff,#2fffd0,#48ffb7,#36ffc9,#25ffda,#0030ff,#0014ff,#00d2ff,#004cff,#0023ff,#00e6ff,#00cdff,#002cff,#0004ff,#0000d9,#0000a9,#0000e3,#00a3ff,#000fff,#0004ff,#0000e6,#0000c2,#003cff,#00f7ff,#01fffe,#0051ff,#0000b6,#0000b7,#000bff,#009fff,#15ffea,#56ffa9,#1dffe2,#0047ff,#07fff8,#77ff88,#85ff7a,#8bff74,#89ff76,#5fffa0,#3cffc3,#74ff8b,#8aff75,#84ff7b,#80ff7f,#84ff7b,#68ff97,#5affa5,#70ff8f,#00bdff,#00cdff,#72ff8d,#75ff8a,#6eff91,#23ffdc,#008fff,#0058ff,#001cff,#0000b3,#0000d0,#0077ff,#002dff,#004fff,#00a8ff,#001aff,#0022ff,#00d4ff,#49ffb6,#4dffb2,#4affb5,#3fffc0,#00e7ff,#00e2ff,#37ffc8,#3cffc3,#3bffc4,#00fbff,#0051ff,#00fbff,#3affc5,#39ffc6,#14ffeb,#03fffc,#34ffcb,#35ffca,#34ffcb,#33ffcc,#31ffce,#31ffce,#30ffcf,#36ffc9,#39ffc6,#3affc5,#0cfff3,#0025ff,#0011ff,#00bbff,#0036ff,#001fff,#00aeff,#00afff,#004aff,#003aff,#000fff,#0000ce,#0000a3,#00009b,#00009b,#000096,#000091,#000090,#000090,#000090,#000091,#000094,#000098,#00009e,#0000b6,#0000cc,#0000ea,#0022ff,#0010ff,#0000f2,#0083ff,#00cdff,#0071ff,#000cff,#001cff,#00abff,#2fffd0,#01fffe,#0026ff,#0000b8,#0000f3,#00d9ff,#58ffa7,#64ff9b,#64ff9b,#00e6ff,#00beff,#5effa1,#1cffe3,#0037ff,#0056ff,#3cffc3,#00f4ff,#0084ff,#00afff,#0073ff,#0000da,#0000dd,#0020ff,#0013ff,#00d2ff,#39ffc6,#27ffd8,#0032ff,#0038ff,#0afff5,#001aff,#0000c0,#0000d3,#0036ff,#0019ff,#0000d6,#0000e4,#0000ca,#0000d0,#0010ff,#0000e6,#0000c2,#0000ca,#0000cf,#0000be,#0000be,#0000d7,#0002ff,#0069ff,#0065ff,#0011ff,#005cff,#00ecff,#0022ff,#00a4ff,#08fff7,#00c8ff,#0091ff,#01fffe,#00e9ff,#0023ff,#002aff,#00efff,#13ffec,#12ffed,#12ffed)"></div><div style="top:38px;background:linear-gradient(90deg,#68ff97,#69ff96,#69ff96,#69ff96,#6aff95,#6cff93,#6dff92,#5bffa4,#57ffa8,#6eff91,#08fff7,#0000e6,#0000ac,#0000c9,#00adff,#5effa1,#71ff8e,#70ff8f,#6fff90,#55ffaa,#0097ff,#0023ff,#0074ff,#35ffca,#6bff94,#6cff93,#6bff94,#64ff9b,#00f4ff,#0000ce,#0000ac,#0000d9,#0042ff,#005cff,#00ffff,#00ceff,#002eff,#001aff,#005dff,#0081ff,#00bbff,#00f5ff,#0019ff,#0004ff,#0000ce,#0000af,#0022ff,#00eeff,#1fffe0,#00f0ff,#009aff,#008fff,#0033ff,#009eff,#44ffbb,#2effd1,#00c4ff,#0035ff,#13ffec,#56ffa9,#0dfff2,#26ffd9,#7bff84,#8cff73,#80ff7f,#93ff6c,#98ff67,#95ff6a,#94ff6b,#95ff6a,#91ff6e,#8eff71,#8cff73,#2bffd4,#34ffcb,#86ff79,#88ff77,#70ff8f,#00a2ff,#0000bc,#0000a7,#0000e6,#0000ca,#0000f1,#0073ff,#0000f2,#0000ea,#0071ff,#0069ff,#0080ff,#1effe1,#68ff97,#69ff96,#66ff99,#63ff9c,#4effb1,#4bffb4,#5dffa2,#5bffa4,#58ffa7,#00ddff,#0015ff,#00e0ff,#52ffad,#51ffae,#48ffb7,#42ffbd,#4cffb3,#4bffb4,#43ffbc,#00feff,#0099ff,#00a8ff,#15ffea,#49ffb6,#4effb1,#4fffb0,#2fffd0,#005dff,#0041ff,#00d1ff,#003dff,#002fff,#00ceff,#00baff,#002dff,#004bff,#002fff,#0000ec,#0000b5,#0000a9,#0000a8,#00009e,#000093,#000093,#000095,#000095,#000097,#00009c,#0000a4,#0000af,#0000c9,#0000e7,#000fff,#003cff,#0015ff,#0000f5,#0083ff,#00f7ff,#0cfff3,#00c0ff,#0071ff,#00c5ff,#41ffbe,#4effb1,#1cffe3,#00e4ff,#11ffee,#62ff9d,#7cff83,#83ff7c,#86ff79,#48ffb7,#2fffd0,#88ff77,#5bffa4,#0093ff,#00b4ff,#74ff8b,#61ff9e,#00e0ff,#0021ff,#0000b2,#0000ad,#0000a4,#0000be,#0000eb,#00b7ff,#41ffbe,#35ffca,#004aff,#0050ff,#0ffff0,#0020ff,#0000ba,#0000d7,#009bff,#0057ff,#0000f3,#000cff,#0000dc,#0000d2,#0000e7,#0000b7,#0000a6,#0000a4,#0000a5,#0000a8,#0000b0,#0000d7,#0012ff,#0081ff,#008dff,#0032ff,#008eff,#00feff,#0018ff,#00a7ff,#34ffcb,#30ffcf,#1dffe2,#31ffce,#00f5ff,#0021ff,#0026ff,#00f3ff,#1affe5,#18ffe7,#17ffe8)"></div><div style="top:40px;background:linear-gradient(90deg,#89ff76,#89ff76,#8aff75,#8bff74,#8dff72,#8fff70,#91ff6e,#8fff70,#8fff70,#96ff69,#68ff97,#0087ff,#0044ff,#00deff,#75ff8a,#96ff69,#97ff68,#96ff69,#95ff6a,#8dff72,#32ffcd,#00cbff,#0ffff0,#6cff93,#76ff89,#85ff7a,#8dff72,#82ff7d,#00beff,#0000b0,#0000a4,#0000a8,#0022ff,#006bff,#00c5ff,#00ccff,#0044ff,#0031ff,#00abff,#14ffeb,#1effe1,#0dfff2,#0043ff,#0059ff,#00afff,#0098ff,#00dfff,#1affe5,#23ffdc,#25ffda,#27ffd8,#07fff8,#0023ff,#0075ff,#12ffed,#003aff,#0000b9,#0000d1,#00b6ff,#006aff,#0000c2,#0000e6,#00dfff,#93ff6c,#a1ff5e,#9bff64,#4effb1,#00edff,#14ffeb,#7fff80,#a1ff5e,#a2ff5d,#9fff60,#5dffa2,#00fbff,#00e7ff,#43ffbc,#86ff79,#10ffef,#0039ff,#0013ff,#00a6ff,#13ffec,#2bffd4,#00a0ff,#0000b9,#0000a6,#0028ff,#00d0ff,#08fff7,#65ff9a,#83ff7c,#82ff7d,#80ff7f,#7eff81,#7aff85,#78ff87,#77ff88,#65ff9a,#10ffef,#006eff,#0000fa,#00d5ff,#6aff95,#69ff96,#66ff99,#64ff9b,#64ff9b,#63ff9c,#35ffca,#0050ff,#0000b0,#0000be,#0089ff,#4cffb3,#65ff9a,#65ff9a,#59ffa6,#00d7ff,#009fff,#0048ff,#0000bf,#0000d7,#00a2ff,#00b3ff,#000dff,#0053ff,#0060ff,#001eff,#0000dd,#0000c8,#0000c3,#0000b2,#00009a,#00009b,#0000a3,#0000a4,#0000a8,#0000b0,#0000bb,#0000cb,#0000e2,#0000fe,#0024ff,#0051ff,#0025ff,#0000fe,#008cff,#07fff8,#18ffe7,#00a3ff,#003dff,#0093ff,#41ffbe,#65ff9a,#70ff8f,#7bff84,#86ff79,#92ff6d,#9bff64,#a4ff5b,#aaff55,#96ff69,#8dff72,#b1ff4e,#9cff63,#19ffe6,#33ffcc,#a8ff57,#a9ff56,#43ffbc,#0039ff,#0000b9,#0000d2,#0008ff,#001bff,#0004ff,#00baff,#49ffb6,#43ffbc,#00a0ff,#00a1ff,#17ffe8,#0039ff,#0000af,#0000af,#0080ff,#00b8ff,#0058ff,#005bff,#000cff,#0000f3,#0001ff,#0000bd,#0000a9,#0000ac,#0000b0,#0000ac,#0000b5,#0000f9,#0044ff,#00b6ff,#00d0ff,#007cff,#00dcff,#1dffe2,#0020ff,#00b3ff,#58ffa7,#5fffa0,#56ffa9,#4dffb2,#1dffe2,#0058ff,#005dff,#0dfff2,#22ffdd,#1effe1,#1dffe2)"></div><div style="top:42px;background:linear-gradient(90deg,#a8ff57,#a8ff57,#a9ff56,#abff54,#adff52,#b0ff4f,#b2ff4d,#b4ff4b,#b7ff48,#baff45,#abff54,#33ffcc,#0ffff0,#60ff9f,#66ff99,#94ff6b,#b7ff48,#baff45,#b8ff47,#b3ff4c,#a7ff58,#8fff70,#4bffb4,#008bff,#0049ff,#00dcff,#8cff73,#aaff55,#59ffa6,#005aff,#0000eb,#0021ff,#0000fe,#0000ad,#0000b5,#0037ff,#006aff,#0061ff,#00ceff,#17ffe8,#1bffe4,#13ffec,#0087ff,#00a7ff,#1affe5,#1cffe3,#1fffe0,#20ffdf,#22ffdd,#25ffda,#2affd5,#05fffa,#001aff,#0066ff,#1dffe2,#003eff,#0000bb,#0000e8,#00d7ff,#006fff,#0000c3,#0000e7,#00e7ff,#a1ff5e,#b1ff4e,#69ff96,#0050ff,#0000b4,#0000e1,#00ecff,#a2ff5d,#b1ff4e,#a3ff5c,#00edff,#0000e4,#0000b3,#0048ff,#60ff9f,#a3ff5c,#85ff7a,#7cff83,#9aff65,#a8ff57,#a3ff5c,#50ffaf,#0094ff,#006dff,#00f8ff,#2cffd3,#00f3ff,#23ffdc,#7cff83,#96ff69,#95ff6a,#93ff6c,#91ff6e,#8fff70,#89ff76,#11ffee,#0000fd,#0000aa,#0000bb,#00aeff,#7bff84,#81ff7e,#7fff80,#7eff81,#7dff82,#7cff83,#5dffa2,#009cff,#0000ea,#0000fe,#00d1ff,#6dff92,#7eff81,#7eff81,#7cff83,#52ffad,#08fff7,#002cff,#0000ab,#0000c9,#00a9ff,#00caff,#001cff,#0075ff,#00a0ff,#0064ff,#0023ff,#0004ff,#0000f5,#0000da,#0000ab,#0000b1,#0000c5,#0000c6,#0000ca,#0000d1,#0000d4,#0000d3,#0000d2,#0000d7,#0000ea,#0012ff,#0016ff,#0003ff,#0098ff,#13ffec,#18ffe7,#007cff,#001bff,#0065ff,#30ffcf,#63ff9c,#76ff89,#81ff7e,#88ff77,#9dff62,#b5ff4a,#c1ff3e,#c9ff36,#c9ff36,#c9ff36,#d3ff2c,#cdff32,#93ff6c,#a0ff5f,#d1ff2e,#d3ff2c,#c6ff39,#7aff85,#2bffd4,#45ffba,#7eff81,#00c0ff,#001eff,#00c4ff,#45ffba,#4affb5,#09fff6,#00ffff,#1dffe2,#0070ff,#0000b5,#0000af,#007cff,#02fffd,#00dbff,#00b9ff,#0066ff,#004dff,#0064ff,#0000ec,#0000c4,#0000f7,#0017ff,#0000d1,#0000db,#005aff,#00a6ff,#03fffc,#1dffe2,#00e2ff,#2dffd2,#3effc1,#0033ff,#00ceff,#75ff8a,#78ff87,#6dff92,#60ff9f,#46ffb9,#00d0ff,#00cfff,#27ffd8,#28ffd7,#23ffdc,#21ffde)"></div><div style="top:44px;background:linear-gradient(90deg,#c1ff3e,#c2ff3d,#c3ff3c,#c5ff3a,#c7ff38,#caff35,#cdff32,#d1ff2e,#d4ff2b,#d7ff28,#d5ff2a,#9dff62,#00deff,#0000f1,#0000c5,#0041ff,#75ff8a,#caff35,#58ffa7,#00b8ff,#00cfff,#6cff93,#00f0ff,#0000ce,#0000a4,#002bff,#69ff96,#c8ff37,#c4ff3b,#abff54,#89ff76,#21ffde,#0000e1,#0000a4,#0000a5,#000aff,#00a3ff,#00acff,#00f7ff,#1cffe3,#1effe1,#1cffe3,#00d4ff,#00e8ff,#1fffe0,#20ffdf,#20ffdf,#1fffe0,#1effe1,#24ffdb,#2cffd3,#0dfff2,#0026ff,#0078ff,#68ff97,#48ffb7,#0ffff0,#30ffcf,#9aff65,#7eff81,#2affd5,#44ffbb,#a0ff5f,#c0ff3f,#bfff40,#82ff7d,#007cff,#0000d2,#000aff,#13ffec,#b4ff4b,#c1ff3e,#b6ff49,#1affe5,#000eff,#0000d1,#0075ff,#7dff82,#bdff42,#bdff42,#bbff44,#b9ff46,#b6ff49,#b4ff4b,#afff50,#a1ff5e,#9aff65,#69ff96,#0069ff,#0000c1,#0000e8,#00e2ff,#92ff6d,#a1ff5e,#a0ff5f,#9fff60,#9eff61,#8dff72,#00b4ff,#0000bb,#0000a5,#0000bd,#00cfff,#91ff6e,#98ff67,#98ff67,#98ff67,#99ff66,#99ff66,#99ff66,#80ff7f,#4fffb0,#58ffa7,#8aff75,#9bff64,#9cff63,#9bff64,#9bff64,#95ff6a,#87ff78,#31ffce,#00b1ff,#00ceff,#54ffab,#20ffdf,#0059ff,#00cdff,#00ebff,#00b8ff,#007fff,#0059ff,#003fff,#0020ff,#0000dc,#0000e8,#0001ff,#0000ff,#0000fc,#0000ec,#0000d1,#0000ba,#0000ad,#0000a9,#0000ad,#0000c0,#0000e0,#0000f8,#008fff,#0ffff0,#0dfff2,#0060ff,#000bff,#0042ff,#03fffc,#3dffc2,#49ffb6,#17ffe8,#00edff,#26ffd9,#9aff65,#d2ff2d,#dcff23,#e1ff1e,#e3ff1c,#e6ff19,#e5ff1a,#d6ff29,#daff25,#e6ff19,#e7ff18,#e6ff19,#e3ff1c,#deff21,#d5ff2a,#c5ff3a,#00ebff,#0000f5,#0000f0,#004eff,#07fff8,#32ffcd,#25ffda,#1dffe2,#009fff,#0000cc,#0000b7,#0026ff,#00e6ff,#0dfff2,#00f9ff,#00caff,#00c0ff,#00dcff,#003bff,#0000f4,#0081ff,#00c5ff,#0033ff,#0039ff,#00d2ff,#00ffff,#34ffcb,#46ffb9,#2fffd0,#58ffa7,#50ffaf,#0057ff,#00f1ff,#80ff7f,#78ff87,#6dff92,#60ff9f,#50ffaf,#2cffd3,#23ffdc,#2effd1,#28ffd7,#23ffdc,#21ffde)"></div><div style="top:46px;background:linear-gradient(90deg,#d4ff2b,#d5ff2a,#d7ff28,#d9ff26,#dcff23,#dfff20,#e2ff1d,#e6ff19,#e9ff16,#ecff13,#eeff11,#baff45,#0061ff,#0000a6,#0000a4,#0000ca,#2effd1,#7cff83,#000bff,#0000a6,#0000aa,#0062ff,#5effa1,#00a4ff,#005bff,#00feff,#c0ff3f,#e3ff1c,#deff21,#d4ff2b,#c2ff3d,#95ff6a,#00ddff,#0031ff,#003fff,#00d3ff,#00ffff,#00f7ff,#1bffe4,#27ffd8,#27ffd8,#26ffd9,#0ffff0,#15ffea,#26ffd9,#25ffda,#0afff5,#00aaff,#0079ff,#00c3ff,#1effe1,#1dffe2,#0052ff,#00acff,#7cff83,#99ff66,#aeff51,#bdff42,#caff35,#ceff31,#cfff30,#cfff30,#d0ff2f,#cfff30,#ceff31,#c9ff36,#98ff67,#55ffaa,#72ff8d,#baff45,#cfff30,#d0ff2f,#d0ff2f,#beff41,#76ff89,#57ffa8,#99ff66,#c9ff36,#cbff34,#c7ff38,#c3ff3c,#bfff40,#baff45,#b5ff4a,#b1ff4e,#acff53,#a7ff58,#6bff94,#006aff,#0000c1,#0000e7,#00e2ff,#93ff6c,#a4ff5b,#a4ff5b,#a4ff5b,#a4ff5b,#98ff67,#00f0ff,#0000e8,#0000b8,#002aff,#51ffae,#abff54,#afff50,#b1ff4e,#b4ff4b,#b6ff49,#b9ff46,#bcff43,#beff41,#c0ff3f,#c0ff3f,#beff41,#b8ff47,#baff45,#bdff42,#bdff42,#bbff44,#baff45,#b6ff49,#a3ff5c,#9dff62,#a6ff59,#80ff7f,#00ffff,#42ffbd,#39ffc6,#0ffff0,#00e1ff,#00baff,#009bff,#007dff,#0044ff,#0049ff,#0055ff,#004fff,#003bff,#000aff,#0000d2,#0000b0,#0000a5,#0000a4,#0000a4,#0000ac,#0000ce,#0001ff,#0091ff,#00fcff,#00eeff,#004bff,#0000f8,#0024ff,#00b5ff,#00e6ff,#00c0ff,#0046ff,#000cff,#0042ff,#0afff5,#c2ff3d,#e3ff1c,#e7ff18,#eaff15,#ebff14,#ebff14,#e9ff16,#eaff15,#ebff14,#ebff14,#ebff14,#e9ff16,#e4ff1b,#dcff23,#c4ff3b,#00b5ff,#0000b2,#0000a4,#0000ae,#0074ff,#2cffd3,#29ffd6,#1affe5,#00a3ff,#0000c7,#0000a4,#0000ca,#00a1ff,#12ffed,#13ffec,#03fffc,#02fffd,#13ffec,#0087ff,#0034ff,#00deff,#1dffe2,#00b1ff,#00b0ff,#0efff1,#21ffde,#38ffc7,#44ffbb,#43ffbc,#54ffab,#4bffb4,#0090ff,#10ffef,#66ff99,#60ff9f,#57ffa8,#4dffb2,#42ffbd,#37ffc8,#2effd1,#27ffd8,#22ffdd,#1effe1,#1dffe2)"></div><div style="top:48px;background:linear-gradient(90deg,#e6ff19,#e7ff18,#e9ff16,#ebff14,#eeff11,#f1ff0e,#f5ff0a,#f9ff06,#fcff03,#fffe00,#fffb00,#f6ff09,#48ffb7,#0037ff,#0007ff,#00b9ff,#c9ff36,#91ff6e,#0010ff,#0000a6,#0000ae,#007fff,#d3ff2c,#edff12,#e3ff1c,#f5ff0a,#ffff00,#fcff03,#f5ff0a,#e8ff17,#d3ff2c,#b8ff47,#95ff6a,#6dff92,#55ffaa,#48ffb7,#31ffce,#0efff1,#00e0ff,#00e8ff,#1dffe2,#30ffcf,#2bffd4,#2bffd4,#2dffd2,#24ffdb,#00aeff,#0000d9,#0000a8,#0000fd,#00deff,#2cffd3,#00a2ff,#00f6ff,#87ff78,#a5ff5a,#beff41,#cfff30,#daff25,#deff21,#e0ff1f,#dfff20,#deff21,#ddff22,#dcff23,#dbff24,#dbff24,#daff25,#dbff24,#dcff23,#deff21,#dfff20,#e0ff1f,#e1ff1e,#e1ff1e,#e0ff1f,#dfff20,#dcff23,#d7ff28,#d1ff2e,#caff35,#c2ff3d,#bbff44,#b3ff4c,#acff53,#a6ff59,#a1ff5e,#98ff67,#60ff9f,#10ffef,#2bffd4,#82ff7d,#a1ff5e,#a3ff5c,#a5ff5a,#a7ff58,#a9ff56,#aaff55,#93ff6c,#3effc1,#1dffe2,#69ff96,#b4ff4b,#c1ff3e,#c6ff39,#cbff34,#cfff30,#d5ff2a,#daff25,#deff21,#e2ff1d,#e5ff1a,#d4ff2b,#57ffa8,#00d0ff,#06fff9,#a5ff5a,#ddff22,#deff21,#dcff23,#daff25,#d4ff2b,#cfff30,#cbff34,#beff41,#98ff67,#95ff6a,#7cff83,#5cffa3,#39ffc6,#18ffe7,#00faff,#00e0ff,#00c0ff,#00b9ff,#00b6ff,#00b0ff,#0099ff,#005cff,#000cff,#0000d0,#0000b4,#0000ac,#0000b0,#0000c8,#0000ff,#0047ff,#00beff,#00e7ff,#00bcff,#0034ff,#0000e8,#0006ff,#0059ff,#0076ff,#0039ff,#0000d7,#0000bd,#0000d0,#0075ff,#95ff6a,#e4ff1b,#e9ff16,#ebff14,#ecff13,#ecff13,#ecff13,#ecff13,#ecff13,#ecff13,#ebff14,#e9ff16,#e5ff1a,#dcff23,#c9ff36,#11ffee,#0000df,#0000aa,#0000cf,#00b1ff,#32ffcd,#29ffd6,#1cffe3,#00ecff,#004dff,#0001ff,#0051ff,#00e5ff,#15ffea,#16ffe9,#13ffec,#14ffeb,#19ffe6,#00c5ff,#0083ff,#00ffff,#21ffde,#00feff,#00fcff,#19ffe6,#20ffdf,#2bffd4,#31ffce,#35ffca,#3bffc4,#38ffc7,#00cdff,#1cffe3,#44ffbb,#40ffbf,#3bffc4,#35ffca,#2effd1,#28ffd7,#22ffdd,#1effe1,#1affe5,#18ffe7,#17ffe8)"></div><div style="top:50px;background:linear-gradient(90deg,#f7ff08,#f8ff07,#f9ff06,#fcff03,#ffff00,#fffb00,#fff700,#fff300,#fff000,#ffec00,#ffe800,#ffe600,#ffeb00,#f9ff06,#f1ff0e,#fff100,#ffe400,#fff100,#92ff6d,#00f2ff,#1cffe3,#cfff30,#ffe800,#ffe500,#ffe500,#ffe600,#ffe700,#ffec00,#fff500,#faff05,#e2ff1d,#c5ff3a,#a4ff5b,#84ff7b,#6aff95,#57ffa8,#2bffd4,#006fff,#0000cf,#0000dd,#0094ff,#29ffd6,#38ffc7,#36ffc9,#34ffcb,#2dffd2,#00d5ff,#0014ff,#0000d2,#003aff,#00faff,#39ffc6,#00fbff,#3bffc4,#8fff70,#aeff51,#c8ff37,#dbff24,#e6ff19,#eaff15,#ebff14,#ebff14,#e9ff16,#e8ff17,#e7ff18,#e6ff19,#e5ff1a,#e6ff19,#e7ff18,#e8ff17,#eaff15,#ecff13,#ecff13,#e0ff1f,#d1ff2e,#dfff20,#ecff13,#e9ff16,#e3ff1c,#daff25,#d0ff2f,#c6ff39,#bcff43,#b2ff4d,#a8ff57,#9aff65,#72ff8d,#51ffae,#6fff90,#91ff6e,#99ff66,#9dff62,#a1ff5e,#a4ff5b,#a7ff58,#a7ff58,#9aff65,#96ff69,#abff54,#b8ff47,#beff41,#c5ff3a,#cdff32,#d4ff2b,#dbff24,#e2ff1d,#e9ff16,#f0ff0f,#f7ff08,#feff01,#fffb00,#fffa00,#a8ff57,#0052ff,#0000aa,#0000d8,#10ffef,#ecff13,#fdff02,#faff05,#f8ff07,#f4ff0b,#efff10,#e9ff16,#dfff20,#d1ff2e,#c0ff3f,#abff54,#93ff6c,#7aff85,#60ff9f,#49ffb6,#34ffcb,#22ffdd,#16ffe9,#0efff1,#0afff5,#02fffd,#00e6ff,#00adff,#006aff,#0039ff,#0025ff,#0030ff,#005dff,#009cff,#00c7ff,#00e5ff,#00c0ff,#007bff,#0016ff,#0000da,#0000e4,#0006ff,#0018ff,#0000f7,#0000c1,#0000b8,#0000be,#003fff,#7aff85,#e7ff18,#ecff13,#edff12,#edff12,#edff12,#edff12,#edff12,#edff12,#edff12,#ecff13,#eaff15,#e5ff1a,#ddff22,#ceff31,#a1ff5e,#20ffdf,#00e2ff,#08fff7,#40ffbf,#3affc5,#29ffd6,#1dffe2,#14ffeb,#01fffe,#00f4ff,#06fff9,#11ffee,#13ffec,#12ffed,#12ffed,#13ffec,#15ffea,#00f2ff,#00cfff,#0cfff3,#18ffe7,#13ffec,#12ffed,#15ffea,#18ffe7,#1bffe4,#1effe1,#20ffdf,#22ffdd,#22ffdd,#00f4ff,#18ffe7,#25ffda,#24ffdb,#21ffde,#1fffe0,#1cffe3,#1affe5,#17ffe8,#15ffea,#14ffeb,#13ffec,#12ffed)"></div><div style="top:52px;background:linear-gradient(90deg,#fff900,#fff800,#fff700,#fff400,#fff100,#ffed00,#ffe900,#ffe500,#ffe100,#ffdd00,#ffda00,#ffd700,#ffd500,#ffd400,#ffd300,#ffd300,#ffd300,#ffd400,#ffd500,#ffd900,#ffd700,#ffd500,#ffd500,#ffd500,#ffd500,#ffd600,#ffd800,#ffdd00,#ffe700,#fff800,#ecff13,#cdff32,#abff54,#8bff74,#71ff8e,#5effa1,#2cffd3,#0056ff,#0000b7,#0000c3,#007eff,#2bffd4,#3bffc4,#34ffcb,#32ffcd,#34ffcb,#2dffd2,#07fff8,#00eeff,#11ffee,#33ffcc,#41ffbe,#39ffc6,#62ff9d,#90ff6f,#afff50,#c9ff36,#dbff24,#e6ff19,#eaff15,#ebff14,#ebff14,#e9ff16,#e8ff17,#e7ff18,#e6ff19,#e6ff19,#e7ff18,#eaff15,#edff12,#f0ff0f,#f2ff0d,#b8ff47,#00d9ff,#0052ff,#00c5ff,#afff50,#f4ff0b,#eeff11,#e4ff1b,#d8ff27,#ccff33,#c0ff3f,#adff52,#67ff98,#00d2ff,#002eff,#0000e6,#0055ff,#41ffbe,#97ff68,#9eff61,#a2ff5d,#a7ff58,#a6ff59,#53ffac,#008aff,#004dff,#00e8ff,#a2ff5d,#cbff34,#d3ff2c,#dbff24,#e3ff1c,#eaff15,#ebff14,#e6ff19,#f5ff0a,#fff500,#ffec00,#ffe600,#ffe300,#e1ff1e,#00cdff,#0006ff,#004cff,#6fff90,#fff400,#ffec00,#ffef00,#fff300,#fff600,#fffb00,#fcff03,#f2ff0d,#e6ff19,#d7ff28,#c5ff3a,#b2ff4d,#9eff61,#8bff74,#79ff86,#69ff96,#5cffa3,#51ffae,#4affb5,#44ffbb,#40ffbf,#3cffc3,#33ffcc,#23ffdc,#11ffee,#06fff9,#08fff7,#15ffea,#1bffe4,#05fffa,#00d6ff,#008bff,#003cff,#0000f2,#0000c9,#0000c5,#0000cc,#0000da,#0000de,#0000c6,#0000bb,#0000cb,#0066ff,#91ff6e,#edff12,#f3ff0c,#f3ff0c,#f3ff0c,#f3ff0c,#f2ff0d,#f2ff0d,#f1ff0e,#f1ff0e,#f0ff0f,#ecff13,#daff25,#c1ff3e,#bfff40,#b9ff46,#99ff66,#87ff78,#6eff91,#54ffab,#3dffc2,#2bffd4,#1effe1,#17ffe8,#14ffeb,#12ffed,#12ffed,#11ffee,#00f5ff,#00b6ff,#00b0ff,#00edff,#10ffef,#0afff5,#00fdff,#10ffef,#13ffec,#12ffed,#12ffed,#11ffee,#12ffed,#12ffed,#12ffed,#12ffed,#12ffed,#12ffed,#05fffa,#10ffef,#13ffec,#13ffec,#13ffec,#13ffec,#12ffed,#11ffee,#11ffee,#10ffef,#10ffef,#10ffef,#10ffef)"></div><div style="top:54px;background:linear-gradient(90deg,#ffee00,#ffed00,#ffec00,#ffe900,#ffe600,#ffe200,#ffde00,#ffda00,#ffd600,#ffd200,#ffce00,#ffcc00,#ffca00,#ffc900,#ffc800,#ffc900,#ffc900,#ffc900,#ffca00,#ffca00,#ffcb00,#ffcb00,#ffcb00,#ffcc00,#ffcd00,#ffce00,#ffd000,#ffd500,#ffe000,#fff200,#f2ff0d,#d1ff2e,#aeff51,#8eff71,#74ff8b,#61ff9e,#51ffae,#16ffe9,#00bbff,#00c4ff,#1cffe3,#33ffcc,#00f8ff,#00b2ff,#00b1ff,#00f2ff,#2affd5,#35ffca,#34ffcb,#35ffca,#3affc5,#44ffbb,#51ffae,#6dff92,#8cff73,#a8ff57,#bfff40,#d0ff2f,#daff25,#deff21,#e0ff1f,#dfff20,#deff21,#ddff22,#dcff23,#daff25,#dbff24,#e0ff1f,#e5ff1a,#eaff15,#f0ff0f,#eeff11,#49ffb6,#0000e2,#0000a4,#0000c5,#00f5ff,#f0ff0f,#faff05,#eeff11,#e1ff1e,#d3ff2c,#c4ff3b,#7cff83,#006cff,#0000b9,#0000af,#0000a5,#0000f5,#13ffec,#96ff69,#a2ff5d,#a7ff58,#adff52,#a1ff5e,#00deff,#0000ca,#0000a4,#002fff,#6fff90,#d4ff2b,#deff21,#e6ff19,#edff12,#c5ff3a,#00ddff,#003aff,#0089ff,#9bff64,#ffe800,#ffdc00,#ffd800,#ffd900,#fffb00,#ceff31,#e3ff1c,#ffea00,#ffe000,#ffe200,#ffe500,#ffe900,#fff000,#d5ff2a,#76ff89,#85ff7a,#d2ff2d,#dfff20,#d0ff2f,#beff41,#adff52,#9cff63,#8dff72,#80ff7f,#75ff8a,#6dff92,#66ff99,#60ff9f,#5affa5,#56ffa9,#51ffae,#4cffb3,#47ffb8,#42ffbd,#3effc1,#38ffc7,#28ffd7,#00feff,#00b6ff,#005cff,#000cff,#0000d3,#0000b7,#0000af,#0000af,#0000b8,#0000cc,#0000d6,#0000da,#0011ff,#00d9ff,#bdff42,#f6ff09,#feff01,#feff01,#fdff02,#fcff03,#fbff04,#faff05,#f9ff06,#f8ff07,#f5ff0a,#c0ff3f,#00e8ff,#0056ff,#00afff,#76ff89,#a5ff5a,#8eff71,#73ff8c,#58ffa7,#41ffbe,#2fffd0,#23ffdc,#1bffe4,#18ffe7,#16ffe9,#15ffea,#02fffd,#006bff,#0000c8,#0000bf,#004fff,#00f7ff,#12ffed,#10ffef,#13ffec,#13ffec,#12ffed,#11ffee,#0dfff2,#07fff8,#00fdff,#00f3ff,#00e9ff,#00e1ff,#00deff,#00deff,#00e7ff,#00f1ff,#00fbff,#04fffb,#0afff5,#0efff1,#0ffff0,#0ffff0,#0ffff0,#0ffff0,#0ffff0,#0ffff0)"></div><div style="top:56px;background:linear-gradient(90deg,#ffe400,#ffe300,#ffe200,#ffdf00,#ffdc00,#ffd800,#ffd400,#ffd000,#ffcc00,#ffc800,#ffc500,#ffc200,#ffc000,#ffbf00,#ffbf00,#ffc000,#ffc000,#ffc100,#ffc200,#ffc200,#ffc300,#ffc400,#ffc400,#ffc500,#ffc600,#ffc700,#ffca00,#ffd000,#ffdb00,#ffed00,#f6ff09,#d4ff2b,#b1ff4e,#90ff6f,#75ff8a,#62ff9d,#57ffa8,#50ffaf,#4bffb4,#48ffb7,#42ffbd,#00f9ff,#0048ff,#0000cf,#0000cf,#0045ff,#00f0ff,#33ffcc,#38ffc7,#39ffc6,#3dffc2,#46ffb9,#56ffa9,#6cff93,#85ff7a,#9eff61,#b3ff4c,#c2ff3d,#cbff34,#cfff30,#d0ff2f,#d0ff2f,#d0ff2f,#cdff32,#a2ff5d,#2dffd2,#0efff1,#7dff82,#d4ff2b,#e5ff1a,#edff12,#f2ff0d,#77ff88,#0008ff,#0000a5,#0000b2,#00c2ff,#eeff11,#fff900,#f9ff06,#ebff14,#dbff24,#cbff34,#81ff7e,#0070ff,#0000c0,#0000d0,#0041ff,#00ecff,#7bff84,#9fff60,#a6ff59,#adff52,#b3ff4c,#b5ff4a,#60ff9f,#0092ff,#0053ff,#00f5ff,#b7ff48,#e1ff1e,#e9ff16,#f1ff0e,#f1ff0e,#35ffca,#0000c9,#0000a4,#0000aa,#009dff,#fffe00,#ffd600,#ffd200,#ffd000,#ffd000,#ffd200,#ffd400,#ffd600,#ffd900,#ffdc00,#ffdf00,#ffe400,#9bff64,#0016ff,#0000ad,#0000ba,#00a2ff,#c5ff3a,#d5ff2a,#c3ff3c,#b2ff4d,#a1ff5e,#93ff6c,#87ff78,#7eff81,#76ff89,#6fff90,#69ff96,#64ff9b,#5effa1,#59ffa6,#53ffac,#4effb1,#48ffb7,#43ffbc,#3bffc4,#27ffd8,#00f2ff,#009cff,#003cff,#0000ed,#0000bf,#0000ab,#0000a6,#0000a5,#0000a9,#0000bb,#0000df,#0016ff,#0087ff,#46ffb9,#d1ff2e,#fffe00,#fff400,#fff400,#fff600,#fff700,#fff900,#fffb00,#fffc00,#fffe00,#f8ff07,#72ff8d,#0016ff,#0000a4,#0000e1,#0ffff0,#a3ff5c,#93ff6c,#78ff87,#5dffa2,#46ffb9,#34ffcb,#27ffd8,#20ffdf,#1cffe3,#1bffe4,#1affe5,#06fff9,#006eff,#0000c8,#0000bf,#0051ff,#00faff,#17ffe8,#16ffe9,#16ffe9,#13ffec,#0cfff3,#00fcff,#00e3ff,#00beff,#0093ff,#0069ff,#0047ff,#0031ff,#0029ff,#002fff,#0044ff,#0066ff,#008fff,#00b9ff,#00ddff,#00f7ff,#06fff9,#0cfff3,#0ffff0,#0ffff0,#0ffff0,#0ffff0)"></div><div style="top:58px;background:linear-gradient(90deg,#ffdd00,#ffdc00,#ffda00,#ffd800,#ffd400,#ffd100,#ffcd00,#ffc800,#ffc400,#ffc000,#ffbd00,#ffba00,#ffb900,#ffb800,#ffb800,#ffb900,#ffba00,#ffbb00,#ffbb00,#ffbc00,#ffbd00,#ffbe00,#ffbf00,#ffc000,#ffc100,#ffc400,#ffd500,#ffee00,#ffec00,#ffec00,#faff05,#d8ff27,#b4ff4b,#93ff6c,#78ff87,#64ff9b,#58ffa7,#52ffad,#4effb1,#4bffb4,#40ffbf,#00e1ff,#0016ff,#0000ab,#0000ab,#0014ff,#00d9ff,#33ffcc,#3bffc4,#3bffc4,#3fffc0,#47ffb8,#55ffaa,#67ff98,#7dff82,#92ff6d,#a4ff5b,#b1ff4e,#b9ff46,#bdff42,#bfff40,#bfff40,#bfff40,#acff53,#00e3ff,#0000da,#0000b7,#0068ff,#8fff70,#dcff23,#e8ff17,#f3ff0c,#e0ff1f,#27ffd8,#0066ff,#0099ff,#91ff6e,#fff100,#fff000,#fffd00,#f2ff0d,#e2ff1d,#d2ff2d,#bcff43,#74ff8b,#18ffe7,#28ffd7,#76ff89,#97ff68,#a0ff5f,#a6ff59,#acff53,#b3ff4c,#baff45,#c1ff3e,#c5ff3a,#bbff44,#b8ff47,#d1ff2e,#e3ff1c,#ebff14,#f2ff0d,#f9ff06,#fcff03,#88ff77,#0023ff,#0000b4,#0000dd,#19ffe6,#ffe700,#ffd000,#ffcd00,#ffcb00,#ffcb00,#ffcc00,#ffce00,#ffd100,#ffd400,#ffd600,#ffd900,#ffe600,#0efff1,#0000af,#0000a4,#0000a4,#0016ff,#a8ff57,#d8ff27,#c6ff39,#b4ff4b,#a3ff5c,#95ff6a,#89ff76,#80ff7f,#78ff87,#72ff8d,#6cff93,#67ff98,#61ff9e,#5bffa4,#56ffa9,#50ffaf,#4bffb4,#46ffb9,#3effc1,#27ffd8,#00ecff,#008fff,#002cff,#0000e0,#0000b6,#0000a7,#0000a4,#0000a4,#0000a5,#0000b2,#0000db,#0033ff,#00c0ff,#62ff9d,#d5ff2a,#fff600,#ffea00,#ffea00,#ffec00,#ffee00,#fff100,#fff300,#fff500,#fff800,#fffc00,#cbff34,#00efff,#0059ff,#00b3ff,#7eff81,#b0ff4f,#98ff67,#7cff83,#62ff9d,#4bffb4,#39ffc6,#2cffd3,#23ffdc,#20ffdf,#1fffe0,#1effe1,#1cffe3,#00ffff,#00beff,#00b7ff,#00f6ff,#18ffe7,#1bffe4,#1affe5,#17ffe8,#0ffff0,#00fbff,#00d7ff,#00a1ff,#005fff,#001eff,#0000e9,#0000c7,#0000b7,#0000b3,#0000b7,#0000c6,#0000e6,#0019ff,#0058ff,#0099ff,#00cfff,#00f3ff,#06fff9,#0dfff2,#0ffff0,#10ffef,#10ffef)"></div><div style="top:60px;background:linear-gradient(90deg,#ffdd00,#ffdc00,#ffda00,#ffd800,#ffd400,#ffd100,#ffcd00,#ffc800,#ffc400,#ffc000,#ffbd00,#ffba00,#ffb900,#ffb800,#ffb800,#ffb900,#ffba00,#ffbb00,#ffbb00,#ffbc00,#ffbd00,#ffbe00,#ffbf00,#ffc000,#ffc200,#fff800,#1cffe3,#006fff,#00cfff,#baff45,#fbff04,#e0ff1f,#bdff42,#9cff63,#7fff80,#69ff96,#59ffa6,#4dffb2,#46ffb9,#46ffb9,#44ffbb,#1cffe3,#00a0ff,#0032ff,#0031ff,#009dff,#14ffeb,#37ffc8,#35ffca,#34ffcb,#3bffc4,#43ffbc,#4fffb0,#5effa1,#70ff8f,#81ff7e,#90ff6f,#9bff64,#a2ff5d,#a6ff59,#a8ff57,#a9ff56,#a9ff56,#9bff64,#00f5ff,#0000fc,#0000d4,#0089ff,#8dff72,#ceff31,#dbff24,#e8ff17,#f4ff0b,#f7ff08,#edff12,#faff05,#ffec00,#ffe900,#fff000,#fffb00,#f5ff0a,#e7ff18,#d8ff27,#caff35,#bcff43,#b0ff4f,#a9ff56,#a7ff58,#a7ff58,#aaff55,#afff50,#b5ff4a,#bbff44,#c0ff3f,#c6ff39,#ccff33,#d2ff2d,#d8ff27,#deff21,#e4ff1b,#ebff14,#f2ff0d,#faff05,#fffd00,#fffc00,#cbff34,#82ff7d,#b4ff4b,#ffec00,#ffd200,#ffcc00,#ffc800,#ffc600,#ffc700,#ffc800,#ffca00,#ffcd00,#ffd000,#ffd300,#ffd600,#ffdc00,#b8ff47,#0050ff,#0000c7,#0000f2,#15ffea,#dfff20,#dbff24,#c8ff37,#b5ff4a,#a3ff5c,#94ff6b,#88ff77,#7eff81,#77ff88,#71ff8e,#6bff94,#66ff99,#5cffa3,#38ffc7,#0cfff3,#16ffe9,#3cffc3,#47ffb8,#40ffbf,#29ffd6,#00eeff,#0091ff,#002dff,#0000e0,#0000b6,#0000a7,#0000a4,#0000a4,#0000a5,#0000b2,#0000dc,#003aff,#00c9ff,#67ff98,#d9ff26,#fff200,#ffe600,#ffe700,#ffe900,#ffec00,#ffee00,#fff100,#fff300,#fff600,#fff900,#ffff00,#ebff14,#d0ff2f,#ceff31,#caff35,#b4ff4b,#9aff65,#7fff80,#65ff9a,#4fffb0,#39ffc6,#03fffc,#00bdff,#00caff,#0cfff3,#22ffdd,#22ffdd,#22ffdd,#20ffdf,#1fffe0,#20ffdf,#1fffe0,#1fffe0,#1effe1,#1bffe4,#13ffec,#00ffff,#00daff,#00a3ff,#0061ff,#001fff,#0000e9,#0000c8,#0000b8,#0000b3,#0000b7,#0000c6,#0000e6,#001aff,#005aff,#009bff,#00d1ff,#00f5ff,#08fff7,#10ffef,#12ffed,#12ffed,#12ffed)"></div><div style="top:62px;background:linear-gradient(90deg,#ffe400,#ffe300,#ffe200,#ffdf00,#ffdc00,#ffd800,#ffd400,#ffd000,#ffcc00,#ffc800,#ffc500,#ffc200,#ffc000,#ffbf00,#ffbf00,#ffc000,#ffc000,#ffc100,#ffc200,#ffc200,#ffc300,#ffc400,#ffc400,#ffc500,#ffcb00,#acff53,#002dff,#0000a4,#0000e2,#3affc5,#f8ff07,#ebff14,#cbff34,#aaff55,#8aff75,#63ff9c,#0cfff3,#009dff,#007dff,#00c1ff,#1cffe3,#3affc5,#2bffd4,#11ffee,#0ffff0,#26ffd9,#23ffdc,#00daff,#0082ff,#0079ff,#00c9ff,#22ffdd,#43ffbc,#50ffaf,#5dffa2,#6bff94,#77ff88,#7fff80,#85ff7a,#89ff76,#8bff74,#8dff72,#8fff70,#8fff70,#7eff81,#3fffc0,#30ffcf,#76ff89,#aaff55,#baff45,#c7ff38,#d4ff2b,#e2ff1d,#efff10,#fbff04,#fffa00,#fff500,#fff500,#fff900,#fdff02,#f4ff0b,#e9ff16,#deff21,#d3ff2c,#c9ff36,#c1ff3e,#bbff44,#b9ff46,#b9ff46,#baff45,#bdff42,#bfff40,#bfff40,#bdff42,#b8ff47,#b1ff4e,#a8ff57,#a0ff5f,#9aff65,#99ff66,#9dff62,#a7ff58,#b7ff48,#caff35,#dfff20,#f4ff0b,#fff700,#ffe700,#ffda00,#ffd000,#ffc900,#ffc500,#ffc300,#ffc300,#ffc500,#ffc800,#ffcb00,#ffcf00,#ffd200,#ffd600,#ffd900,#ffe000,#fdff02,#ceff31,#ddff22,#f8ff07,#efff10,#ddff22,#c9ff36,#b5ff4a,#a2ff5d,#91ff6e,#83ff7c,#73ff8c,#5fffa0,#59ffa6,#60ff9f,#5fffa0,#14ffeb,#003dff,#0000c3,#0000e1,#0098ff,#30ffcf,#40ffbf,#2dffd2,#00f8ff,#00a1ff,#003fff,#0000ef,#0000c0,#0000ac,#0000a6,#0000a5,#0000a9,#0000bb,#0000ed,#0050ff,#00e0ff,#77ff88,#e0ff1f,#fff200,#ffe900,#ffea00,#ffec00,#ffef00,#fff100,#fff400,#fff700,#fffa00,#fffd00,#fdff02,#f7ff08,#edff12,#deff21,#cbff34,#b4ff4b,#9aff65,#81ff7e,#68ff97,#51ffae,#16ffe9,#0047ff,#0000bc,#0000d4,#008eff,#1affe5,#27ffd8,#27ffd8,#26ffd9,#25ffda,#25ffda,#22ffdd,#1dffe2,#1bffe4,#1fffe0,#1effe1,#18ffe7,#08fff7,#00ecff,#00c6ff,#009aff,#006fff,#004bff,#0034ff,#002cff,#0033ff,#0048ff,#006aff,#0094ff,#00bfff,#00e4ff,#00feff,#0efff1,#14ffeb,#16ffe9,#17ffe8,#17ffe8,#17ffe8)"></div><div style="top:64px;background:linear-gradient(90deg,#ffee00,#ffed00,#ffec00,#ffe900,#ffe600,#ffe200,#ffde00,#ffda00,#ffd600,#ffd200,#ffce00,#ffcc00,#ffca00,#ffc900,#ffc800,#ffc800,#ffc900,#ffc900,#ffca00,#ffca00,#ffca00,#ffcb00,#ffcb00,#ffcc00,#ffcd00,#fdff02,#17ffe8,#006dff,#00ceff,#bfff40,#fff400,#f8ff07,#dbff24,#baff45,#94ff6b,#36ffc9,#0059ff,#0000bb,#0000a7,#0000ec,#00abff,#27ffd8,#38ffc7,#37ffc8,#35ffca,#2effd1,#00e1ff,#0024ff,#0000b0,#0000aa,#0005ff,#00c5ff,#2effd1,#41ffbe,#4affb5,#4effb1,#39ffc6,#0efff1,#00efff,#00ffff,#3dffc2,#69ff96,#72ff8d,#75ff8a,#78ff87,#7bff84,#81ff7e,#8bff74,#95ff6a,#a1ff5e,#afff50,#bdff42,#ccff33,#d9ff26,#e6ff19,#f0ff0f,#f7ff08,#faff05,#faff05,#f6ff09,#f0ff0f,#eaff15,#e3ff1c,#ddff22,#d7ff28,#d2ff2d,#ceff31,#ccff33,#caff35,#c5ff3a,#b9ff46,#a1ff5e,#7dff82,#4dffb2,#17ffe8,#00e0ff,#00b1ff,#008cff,#0072ff,#0064ff,#0063ff,#006fff,#0087ff,#00adff,#00e1ff,#1fffe0,#63ff9c,#a6ff59,#e0ff1f,#fff200,#ffd600,#ffc700,#ffc100,#ffc000,#ffc300,#ffc600,#ffca00,#ffce00,#ffd200,#ffd700,#ffdb00,#ffe000,#ffe500,#ffec00,#fff400,#feff01,#f0ff0f,#deff21,#c9ff36,#b4ff4b,#9fff60,#8bff74,#4cffb3,#00aaff,#0022ff,#001bff,#0093ff,#24ffdb,#0efff1,#003cff,#0000c3,#0000e1,#0097ff,#2fffd0,#41ffbe,#33ffcc,#0afff5,#00beff,#0062ff,#0010ff,#0000d8,#0000bb,#0000b0,#0000af,#0000b9,#0000d5,#0014ff,#007fff,#0dfff2,#93ff6c,#eaff15,#fff300,#ffed00,#ffee00,#fff100,#fff400,#fff600,#fff900,#fffc00,#fffe00,#fcff03,#f8ff07,#f2ff0d,#e8ff17,#daff25,#c8ff37,#b2ff4d,#9aff65,#82ff7d,#6aff95,#55ffaa,#1affe5,#0048ff,#0000bc,#0000d4,#0091ff,#1fffe0,#2cffd3,#2cffd3,#2bffd4,#2affd5,#18ffe7,#00cfff,#007cff,#0076ff,#00c3ff,#10ffef,#24ffdb,#24ffdb,#1fffe0,#19ffe6,#0ffff0,#04fffb,#00f8ff,#00f0ff,#00ecff,#00eeff,#00f5ff,#00ffff,#0afff5,#12ffed,#18ffe7,#1bffe4,#1cffe3,#1cffe3,#1cffe3,#1cffe3,#1cffe3,#1bffe4)"></div><div style="top:66px;background:linear-gradient(90deg,#fff800,#fff700,#fff600,#fff300,#fff000,#ffec00,#ffe800,#ffe300,#ffdf00,#ffdb00,#ffd800,#ffd500,#ffd300,#ffd200,#ffd100,#ffd100,#ffd100,#ffd100,#ffd100,#ffd100,#ffd100,#ffd200,#ffd200,#ffd200,#ffd200,#ffd400,#ffe200,#fff700,#ffed00,#ffe000,#ffe800,#fffb00,#e9ff16,#c8ff37,#a2ff5d,#58ffa7,#00a7ff,#0005ff,#0000e2,#0039ff,#00d8ff,#2bffd4,#34ffcb,#32ffcd,#31ffce,#2dffd2,#00fbff,#006aff,#0000ee,#0000e4,#004dff,#00e7ff,#2affd5,#34ffcb,#33ffcc,#00ebff,#0036ff,#0000bb,#0000ab,#0000ae,#0009ff,#00efff,#53ffac,#5cffa3,#60ff9f,#65ff9a,#6bff94,#6eff91,#45ffba,#00fbff,#07fff8,#6aff95,#afff50,#c3ff3c,#d0ff2f,#dbff24,#e4ff1b,#e9ff16,#ebff14,#ebff14,#e9ff16,#e7ff18,#e4ff1b,#e2ff1d,#dfff20,#ddff22,#dbff24,#d6ff29,#c9ff36,#adff52,#7bff84,#33ffcc,#00deff,#0089ff,#003fff,#0006ff,#0000de,#0000c6,#0000b9,#0000b3,#0000b2,#0000b5,#0000bf,#0000d2,#0000f4,#002aff,#0074ff,#00d0ff,#37ffc8,#99ff66,#e6ff19,#ffe700,#ffce00,#ffc600,#ffc600,#ffca00,#ffce00,#ffd300,#ffd700,#ffdc00,#ffe100,#ffe600,#ffec00,#fff200,#fffa00,#f9ff06,#ebff14,#d9ff26,#c5ff3a,#afff50,#9bff64,#80ff7f,#12ffed,#002dff,#0000ae,#0000ab,#0017ff,#00ebff,#4affb5,#32ffcd,#07fff8,#11ffee,#38ffc7,#44ffbb,#42ffbd,#39ffc6,#1fffe0,#00e5ff,#0095ff,#0044ff,#0006ff,#0000e0,#0000cf,#0000ce,#0000df,#0009ff,#0054ff,#00c4ff,#48ffb7,#b6ff49,#f4ff0b,#fff500,#fff200,#fff400,#fff600,#fff900,#fffb00,#fffe00,#feff01,#fbff04,#f8ff07,#f4ff0b,#eeff11,#e5ff1a,#d8ff27,#c7ff38,#b2ff4d,#9cff63,#85ff7a,#6eff91,#5bffa4,#47ffb8,#11ffee,#00c8ff,#00d7ff,#1bffe4,#32ffcd,#32ffcd,#32ffcd,#31ffce,#2bffd4,#00deff,#0024ff,#0000b3,#0000af,#0011ff,#00cbff,#26ffd9,#2effd1,#2effd1,#2dffd2,#2cffd3,#2bffd4,#29ffd6,#28ffd7,#27ffd8,#27ffd8,#26ffd9,#25ffda,#25ffda,#24ffdb,#23ffdc,#22ffdd,#21ffde,#20ffdf,#1fffe0,#1fffe0,#1fffe0,#1effe1)"></div><div style="top:68px;background:linear-gradient(90deg,#fcff03,#fdff02,#ffff00,#fffd00,#fff900,#fff500,#fff100,#ffec00,#ffe800,#ffe400,#ffe000,#ffdd00,#ffda00,#ffd900,#ffd800,#ffd700,#ffd700,#ffd700,#ffd700,#ffd700,#ffd700,#ffd700,#ffd700,#ffd600,#ffd600,#ffd600,#ffd600,#ffd700,#ffd800,#ffdc00,#ffe400,#fff300,#f3ff0c,#d3ff2c,#aeff51,#87ff78,#57ffa8,#21ffde,#09fff6,#1affe5,#2fffd0,#33ffcc,#32ffcd,#31ffce,#30ffcf,#2fffd0,#2bffd4,#19ffe6,#00fbff,#00f7ff,#12ffed,#28ffd7,#2dffd2,#30ffcf,#2cffd3,#00e4ff,#0032ff,#0000bb,#0000ab,#0000ae,#0006ff,#00e4ff,#45ffba,#4effb1,#52ffad,#57ffa8,#5bffa4,#2bffd4,#0054ff,#0000b6,#0000b8,#0067ff,#61ff9e,#aaff55,#b7ff48,#c2ff3d,#caff35,#d0ff2f,#d4ff2b,#d6ff29,#d7ff28,#d7ff28,#d7ff28,#d7ff28,#d7ff28,#d7ff28,#d5ff2a,#ceff31,#b9ff46,#8fff70,#4affb5,#00f0ff,#0091ff,#003cff,#0000f9,#0000cd,#0000b4,#0000a8,#0000a4,#0000a4,#0000a4,#0000a4,#0000a6,#0000ad,#0000bf,#0000e3,#0010ff,#003aff,#0097ff,#34ffcb,#a8ff57,#ecff13,#ffed00,#ffdf00,#ffdd00,#ffdf00,#ffe300,#ffe800,#ffec00,#fff100,#fff600,#fffb00,#fdff02,#f6ff09,#eeff11,#e3ff1c,#d6ff29,#c6ff39,#b3ff4c,#a0ff5f,#8dff72,#7cff83,#60ff9f,#11ffee,#00b9ff,#00b2ff,#00fdff,#43ffbc,#52ffad,#50ffaf,#4cffb3,#49ffb6,#46ffb9,#43ffbc,#41ffbe,#3dffc2,#30ffcf,#09fff6,#00beff,#0063ff,#001eff,#0000f9,#0000ee,#0000f9,#001cff,#0057ff,#00aeff,#1affe5,#85ff7a,#d3ff2c,#faff05,#fff900,#fff800,#fffa00,#fffc00,#fffe00,#feff01,#fbff04,#f9ff06,#f7ff08,#f4ff0b,#f1ff0e,#ecff13,#e4ff1b,#d9ff26,#caff35,#b8ff47,#a3ff5c,#8eff71,#7aff85,#67ff98,#58ffa7,#4dffb2,#44ffbb,#40ffbf,#3effc1,#3cffc3,#3bffc4,#3cffc3,#3cffc3,#38ffc7,#00faff,#0051ff,#0000d4,#0000ce,#003eff,#00eeff,#3affc5,#41ffbe,#40ffbf,#3fffc0,#3dffc2,#3cffc3,#3bffc4,#39ffc6,#38ffc7,#36ffc9,#33ffcc,#31ffce,#2effd1,#2bffd4,#28ffd7,#25ffda,#22ffdd,#20ffdf,#1effe1,#1cffe3,#1bffe4,#1bffe4)"></div><div style="top:70px;background:linear-gradient(90deg,#f2ff0d,#f3ff0c,#f5ff0a,#f8ff07,#fcff03,#fffe00,#fff900,#fff400,#ffef00,#ffea00,#ffe600,#ffe300,#ffe000,#ffde00,#ffdd00,#ffdc00,#ffdc00,#ffdb00,#ffdb00,#ffdb00,#ffda00,#ffdb00,#ffdc00,#ffdb00,#ffd900,#ffd900,#ffd800,#ffd800,#ffd900,#ffdb00,#ffe200,#ffef00,#f8ff07,#d9ff26,#b4ff4b,#8eff71,#6cff93,#53ffac,#43ffbc,#3bffc4,#37ffc8,#35ffca,#34ffcb,#34ffcb,#33ffcc,#32ffcd,#32ffcd,#31ffce,#31ffce,#30ffcf,#31ffce,#31ffce,#32ffcd,#34ffcb,#35ffca,#32ffcd,#1affe5,#00efff,#00d1ff,#00dfff,#17ffe8,#3fffc0,#48ffb7,#4bffb4,#4effb1,#52ffad,#56ffa9,#3bffc4,#009dff,#0002ff,#0005ff,#00b1ff,#66ff99,#92ff6d,#9cff63,#a4ff5b,#abff54,#b0ff4f,#b4ff4b,#b7ff48,#b8ff47,#baff45,#bcff43,#bdff42,#bfff40,#c0ff3f,#c0ff3f,#beff41,#b3ff4c,#98ff67,#68ff97,#23ffdc,#00d1ff,#007fff,#0036ff,#0000fd,#0000d7,#0000c1,#0000b6,#0000b1,#0000b0,#0000b4,#0000bd,#0000cf,#0000ee,#0010ff,#0000e9,#0000b3,#0000d9,#00c9ff,#a2ff5d,#ddff22,#f2ff0d,#faff05,#faff05,#f8ff07,#f5ff0a,#f1ff0e,#eeff11,#eaff15,#e5ff1a,#e0ff1f,#d9ff26,#d1ff2e,#c8ff37,#bdff42,#b1ff4e,#a3ff5c,#94ff6b,#85ff7a,#77ff88,#6bff94,#62ff9d,#5bffa4,#55ffaa,#52ffad,#50ffaf,#4effb1,#4cffb3,#49ffb6,#47ffb8,#44ffbb,#42ffbd,#40ffbf,#3fffc0,#3fffc0,#35ffca,#00fdff,#0087ff,#0017ff,#0000db,#0000c8,#0000cb,#0000e5,#0026ff,#0092ff,#09fff6,#6aff95,#b6ff49,#e5ff1a,#f9ff06,#feff01,#ffff00,#fdff02,#fcff03,#faff05,#f9ff06,#f7ff08,#f5ff0a,#f4ff0b,#f2ff0d,#efff10,#ebff14,#e5ff1a,#ddff22,#d1ff2e,#c2ff3d,#afff50,#96ff69,#7eff81,#71ff8e,#69ff96,#5fffa0,#56ffa9,#50ffaf,#4bffb4,#48ffb7,#48ffb7,#49ffb6,#4bffb4,#4effb1,#49ffb6,#25ffda,#00efff,#00eeff,#26ffd9,#54ffab,#5effa1,#5dffa2,#5cffa3,#5affa5,#58ffa7,#55ffaa,#53ffac,#50ffaf,#4dffb2,#49ffb6,#45ffba,#3fffc0,#39ffc6,#33ffcc,#2dffd2,#27ffd8,#21ffde,#1bffe4,#17ffe8,#14ffeb,#12ffed,#11ffee)"></div><div style="top:72px;background:linear-gradient(90deg,#e8ff17,#e9ff16,#ebff14,#efff10,#f3ff0c,#f8ff07,#fdff02,#fffb00,#fff600,#fff100,#ffec00,#ffe800,#ffe500,#ffe300,#ffe200,#ffe100,#ffe000,#ffdf00,#ffdf00,#ffde00,#ffe600,#ceff31,#6dff92,#95ff6a,#fffd00,#ffdc00,#ffda00,#ffda00,#ffda00,#ffdc00,#ffe100,#ffed00,#fcff03,#deff21,#b9ff46,#92ff6d,#6fff90,#55ffaa,#45ffba,#3cffc3,#39ffc6,#38ffc7,#37ffc8,#37ffc8,#37ffc8,#37ffc8,#37ffc8,#37ffc8,#37ffc8,#37ffc8,#37ffc8,#38ffc7,#39ffc6,#3affc5,#3cffc3,#3dffc2,#3fffc0,#41ffbe,#42ffbd,#44ffbb,#46ffb9,#48ffb7,#49ffb6,#4bffb4,#4dffb2,#50ffaf,#53ffac,#56ffa9,#52ffad,#42ffbd,#48ffb7,#63ff9c,#73ff8c,#7aff85,#80ff7f,#85ff7a,#8aff75,#8eff71,#92ff6d,#95ff6a,#97ff68,#9aff65,#9cff63,#9fff60,#a1ff5e,#a4ff5b,#a6ff59,#a8ff57,#a7ff58,#a3ff5c,#97ff68,#80ff7f,#5bffa4,#25ffda,#00deff,#0093ff,#0056ff,#002eff,#001bff,#001aff,#0027ff,#0041ff,#0063ff,#008aff,#00b6ff,#00c1ff,#0030ff,#0000bb,#0000ea,#00f1ff,#b0ff4f,#caff35,#ceff31,#ceff31,#cdff32,#ccff33,#c8ff37,#c0ff3f,#beff41,#c0ff3f,#beff41,#b9ff46,#b1ff4e,#a8ff57,#9dff62,#92ff6d,#87ff78,#7cff83,#71ff8e,#67ff98,#5effa1,#57ffa8,#51ffae,#4dffb2,#4bffb4,#49ffb6,#47ffb8,#45ffba,#44ffbb,#42ffbd,#41ffbe,#3fffc0,#3effc1,#3dffc2,#3dffc2,#3effc1,#2bffd4,#00ceff,#003aff,#0000d4,#0000b3,#0000ae,#0000b0,#0000c1,#0007ff,#009bff,#41ffbe,#a2ff5d,#d2ff2d,#eaff15,#f4ff0b,#f7ff08,#f7ff08,#f7ff08,#f6ff09,#f5ff0a,#f4ff0b,#f3ff0c,#f2ff0d,#f1ff0e,#f0ff0f,#eeff11,#ecff13,#e8ff17,#e2ff1d,#d9ff26,#beff41,#35ffca,#005dff,#0009ff,#0039ff,#00e3ff,#5dffa2,#68ff97,#60ff9f,#59ffa6,#55ffaa,#55ffaa,#57ffa8,#5bffa4,#61ff9e,#66ff99,#6cff93,#70ff8f,#75ff8a,#7bff84,#7dff82,#7eff81,#7dff82,#7aff85,#78ff87,#74ff8b,#71ff8e,#6dff92,#69ff96,#64ff9b,#5effa1,#57ffa8,#4fffb0,#45ffba,#3bffc4,#31ffce,#28ffd7,#1effe1,#16ffe9,#0ffff0,#0afff5,#07fff8,#05fffa)"></div><div style="top:74px;background:linear-gradient(90deg,#e2ff1d,#e3ff1c,#e5ff1a,#e9ff16,#edff12,#f2ff0d,#f8ff07,#fdff02,#fffb00,#fff600,#fff100,#ffed00,#ffea00,#ffe900,#ffe700,#ffe700,#ffe600,#ffe600,#ffe600,#ffe700,#c8ff37,#0087ff,#0000c6,#0001ff,#3effc1,#fff200,#ffe000,#ffe000,#ffdf00,#ffe100,#ffe500,#ffef00,#fcff03,#dfff20,#bbff44,#94ff6b,#71ff8e,#58ffa7,#47ffb8,#3fffc0,#3cffc3,#3affc5,#33ffcc,#21ffde,#14ffeb,#1effe1,#32ffcd,#3dffc2,#3fffc0,#40ffbf,#41ffbe,#42ffbd,#43ffbc,#44ffbb,#45ffba,#46ffb9,#47ffb8,#49ffb6,#4affb5,#4bffb4,#4cffb3,#4effb1,#4fffb0,#50ffaf,#52ffad,#53ffac,#55ffaa,#57ffa8,#5affa5,#5cffa3,#5fffa0,#62ff9d,#65ff9a,#68ff97,#67ff98,#5effa1,#5affa5,#66ff99,#74ff8b,#7aff85,#7eff81,#81ff7e,#84ff7b,#87ff78,#8aff75,#8dff72,#90ff6f,#93ff6c,#95ff6a,#96ff69,#96ff69,#94ff6b,#87ff78,#5dffa2,#0efff1,#00afff,#0063ff,#0037ff,#002cff,#0040ff,#0073ff,#00c1ff,#17ffe8,#58ffa7,#7aff85,#85ff7a,#56ffa9,#10ffef,#33ffcc,#8dff72,#aaff55,#acff53,#adff52,#acff53,#acff53,#97ff68,#1dffe2,#0088ff,#008bff,#21ffde,#91ff6e,#9dff62,#95ff6a,#8bff74,#80ff7f,#73ff8c,#5fffa0,#33ffcc,#0dfff2,#17ffe8,#39ffc6,#48ffb7,#48ffb7,#46ffb9,#45ffba,#44ffbb,#44ffbb,#43ffbc,#42ffbd,#42ffbd,#41ffbe,#40ffbf,#40ffbf,#40ffbf,#41ffbe,#42ffbd,#32ffcd,#00d7ff,#0044ff,#0000d9,#0000b4,#0000ae,#0000b0,#0000c7,#0020ff,#00ccff,#76ff89,#c4ff3b,#deff21,#ebff14,#f1ff0e,#f3ff0c,#f4ff0b,#f4ff0b,#f4ff0b,#f4ff0b,#f3ff0c,#f3ff0c,#f2ff0d,#f2ff0d,#f1ff0e,#f1ff0e,#efff10,#edff12,#e9ff16,#e2ff1d,#9aff65,#0068ff,#0000a9,#0000a4,#0000a5,#001eff,#30ffcf,#74ff8b,#6dff92,#64ff9b,#60ff9f,#5fffa0,#63ff9c,#68ff97,#6fff90,#77ff88,#7fff80,#86ff79,#8dff72,#92ff6d,#96ff69,#96ff69,#95ff6a,#92ff6d,#8eff71,#8aff75,#86ff79,#81ff7e,#7cff83,#76ff89,#6eff91,#65ff9a,#5affa5,#4effb1,#41ffbe,#35ffca,#28ffd7,#1cffe3,#11ffee,#08fff7,#01fffe,#00fcff,#00faff)"></div><div style="top:76px;background:linear-gradient(90deg,#e7ff18,#e8ff17,#e9ff16,#ecff13,#f0ff0f,#f4ff0b,#f8ff07,#fdff02,#fffd00,#fff900,#fff500,#fff200,#fff100,#fff100,#fff200,#fff300,#fff400,#fff600,#fff700,#fffa00,#b7ff48,#0080ff,#0000c4,#0000fd,#31ffce,#f8ff07,#fff400,#fff400,#fff300,#fff400,#fff800,#feff01,#edff12,#d4ff2b,#b3ff4c,#90ff6f,#71ff8e,#5affa5,#4cffb3,#45ffba,#41ffbe,#20ffdf,#00a6ff,#0016ff,#0000db,#0003ff,#008aff,#18ffe7,#4affb5,#50ffaf,#52ffad,#53ffac,#55ffaa,#56ffa9,#58ffa7,#59ffa6,#5bffa4,#5cffa3,#5dffa2,#5fffa0,#60ff9f,#61ff9e,#63ff9c,#64ff9b,#65ff9a,#66ff99,#67ff98,#68ff97,#69ff96,#6aff95,#6bff94,#6cff93,#6dff92,#59ffa6,#00e8ff,#0049ff,#000fff,#005eff,#06fff9,#6aff95,#7bff84,#7eff81,#81ff7e,#84ff7b,#86ff79,#89ff76,#8bff74,#8eff71,#90ff6f,#91ff6e,#92ff6d,#8fff70,#74ff8b,#26ffd9,#00b0ff,#0042ff,#0000f9,#0000d8,#0000d1,#0000e3,#0016ff,#0072ff,#00ecff,#5affa5,#94ff6b,#a5ff5a,#a9ff56,#abff54,#adff52,#afff50,#b0ff4f,#b0ff4f,#b1ff4e,#b1ff4e,#aeff51,#61ff9e,#004aff,#0000aa,#0000ab,#004cff,#5dffa2,#a4ff5b,#9fff60,#95ff6a,#89ff76,#62ff9d,#00c6ff,#0006ff,#0000bd,#0000df,#0083ff,#2bffd4,#55ffaa,#56ffa9,#56ffa9,#55ffaa,#55ffaa,#55ffaa,#55ffaa,#55ffaa,#55ffaa,#54ffab,#54ffab,#55ffaa,#56ffa9,#59ffa6,#57ffa8,#30ffcf,#00c5ff,#004cff,#0001ff,#0000e7,#0000f6,#0038ff,#00bbff,#5affa5,#bfff40,#e2ff1d,#efff10,#f7ff08,#fbff04,#feff01,#ffff00,#fffe00,#ffff00,#fbff04,#f6ff09,#f9ff06,#feff01,#ffff00,#ffff00,#ffff00,#feff01,#fcff03,#f8ff07,#f1ff0e,#d6ff29,#48ffb7,#0066ff,#000eff,#0041ff,#00f3ff,#71ff8e,#7bff84,#70ff8f,#68ff97,#63ff9c,#62ff9d,#65ff9a,#6bff94,#72ff8d,#79ff86,#81ff7e,#88ff77,#8fff70,#94ff6b,#97ff68,#97ff68,#96ff69,#93ff6c,#8fff70,#8aff75,#86ff79,#81ff7e,#7cff83,#76ff89,#6eff91,#64ff9b,#59ffa6,#4dffb2,#40ffbf,#33ffcc,#26ffd9,#1affe5,#0ffff0,#06fff9,#00feff,#00faff,#00f8ff)"></div><div style="top:78px;background:linear-gradient(90deg,#f7ff08,#f7ff08,#f8ff07,#f9ff06,#fbff04,#fdff02,#fffe00,#fffc00,#fffa00,#fff800,#fff700,#fff700,#fff900,#fffc00,#feff01,#f9ff06,#f4ff0b,#efff10,#ebff14,#e8ff17,#deff21,#9aff65,#42ffbd,#66ff99,#c8ff37,#e6ff19,#e8ff17,#e8ff17,#e8ff17,#e8ff17,#e5ff1a,#deff21,#d0ff2f,#bcff43,#a2ff5d,#86ff79,#6eff91,#5cffa3,#52ffad,#4effb1,#4affb5,#1affe5,#007cff,#0000dd,#0000ad,#0000cb,#005cff,#12ffed,#5dffa2,#68ff97,#6bff94,#6eff91,#70ff8f,#72ff8d,#74ff8b,#75ff8a,#75ff8a,#76ff89,#79ff86,#7dff82,#80ff7f,#82ff7d,#84ff7b,#86ff79,#87ff78,#88ff77,#89ff76,#8aff75,#8aff75,#8bff74,#8bff74,#8cff73,#8aff75,#5affa5,#0091ff,#0000cc,#0000a6,#0000df,#00b8ff,#6dff92,#91ff6e,#93ff6c,#94ff6b,#95ff6a,#96ff69,#97ff68,#98ff67,#99ff66,#9aff65,#9bff64,#9cff63,#93ff6c,#62ff9d,#00efff,#0063ff,#0000f6,#0000c0,#0000ad,#0000aa,#0000b2,#0000d3,#0024ff,#00abff,#40ffbf,#a1ff5e,#c5ff3a,#cfff30,#d4ff2b,#d7ff28,#d9ff26,#daff25,#dbff24,#dbff24,#dbff24,#d7ff28,#82ff7d,#006aff,#0000c4,#0000b5,#001bff,#2effd1,#c2ff3d,#ceff31,#c6ff39,#a8ff57,#06fff9,#0002ff,#0000ac,#0000a8,#0000c7,#0080ff,#4dffb2,#7cff83,#7dff82,#7cff83,#7cff83,#7bff84,#7bff84,#7bff84,#7bff84,#7bff84,#7bff84,#7bff84,#7cff83,#7dff82,#80ff7f,#86ff79,#88ff77,#76ff89,#47ffb8,#13ffec,#00fbff,#14ffeb,#56ffa9,#a6ff59,#deff21,#f6ff09,#fffc00,#fff400,#ffee00,#ffea00,#ffe700,#ffe600,#ffe800,#ddff22,#22ffdd,#00a2ff,#00f4ff,#baff45,#ffec00,#ffe500,#ffe500,#ffe700,#ffea00,#fff100,#fffb00,#f4ff0b,#e0ff1f,#c4ff3b,#a9ff56,#99ff66,#8eff71,#80ff7f,#74ff8b,#69ff96,#61ff9e,#5dffa2,#5cffa3,#5dffa2,#61ff9e,#66ff99,#6cff93,#71ff8e,#77ff88,#7bff84,#7fff80,#81ff7e,#81ff7e,#7fff80,#7cff83,#78ff87,#75ff8a,#71ff8e,#6dff92,#68ff97,#63ff9c,#5cffa3,#54ffab,#4bffb4,#41ffbe,#37ffc8,#2cffd3,#22ffdd,#18ffe7,#0ffff0,#08fff7,#03fffc,#00feff,#00fcff)"></div><div style="top:80px;background:linear-gradient(90deg,#fff400,#fff400,#fff400,#fff400,#fff500,#fff500,#fff500,#fff500,#fff600,#fff700,#fff900,#fffc00,#fdff02,#f6ff09,#eeff11,#e5ff1a,#dcff23,#d4ff2b,#ccff33,#c7ff38,#c3ff3c,#c1ff3e,#bfff40,#c0ff3f,#c1ff3e,#c1ff3e,#c2ff3d,#c2ff3d,#c2ff3d,#c1ff3e,#bfff40,#b9ff46,#afff50,#a0ff5f,#8dff72,#7aff85,#6aff95,#5fffa0,#59ffa6,#59ffa6,#5bffa4,#5affa5,#41ffbe,#0bfff4,#00eaff,#08fff7,#47ffb8,#71ff8e,#7dff82,#82ff7d,#86ff79,#8aff75,#8dff72,#8bff74,#71ff8e,#31ffce,#00ddff,#00afff,#00d0ff,#33ffcc,#87ff78,#a4ff5b,#aaff55,#acff53,#aeff51,#afff50,#b0ff4f,#b1ff4e,#b1ff4e,#b1ff4e,#b2ff4d,#b2ff4d,#b2ff4d,#abff54,#74ff8b,#0bfff4,#00d9ff,#19ffe6,#80ff7f,#acff53,#b0ff4f,#afff50,#aeff51,#adff52,#acff53,#abff54,#aaff55,#a9ff56,#a9ff56,#aaff55,#aaff55,#9cff63,#5bffa4,#00d3ff,#003dff,#0000d8,#0000ae,#0000a4,#0000a4,#0000a6,#0000bb,#0002ff,#008bff,#38ffc7,#b7ff48,#edff12,#fdff02,#fff800,#fff300,#ffef00,#ffee00,#ffed00,#ffed00,#ffed00,#fff100,#c5ff3a,#00cdff,#0000f2,#0000ce,#0053ff,#64ff9b,#f9ff06,#fff500,#fffb00,#e6ff19,#41ffbe,#0038ff,#0000c6,#0000e4,#0092ff,#6aff95,#adff52,#aeff51,#aaff55,#a9ff56,#a8ff57,#a8ff57,#a8ff57,#a7ff58,#a7ff58,#a7ff58,#a8ff57,#a8ff57,#a8ff57,#aaff55,#adff52,#b3ff4c,#bcff43,#c6ff39,#d0ff2f,#d8ff27,#e1ff1e,#edff12,#fcff03,#fff500,#ffeb00,#ffe300,#ffdc00,#ffd500,#ffd000,#ffcc00,#ffca00,#ffc800,#ffd600,#70ff8f,#000fff,#0000a4,#0000da,#1bffe4,#ffe700,#ffc800,#ffc800,#ffcb00,#ffd000,#ffda00,#ffe900,#fffd00,#e8ff17,#ceff31,#b3ff4c,#9aff65,#84ff7b,#71ff8e,#62ff9d,#54ffab,#49ffb6,#40ffbf,#3bffc4,#3affc5,#3cffc3,#42ffbd,#49ffb6,#51ffae,#58ffa7,#5effa1,#62ff9d,#63ff9c,#63ff9c,#61ff9e,#5fffa0,#5cffa3,#59ffa6,#55ffaa,#52ffad,#4effb1,#4affb5,#46ffb9,#40ffbf,#3affc5,#33ffcc,#2cffd3,#25ffda,#1effe1,#17ffe8,#11ffee,#0cfff3,#08fff7,#06fff9,#05fffa)"></div><div style="top:82px;background:linear-gradient(90deg,#ffe100,#ffe200,#ffe300,#ffe400,#ffe600,#ffe900,#ffeb00,#ffee00,#fff100,#fff400,#fff800,#ffff00,#f7ff08,#edff12,#e1ff1e,#d4ff2b,#c7ff38,#bbff44,#b1ff4e,#a8ff57,#a3ff5c,#a0ff5f,#9fff60,#9eff61,#9eff61,#9eff61,#9eff61,#9eff61,#9eff61,#9dff62,#9bff64,#97ff68,#90ff6f,#86ff79,#7bff84,#70ff8f,#67ff98,#61ff9e,#60ff9f,#63ff9c,#67ff98,#6cff93,#71ff8e,#77ff88,#7cff83,#82ff7d,#88ff77,#8eff71,#93ff6c,#99ff66,#9eff61,#a3ff5c,#a3ff5c,#7cff83,#00f2ff,#0022ff,#0000b3,#0000a5,#0000aa,#0000f5,#00edff,#a5ff5a,#ccff33,#d2ff2d,#d4ff2b,#d6ff29,#d7ff28,#d7ff28,#d8ff27,#d8ff27,#d8ff27,#d8ff27,#d8ff27,#d9ff26,#d8ff27,#d7ff28,#d5ff2a,#d5ff2a,#d4ff2b,#d2ff2d,#cfff30,#ccff33,#c9ff36,#c6ff39,#c3ff3c,#c0ff3f,#bdff42,#bbff44,#b9ff46,#b9ff46,#b9ff46,#abff54,#69ff96,#00ddff,#0042ff,#0000d9,#0000ae,#0000a4,#0000a4,#0000a6,#0000bc,#0006ff,#0097ff,#4fffb0,#d9ff26,#ffe900,#ffd500,#ffc900,#ffc100,#ffbd00,#ffba00,#ffb900,#ffb900,#ffb900,#ffb900,#ffbe00,#ffde00,#e3ff1c,#d1ff2e,#fffa00,#ffc800,#ffbc00,#ffbd00,#ffc000,#ffc700,#ffdd00,#e3ff1c,#aaff55,#b2ff4d,#dcff23,#e8ff17,#e0ff1f,#d8ff27,#d3ff2c,#d0ff2f,#ceff31,#ccff33,#cbff34,#cbff34,#caff35,#cbff34,#cbff34,#ccff33,#ceff31,#d0ff2f,#d4ff2b,#dbff24,#e4ff1b,#f0ff0f,#fdff02,#fff400,#ffe800,#ffde00,#ffd600,#ffcf00,#ffc900,#ffc300,#ffbe00,#ffb900,#ffb400,#ffb100,#ffaf00,#ffad00,#ffaf00,#ffed00,#45ffba,#00b9ff,#13ffec,#ebff14,#ffb300,#ffac00,#ffad00,#ffb000,#ffb700,#ffc300,#ffd700,#fff000,#efff10,#cfff30,#adff52,#8cff73,#6bff94,#4affb5,#28ffd7,#06fff9,#00e5ff,#00cbff,#00b9ff,#00b2ff,#00b6ff,#00c5ff,#00dcff,#00f8ff,#14ffeb,#2bffd4,#3bffc4,#44ffbb,#48ffb7,#48ffb7,#46ffb9,#44ffbb,#42ffbd,#3fffc0,#3dffc2,#3affc5,#37ffc8,#34ffcb,#30ffcf,#2dffd2,#29ffd6,#24ffdb,#20ffdf,#1cffe3,#18ffe7,#15ffea,#12ffed,#10ffef,#0efff1,#0efff1)"></div><div style="top:84px;background:linear-gradient(90deg,#ffd100,#ffd200,#ffd300,#ffd500,#ffd800,#ffdc00,#ffe000,#ffe400,#ffe800,#ffed00,#fff300,#fffb00,#f8ff07,#ebff14,#dcff23,#ccff33,#bcff43,#adff52,#9fff60,#95ff6a,#8eff71,#8aff75,#88ff77,#86ff79,#86ff79,#85ff7a,#85ff7a,#84ff7b,#84ff7b,#83ff7c,#81ff7e,#7eff81,#7aff85,#75ff8a,#6fff90,#69ff96,#66ff99,#65ff9a,#67ff98,#6bff94,#70ff8f,#76ff89,#7cff83,#82ff7d,#88ff77,#8eff71,#95ff6a,#9bff64,#a1ff5e,#a7ff58,#adff52,#b3ff4c,#b3ff4c,#8dff72,#00ffff,#0027ff,#0000b4,#0000a5,#0000aa,#0000f9,#00ffff,#c2ff3d,#edff12,#f5ff0a,#f8ff07,#faff05,#fcff03,#fcff03,#fdff02,#fdff02,#feff01,#feff01,#feff01,#feff01,#feff01,#feff01,#fdff02,#fcff03,#f9ff06,#f6ff09,#f2ff0d,#edff12,#e8ff17,#e2ff1d,#ddff22,#d8ff27,#d3ff2c,#ceff31,#cbff34,#caff35,#caff35,#c1ff3e,#8cff73,#11ffee,#0076ff,#0000ff,#0000c3,#0000ae,#0000ab,#0000b4,#0000da,#0037ff,#00d4ff,#87ff78,#fffc00,#ffc700,#ffb100,#ffa400,#ff9a00,#ff9500,#ff9200,#ff9100,#ff9000,#ff9000,#ff9000,#ff9000,#ff9000,#ff9000,#ff9000,#ff9000,#ff9000,#ff9100,#ff9200,#ff9400,#ff9800,#ffa000,#ffac00,#ffbb00,#ffcc00,#ffde00,#ffef00,#fffd00,#f4ff0b,#ebff14,#e3ff1c,#ddff22,#d7ff28,#d3ff2c,#d0ff2f,#cfff30,#d0ff2f,#d3ff2c,#d7ff28,#dcff23,#e2ff1d,#e9ff16,#f3ff0c,#feff01,#fff300,#ffe500,#ffd800,#ffcd00,#ffc400,#ffbc00,#ffb600,#ffb000,#ffac00,#ffa700,#ffa300,#ffa000,#ff9d00,#ff9b00,#ff9900,#ff9800,#ff9800,#ff9d00,#ffa300,#ff9e00,#ff9800,#ff9700,#ff9700,#ff9800,#ff9b00,#ffa300,#ffb100,#ffc700,#ffe300,#f9ff06,#d2ff2d,#a6ff59,#74ff8b,#3bffc4,#00faff,#00b8ff,#0078ff,#0042ff,#0019ff,#0001ff,#0000f7,#0000fd,#0013ff,#0038ff,#0069ff,#00a1ff,#00d8ff,#06fff9,#26ffd9,#37ffc8,#3fffc0,#40ffbf,#3fffc0,#3dffc2,#3bffc4,#39ffc6,#37ffc8,#35ffca,#33ffcc,#31ffce,#2fffd0,#2cffd3,#2affd5,#28ffd7,#25ffda,#23ffdc,#21ffde,#1fffe0,#1effe1,#1dffe2,#1dffe2)"></div><div style="top:86px;background:linear-gradient(90deg,#ffc300,#ffc400,#ffc500,#ffc800,#ffcb00,#ffcf00,#ffd300,#ffd700,#ffdc00,#ffe100,#ffe800,#fff100,#fffe00,#f1ff0e,#e0ff1f,#cdff32,#baff45,#a8ff57,#98ff67,#8cff73,#83ff7c,#7eff81,#7bff84,#79ff86,#78ff87,#76ff89,#75ff8a,#74ff8b,#73ff8c,#71ff8e,#70ff8f,#6eff91,#6cff93,#67ff98,#4affb5,#03fffc,#00c5ff,#00cbff,#11ffee,#54ffab,#70ff8f,#7aff85,#82ff7d,#88ff77,#8eff71,#94ff6b,#9aff65,#a0ff5f,#a6ff59,#acff53,#b2ff4d,#b9ff46,#bfff40,#c0ff3f,#a8ff57,#63ff9c,#08fff7,#00d6ff,#00ffff,#75ff8a,#dbff24,#fffd00,#fff100,#ffeb00,#ffe600,#ffe300,#ffe000,#ffdf00,#ffde00,#ffdd00,#ffdd00,#ffdc00,#ffdb00,#ffdb00,#ffda00,#ffda00,#ffda00,#ffdc00,#ffde00,#ffe200,#ffe800,#ffee00,#fff600,#fffd00,#f9ff06,#f1ff0e,#eaff15,#e3ff1c,#deff21,#dcff23,#dbff24,#d8ff27,#bbff44,#64ff9b,#00ddff,#005eff,#000aff,#0000e2,#0000da,#0000f0,#002fff,#00a2ff,#40ffbf,#d3ff2c,#ffd300,#ffac00,#ff9800,#ff8800,#ff7d00,#ff7700,#ff7400,#ff7200,#ff7200,#ff7200,#ff7200,#ff7200,#ff7200,#ff7200,#ff7200,#ff7200,#ff7200,#ff7200,#ff7300,#ff7500,#ff7900,#ff8100,#ff8d00,#ff9d00,#ffb000,#ffc400,#ffd800,#ffeb00,#fffc00,#f2ff0d,#e3ff1c,#d5ff2a,#c8ff37,#beff41,#b7ff48,#b5ff4a,#b7ff48,#beff41,#c8ff37,#d3ff2c,#dfff20,#ecff13,#faff05,#fff500,#ffe600,#ffd800,#ffcb00,#ffbf00,#ffb600,#ffaf00,#ffa800,#ffa200,#ff9e00,#ff9a00,#ff9600,#ff9300,#ff9100,#ff8f00,#ff8e00,#ff8d00,#ff8c00,#ff8b00,#ff8b00,#ff8a00,#ff8a00,#ff8900,#ff8900,#ff8a00,#ff8d00,#ff9500,#ffa300,#ffb900,#ffd600,#fffa00,#d8ff27,#a3ff5c,#60ff9f,#10ffef,#00b7ff,#0060ff,#0015ff,#0000dd,#0000bb,#0000ab,#0000a7,#0000aa,#0000b7,#0000d6,#0009ff,#004cff,#0098ff,#00deff,#14ffeb,#36ffc9,#46ffb9,#4cffb3,#4dffb2,#4cffb3,#4affb5,#48ffb7,#46ffb9,#45ffba,#43ffbc,#41ffbe,#3fffc0,#3effc1,#3cffc3,#3affc5,#38ffc7,#37ffc8,#35ffca,#34ffcb,#33ffcc,#32ffcd,#32ffcd)"></div><div style="top:88px;background:linear-gradient(90deg,#ffb700,#ffb800,#ffba00,#ffbc00,#ffbf00,#ffc300,#ffc800,#ffcc00,#ffd100,#ffd600,#ffde00,#ffe800,#fff500,#f8ff07,#e5ff1a,#d0ff2f,#baff45,#a1ff5e,#81ff7e,#58ffa7,#35ffca,#25ffda,#2effd1,#46ffb9,#5dffa2,#68ff97,#6aff95,#69ff96,#67ff98,#65ff9a,#64ff9b,#61ff9e,#56ffa9,#20ffdf,#007dff,#0000d6,#0000a5,#0000a6,#0000cd,#002fff,#0099ff,#00edff,#36ffc9,#6bff94,#88ff77,#96ff69,#9dff62,#a3ff5c,#a8ff57,#aeff51,#b4ff4b,#bbff44,#c2ff3d,#caff35,#d3ff2c,#daff25,#e1ff1e,#e9ff16,#f4ff0b,#fffd00,#fff300,#ffe900,#ffe000,#ffd900,#ffd300,#ffce00,#ffcc00,#ffca00,#ffc900,#ffc800,#ffc700,#ffc500,#ffc400,#ffc300,#ffc300,#ffc200,#ffc200,#ffc200,#ffc400,#ffc800,#ffcf00,#ffd700,#ffe000,#ffe900,#fff300,#fffd00,#f8ff07,#f0ff0f,#eaff15,#e7ff18,#e7ff18,#e8ff17,#e0ff1f,#b8ff47,#63ff9c,#00f8ff,#009fff,#006cff,#0062ff,#0082ff,#00cfff,#43ffbc,#beff41,#ffe300,#ffb000,#ff9500,#ff8100,#ff7100,#ff6500,#ff5e00,#ff5b00,#ff5900,#ff5900,#ff5900,#ff5900,#ff5900,#ff5900,#ff5900,#ff5900,#ff5900,#ff5900,#ff5900,#ff5a00,#ff5c00,#ff6100,#ff6a00,#ff7700,#ff8800,#ff9c00,#ffb200,#ffc800,#ffdf00,#fff500,#f3ff0c,#ddff22,#c7ff38,#b4ff4b,#a3ff5c,#98ff67,#93ff6c,#96ff69,#a0ff5f,#afff50,#c1ff3e,#d4ff2b,#e6ff19,#f9ff06,#fff300,#ffe200,#ffd300,#ffc600,#ffbb00,#ffb200,#ffaa00,#ffa300,#ff9d00,#ff9800,#ff9400,#ff9100,#ff8f00,#ff8d00,#ff8b00,#ff8a00,#ff8900,#ff8800,#ff8700,#ff8700,#ff8600,#ff8500,#ff8500,#ff8400,#ff8500,#ff8800,#ff8f00,#ff9d00,#ffb200,#ffcf00,#fff200,#e2ff1d,#acff53,#69ff96,#19ffe6,#00beff,#0066ff,#0019ff,#0000de,#0000bc,#0000ab,#0000a7,#0000aa,#0000b8,#0000d7,#000cff,#0052ff,#00a0ff,#00e9ff,#21ffde,#44ffbb,#56ffa9,#5cffa3,#5dffa2,#5cffa3,#5bffa4,#59ffa6,#57ffa8,#56ffa9,#54ffab,#53ffac,#51ffae,#50ffaf,#4effb1,#4dffb2,#4bffb4,#4affb5,#48ffb7,#47ffb8,#46ffb9,#46ffb9,#46ffb9)"></div><div style="top:90px;background:linear-gradient(90deg,#ffb000,#ffb100,#ffb300,#ffb600,#ffb900,#ffbd00,#ffc200,#ffc700,#ffcc00,#ffd100,#ffd900,#ffe400,#fff100,#fbff04,#e7ff18,#cfff30,#a6ff59,#4dffb2,#00baff,#002aff,#0000d6,#0000c0,#0000da,#002eff,#00afff,#22ffdd,#57ffa8,#63ff9c,#62ff9d,#60ff9f,#5dffa2,#53ffac,#32ffcd,#00e5ff,#006eff,#0000f7,#0000b9,#0000a6,#0000a4,#0000aa,#0000d1,#0029ff,#00a5ff,#1effe1,#6dff92,#92ff6d,#a0ff5f,#a7ff58,#acff53,#b2ff4d,#b7ff48,#bdff42,#c3ff3c,#c8ff37,#cfff30,#d5ff2a,#dcff23,#e3ff1c,#ebff14,#f4ff0b,#fcff03,#fff900,#fff100,#ffeb00,#ffe600,#ffe200,#ffe000,#ffde00,#ffdd00,#ffdc00,#ffdb00,#ffd900,#ffd800,#ffd700,#ffd600,#ffd500,#ffd400,#ffd500,#ffd600,#ffda00,#ffe000,#ffe700,#fff000,#fff900,#fcff03,#f2ff0d,#e9ff16,#e2ff1d,#ddff22,#dcff23,#deff21,#e3ff1c,#e8ff17,#e4ff1b,#caff35,#98ff67,#61ff9e,#3bffc4,#37ffc8,#56ffa9,#95ff6a,#e1ff1e,#ffdb00,#ffb000,#ff9500,#ff8000,#ff6c00,#ff5c00,#ff5100,#ff4a00,#ff4700,#ff4600,#ff4600,#ff4600,#ff4600,#ff4600,#ff4600,#ff4600,#ff4600,#ff4600,#ff4600,#ff4700,#ff4800,#ff4b00,#ff5100,#ff5c00,#ff6a00,#ff7d00,#ff9300,#ffaa00,#ffc200,#ffdb00,#fff500,#f0ff0f,#d6ff29,#bcff43,#9fff60,#77ff88,#39ffc6,#00efff,#00b8ff,#00acff,#00d5ff,#29ffd6,#84ff7b,#c7ff38,#ebff14,#fffe00,#ffed00,#ffde00,#ffd200,#ffc800,#ffc000,#ffb800,#ffb100,#ffab00,#ffa600,#ffa200,#ff9f00,#ff9c00,#ff9b00,#ff9a00,#ff9900,#ff9800,#ff9800,#ff9700,#ff9700,#ff9700,#ff9600,#ff9600,#ff9600,#ff9700,#ff9a00,#ffa100,#ffae00,#ffc100,#ffdb00,#fffa00,#e1ff1e,#b8ff47,#88ff77,#50ffaf,#0ffff0,#00c9ff,#0086ff,#004dff,#0022ff,#0008ff,#0000fd,#0005ff,#001cff,#0043ff,#0078ff,#00b4ff,#00f0ff,#22ffdd,#45ffba,#58ffa7,#61ff9e,#63ff9c,#63ff9c,#62ff9d,#60ff9f,#5fffa0,#5dffa2,#5cffa3,#5bffa4,#59ffa6,#58ffa7,#56ffa9,#55ffaa,#54ffab,#52ffad,#51ffae,#50ffaf,#4fffb0,#4effb1,#4effb1,#4effb1)"></div><div style="top:92px;background:linear-gradient(90deg,#ffaf00,#ffb000,#ffb200,#ffb500,#ffb900,#ffbd00,#ffc200,#ffc700,#ffcd00,#ffd300,#ffdb00,#ffe500,#fff300,#faff05,#e7ff18,#d0ff2f,#a7ff58,#4effb1,#00bbff,#002bff,#0000d6,#0000c1,#0000da,#002fff,#00b1ff,#24ffdb,#59ffa6,#65ff9a,#64ff9b,#62ff9d,#5fffa0,#5cffa3,#53ffac,#3bffc4,#0cfff3,#00cdff,#0091ff,#0068ff,#005dff,#0072ff,#00a7ff,#00f0ff,#3affc5,#70ff8f,#8fff70,#9eff61,#a6ff59,#acff53,#b2ff4d,#b7ff48,#bbff44,#bfff40,#c0ff3f,#c1ff3e,#c1ff3e,#c1ff3e,#c2ff3d,#c4ff3b,#c7ff38,#cbff34,#d0ff2f,#d5ff2a,#d9ff26,#ddff22,#dfff20,#e1ff1e,#e2ff1d,#e2ff1d,#e3ff1c,#e4ff1b,#e5ff1a,#e6ff19,#e7ff18,#e8ff17,#e9ff16,#eaff15,#ebff14,#ebff14,#eaff15,#e8ff17,#e4ff1b,#deff21,#d8ff27,#d1ff2e,#caff35,#c3ff3c,#bdff42,#b9ff46,#b8ff47,#baff45,#c2ff3d,#ccff33,#d9ff26,#e6ff19,#efff10,#efff10,#e8ff17,#e4ff1b,#ebff14,#fffc00,#ffdc00,#ffbc00,#ffa200,#ff8e00,#ff7c00,#ff6a00,#ff5900,#ff4b00,#ff4100,#ff3c00,#ff3900,#ff3800,#ff3800,#ff3800,#ff3800,#ff3800,#ff3900,#ff3900,#ff3900,#ff3900,#ff3a00,#ff3b00,#ff3d00,#ff4200,#ff4a00,#ff5600,#ff6800,#ff7d00,#ff9400,#ffad00,#ffc700,#ffe100,#fffd00,#e0ff1f,#b4ff4b,#7aff85,#26ffd9,#00aeff,#002eff,#0000d1,#0000aa,#0000a4,#0000b3,#0002ff,#00a5ff,#56ffa9,#beff41,#e7ff18,#f9ff06,#fff800,#ffee00,#ffe500,#ffde00,#ffd700,#ffd100,#ffcb00,#ffc600,#ffc200,#ffbf00,#ffbd00,#ffbb00,#ffba00,#ffb900,#ffb900,#ffba00,#ffba00,#ffbb00,#ffbc00,#ffbc00,#ffbd00,#ffbe00,#ffc000,#ffc400,#ffca00,#ffd600,#ffe700,#fffd00,#e8ff17,#cdff32,#b1ff4e,#95ff6a,#78ff87,#5affa5,#3bffc4,#1affe5,#00f9ff,#00deff,#00cbff,#00c4ff,#00c8ff,#00d7ff,#00efff,#0cfff3,#28ffd7,#3fffc0,#50ffaf,#59ffa6,#5dffa2,#5effa1,#5effa1,#5dffa2,#5cffa3,#5affa5,#59ffa6,#58ffa7,#57ffa8,#56ffa9,#54ffab,#53ffac,#52ffad,#51ffae,#4fffb0,#4effb1,#4dffb2,#4cffb3,#4bffb4,#4affb5,#4affb5,#4affb5)"></div><div style="top:94px;background:linear-gradient(90deg,#ffaf00,#ffb000,#ffb200,#ffb600,#ffba00,#ffbf00,#ffc400,#ffca00,#ffd000,#ffd600,#ffde00,#ffe900,#fff600,#f8ff07,#e6ff19,#d2ff2d,#bdff42,#a6ff59,#86ff79,#5effa1,#3affc5,#29ffd6,#32ffcd,#4affb5,#61ff9e,#6bff94,#6cff93,#6aff95,#68ff97,#65ff9a,#63ff9c,#61ff9e,#60ff9f,#5fffa0,#5fffa0,#5fffa0,#5fffa0,#61ff9e,#66ff99,#6eff91,#78ff87,#82ff7d,#8bff74,#94ff6b,#9cff63,#a4ff5b,#acff53,#b2ff4d,#b8ff47,#bdff42,#c0ff3f,#c0ff3f,#beff41,#b8ff47,#b1ff4e,#a9ff56,#a3ff5c,#9fff60,#9cff63,#9bff64,#9bff64,#9cff63,#9cff63,#9cff63,#9bff64,#9aff65,#99ff66,#99ff66,#99ff66,#99ff66,#9aff65,#9bff64,#9cff63,#9dff62,#9eff61,#9fff60,#a0ff5f,#a0ff5f,#a0ff5f,#9fff60,#9dff62,#9aff65,#96ff69,#92ff6d,#8fff70,#8bff74,#88ff77,#88ff77,#8bff74,#92ff6d,#9fff60,#b0ff4f,#c4ff3b,#daff25,#efff10,#fffa00,#ffe700,#ffd500,#ffc300,#ffb100,#ff9f00,#ff9000,#ff8100,#ff7300,#ff6400,#ff5400,#ff4700,#ff3b00,#ff3300,#ff2f00,#ff2d00,#ff2c00,#ff2c00,#ff2d00,#ff2d00,#ff2d00,#ff2e00,#ff2e00,#ff2e00,#ff2f00,#ff3000,#ff3100,#ff3400,#ff3b00,#ff4500,#ff5400,#ff6800,#ff7f00,#ff9900,#ffb300,#ffcf00,#ffee00,#e4ff1b,#9dff62,#34ffcb,#00b4ff,#003dff,#0000e5,#0000b9,#0000ac,#0000ab,#0000b2,#0000cd,#0019ff,#00a3ff,#39ffc6,#99ff66,#c6ff39,#daff25,#e6ff19,#efff10,#f7ff08,#fdff02,#fffb00,#fff600,#fff100,#ffed00,#ffe900,#ffe500,#ffe200,#ffe000,#ffdf00,#ffdf00,#ffe000,#ffe100,#ffe300,#ffe500,#ffe700,#ffe900,#ffeb00,#ffed00,#fff000,#fff400,#fffa00,#faff05,#ebff14,#d9ff26,#c5ff3a,#b0ff4f,#9bff64,#88ff77,#79ff86,#6cff93,#63ff9c,#5affa5,#52ffad,#4cffb3,#47ffb8,#44ffbb,#44ffbb,#47ffb8,#4bffb4,#50ffaf,#53ffac,#56ffa9,#57ffa8,#57ffa8,#56ffa9,#55ffaa,#54ffab,#53ffac,#52ffad,#51ffae,#50ffaf,#4fffb0,#4effb1,#4dffb2,#4cffb3,#4bffb4,#49ffb6,#48ffb7,#47ffb8,#46ffb9,#45ffba,#44ffbb,#44ffbb,#43ffbc,#43ffbc,#42ffbd)"></div><div style="top:96px;background:linear-gradient(90deg,#ffb000,#ffb200,#ffb400,#ffb800,#ffbc00,#ffc200,#ffc700,#ffcd00,#ffd400,#ffdb00,#ffe300,#ffed00,#fffa00,#f5ff0a,#e4ff1b,#d2ff2d,#c0ff3f,#aeff51,#9fff60,#92ff6d,#89ff76,#82ff7d,#7eff81,#7aff85,#77ff88,#74ff8b,#72ff8d,#6fff90,#6cff93,#6aff95,#67ff98,#65ff9a,#63ff9c,#62ff9d,#61ff9e,#61ff9e,#63ff9c,#67ff98,#6dff92,#74ff8b,#7bff84,#82ff7d,#87ff78,#8fff70,#9aff65,#a6ff59,#b1ff4e,#b9ff46,#c0ff3f,#c4ff3b,#c5ff3a,#c3ff3c,#bcff43,#b1ff4e,#a3ff5c,#95ff6a,#89ff76,#7eff81,#77ff88,#71ff8e,#6dff92,#69ff96,#66ff99,#62ff9d,#5fffa0,#5cffa3,#59ffa6,#57ffa8,#56ffa9,#55ffaa,#54ffab,#53ffac,#51ffae,#4effb1,#4affb5,#46ffb9,#42ffbd,#3fffc0,#3cffc3,#3bffc4,#3cffc3,#3effc1,#41ffbe,#44ffbb,#48ffb7,#4cffb3,#51ffae,#57ffa8,#60ff9f,#6dff92,#80ff7f,#97ff68,#b1ff4e,#cdff32,#e9ff16,#fff800,#ffdd00,#ffc300,#ffab00,#ff9600,#ff8500,#ff7600,#ff6900,#ff5d00,#ff5000,#ff4400,#ff3900,#ff3000,#ff2a00,#ff2700,#ff2600,#ff2600,#ff2600,#ff2700,#ff2700,#ff2800,#ff2900,#ff2a00,#ff2b00,#ff2b00,#ff2d00,#ff2f00,#ff3300,#ff3a00,#ff4700,#ff5800,#ff6e00,#ff8700,#ffa200,#ffbd00,#ffd900,#fff800,#dbff24,#96ff69,#2fffd0,#00b2ff,#003fff,#0000ed,#0000c2,#0000b4,#0000ba,#0000d6,#0016ff,#0077ff,#00e8ff,#4cffb3,#8dff72,#afff50,#c0ff3f,#c9ff36,#d0ff2f,#d6ff29,#dbff24,#e0ff1f,#e5ff1a,#e9ff16,#edff12,#f1ff0e,#f4ff0b,#f7ff08,#f9ff06,#faff05,#faff05,#f9ff06,#f6ff09,#f3ff0c,#f0ff0f,#edff12,#eaff15,#e7ff18,#e4ff1b,#e0ff1f,#dbff24,#d5ff2a,#cdff32,#c1ff3e,#b3ff4c,#a3ff5c,#93ff6c,#83ff7c,#75ff8a,#6aff95,#62ff9d,#5cffa3,#59ffa6,#57ffa8,#56ffa9,#54ffab,#53ffac,#52ffad,#51ffae,#51ffae,#50ffaf,#4fffb0,#4effb1,#4dffb2,#4cffb3,#4bffb4,#4affb5,#49ffb6,#48ffb7,#47ffb8,#46ffb9,#46ffb9,#45ffba,#44ffbb,#43ffbc,#42ffbd,#41ffbe,#40ffbf,#3fffc0,#3effc1,#3dffc2,#3cffc3,#3bffc4,#3bffc4,#3affc5,#3affc5,#3affc5)"></div><div style="top:98px;background:linear-gradient(90deg,#ffb700,#ffb800,#ffba00,#ffbe00,#ffc300,#ffc800,#ffce00,#ffd400,#ffdb00,#ffe200,#ffea00,#fff300,#ffff00,#f1ff0e,#e2ff1d,#d2ff2d,#c2ff3d,#b2ff4d,#a4ff5b,#99ff66,#90ff6f,#8aff75,#85ff7a,#81ff7e,#7dff82,#7aff85,#77ff88,#75ff8a,#72ff8d,#70ff8f,#6eff91,#6cff93,#6bff94,#69ff96,#68ff97,#69ff96,#6aff95,#6dff92,#6aff95,#49ffb6,#00f9ff,#0091ff,#0044ff,#002eff,#0057ff,#00baff,#39ffc6,#98ff67,#c3ff3c,#ceff31,#ceff31,#c9ff36,#bfff40,#b1ff4e,#9fff60,#8dff72,#7dff82,#70ff8f,#65ff9a,#5dffa2,#56ffa9,#50ffaf,#4affb5,#44ffbb,#3dffc2,#35ffca,#2bffd4,#1effe1,#0afff5,#00efff,#00cdff,#00a4ff,#0078ff,#004cff,#0024ff,#0002ff,#0000e7,#0000d6,#0000cc,#0000c8,#0000cb,#0000d4,#0000e5,#0000fe,#0021ff,#004aff,#0078ff,#00aaff,#00dcff,#0ffff0,#3fffc0,#6eff91,#99ff66,#c1ff3e,#e5ff1a,#fff800,#ffd800,#ffbb00,#ffa100,#ff8b00,#ff7900,#ff6b00,#ff6000,#ff5500,#ff4b00,#ff4200,#ff3a00,#ff3400,#ff3000,#ff2e00,#ff2e00,#ff2f00,#ff3100,#ff3300,#ff3400,#ff3600,#ff3800,#ff3a00,#ff3b00,#ff3d00,#ff3f00,#ff4300,#ff4800,#ff5000,#ff5e00,#ff7000,#ff8600,#ff9f00,#ffb900,#ffd300,#ffed00,#f9ff06,#e0ff1f,#c3ff3c,#9eff61,#6eff91,#36ffc9,#02fffd,#00daff,#00c8ff,#00ceff,#00e9ff,#15ffea,#43ffbc,#6bff94,#88ff77,#9aff65,#a5ff5a,#adff52,#b4ff4b,#b9ff46,#beff41,#c2ff3d,#c5ff3a,#c9ff36,#ccff33,#d0ff2f,#d3ff2c,#d6ff29,#d9ff26,#dbff24,#dbff24,#daff25,#d8ff27,#d5ff2a,#d1ff2e,#ceff31,#caff35,#c6ff39,#c2ff3d,#beff41,#b9ff46,#b5ff4a,#afff50,#a7ff58,#9dff62,#92ff6d,#86ff79,#79ff86,#6dff92,#63ff9c,#5affa5,#54ffab,#50ffaf,#4dffb2,#4bffb4,#4affb5,#48ffb7,#47ffb8,#46ffb9,#45ffba,#44ffbb,#42ffbd,#41ffbe,#40ffbf,#3fffc0,#3effc1,#3dffc2,#3cffc3,#3bffc4,#3affc5,#39ffc6,#38ffc7,#38ffc7,#37ffc8,#36ffc9,#35ffca,#34ffcb,#33ffcc,#32ffcd,#32ffcd,#31ffce,#30ffcf,#2fffd0,#2fffd0,#2effd1,#2effd1,#2dffd2,#2dffd2)"></div><div style="top:100px;background:linear-gradient(90deg,#ffc200,#ffc300,#ffc500,#ffc900,#ffce00,#ffd300,#ffd900,#ffdf00,#ffe500,#ffeb00,#fff300,#fffb00,#f9ff06,#edff12,#e0ff1f,#d3ff2c,#c5ff3a,#b8ff47,#acff53,#a2ff5d,#9aff65,#93ff6c,#8eff71,#89ff76,#85ff7a,#81ff7e,#7eff81,#7cff83,#7aff85,#79ff86,#78ff87,#78ff87,#77ff88,#77ff88,#77ff88,#78ff87,#7aff85,#7aff85,#68ff97,#1cffe3,#008dff,#0001ff,#0000b8,#0000aa,#0000c2,#0022ff,#00ccff,#6fff90,#c4ff3b,#daff25,#daff25,#d3ff2c,#c7ff38,#b7ff48,#a4ff5b,#92ff6d,#81ff7e,#73ff8c,#68ff97,#5effa1,#57ffa8,#50ffaf,#49ffb6,#41ffbe,#3affc5,#32ffcd,#27ffd8,#19ffe6,#06fff9,#00ebff,#00c9ff,#00a1ff,#0076ff,#004aff,#0022ff,#0001ff,#0000e7,#0000d5,#0000cb,#0000c8,#0000ca,#0000d4,#0000e5,#0000fe,#0021ff,#004aff,#0078ff,#00aaff,#00dcff,#0ffff0,#41ffbe,#70ff8f,#9bff64,#c3ff3c,#e8ff17,#fff400,#ffd400,#ffb700,#ff9d00,#ff8800,#ff7800,#ff6d00,#ff6400,#ff5c00,#ff5600,#ff5000,#ff4b00,#ff4700,#ff4500,#ff4500,#ff4700,#ff4a00,#ff4d00,#ff5000,#ff5300,#ff5700,#ff5a00,#ff5e00,#ff6100,#ff6500,#ff6800,#ff6d00,#ff7300,#ff7c00,#ff8900,#ff9b00,#ffaf00,#ffc500,#ffdd00,#fff400,#f3ff0c,#dfff20,#ccff33,#bbff44,#abff54,#9dff62,#8eff71,#82ff7d,#78ff87,#73ff8c,#73ff8c,#76ff89,#7cff83,#83ff7c,#89ff76,#90ff6f,#96ff69,#9cff63,#a1ff5e,#a5ff5a,#a9ff56,#acff53,#afff50,#b2ff4d,#b4ff4b,#b7ff48,#b9ff46,#bcff43,#beff41,#c0ff3f,#c1ff3e,#c1ff3e,#bfff40,#bdff42,#b9ff46,#b5ff4a,#b1ff4e,#acff53,#a8ff57,#a3ff5c,#9fff60,#9aff65,#95ff6a,#8fff70,#88ff77,#80ff7f,#77ff88,#6eff91,#64ff9b,#5bffa4,#52ffad,#4cffb3,#46ffb9,#43ffbc,#40ffbf,#3effc1,#3cffc3,#3affc5,#39ffc6,#37ffc8,#35ffca,#34ffcb,#32ffcd,#30ffcf,#2fffd0,#2dffd2,#2cffd3,#2bffd4,#2affd5,#29ffd6,#28ffd7,#27ffd8,#27ffd8,#26ffd9,#25ffda,#24ffdb,#24ffdb,#23ffdc,#22ffdd,#22ffdd,#21ffde,#20ffdf,#1fffe0,#1fffe0,#1effe1,#1effe1,#1dffe2,#1dffe2,#1dffe2)"></div><div style="top:102px;background:linear-gradient(90deg,#ffcf00,#ffd000,#ffd200,#ffd600,#ffda00,#ffdf00,#ffe500,#ffea00,#fff000,#fff600,#fffd00,#faff05,#f1ff0e,#e8ff17,#deff21,#d3ff2c,#c8ff37,#bdff42,#b3ff4c,#abff54,#a3ff5c,#9dff62,#97ff68,#91ff6e,#8dff72,#88ff77,#85ff7a,#83ff7c,#82ff7d,#82ff7d,#83ff7c,#84ff7b,#85ff7a,#86ff79,#87ff78,#89ff76,#8cff73,#90ff6f,#93ff6c,#91ff6e,#81ff7e,#63ff9c,#46ffb9,#41ffbe,#5dffa2,#8fff70,#c0ff3f,#deff21,#eaff15,#ecff13,#e8ff17,#deff21,#d0ff2f,#bfff40,#adff52,#9aff65,#8aff75,#7cff83,#71ff8e,#67ff98,#5fffa0,#57ffa8,#50ffaf,#49ffb6,#42ffbd,#3dffc2,#38ffc7,#35ffca,#34ffcb,#33ffcc,#32ffcd,#31ffce,#2fffd0,#2cffd3,#29ffd6,#26ffd9,#22ffdd,#20ffdf,#1fffe0,#1fffe0,#21ffde,#24ffdb,#28ffd7,#2effd1,#34ffcb,#3affc5,#41ffbe,#49ffb6,#54ffab,#64ff9b,#7aff85,#94ff6b,#b2ff4d,#d1ff2e,#f0ff0f,#ffef00,#ffd000,#ffb400,#ff9c00,#ff8900,#ff7b00,#ff7200,#ff6d00,#ff6900,#ff6500,#ff6200,#ff6000,#ff5f00,#ff6000,#ff6200,#ff6500,#ff6900,#ff6e00,#ff7300,#ff7800,#ff7d00,#ff8300,#ff8800,#ff8d00,#ff9200,#ff9800,#ff9e00,#ffa500,#ffaf00,#ffbc00,#ffcb00,#ffdd00,#fff100,#f9ff06,#e5ff1a,#d2ff2d,#c2ff3d,#b4ff4b,#a8ff57,#9eff61,#95ff6a,#8dff72,#86ff79,#81ff7e,#7eff81,#7dff82,#7fff80,#82ff7d,#85ff7a,#89ff76,#8cff73,#90ff6f,#93ff6c,#97ff68,#99ff66,#9cff63,#9eff61,#9fff60,#a1ff5e,#a2ff5d,#a4ff5b,#a5ff5a,#a7ff58,#a8ff57,#a9ff56,#a9ff56,#a8ff57,#a6ff59,#a3ff5c,#9fff60,#99ff66,#91ff6e,#81ff7e,#65ff9a,#3effc1,#11ffee,#00e9ff,#00cfff,#00caff,#00d7ff,#00f2ff,#14ffeb,#2fffd0,#3fffc0,#43ffbc,#42ffbd,#3dffc2,#39ffc6,#36ffc9,#33ffcc,#30ffcf,#2effd1,#2cffd3,#2affd5,#28ffd7,#25ffda,#23ffdc,#21ffde,#1fffe0,#1dffe2,#1bffe4,#19ffe6,#18ffe7,#17ffe8,#16ffe9,#15ffea,#14ffeb,#14ffeb,#13ffec,#12ffed,#12ffed,#11ffee,#11ffee,#10ffef,#0ffff0,#0ffff0,#0efff1,#0dfff2,#0dfff2,#0cfff3,#0cfff3,#0bfff4,#0bfff4,#0bfff4)"></div><div style="top:104px;background:linear-gradient(90deg,#ffe500,#ffe600,#ffe800,#ffeb00,#ffef00,#fff400,#fff900,#fffe00,#fbff04,#f5ff0a,#f0ff0f,#e9ff16,#e3ff1c,#dbff24,#d4ff2b,#ccff33,#c3ff3c,#bbff44,#b4ff4b,#acff53,#a6ff59,#9fff60,#99ff66,#94ff6b,#8fff70,#8aff75,#87ff78,#86ff79,#86ff79,#88ff77,#8aff75,#8dff72,#90ff6f,#93ff6c,#96ff69,#99ff66,#9cff63,#a0ff5f,#a5ff5a,#aaff55,#b0ff4f,#b7ff48,#c0ff3f,#cbff34,#d6ff29,#e2ff1d,#edff12,#f6ff09,#fcff03,#fdff02,#f7ff08,#edff12,#deff21,#cdff32,#bbff44,#aaff55,#9bff64,#8eff71,#83ff7c,#79ff86,#71ff8e,#6aff95,#62ff9d,#5bffa4,#54ffab,#4effb1,#4affb5,#47ffb8,#46ffb9,#46ffb9,#46ffb9,#47ffb8,#49ffb6,#4affb5,#4bffb4,#4cffb3,#4dffb2,#4effb1,#50ffaf,#51ffae,#52ffad,#53ffac,#54ffab,#55ffaa,#56ffa9,#58ffa7,#5affa5,#5fffa0,#67ff98,#75ff8a,#88ff77,#a0ff5f,#bbff44,#d8ff27,#f5ff0a,#ffec00,#ffd000,#ffb600,#ffa000,#ff8f00,#ff8400,#ff7e00,#ff7b00,#ff7a00,#ff7a00,#ff7a00,#ff7a00,#ff7b00,#ff7d00,#ff8100,#ff8500,#ff8b00,#ff9100,#ff9700,#ff9e00,#ffa500,#ffab00,#ffb200,#ffb800,#ffbf00,#ffc600,#ffcd00,#ffd500,#ffdf00,#ffea00,#fff800,#f6ff09,#e6ff19,#d5ff2a,#c5ff3a,#b6ff49,#a9ff56,#9fff60,#98ff67,#92ff6d,#8eff71,#8aff75,#87ff78,#84ff7b,#83ff7c,#83ff7c,#83ff7c,#84ff7b,#85ff7a,#87ff78,#88ff77,#8aff75,#8bff74,#8dff72,#8eff71,#8eff71,#8fff70,#90ff6f,#90ff6f,#91ff6e,#92ff6d,#92ff6d,#93ff6c,#93ff6c,#93ff6c,#93ff6c,#91ff6e,#8eff71,#8aff75,#84ff7b,#74ff8b,#4effb1,#07fff8,#00a0ff,#0034ff,#0000df,#0000b2,#0000a4,#0000a4,#0000ad,#0000d0,#0016ff,#0072ff,#00caff,#08fff7,#26ffd9,#2effd1,#2dffd2,#2affd5,#27ffd8,#24ffdb,#21ffde,#1effe1,#1bffe4,#18ffe7,#15ffea,#12ffed,#0ffff0,#0cfff3,#09fff6,#06fff9,#03fffc,#01fffe,#00feff,#00fcff,#00fbff,#00f9ff,#00f8ff,#00f7ff,#00f6ff,#00f6ff,#00f5ff,#00f5ff,#00f5ff,#00f5ff,#00f5ff,#00f5ff,#00f5ff,#00f5ff,#00f5ff,#00f4ff,#00f4ff,#00f4ff,#00f4ff)"></div><div style="top:106px;background:linear-gradient(90deg,#e6ff19,#e5ff1a,#e3ff1c,#e1ff1e,#deff21,#daff25,#d6ff29,#d2ff2d,#ceff31,#caff35,#c6ff39,#c1ff3e,#bdff42,#b7ff48,#b2ff4d,#adff52,#a7ff58,#a2ff5d,#9cff63,#97ff68,#92ff6d,#8dff72,#88ff77,#83ff7c,#7fff80,#7cff83,#7aff85,#7bff84,#7dff82,#81ff7e,#86ff79,#8bff74,#91ff6e,#96ff69,#9cff63,#a2ff5d,#a7ff58,#adff52,#b3ff4c,#b9ff46,#bfff40,#c7ff38,#d1ff2e,#dbff24,#e7ff18,#f3ff0c,#ffff00,#fff500,#ffef00,#ffee00,#fff100,#fffa00,#f8ff07,#ebff14,#ddff22,#d0ff2f,#c4ff3b,#b9ff46,#b0ff4f,#a9ff56,#a2ff5d,#9bff64,#95ff6a,#8fff70,#89ff76,#84ff7b,#80ff7f,#7dff82,#7cff83,#7cff83,#7cff83,#7dff82,#7eff81,#7fff80,#7fff80,#80ff7f,#81ff7e,#82ff7d,#83ff7c,#84ff7b,#85ff7a,#86ff79,#86ff79,#87ff78,#87ff78,#87ff78,#88ff77,#8aff75,#8fff70,#98ff67,#a6ff59,#b8ff47,#cdff32,#e3ff1c,#f9ff06,#ffee00,#ffd800,#ffc400,#ffb300,#ffa700,#ff9f00,#ff9b00,#ff9a00,#ff9b00,#ff9c00,#ff9e00,#ffa000,#ffa200,#ffa500,#ffa900,#ffae00,#ffb300,#ffb900,#ffbf00,#ffc600,#ffcc00,#ffd300,#ffd900,#ffe000,#ffe600,#ffed00,#fff400,#fffb00,#faff05,#f1ff0e,#e6ff19,#d9ff26,#ccff33,#bfff40,#b2ff4d,#a6ff59,#9dff62,#95ff6a,#90ff6f,#8dff72,#8bff74,#89ff76,#87ff78,#86ff79,#85ff7a,#84ff7b,#83ff7c,#83ff7c,#83ff7c,#82ff7d,#82ff7d,#82ff7d,#82ff7d,#82ff7d,#82ff7d,#82ff7d,#82ff7d,#82ff7d,#82ff7d,#82ff7d,#81ff7e,#81ff7e,#81ff7e,#81ff7e,#80ff7f,#7fff80,#7dff82,#7aff85,#77ff88,#72ff8d,#6dff92,#65ff9a,#56ffa9,#3cffc3,#18ffe7,#00eeff,#00caff,#00b4ff,#00afff,#00bbff,#00d5ff,#00f5ff,#11ffee,#23ffdc,#2affd5,#2bffd4,#28ffd7,#25ffda,#21ffde,#1dffe2,#18ffe7,#0efff1,#00faff,#00dfff,#00c6ff,#00b8ff,#00baff,#00c6ff,#00d3ff,#00d8ff,#00d5ff,#00cdff,#00c4ff,#00bbff,#00b3ff,#00abff,#00a6ff,#00a1ff,#009eff,#009dff,#009eff,#00a0ff,#00a3ff,#00a7ff,#00acff,#00b2ff,#00b7ff,#00bdff,#00c1ff,#00c5ff,#00c9ff,#00ccff,#00ceff,#00cfff)"></div><div style="top:108px;background:linear-gradient(90deg,#97ff68,#96ff69,#95ff6a,#94ff6b,#92ff6d,#90ff6f,#8eff71,#8cff73,#8aff75,#87ff78,#85ff7a,#83ff7c,#80ff7f,#7dff82,#7aff85,#77ff88,#74ff8b,#72ff8d,#6fff90,#6cff93,#69ff96,#66ff99,#63ff9c,#5dffa2,#4effb1,#36ffc9,#22ffdd,#27ffd8,#42ffbd,#60ff9f,#74ff8b,#80ff7f,#89ff76,#92ff6d,#9bff64,#a4ff5b,#adff52,#b5ff4a,#bdff42,#c6ff39,#ceff31,#d8ff27,#e2ff1d,#edff12,#f9ff06,#fff900,#ffed00,#ffe300,#ffdb00,#ffd600,#ffd600,#ffd900,#ffdf00,#ffe500,#ffec00,#fff300,#fff900,#ffff00,#faff05,#f5ff0a,#f0ff0f,#ecff13,#e7ff18,#e3ff1c,#dfff20,#dcff23,#d9ff26,#d7ff28,#d6ff29,#d5ff2a,#d5ff2a,#d6ff29,#d6ff29,#d6ff29,#d7ff28,#d7ff28,#d7ff28,#d7ff28,#d8ff27,#d8ff27,#d8ff27,#d8ff27,#d8ff27,#d7ff28,#d6ff29,#d3ff2c,#d1ff2e,#cfff30,#cfff30,#d1ff2e,#d7ff28,#deff21,#e8ff17,#f2ff0d,#fdff02,#fff600,#ffea00,#ffdf00,#ffd600,#ffcf00,#ffcb00,#ffca00,#ffca00,#ffcc00,#ffcd00,#ffcf00,#ffd100,#ffd300,#ffd600,#ffd900,#ffdd00,#ffe100,#ffe600,#ffeb00,#ffef00,#fff400,#fff900,#fffe00,#fbff04,#f6ff09,#f1ff0e,#ecff13,#e7ff18,#e1ff1e,#daff25,#d2ff2d,#caff35,#c0ff3f,#b7ff48,#adff52,#a4ff5b,#9dff62,#97ff68,#92ff6d,#8fff70,#8cff73,#8aff75,#87ff78,#85ff7a,#83ff7c,#81ff7e,#7fff80,#7eff81,#7cff83,#7bff84,#7bff84,#7aff85,#79ff86,#78ff87,#78ff87,#77ff88,#76ff89,#75ff8a,#75ff8a,#74ff8b,#73ff8c,#72ff8d,#72ff8d,#71ff8e,#70ff8f,#6eff91,#6cff93,#6aff95,#67ff98,#63ff9c,#5fffa0,#5bffa4,#58ffa7,#54ffab,#50ffaf,#4cffb3,#48ffb7,#44ffbb,#40ffbf,#3cffc3,#38ffc7,#35ffca,#32ffcd,#2effd1,#2bffd4,#28ffd7,#24ffdb,#20ffdf,#1bffe4,#0ffff0,#00ebff,#009fff,#0039ff,#0000e5,#0000bb,#0000af,#0000b6,#0000d3,#0008ff,#0040ff,#005dff,#005bff,#004cff,#003bff,#002cff,#0020ff,#0017ff,#0011ff,#000eff,#000dff,#000fff,#0013ff,#0019ff,#0022ff,#002dff,#0039ff,#0047ff,#0055ff,#0062ff,#006fff,#007bff,#0086ff,#008fff,#0096ff)"></div><div style="top:110px;background:linear-gradient(90deg,#51ffae,#51ffae,#51ffae,#51ffae,#50ffaf,#50ffaf,#4fffb0,#4fffb0,#4effb1,#4effb1,#4dffb2,#4dffb2,#4cffb3,#4bffb4,#4affb5,#4affb5,#49ffb6,#48ffb7,#47ffb8,#47ffb8,#46ffb9,#44ffbb,#36ffc9,#00f1ff,#0064ff,#0000e1,#0000ae,#0000b0,#0000f0,#0086ff,#21ffde,#6dff92,#84ff7b,#91ff6e,#9dff62,#a9ff56,#b5ff4a,#c0ff3f,#caff35,#d5ff2a,#dfff20,#eaff15,#f5ff0a,#fffd00,#fff100,#ffe600,#ffda00,#ffcf00,#ffc600,#ffbf00,#ffbb00,#ffb800,#ffb700,#ffb700,#ffb700,#ffb700,#ffb800,#ffb900,#ffbb00,#ffbd00,#ffbf00,#ffc100,#ffc400,#ffc600,#ffc800,#ffca00,#ffcb00,#ffcd00,#ffce00,#ffce00,#ffcf00,#ffcf00,#ffcf00,#ffcf00,#ffd000,#ffd000,#ffd000,#ffd100,#ffd100,#ffd100,#ffd200,#ffd200,#ffd400,#ffd600,#ffdb00,#ffe700,#ffff00,#d6ff29,#a1ff5e,#69ff96,#3dffc2,#27ffd8,#2cffd3,#4affb5,#78ff87,#acff53,#d7ff28,#f3ff0c,#fffc00,#fff700,#fff600,#fff600,#fff700,#fff900,#fffb00,#fffc00,#fffe00,#feff01,#fcff03,#f9ff06,#f7ff08,#f4ff0b,#f1ff0e,#eeff11,#ebff14,#e8ff17,#e5ff1a,#e2ff1d,#dfff20,#dcff23,#d8ff27,#d5ff2a,#d2ff2d,#ceff31,#caff35,#c6ff39,#c0ff3f,#baff45,#b3ff4c,#a9ff56,#98ff67,#7bff84,#53ffac,#25ffda,#00faff,#00dfff,#00d9ff,#00e7ff,#07fff8,#2dffd2,#4fffb0,#66ff99,#72ff8d,#75ff8a,#75ff8a,#74ff8b,#73ff8c,#72ff8d,#70ff8f,#6fff90,#6eff91,#6dff92,#6cff93,#6bff94,#69ff96,#68ff97,#67ff98,#66ff99,#65ff9a,#63ff9c,#62ff9d,#60ff9f,#5dffa2,#5bffa4,#58ffa7,#55ffaa,#52ffad,#4fffb0,#4cffb3,#49ffb6,#46ffb9,#43ffbc,#3fffc0,#3cffc3,#39ffc6,#36ffc9,#33ffcc,#31ffce,#2effd1,#2bffd4,#27ffd8,#23ffdc,#1effe1,#16ffe9,#00fbff,#00b0ff,#0033ff,#0000c5,#000099,#000090,#000090,#000090,#000096,#0000b0,#0000de,#0004ff,#0008ff,#0000fa,#0000eb,#0000e0,#0000d8,#0000d2,#0000d0,#0000ce,#0000ce,#0000cf,#0000d2,#0000d6,#0000dc,#0000e5,#0000f0,#0000fd,#000dff,#001dff,#002dff,#003cff,#004bff,#0058ff,#0063ff)"></div><div style="top:112px;background:linear-gradient(90deg,#47ffb8,#47ffb8,#47ffb8,#47ffb8,#47ffb8,#48ffb7,#48ffb7,#49ffb6,#49ffb6,#49ffb6,#4affb5,#4affb5,#4affb5,#4bffb4,#4bffb4,#4cffb3,#4cffb3,#4cffb3,#4dffb2,#4dffb2,#4dffb2,#4dffb2,#4affb5,#2fffd0,#00e1ff,#007eff,#0041ff,#0047ff,#0094ff,#08fff7,#61ff9e,#87ff78,#97ff68,#a4ff5b,#b1ff4e,#beff41,#caff35,#d5ff2a,#e1ff1e,#ecff13,#f7ff08,#fffd00,#fff200,#ffe700,#ffdc00,#ffd100,#ffc700,#ffbc00,#ffb300,#ffab00,#ffa500,#ff9f00,#ff9b00,#ff9700,#ff9300,#ff9000,#ff8e00,#ff8c00,#ff8c00,#ff8c00,#ff8d00,#ff8e00,#ff8f00,#ff9000,#ff9100,#ff9200,#ff9300,#ff9400,#ff9400,#ff9500,#ff9600,#ff9600,#ff9700,#ff9800,#ff9800,#ff9900,#ff9a00,#ff9a00,#ff9b00,#ff9c00,#ff9c00,#ff9e00,#ffa000,#ffa900,#ffc400,#f6ff09,#7eff81,#00e0ff,#004aff,#0000e0,#0000af,#0000a4,#0000a5,#0000bc,#0000ff,#0073ff,#00fdff,#79ff86,#c8ff37,#ebff14,#f5ff0a,#f6ff09,#f4ff0b,#f3ff0c,#f1ff0e,#efff10,#edff12,#ebff14,#e9ff16,#e7ff18,#e5ff1a,#e3ff1c,#e0ff1f,#deff21,#dcff23,#daff25,#d8ff27,#d5ff2a,#d3ff2c,#d1ff2e,#cfff30,#cdff32,#caff35,#c8ff37,#c5ff3a,#c2ff3d,#bfff40,#b8ff47,#a9ff56,#82ff7d,#37ffc8,#00c6ff,#004eff,#0000ed,#0000b7,#0000a5,#0000a4,#0000ac,#0000d1,#001dff,#0085ff,#00eeff,#3bffc4,#62ff9d,#70ff8f,#72ff8d,#71ff8e,#70ff8f,#6fff90,#6dff92,#6cff93,#6bff94,#69ff96,#68ff97,#67ff98,#65ff9a,#64ff9b,#62ff9d,#61ff9e,#60ff9f,#5effa1,#5cffa3,#5affa5,#58ffa7,#56ffa9,#53ffac,#51ffae,#4effb1,#4cffb3,#49ffb6,#47ffb8,#44ffbb,#42ffbd,#3fffc0,#3dffc2,#3affc5,#38ffc7,#35ffca,#33ffcc,#30ffcf,#2dffd2,#29ffd6,#24ffdb,#1dffe2,#0cfff3,#00daff,#0078ff,#0007ff,#0000bb,#00009e,#000097,#00009b,#0000ad,#0000d2,#0000fd,#0013ff,#000dff,#0000fc,#0000ec,#0000e0,#0000d8,#0000d3,#0000d0,#0000ce,#0000ce,#0000cf,#0000d2,#0000d6,#0000dc,#0000e5,#0000f0,#0000fd,#000cff,#001bff,#002bff,#003aff,#0048ff,#0054ff,#005fff)"></div><div style="top:114px;background:linear-gradient(90deg,#78ff87,#78ff87,#78ff87,#78ff87,#78ff87,#79ff86,#79ff86,#7aff85,#7aff85,#7bff84,#7bff84,#7cff83,#7cff83,#7cff83,#7dff82,#7dff82,#7eff81,#7eff81,#7fff80,#7fff80,#80ff7f,#80ff7f,#81ff7e,#81ff7e,#82ff7d,#84ff7b,#87ff78,#8dff72,#96ff69,#a0ff5f,#abff54,#b5ff4a,#c1ff3e,#ccff33,#d7ff28,#e2ff1d,#ecff13,#f6ff09,#fffe00,#fff400,#ffea00,#ffe100,#ffd700,#ffce00,#ffc500,#ffbb00,#ffb200,#ffaa00,#ffa200,#ff9b00,#ff9400,#ff8f00,#ff8a00,#ff8500,#ff8100,#ff7d00,#ff7a00,#ff7800,#ff7700,#ff7700,#ff7800,#ff7800,#ff7900,#ff7a00,#ff7b00,#ff7b00,#ff7c00,#ff7d00,#ff7e00,#ff7e00,#ff7f00,#ff8000,#ff8000,#ff8100,#ff8200,#ff8300,#ff8300,#ff8400,#ff8500,#ff8600,#ff8600,#ff8800,#ff8900,#ff8c00,#ff9300,#ffa100,#ffbc00,#ffea00,#d7ff28,#97ff68,#63ff9c,#48ffb7,#48ffb7,#63ff9c,#8fff70,#bfff40,#e5ff1a,#fbff04,#fffb00,#fffa00,#fffc00,#ffff00,#fdff02,#fbff04,#f8ff07,#f6ff09,#f4ff0b,#f2ff0d,#efff10,#edff12,#ebff14,#e9ff16,#e7ff18,#e4ff1b,#e2ff1d,#e0ff1f,#deff21,#dbff24,#d9ff26,#d7ff28,#d5ff2a,#d2ff2d,#d0ff2f,#ceff31,#cbff34,#c9ff36,#c5ff3a,#c1ff3e,#bcff43,#b4ff4b,#a4ff5b,#87ff78,#5effa1,#2fffd0,#04fffb,#00e7ff,#00dfff,#00edff,#0cfff3,#32ffcd,#54ffab,#6bff94,#76ff89,#79ff86,#78ff87,#77ff88,#76ff89,#75ff8a,#73ff8c,#72ff8d,#71ff8e,#6fff90,#6eff91,#6dff92,#6cff93,#6aff95,#69ff96,#68ff97,#66ff99,#65ff9a,#64ff9b,#62ff9d,#60ff9f,#5effa1,#5cffa3,#5affa5,#58ffa7,#56ffa9,#53ffac,#51ffae,#4fffb0,#4dffb2,#4bffb4,#48ffb7,#46ffb9,#44ffbb,#42ffbd,#40ffbf,#3dffc2,#3bffc4,#38ffc7,#35ffca,#31ffce,#2dffd2,#27ffd8,#1bffe4,#03fffc,#00d6ff,#009fff,#0071ff,#0059ff,#005aff,#006bff,#007fff,#0086ff,#007cff,#0069ff,#0055ff,#0042ff,#0032ff,#0025ff,#001bff,#0014ff,#0010ff,#000fff,#0010ff,#0014ff,#001aff,#0022ff,#002cff,#0037ff,#0043ff,#0050ff,#005cff,#0067ff,#0071ff,#007aff,#0082ff,#0088ff)"></div><div style="top:116px;background:linear-gradient(90deg,#bbff44,#bbff44,#bbff44,#bbff44,#bbff44,#bbff44,#bcff43,#bcff43,#bcff43,#bcff43,#bdff42,#bdff42,#bdff42,#bdff42,#beff41,#beff41,#beff41,#beff41,#bfff40,#bfff40,#bfff40,#bfff40,#c0ff3f,#c0ff3f,#c1ff3e,#c3ff3c,#c5ff3a,#caff35,#d0ff2f,#d7ff28,#e0ff1f,#e8ff17,#f1ff0e,#f9ff06,#fffc00,#fff400,#ffeb00,#ffe300,#ffdb00,#ffd300,#ffcb00,#ffc400,#ffbc00,#ffb400,#ffac00,#ffa500,#ff9e00,#ff9700,#ff9100,#ff8b00,#ff8600,#ff8100,#ff7c00,#ff7800,#ff7400,#ff7100,#ff6e00,#ff6c00,#ff6b00,#ff6b00,#ff6c00,#ff6c00,#ff6d00,#ff6e00,#ff6f00,#ff6f00,#ff7000,#ff7100,#ff7200,#ff7200,#ff7300,#ff7400,#ff7400,#ff7500,#ff7600,#ff7700,#ff7700,#ff7800,#ff7900,#ff7a00,#ff7a00,#ff7c00,#ff7d00,#ff8000,#ff8300,#ff8800,#ff8f00,#ff9600,#ff9d00,#ffa500,#ffac00,#ffb400,#ffbb00,#ffc300,#ffca00,#ffd100,#ffd800,#ffde00,#ffe300,#ffe700,#ffeb00,#ffee00,#fff100,#fff300,#fff600,#fff900,#fffb00,#fffe00,#feff01,#fbff04,#f9ff06,#f6ff09,#f3ff0c,#f1ff0e,#eeff11,#ecff13,#e9ff16,#e7ff18,#e4ff1b,#e1ff1e,#dfff20,#dcff23,#daff25,#d7ff28,#d4ff2b,#d1ff2e,#ceff31,#caff35,#c5ff3a,#c0ff3f,#bbff44,#b6ff49,#b1ff4e,#acff53,#a7ff58,#a1ff5e,#9cff63,#97ff68,#92ff6d,#8dff72,#89ff76,#85ff7a,#83ff7c,#80ff7f,#7fff80,#7dff82,#7cff83,#7bff84,#7aff85,#79ff86,#78ff87,#76ff89,#75ff8a,#74ff8b,#73ff8c,#72ff8d,#71ff8e,#70ff8f,#6eff91,#6dff92,#6cff93,#6aff95,#69ff96,#67ff98,#65ff9a,#63ff9c,#61ff9e,#60ff9f,#5effa1,#5cffa3,#5affa5,#58ffa7,#56ffa9,#54ffab,#52ffad,#50ffaf,#4effb1,#4cffb3,#4affb5,#48ffb7,#46ffb9,#44ffbb,#41ffbe,#3effc1,#3bffc4,#38ffc7,#34ffcb,#2effd1,#28ffd7,#20ffdf,#19ffe6,#14ffeb,#0ffff0,#09fff6,#01fffe,#00f6ff,#00ebff,#00dfff,#00d4ff,#00c9ff,#00bfff,#00b6ff,#00b0ff,#00aaff,#00a7ff,#00a5ff,#00a5ff,#00a6ff,#00a9ff,#00abff,#00aeff,#00b1ff,#00b4ff,#00b6ff,#00b7ff,#00b9ff,#00baff,#00bbff,#00bcff)"></div><div style="top:118px;background:linear-gradient(90deg,#faff05,#faff05,#faff05,#faff05,#faff05,#faff05,#faff05,#faff05,#faff05,#faff05,#faff05,#faff05,#faff05,#faff05,#faff05,#faff05,#faff05,#faff05,#faff05,#faff05,#faff05,#faff05,#faff05,#faff05,#fbff04,#fcff03,#feff01,#fffd00,#fff800,#fff300,#ffed00,#ffe600,#ffe000,#ffdb00,#ffd500,#ffd000,#ffc900,#ffc200,#ffbb00,#ffb400,#ffae00,#ffa800,#ffa200,#ff9c00,#ff9600,#ff9000,#ff8a00,#ff8500,#ff8000,#ff7c00,#ff7800,#ff7400,#ff7000,#ff6c00,#ff6900,#ff6600,#ff6300,#ff6200,#ff6100,#ff6100,#ff6200,#ff6300,#ff6300,#ff6400,#ff6500,#ff6600,#ff6600,#ff6700,#ff6800,#ff6900,#ff6a00,#ff6a00,#ff6b00,#ff6c00,#ff6d00,#ff6d00,#ff6e00,#ff6f00,#ff7000,#ff7100,#ff7200,#ff7300,#ff7400,#ff7700,#ff7a00,#ff7f00,#ff8400,#ff8b00,#ff9100,#ff9800,#ff9f00,#ffa600,#ffad00,#ffb400,#ffbb00,#ffc200,#ffc800,#ffce00,#ffd400,#ffd900,#ffdd00,#ffe000,#ffe400,#ffe700,#ffea00,#ffed00,#ffef00,#fff200,#fff500,#fff800,#fffb00,#fffe00,#fdff02,#faff05,#f7ff08,#f4ff0b,#f1ff0e,#efff10,#ecff13,#e9ff16,#e6ff19,#e3ff1c,#e0ff1f,#ddff22,#daff25,#d7ff28,#d3ff2c,#cfff30,#caff35,#c5ff3a,#c0ff3f,#bbff44,#b6ff49,#b1ff4e,#abff54,#a6ff59,#a1ff5e,#9cff63,#97ff68,#92ff6d,#8eff71,#8aff75,#87ff78,#85ff7a,#84ff7b,#83ff7c,#82ff7d,#81ff7e,#80ff7f,#7fff80,#7eff81,#7dff82,#7cff83,#7bff84,#7aff85,#79ff86,#78ff87,#78ff87,#77ff88,#76ff89,#75ff8a,#74ff8b,#73ff8c,#71ff8e,#70ff8f,#6fff90,#6eff91,#6cff93,#6bff94,#6aff95,#69ff96,#67ff98,#66ff99,#65ff9a,#64ff9b,#62ff9d,#61ff9e,#60ff9f,#5effa1,#5dffa2,#5bffa4,#59ffa6,#58ffa7,#56ffa9,#54ffab,#53ffac,#51ffae,#4fffb0,#4dffb2,#4bffb4,#49ffb6,#47ffb8,#45ffba,#43ffbc,#40ffbf,#3dffc2,#3affc5,#36ffc9,#32ffcd,#2dffd2,#29ffd6,#24ffdb,#20ffdf,#1cffe3,#18ffe7,#14ffeb,#11ffee,#0dfff2,#0afff5,#07fff8,#04fffb,#01fffe,#00fdff,#00faff,#00f7ff,#00f5ff,#00f3ff,#00f2ff,#00f1ff)"></div><div style="top:120px;background:linear-gradient(90deg,#ffd100,#ffd100,#ffd100,#ffd200,#ffd200,#ffd200,#ffd200,#ffd200,#ffd200,#ffd300,#ffd300,#ffd300,#ffd300,#ffd300,#ffd400,#ffd400,#ffd400,#ffd400,#ffd500,#ffd500,#ffd500,#ffd500,#ffd500,#ffd500,#ffd500,#ffd400,#ffd300,#ffd000,#ffcd00,#ffcb00,#ffd400,#fffc00,#abff54,#35ffca,#00cdff,#0096ff,#009dff,#00e2ff,#58ffa7,#d8ff27,#ffc900,#ff9c00,#ff8c00,#ff8600,#ff8200,#ff7d00,#ff7900,#ff7600,#ff7200,#ff6f00,#ff6c00,#ff6900,#ff6600,#ff6300,#ff6000,#ff5e00,#ff5c00,#ff5b00,#ff5b00,#ff5b00,#ff5c00,#ff5d00,#ff5e00,#ff5f00,#ff5f00,#ff6000,#ff6100,#ff6200,#ff6300,#ff6400,#ff6500,#ff6600,#ff6700,#ff6800,#ff6900,#ff6a00,#ff6a00,#ff6b00,#ff6c00,#ff6d00,#ff6e00,#ff7000,#ff7100,#ff7400,#ff7700,#ff7c00,#ff8100,#ff8700,#ff8e00,#ff9500,#ff9b00,#ffa200,#ffa900,#ffaf00,#ffb600,#ffbd00,#ffc300,#ffca00,#ffcf00,#ffd400,#ffd900,#ffdd00,#ffe000,#ffe400,#ffe700,#ffea00,#ffed00,#fff000,#fff400,#fff700,#fffa00,#fffd00,#fdff02,#faff05,#f7ff08,#f4ff0b,#f1ff0e,#edff12,#eaff15,#e7ff18,#e4ff1b,#e1ff1e,#ddff22,#daff25,#d7ff28,#d3ff2c,#d0ff2f,#cbff34,#c7ff38,#c2ff3d,#beff41,#b9ff46,#b4ff4b,#afff50,#aaff55,#a5ff5a,#a1ff5e,#9cff63,#97ff68,#93ff6c,#8fff70,#8bff74,#88ff77,#86ff79,#84ff7b,#81ff7e,#7eff81,#7bff84,#78ff87,#75ff8a,#73ff8c,#72ff8d,#73ff8c,#74ff8b,#77ff88,#79ff86,#7bff84,#7dff82,#7eff81,#7eff81,#7eff81,#7eff81,#7eff81,#7eff81,#7fff80,#7fff80,#7fff80,#80ff7f,#80ff7f,#81ff7e,#81ff7e,#82ff7d,#82ff7d,#82ff7d,#83ff7c,#83ff7c,#83ff7c,#83ff7c,#82ff7d,#82ff7d,#82ff7d,#81ff7e,#81ff7e,#80ff7f,#7fff80,#7fff80,#7eff81,#7eff81,#7dff82,#7dff82,#7cff83,#7cff83,#7bff84,#7aff85,#7aff85,#78ff87,#77ff88,#75ff8a,#72ff8d,#70ff8f,#6dff92,#69ff96,#66ff99,#63ff9c,#60ff9f,#5dffa2,#5affa5,#57ffa8,#54ffab,#51ffae,#4effb1,#4bffb4,#48ffb7,#45ffba,#42ffbd,#40ffbf,#3fffc0,#3effc1,#3dffc2)"></div><div style="top:122px;background:linear-gradient(90deg,#ffa400,#ffa400,#ffa400,#ffa400,#ffa500,#ffa500,#ffa500,#ffa600,#ffa600,#ffa700,#ffa700,#ffa700,#ffa800,#ffa800,#ffa900,#ffa900,#ffa900,#ffaa00,#ffaa00,#ffab00,#ffab00,#ffab00,#ffac00,#ffac00,#ffac00,#ffac00,#ffab00,#ffa900,#ffa700,#ffac00,#ffd100,#c0ff3f,#0cfff3,#0053ff,#0000dc,#0000b2,#0000b5,#0000ea,#0073ff,#3bffc4,#f2ff0d,#ffa200,#ff7c00,#ff7200,#ff6f00,#ff6c00,#ff6900,#ff6700,#ff6400,#ff6200,#ff6000,#ff5e00,#ff5c00,#ff5a00,#ff5800,#ff5700,#ff5600,#ff5600,#ff5600,#ff5700,#ff5700,#ff5800,#ff5a00,#ff5b00,#ff5c00,#ff5d00,#ff5e00,#ff5f00,#ff6000,#ff6100,#ff6200,#ff6300,#ff6500,#ff6600,#ff6700,#ff6800,#ff6900,#ff6a00,#ff6b00,#ff6c00,#ff6d00,#ff6f00,#ff7100,#ff7300,#ff7700,#ff7b00,#ff8100,#ff8700,#ff8e00,#ff9400,#ff9b00,#ffa200,#ffa800,#ffaf00,#ffb600,#ffbc00,#ffc300,#ffc900,#ffcf00,#ffd400,#ffd900,#ffdd00,#ffe100,#ffe500,#ffe800,#ffec00,#ffef00,#fff200,#fff600,#fff900,#fffd00,#feff01,#faff05,#f7ff08,#f3ff0c,#f0ff0f,#ecff13,#e9ff16,#e5ff1a,#e2ff1d,#deff21,#dbff24,#d7ff28,#d4ff2b,#d0ff2f,#cdff32,#c9ff36,#c5ff3a,#c1ff3e,#bdff42,#b8ff47,#b4ff4b,#afff50,#abff54,#a7ff58,#a2ff5d,#9eff61,#99ff66,#93ff6c,#8bff74,#7eff81,#69ff96,#48ffb7,#1affe5,#00e0ff,#00a1ff,#0065ff,#0030ff,#0008ff,#0000ec,#0000df,#0000dd,#0000e7,#0000fd,#0022ff,#0053ff,#008eff,#00cdff,#09fff6,#3affc5,#5effa1,#75ff8a,#82ff7d,#8aff75,#8eff71,#91ff6e,#94ff6b,#96ff69,#99ff66,#9bff64,#9eff61,#a0ff5f,#a3ff5c,#a5ff5a,#a7ff58,#a9ff56,#abff54,#adff52,#aeff51,#afff50,#afff50,#b0ff4f,#b1ff4e,#b1ff4e,#b2ff4d,#b3ff4c,#b3ff4c,#b4ff4b,#b4ff4b,#b5ff4a,#b6ff49,#b6ff49,#b7ff48,#b8ff47,#b8ff47,#b8ff47,#b8ff47,#b7ff48,#b5ff4a,#b3ff4c,#b1ff4e,#afff50,#adff52,#abff54,#a9ff56,#a7ff58,#a5ff5a,#a3ff5c,#a1ff5e,#9fff60,#9dff62,#9bff64,#99ff66,#97ff68,#95ff6a,#94ff6b,#93ff6c,#92ff6d,#92ff6d)"></div><div style="top:124px;background:linear-gradient(90deg,#ff7700,#ff7700,#ff7800,#ff7800,#ff7900,#ff7900,#ff7a00,#ff7a00,#ff7b00,#ff7b00,#ff7c00,#ff7d00,#ff7d00,#ff7e00,#ff7f00,#ff7f00,#ff8000,#ff8000,#ff8100,#ff8200,#ff8200,#ff8300,#ff8300,#ff8400,#ff8400,#ff8400,#ff8400,#ff8200,#ff8100,#ff7e00,#ff7d00,#ff7f00,#ff8c00,#ffa500,#ffc200,#ffd500,#ffd000,#ffb700,#ff9400,#ff7800,#ff6800,#ff6200,#ff5f00,#ff5e00,#ff5c00,#ff5b00,#ff5a00,#ff5800,#ff5700,#ff5600,#ff5500,#ff5400,#ff5300,#ff5200,#ff5100,#ff5100,#ff5000,#ff5100,#ff5100,#ff5200,#ff5300,#ff5400,#ff5600,#ff5700,#ff5800,#ff5a00,#ff5b00,#ff5c00,#ff5d00,#ff5f00,#ff6000,#ff6100,#ff6300,#ff6400,#ff6500,#ff6600,#ff6800,#ff6900,#ff6a00,#ff6c00,#ff6d00,#ff6e00,#ff7000,#ff7300,#ff7700,#ff7b00,#ff8100,#ff8700,#ff8e00,#ff9500,#ff9b00,#ffa200,#ffa900,#ffaf00,#ffb600,#ffbd00,#ffc400,#ffcb00,#ffd200,#ffda00,#ffe100,#ffe700,#ffec00,#fff000,#fff200,#fff400,#fff500,#fff700,#fffa00,#fffd00,#feff01,#faff05,#f6ff09,#f3ff0c,#efff10,#ebff14,#e8ff17,#e4ff1b,#e0ff1f,#dcff23,#d9ff26,#d5ff2a,#d1ff2e,#cdff32,#caff35,#c6ff39,#c2ff3d,#beff41,#baff45,#b7ff48,#b3ff4c,#afff50,#abff54,#a7ff58,#a3ff5c,#9fff60,#9bff64,#97ff68,#92ff6d,#8aff75,#7eff81,#69ff96,#48ffb7,#1bffe4,#00e1ff,#00a2ff,#0066ff,#0031ff,#0008ff,#0000ed,#0000df,#0000dd,#0000e7,#0000fe,#0024ff,#0056ff,#0092ff,#00d2ff,#0ffff0,#42ffbd,#67ff98,#80ff7f,#8fff70,#98ff67,#9eff61,#a3ff5c,#a8ff57,#acff53,#b1ff4e,#b6ff49,#baff45,#bfff40,#c3ff3c,#c8ff37,#ccff33,#d0ff2f,#d4ff2b,#d7ff28,#d9ff26,#dbff24,#ddff22,#dfff20,#e1ff1e,#e3ff1c,#e4ff1b,#e6ff19,#e8ff17,#eaff15,#ecff13,#edff12,#efff10,#f1ff0e,#f3ff0c,#f4ff0b,#f6ff09,#f7ff08,#f8ff07,#f8ff07,#f8ff07,#f7ff08,#f6ff09,#f5ff0a,#f4ff0b,#f3ff0c,#f2ff0d,#f1ff0e,#f0ff0f,#efff10,#eeff11,#edff12,#ebff14,#eaff15,#e9ff16,#e8ff17,#e8ff17,#e7ff18,#e6ff19,#e6ff19,#e6ff19)"></div><div style="top:126px;background:linear-gradient(90deg,#ff5500,#ff5500,#ff5500,#ff5600,#ff5600,#ff5700,#ff5800,#ff5800,#ff5900,#ff5a00,#ff5b00,#ff5c00,#ff5c00,#ff5d00,#ff5e00,#ff5f00,#ff5f00,#ff6000,#ff6100,#ff6200,#ff6200,#ff6300,#ff6400,#ff6500,#ff6500,#ff6500,#ff6500,#ff6400,#ff6300,#ff6100,#ff5f00,#ff5d00,#ff5b00,#ff5900,#ff5700,#ff5500,#ff5300,#ff5200,#ff5100,#ff5000,#ff5000,#ff4f00,#ff4f00,#ff4f00,#ff4f00,#ff4e00,#ff4e00,#ff4e00,#ff4e00,#ff4d00,#ff4d00,#ff4d00,#ff4d00,#ff4d00,#ff4d00,#ff4d00,#ff4d00,#ff4e00,#ff4f00,#ff5000,#ff5100,#ff5300,#ff5400,#ff5600,#ff5700,#ff5900,#ff5a00,#ff5c00,#ff5d00,#ff5f00,#ff6000,#ff6200,#ff6300,#ff6400,#ff6600,#ff6700,#ff6900,#ff6a00,#ff6c00,#ff6d00,#ff6f00,#ff7100,#ff7300,#ff7600,#ff7900,#ff7e00,#ff8400,#ff8a00,#ff9100,#ff9700,#ff9e00,#ffa500,#ffac00,#ffb500,#ffc400,#ffde00,#f5ff0a,#b8ff47,#6fff90,#24ffdb,#00e2ff,#00b6ff,#00a1ff,#00a5ff,#00c1ff,#00f0ff,#21ffde,#38ffc7,#2bffd4,#13ffec,#15ffea,#3fffc0,#84ff7b,#c1ff3e,#dfff20,#e5ff1a,#e3ff1c,#dfff20,#dbff24,#d7ff28,#d3ff2c,#d0ff2f,#ccff33,#c8ff37,#c4ff3b,#c0ff3f,#bdff42,#b9ff46,#b5ff4a,#b2ff4d,#aeff51,#abff54,#a7ff58,#a4ff5b,#a0ff5f,#9dff62,#99ff66,#96ff69,#93ff6c,#90ff6f,#8dff72,#8bff74,#8aff75,#89ff76,#88ff77,#87ff78,#86ff79,#84ff7b,#82ff7d,#80ff7f,#80ff7f,#80ff7f,#82ff7d,#86ff79,#89ff76,#8dff72,#91ff6e,#94ff6b,#97ff68,#99ff66,#9cff63,#9fff60,#a3ff5c,#a8ff57,#aeff51,#b4ff4b,#baff45,#c1ff3e,#c7ff38,#ceff31,#d4ff2b,#dbff24,#e1ff1e,#e7ff18,#edff12,#f3ff0c,#f8ff07,#fcff03,#ffff00,#fffc00,#fff900,#fff600,#fff400,#fff100,#ffef00,#ffec00,#ffea00,#ffe700,#ffe400,#ffe200,#ffdf00,#ffdd00,#ffda00,#ffd800,#ffd600,#ffd400,#ffd200,#ffd100,#ffd100,#ffd100,#ffd100,#ffd100,#ffd100,#ffd100,#ffd200,#ffd200,#ffd200,#ffd200,#ffd300,#ffd300,#ffd300,#ffd300,#ffd300,#ffd400,#ffd400,#ffd400,#ffd400,#ffd400,#ffd400)"></div><div style="top:128px;background:linear-gradient(90deg,#ff4a00,#ff4a00,#ff4b00,#ff4b00,#ff4c00,#ff4d00,#ff4d00,#ff4e00,#ff4f00,#ff5000,#ff5100,#ff5100,#ff5200,#ff5300,#ff5400,#ff5500,#ff5500,#ff5600,#ff5700,#ff5800,#ff5900,#ff5a00,#ff5a00,#ff5b00,#ff5c00,#ff5c00,#ff5c00,#ff5b00,#ff5a00,#ff5900,#ff5700,#ff5500,#ff5300,#ff5100,#ff4f00,#ff4d00,#ff4c00,#ff4b00,#ff4b00,#ff4b00,#ff4b00,#ff4b00,#ff4b00,#ff4c00,#ff4c00,#ff4c00,#ff4c00,#ff4d00,#ff4d00,#ff4d00,#ff4d00,#ff4e00,#ff4e00,#ff4e00,#ff4f00,#ff4f00,#ff5000,#ff5100,#ff5200,#ff5400,#ff5500,#ff5700,#ff5900,#ff5a00,#ff5c00,#ff5e00,#ff5f00,#ff6100,#ff6300,#ff6400,#ff6600,#ff6800,#ff6900,#ff6b00,#ff6d00,#ff6e00,#ff7000,#ff7200,#ff7300,#ff7500,#ff7700,#ff7900,#ff7b00,#ff7e00,#ff8200,#ff8700,#ff8d00,#ff9300,#ff9900,#ffa000,#ffa700,#ffae00,#ffb800,#ffcb00,#fff100,#c8ff37,#61ff9e,#00e2ff,#0066ff,#0003ff,#0000c5,#0000a9,#0000a4,#0000a5,#0000b2,#0000d6,#0001ff,#0000fe,#0000cd,#0000a8,#0000a4,#0000bd,#002cff,#00e5ff,#87ff78,#cfff30,#ddff22,#dbff24,#d7ff28,#d4ff2b,#d0ff2f,#cdff32,#c9ff36,#c5ff3a,#c2ff3d,#beff41,#bbff44,#b7ff48,#b4ff4b,#b0ff4f,#adff52,#aaff55,#a6ff59,#a3ff5c,#a0ff5f,#9cff63,#99ff66,#96ff69,#92ff6d,#8fff70,#8dff72,#8bff74,#8bff74,#8bff74,#8cff73,#8dff72,#8eff71,#90ff6f,#91ff6e,#93ff6c,#94ff6b,#96ff69,#97ff68,#98ff67,#9aff65,#9bff64,#9dff62,#9eff61,#a0ff5f,#a2ff5d,#a5ff5a,#a8ff57,#adff52,#b4ff4b,#bbff44,#c2ff3d,#c9ff36,#d1ff2e,#d9ff26,#e0ff1f,#e8ff17,#f0ff0f,#f7ff08,#ffff00,#fff800,#fff200,#ffec00,#ffe800,#ffe400,#ffe100,#ffdf00,#ffdc00,#ffda00,#ffd800,#ffd500,#ffd300,#ffd100,#ffcf00,#ffcc00,#ffca00,#ffc800,#ffc600,#ffc300,#ffc100,#ffbf00,#ffbd00,#ffbc00,#ffbb00,#ffba00,#ffba00,#ffba00,#ffb900,#ffb900,#ffb900,#ffb900,#ffb900,#ffb900,#ffb900,#ffb800,#ffb800,#ffb800,#ffb800,#ffb800,#ffb800,#ffb800,#ffb800,#ffb800,#ffb800,#ffb700)"></div><div style="top:130px;background:linear-gradient(90deg,#ff4a00,#ff4a00,#ff4b00,#ff4b00,#ff4c00,#ff4c00,#ff4d00,#ff4e00,#ff4f00,#ff5000,#ff5000,#ff5100,#ff5200,#ff5300,#ff5400,#ff5500,#ff5500,#ff5600,#ff5700,#ff5800,#ff5900,#ff5900,#ff5a00,#ff5b00,#ff5c00,#ff5c00,#ff5c00,#ff5b00,#ff5a00,#ff5800,#ff5700,#ff5500,#ff5300,#ff5100,#ff4f00,#ff4d00,#ff4c00,#ff4c00,#ff4b00,#ff4c00,#ff4c00,#ff4d00,#ff4d00,#ff4e00,#ff4e00,#ff4f00,#ff4f00,#ff5000,#ff5100,#ff5100,#ff5200,#ff5200,#ff5300,#ff5300,#ff5400,#ff5500,#ff5600,#ff5700,#ff5900,#ff5a00,#ff5c00,#ff5e00,#ff6000,#ff6200,#ff6400,#ff6600,#ff6700,#ff6900,#ff6b00,#ff6d00,#ff6f00,#ff7100,#ff7300,#ff7500,#ff7600,#ff7800,#ff7a00,#ff7c00,#ff7e00,#ff8000,#ff8200,#ff8400,#ff8600,#ff8a00,#ff8d00,#ff9200,#ff9800,#ff9e00,#ffa500,#ffac00,#ffb200,#ffb900,#ffc000,#ffca00,#ffd800,#fff200,#e3ff1c,#a8ff57,#61ff9e,#18ffe7,#00d9ff,#00aeff,#009aff,#009eff,#00baff,#00e7ff,#18ffe7,#2fffd0,#22ffdd,#0bfff4,#0dfff2,#37ffc8,#7bff84,#b7ff48,#d5ff2a,#dcff23,#daff25,#d7ff28,#d4ff2b,#d1ff2e,#ceff31,#caff35,#c7ff38,#c4ff3b,#c1ff3e,#beff41,#baff45,#b7ff48,#b4ff4b,#b1ff4e,#adff52,#aaff55,#a7ff58,#a3ff5c,#a0ff5f,#9dff62,#99ff66,#96ff69,#93ff6c,#90ff6f,#8eff71,#8cff73,#8cff73,#8cff73,#8eff71,#8fff70,#91ff6e,#93ff6c,#95ff6a,#96ff69,#98ff67,#9aff65,#9cff63,#9eff61,#a0ff5f,#a2ff5d,#a4ff5b,#a5ff5a,#a8ff57,#aaff55,#adff52,#b2ff4d,#b7ff48,#beff41,#c6ff39,#ceff31,#d7ff28,#e0ff1f,#e8ff17,#f1ff0e,#f9ff06,#fffc00,#fff400,#ffeb00,#ffe300,#ffdc00,#ffd600,#ffd200,#ffce00,#ffcc00,#ffca00,#ffc800,#ffc700,#ffc500,#ffc400,#ffc200,#ffc000,#ffbf00,#ffbd00,#ffbc00,#ffba00,#ffb900,#ffb700,#ffb500,#ffb400,#ffb300,#ffb200,#ffb100,#ffb000,#ffb000,#ffaf00,#ffaf00,#ffaf00,#ffae00,#ffae00,#ffae00,#ffae00,#ffad00,#ffad00,#ffad00,#ffac00,#ffac00,#ffac00,#ffac00,#ffab00,#ffab00,#ffab00,#ffab00,#ffab00)"></div><div style="top:132px;background:linear-gradient(90deg,#ff5300,#ff5300,#ff5400,#ff5400,#ff5500,#ff5500,#ff5600,#ff5700,#ff5800,#ff5800,#ff5900,#ff5a00,#ff5b00,#ff5b00,#ff5c00,#ff5d00,#ff5e00,#ff5f00,#ff5f00,#ff6000,#ff6100,#ff6200,#ff6200,#ff6300,#ff6400,#ff6400,#ff6400,#ff6300,#ff6200,#ff6100,#ff5f00,#ff5d00,#ff5c00,#ff5a00,#ff5800,#ff5700,#ff5600,#ff5500,#ff5500,#ff5600,#ff5600,#ff5700,#ff5800,#ff5900,#ff5900,#ff5a00,#ff5b00,#ff5c00,#ff5d00,#ff5d00,#ff5e00,#ff5f00,#ff6000,#ff6100,#ff6200,#ff6300,#ff6400,#ff6500,#ff6700,#ff6900,#ff6b00,#ff6d00,#ff6f00,#ff7100,#ff7300,#ff7500,#ff7700,#ff7900,#ff7b00,#ff7d00,#ff7f00,#ff8100,#ff8300,#ff8500,#ff8700,#ff8900,#ff8b00,#ff8d00,#ff8f00,#ff9100,#ff9300,#ff9500,#ff9800,#ff9b00,#ff9f00,#ffa400,#ffa900,#ffaf00,#ffb500,#ffbc00,#ffc200,#ffc900,#ffcf00,#ffd500,#ffdc00,#ffe200,#ffe900,#fff000,#fff700,#fffd00,#fbff04,#f5ff0a,#f2ff0d,#efff10,#eeff11,#eeff11,#edff12,#ecff13,#ebff14,#e9ff16,#e7ff18,#e4ff1b,#e2ff1d,#dfff20,#ddff22,#daff25,#d7ff28,#d5ff2a,#d2ff2d,#d0ff2f,#cdff32,#cbff34,#c8ff37,#c6ff39,#c3ff3c,#c0ff3f,#beff41,#bbff44,#b8ff47,#b5ff4a,#b2ff4d,#aeff51,#abff54,#a8ff57,#a5ff5a,#a2ff5d,#9fff60,#9cff63,#99ff66,#96ff69,#94ff6b,#93ff6c,#93ff6c,#94ff6b,#95ff6a,#97ff68,#99ff66,#9bff64,#9eff61,#a0ff5f,#a2ff5d,#a4ff5b,#a6ff59,#a8ff57,#aaff55,#adff52,#afff50,#b1ff4e,#b4ff4b,#b6ff49,#baff45,#bfff40,#c5ff3a,#cdff32,#d5ff2a,#deff21,#e7ff18,#f0ff0f,#f9ff06,#fffb00,#fff200,#ffe900,#ffe000,#ffd700,#ffcf00,#ffc700,#ffc100,#ffbd00,#ffba00,#ffb800,#ffb600,#ffb500,#ffb400,#ffb300,#ffb200,#ffb200,#ffb100,#ffb000,#ffaf00,#ffae00,#ffad00,#ffac00,#ffab00,#ffaa00,#ffa900,#ffa800,#ffa700,#ffa700,#ffa600,#ffa600,#ffa500,#ffa500,#ffa400,#ffa400,#ffa400,#ffa300,#ffa300,#ffa200,#ffa200,#ffa100,#ffa100,#ffa100,#ffa000,#ffa000,#ffa000,#ff9f00,#ff9f00,#ff9f00,#ff9f00)"></div><div style="top:134px;background:linear-gradient(90deg,#ff7700,#ff7700,#ff7800,#ff7800,#ff7800,#ff7900,#ff7a00,#ff7a00,#ff7b00,#ff7b00,#ff7c00,#ff7d00,#ff7d00,#ff7e00,#ff7e00,#ff7f00,#ff8000,#ff8000,#ff8100,#ff8100,#ff8200,#ff8300,#ff8300,#ff8400,#ff8400,#ff8500,#ff8500,#ff8400,#ff8300,#ff8200,#ff8100,#ff8000,#ff7f00,#ff7d00,#ff7c00,#ff7b00,#ff7b00,#ff7a00,#ff7b00,#ff7b00,#ff7c00,#ff7d00,#ff7e00,#ff7f00,#ff7f00,#ff8000,#ff8100,#ff8200,#ff8300,#ff8400,#ff8500,#ff8600,#ff8700,#ff8700,#ff8800,#ff8900,#ff8b00,#ff8c00,#ff8e00,#ff8f00,#ff9100,#ff9300,#ff9500,#ff9700,#ff9900,#ff9b00,#ff9d00,#ff9f00,#ffa100,#ffa300,#ffa400,#ffa600,#ffa800,#ffaa00,#ffac00,#ffae00,#ffb000,#ffb200,#ffb400,#ffb600,#ffb800,#ffba00,#ffbc00,#ffbf00,#ffc200,#ffc600,#ffcb00,#ffd000,#ffd500,#ffda00,#ffe000,#ffe500,#ffea00,#fff000,#fff500,#fffa00,#ffff00,#faff05,#f6ff09,#f2ff0d,#efff10,#edff12,#ecff13,#eaff15,#e9ff16,#e7ff18,#e6ff19,#e5ff1a,#e4ff1b,#e2ff1d,#e1ff1e,#e0ff1f,#deff21,#ddff22,#dcff23,#daff25,#d9ff26,#d8ff27,#d6ff29,#d5ff2a,#d4ff2b,#d2ff2d,#d1ff2e,#d0ff2f,#ceff31,#cdff32,#cbff34,#c9ff36,#c7ff38,#c5ff3a,#c3ff3c,#c1ff3e,#bfff40,#bcff43,#baff45,#b8ff47,#b6ff49,#b4ff4b,#b2ff4d,#b0ff4f,#aeff51,#aeff51,#aeff51,#aeff51,#adff52,#a9ff56,#a0ff5f,#91ff6e,#79ff86,#5dffa2,#3effc1,#21ffde,#0bfff4,#00feff,#00fdff,#0afff5,#20ffdf,#3fffc0,#63ff9c,#86ff79,#a5ff5a,#bfff40,#d2ff2d,#e1ff1e,#ecff13,#f6ff09,#ffff00,#fff600,#ffed00,#ffe500,#ffdc00,#ffd300,#ffcb00,#ffc200,#ffba00,#ffb300,#ffad00,#ffa900,#ffa700,#ffa500,#ffa400,#ffa400,#ffa300,#ffa200,#ffa200,#ffa100,#ffa100,#ffa000,#ff9f00,#ff9f00,#ff9e00,#ff9e00,#ff9d00,#ff9c00,#ff9c00,#ff9b00,#ff9b00,#ff9a00,#ff9a00,#ff9900,#ff9900,#ff9800,#ff9800,#ff9700,#ff9700,#ff9600,#ff9600,#ff9500,#ff9500,#ff9400,#ff9400,#ff9300,#ff9300,#ff9200,#ff9200,#ff9200,#ff9100,#ff9100,#ff9100)"></div><div style="top:136px;background:linear-gradient(90deg,#ffb700,#ffb700,#ffb700,#ffb700,#ffb700,#ffb800,#ffb800,#ffb800,#ffb900,#ffb900,#ffb900,#ffba00,#ffba00,#ffba00,#ffbb00,#ffbb00,#ffbb00,#ffbc00,#ffbc00,#ffbd00,#ffbd00,#ffbd00,#ffbe00,#ffbe00,#ffbe00,#ffbe00,#ffbe00,#ffbe00,#ffbe00,#ffbe00,#ffbe00,#ffbd00,#ffbd00,#ffbd00,#ffbc00,#ffbc00,#ffbc00,#ffbc00,#ffbd00,#ffbd00,#ffbe00,#ffbf00,#ffc000,#ffc100,#ffc100,#ffc200,#ffc300,#ffc400,#ffc500,#ffc600,#ffc600,#ffc700,#ffc800,#ffc900,#ffca00,#ffcb00,#ffcc00,#ffcd00,#ffce00,#ffd000,#ffd100,#ffd300,#ffd400,#ffd600,#ffd800,#ffd900,#ffdb00,#ffdc00,#ffde00,#ffe000,#ffe100,#ffe300,#ffe400,#ffe600,#ffe700,#ffe900,#ffeb00,#ffec00,#ffee00,#ffef00,#fff100,#fff300,#fff500,#fff700,#fff900,#fffc00,#ffff00,#fcff03,#f9ff06,#f5ff0a,#f2ff0d,#efff10,#ebff14,#e8ff17,#e5ff1a,#e2ff1d,#dfff20,#dcff23,#daff25,#d8ff27,#d7ff28,#d7ff28,#d7ff28,#d8ff27,#d8ff27,#d9ff26,#d9ff26,#daff25,#daff25,#dbff24,#dbff24,#dcff23,#dcff23,#ddff22,#ddff22,#deff21,#deff21,#dfff20,#dfff20,#e0ff1f,#e1ff1e,#e1ff1e,#e2ff1d,#e2ff1d,#e3ff1c,#e3ff1c,#e3ff1c,#e3ff1c,#e2ff1d,#e2ff1d,#e1ff1e,#e1ff1e,#e0ff1f,#dfff20,#dfff20,#deff21,#ddff22,#ddff22,#dcff23,#dcff23,#dbff24,#daff25,#d7ff28,#cdff32,#b6ff49,#8bff74,#48ffb7,#00f0ff,#0091ff,#0038ff,#0000f0,#0000c2,#0000ab,#0000a4,#0000a4,#0000a8,#0000ba,#0000e1,#0024ff,#007cff,#00e1ff,#44ffbb,#97ff68,#d3ff2c,#f9ff06,#ffee00,#ffe100,#ffd800,#ffd000,#ffc900,#ffc200,#ffbb00,#ffb300,#ffac00,#ffa600,#ffa000,#ff9b00,#ff9800,#ff9600,#ff9500,#ff9400,#ff9300,#ff9300,#ff9200,#ff9200,#ff9100,#ff9100,#ff9000,#ff9000,#ff8f00,#ff8f00,#ff8e00,#ff8e00,#ff8d00,#ff8d00,#ff8c00,#ff8b00,#ff8b00,#ff8a00,#ff8a00,#ff8900,#ff8900,#ff8800,#ff8800,#ff8700,#ff8700,#ff8600,#ff8600,#ff8500,#ff8500,#ff8400,#ff8400,#ff8300,#ff8300,#ff8200,#ff8200,#ff8200,#ff8200,#ff8200)"></div><div style="top:138px;background:linear-gradient(90deg,#fbff04,#faff05,#faff05,#faff05,#faff05,#faff05,#f9ff06,#f9ff06,#f9ff06,#f9ff06,#f8ff07,#f8ff07,#f8ff07,#f7ff08,#f7ff08,#f7ff08,#f7ff08,#f6ff09,#f6ff09,#f6ff09,#f5ff0a,#f5ff0a,#f5ff0a,#f5ff0a,#f4ff0b,#f4ff0b,#f3ff0c,#f3ff0c,#f2ff0d,#f2ff0d,#f1ff0e,#f0ff0f,#efff10,#eeff11,#eeff11,#edff12,#ecff13,#ebff14,#eaff15,#e9ff16,#e8ff17,#e7ff18,#e6ff19,#e5ff1a,#e4ff1b,#e2ff1d,#e1ff1e,#e0ff1f,#dfff20,#deff21,#ddff22,#dcff23,#dbff24,#dbff24,#daff25,#d9ff26,#d8ff27,#d7ff28,#d6ff29,#d5ff2a,#d4ff2b,#d3ff2c,#d2ff2d,#d0ff2f,#cfff30,#ceff31,#cdff32,#ccff33,#caff35,#c9ff36,#c8ff37,#c7ff38,#c6ff39,#c4ff3b,#c3ff3c,#c2ff3d,#c1ff3e,#c0ff3f,#bfff40,#bdff42,#bcff43,#bbff44,#baff45,#b8ff47,#b7ff48,#b6ff49,#b4ff4b,#b3ff4c,#b2ff4d,#b1ff4e,#b1ff4e,#b1ff4e,#b1ff4e,#b2ff4d,#b2ff4d,#b2ff4d,#b3ff4c,#b4ff4b,#b5ff4a,#b6ff49,#b8ff47,#baff45,#bdff42,#bfff40,#c2ff3d,#c5ff3a,#c7ff38,#caff35,#ccff33,#cfff30,#d2ff2d,#d4ff2b,#d7ff28,#daff25,#dcff23,#dfff20,#e1ff1e,#e4ff1b,#e7ff18,#e9ff16,#ecff13,#efff10,#f1ff0e,#f4ff0b,#f6ff09,#f9ff06,#faff05,#fcff03,#fdff02,#ffff00,#ffff00,#fffe00,#fffd00,#fffc00,#fffb00,#fffa00,#fff900,#fff900,#fff800,#fff700,#fff600,#fff500,#fff400,#fff400,#fff500,#fffb00,#f8ff07,#e5ff1a,#c9ff36,#a6ff59,#81ff7e,#5fffa0,#44ffbb,#36ffc9,#34ffcb,#41ffbe,#5bffa4,#7eff81,#a5ff5a,#cdff32,#efff10,#fff400,#ffe100,#ffd400,#ffcb00,#ffc400,#ffbe00,#ffb900,#ffb300,#ffae00,#ffa800,#ffa300,#ff9d00,#ff9800,#ff9300,#ff8f00,#ff8b00,#ff8900,#ff8700,#ff8600,#ff8500,#ff8400,#ff8400,#ff8300,#ff8300,#ff8200,#ff8200,#ff8100,#ff8100,#ff8000,#ff8000,#ff7f00,#ff7f00,#ff7e00,#ff7e00,#ff7d00,#ff7c00,#ff7c00,#ff7b00,#ff7b00,#ff7a00,#ff7a00,#ff7900,#ff7900,#ff7800,#ff7800,#ff7700,#ff7700,#ff7600,#ff7600,#ff7500,#ff7500,#ff7400,#ff7400,#ff7300,#ff7300,#ff7200,#ff7200,#ff7200)"></div><div style="top:140px;background:linear-gradient(90deg,#a2ff5d,#a2ff5d,#a1ff5e,#a1ff5e,#a0ff5f,#9fff60,#9fff60,#9eff61,#9dff62,#9cff63,#9bff64,#9aff65,#9aff65,#99ff66,#98ff67,#97ff68,#96ff69,#95ff6a,#95ff6a,#94ff6b,#93ff6c,#92ff6d,#91ff6e,#90ff6f,#8fff70,#8eff71,#8dff72,#8bff74,#8aff75,#88ff77,#86ff79,#83ff7c,#81ff7e,#7fff80,#7dff82,#7bff84,#78ff87,#76ff89,#74ff8b,#72ff8d,#70ff8f,#6dff92,#6bff94,#69ff96,#67ff98,#64ff9b,#62ff9d,#60ff9f,#5dffa2,#5bffa4,#59ffa6,#57ffa8,#55ffaa,#53ffac,#51ffae,#4fffb0,#4dffb2,#4bffb4,#48ffb7,#45ffba,#42ffbd,#3fffc0,#3bffc4,#38ffc7,#34ffcb,#31ffce,#2effd1,#2bffd4,#29ffd6,#27ffd8,#25ffda,#24ffdb,#24ffdb,#23ffdc,#24ffdb,#24ffdb,#25ffda,#27ffd8,#28ffd7,#2affd5,#2cffd3,#2effd1,#30ffcf,#31ffce,#33ffcc,#34ffcb,#36ffc9,#38ffc7,#3affc5,#3effc1,#44ffbb,#4bffb4,#52ffad,#5affa5,#62ff9d,#6aff95,#71ff8e,#79ff86,#80ff7f,#86ff79,#8cff73,#92ff6d,#97ff68,#9cff63,#a1ff5e,#a6ff59,#aaff55,#afff50,#b4ff4b,#b9ff46,#beff41,#c3ff3c,#c8ff37,#cdff32,#d1ff2e,#d6ff29,#dbff24,#e0ff1f,#e5ff1a,#eaff15,#efff10,#f4ff0b,#f9ff06,#fdff02,#fffc00,#fff800,#fff400,#fff100,#ffee00,#ffec00,#ffea00,#ffe900,#ffe700,#ffe500,#ffe400,#ffe200,#ffe000,#ffde00,#ffdd00,#ffdb00,#ffd900,#ffd800,#ffd600,#ffd400,#ffd200,#ffd100,#ffcf00,#ffcd00,#ffcb00,#ffca00,#ffc800,#ffc600,#ffc500,#ffc300,#ffc100,#ffbf00,#ffbe00,#ffbc00,#ffba00,#ffb800,#ffb600,#ffb300,#ffb000,#ffad00,#ffa900,#ffa600,#ffa200,#ff9e00,#ff9a00,#ff9600,#ff9300,#ff8f00,#ff8b00,#ff8700,#ff8400,#ff8100,#ff7e00,#ff7c00,#ff7b00,#ff7a00,#ff7900,#ff7800,#ff7800,#ff7700,#ff7700,#ff7600,#ff7500,#ff7500,#ff7400,#ff7400,#ff7300,#ff7300,#ff7200,#ff7100,#ff7100,#ff7000,#ff7000,#ff6f00,#ff6e00,#ff6e00,#ff6d00,#ff6d00,#ff6c00,#ff6b00,#ff6b00,#ff6a00,#ff6a00,#ff6900,#ff6900,#ff6800,#ff6700,#ff6700,#ff6600,#ff6600,#ff6500,#ff6500,#ff6400,#ff6400,#ff6400)"></div><div style="top:142px;background:linear-gradient(90deg,#47ffb8,#47ffb8,#46ffb9,#45ffba,#44ffbb,#42ffbd,#41ffbe,#3fffc0,#3effc1,#3cffc3,#3affc5,#39ffc6,#37ffc8,#35ffca,#34ffcb,#32ffcd,#30ffcf,#2fffd0,#2dffd2,#2bffd4,#2affd5,#28ffd7,#27ffd8,#25ffda,#23ffdc,#21ffde,#1fffe0,#1cffe3,#19ffe6,#16ffe9,#12ffed,#0efff1,#0bfff4,#07fff8,#03fffc,#00ffff,#00fbff,#00f7ff,#00f4ff,#00f0ff,#00ecff,#00e8ff,#00e4ff,#00e0ff,#00dcff,#00d7ff,#00d2ff,#00ccff,#00c6ff,#00bfff,#00b7ff,#00afff,#00a7ff,#009eff,#0094ff,#008aff,#007fff,#0073ff,#0067ff,#005bff,#004fff,#0043ff,#0038ff,#002dff,#0024ff,#001cff,#0014ff,#000eff,#000aff,#0006ff,#0004ff,#0003ff,#0003ff,#0004ff,#0006ff,#000aff,#000fff,#0015ff,#001cff,#0025ff,#002eff,#0038ff,#0042ff,#004dff,#0059ff,#0064ff,#0070ff,#007cff,#0089ff,#0098ff,#00a9ff,#00bdff,#00d1ff,#00e6ff,#00faff,#0ffff0,#21ffde,#33ffcc,#42ffbd,#50ffaf,#5bffa4,#64ff9b,#6dff92,#74ff8b,#7cff83,#83ff7c,#8aff75,#91ff6e,#99ff66,#a0ff5f,#a7ff58,#aeff51,#b5ff4a,#bcff43,#c4ff3b,#cbff34,#d2ff2d,#d9ff26,#e0ff1f,#e7ff18,#efff10,#f6ff09,#fdff02,#fffa00,#fff400,#ffed00,#ffe800,#ffe400,#ffe000,#ffdd00,#ffdb00,#ffd800,#ffd600,#ffd400,#ffd100,#ffcf00,#ffcd00,#ffca00,#ffc800,#ffc600,#ffc400,#ffc100,#ffbf00,#ffbd00,#ffba00,#ffb800,#ffb600,#ffb400,#ffb100,#ffaf00,#ffad00,#ffaa00,#ffa800,#ffa600,#ffa400,#ffa100,#ff9f00,#ff9d00,#ff9a00,#ff9800,#ff9600,#ff9400,#ff9100,#ff8f00,#ff8d00,#ff8a00,#ff8800,#ff8600,#ff8300,#ff8100,#ff7f00,#ff7d00,#ff7a00,#ff7800,#ff7600,#ff7400,#ff7200,#ff7100,#ff7000,#ff6f00,#ff6e00,#ff6e00,#ff6d00,#ff6c00,#ff6c00,#ff6b00,#ff6a00,#ff6a00,#ff6900,#ff6800,#ff6800,#ff6700,#ff6600,#ff6600,#ff6500,#ff6400,#ff6400,#ff6300,#ff6200,#ff6200,#ff6100,#ff6000,#ff6000,#ff5f00,#ff5e00,#ff5e00,#ff5d00,#ff5c00,#ff5c00,#ff5b00,#ff5a00,#ff5a00,#ff5900,#ff5800,#ff5800,#ff5700,#ff5700,#ff5700,#ff5700)"></div><div style="top:144px;background:linear-gradient(90deg,#15ffea,#15ffea,#14ffeb,#12ffed,#10ffef,#0efff1,#0cfff3,#09fff6,#07fff8,#04fffb,#02fffd,#00feff,#00fcff,#00f9ff,#00f7ff,#00f5ff,#00f2ff,#00f0ff,#00edff,#00ebff,#00e8ff,#00e6ff,#00e3ff,#00e1ff,#00deff,#00dbff,#00d8ff,#00d5ff,#00d1ff,#00ccff,#00c8ff,#00c3ff,#00beff,#00baff,#00b5ff,#00b0ff,#00acff,#00a7ff,#00a2ff,#009dff,#0098ff,#0093ff,#008eff,#0088ff,#0082ff,#007cff,#0074ff,#006cff,#0064ff,#005aff,#0051ff,#0046ff,#003cff,#0032ff,#0027ff,#001dff,#0012ff,#0007ff,#0000fb,#0000f1,#0000e8,#0000e0,#0000d8,#0000d2,#0000cd,#0000c9,#0000c6,#0000c4,#0000c3,#0000c2,#0000c2,#0000c2,#0000c2,#0000c2,#0000c2,#0000c3,#0000c5,#0000c7,#0000ca,#0000ce,#0000d4,#0000da,#0000e2,#0000ea,#0000f4,#0000fe,#000aff,#0016ff,#0024ff,#0035ff,#0049ff,#0061ff,#007bff,#0096ff,#00b2ff,#00ceff,#00e8ff,#02fffd,#18ffe7,#2bffd4,#3bffc4,#48ffb7,#53ffac,#5dffa2,#67ff98,#70ff8f,#79ff86,#82ff7d,#8bff74,#94ff6b,#9dff62,#a5ff5a,#aeff51,#b7ff48,#c0ff3f,#c9ff36,#d1ff2e,#daff25,#e3ff1c,#ecff13,#f5ff0a,#feff01,#fff800,#ffef00,#ffe700,#ffdf00,#ffd900,#ffd300,#ffcf00,#ffcc00,#ffc900,#ffc600,#ffc300,#ffc100,#ffbe00,#ffbb00,#ffb900,#ffb600,#ffb300,#ffb100,#ffae00,#ffac00,#ffa900,#ffa600,#ffa400,#ffa100,#ff9e00,#ff9c00,#ff9900,#ff9600,#ff9400,#ff9100,#ff8f00,#ff8c00,#ff8900,#ff8700,#ff8400,#ff8100,#ff7f00,#ff7c00,#ff7a00,#ff7800,#ff7600,#ff7500,#ff7300,#ff7200,#ff7100,#ff7000,#ff6f00,#ff6e00,#ff6d00,#ff6c00,#ff6a00,#ff6900,#ff6800,#ff6700,#ff6600,#ff6500,#ff6500,#ff6400,#ff6300,#ff6200,#ff6200,#ff6100,#ff6000,#ff6000,#ff5f00,#ff5e00,#ff5e00,#ff5d00,#ff5c00,#ff5b00,#ff5b00,#ff5a00,#ff5900,#ff5900,#ff5800,#ff5700,#ff5600,#ff5600,#ff5500,#ff5400,#ff5400,#ff5300,#ff5200,#ff5200,#ff5100,#ff5000,#ff4f00,#ff4f00,#ff4e00,#ff4d00,#ff4d00,#ff4c00,#ff4b00,#ff4b00,#ff4b00,#ff4a00,#ff4a00)"></div><div style="top:146px;background:linear-gradient(90deg,#47ffb8,#46ffb9,#45ffba,#43ffbc,#40ffbf,#3dffc2,#3affc5,#37ffc8,#34ffcb,#30ffcf,#2dffd2,#2affd5,#27ffd8,#23ffdc,#20ffdf,#1dffe2,#19ffe6,#16ffe9,#13ffec,#10ffef,#0cfff3,#09fff6,#06fff9,#02fffd,#00feff,#00fbff,#00f7ff,#00f3ff,#00efff,#00ebff,#00e6ff,#00e2ff,#00ddff,#00d9ff,#00d5ff,#00d0ff,#00ccff,#00c7ff,#00c3ff,#00beff,#00baff,#00b5ff,#00b1ff,#00acff,#00a7ff,#00a1ff,#009cff,#0096ff,#008fff,#0088ff,#0081ff,#007aff,#0072ff,#006bff,#0063ff,#005bff,#0052ff,#004aff,#0041ff,#0037ff,#002eff,#0025ff,#001dff,#0015ff,#000eff,#0008ff,#0002ff,#0000fc,#0000f9,#0000f6,#0000f4,#0000f4,#0000f4,#0000f5,#0000f7,#0000fa,#0000fe,#0004ff,#0009ff,#0010ff,#0018ff,#0020ff,#0028ff,#0031ff,#003aff,#0044ff,#004dff,#0058ff,#0064ff,#0073ff,#0085ff,#0099ff,#00b0ff,#00c7ff,#00deff,#00f4ff,#0bfff4,#20ffdf,#32ffcd,#42ffbd,#50ffaf,#5cffa3,#67ff98,#71ff8e,#7aff85,#84ff7b,#8dff72,#96ff69,#9fff60,#a8ff57,#b1ff4e,#baff45,#c3ff3c,#ccff33,#d5ff2a,#deff21,#e7ff18,#f0ff0f,#f9ff06,#fffc00,#fff300,#ffea00,#ffe100,#ffd800,#ffd000,#ffc800,#ffc100,#ffbc00,#ffb800,#ffb400,#ffb200,#ffaf00,#ffad00,#ffaa00,#ffa800,#ffa500,#ffa300,#ffa000,#ff9e00,#ff9b00,#ff9900,#ff9600,#ff9400,#ff9100,#ff8f00,#ff8c00,#ff8a00,#ff8700,#ff8500,#ff8200,#ff8000,#ff7d00,#ff7b00,#ff7900,#ff7600,#ff7400,#ff7100,#ff6f00,#ff6c00,#ff6a00,#ff6800,#ff6600,#ff6500,#ff6300,#ff6300,#ff6200,#ff6100,#ff6000,#ff6000,#ff5f00,#ff5e00,#ff5d00,#ff5d00,#ff5c00,#ff5b00,#ff5b00,#ff5a00,#ff5900,#ff5900,#ff5800,#ff5700,#ff5700,#ff5600,#ff5500,#ff5500,#ff5400,#ff5300,#ff5300,#ff5200,#ff5100,#ff5100,#ff5000,#ff4f00,#ff4f00,#ff4e00,#ff4d00,#ff4c00,#ff4c00,#ff4b00,#ff4a00,#ff4a00,#ff4900,#ff4800,#ff4800,#ff4700,#ff4600,#ff4600,#ff4500,#ff4400,#ff4400,#ff4300,#ff4200,#ff4200,#ff4100,#ff4100,#ff4000,#ff4000,#ff4000,#ff3f00)"></div><div style="top:148px;background:linear-gradient(90deg,#a1ff5e,#a0ff5f,#9eff61,#9cff63,#99ff66,#95ff6a,#91ff6e,#8dff72,#89ff76,#85ff7a,#81ff7e,#7dff82,#79ff86,#75ff8a,#71ff8e,#6cff93,#68ff97,#64ff9b,#60ff9f,#5cffa3,#58ffa7,#54ffab,#50ffaf,#4cffb3,#48ffb7,#44ffbb,#40ffbf,#3cffc3,#38ffc7,#34ffcb,#31ffce,#2dffd2,#29ffd6,#26ffd9,#22ffdd,#1effe1,#1affe5,#17ffe8,#13ffec,#0ffff0,#0cfff3,#08fff7,#04fffb,#01fffe,#00fcff,#00f8ff,#00f4ff,#00f1ff,#00edff,#00e9ff,#00e5ff,#00e2ff,#00dfff,#00ddff,#00dbff,#00d9ff,#00d7ff,#00d6ff,#00d4ff,#00d3ff,#00d1ff,#00cfff,#00cdff,#00cbff,#00c9ff,#00c8ff,#00c6ff,#00c5ff,#00c3ff,#00c2ff,#00c2ff,#00c2ff,#00c2ff,#00c2ff,#00c3ff,#00c4ff,#00c5ff,#00c7ff,#00c8ff,#00caff,#00ccff,#00ceff,#00d0ff,#00d1ff,#00d3ff,#00d5ff,#00d7ff,#00daff,#00dfff,#00e6ff,#00f0ff,#00fcff,#0bfff4,#19ffe6,#28ffd7,#36ffc9,#45ffba,#53ffac,#60ff9f,#6cff93,#77ff88,#82ff7d,#8bff74,#95ff6a,#9eff61,#a7ff58,#b0ff4f,#b9ff46,#c2ff3d,#caff35,#d3ff2c,#dbff24,#e4ff1b,#ecff13,#f5ff0a,#fdff02,#fff800,#fff000,#ffe700,#ffdf00,#ffd600,#ffce00,#ffc500,#ffbd00,#ffb500,#ffae00,#ffa700,#ffa200,#ff9f00,#ff9c00,#ff9900,#ff9700,#ff9500,#ff9300,#ff9000,#ff8e00,#ff8c00,#ff8a00,#ff8800,#ff8600,#ff8400,#ff8200,#ff7f00,#ff7d00,#ff7b00,#ff7900,#ff7700,#ff7500,#ff7300,#ff7100,#ff6e00,#ff6c00,#ff6a00,#ff6800,#ff6600,#ff6400,#ff6200,#ff6000,#ff5e00,#ff5c00,#ff5a00,#ff5800,#ff5700,#ff5600,#ff5500,#ff5400,#ff5400,#ff5300,#ff5300,#ff5200,#ff5100,#ff5100,#ff5000,#ff5000,#ff4f00,#ff4e00,#ff4e00,#ff4d00,#ff4c00,#ff4c00,#ff4b00,#ff4b00,#ff4a00,#ff4900,#ff4900,#ff4800,#ff4800,#ff4700,#ff4600,#ff4600,#ff4500,#ff4400,#ff4400,#ff4300,#ff4300,#ff4200,#ff4100,#ff4100,#ff4000,#ff4000,#ff3f00,#ff3e00,#ff3e00,#ff3d00,#ff3c00,#ff3c00,#ff3b00,#ff3b00,#ff3a00,#ff3900,#ff3900,#ff3800,#ff3800,#ff3700,#ff3600,#ff3600,#ff3600,#ff3600,#ff3500)"></div><div style="top:150px;background:linear-gradient(90deg,#f3ff0c,#f2ff0d,#f1ff0e,#eeff11,#eaff15,#e6ff19,#e2ff1d,#deff21,#d9ff26,#d5ff2a,#d0ff2f,#ccff33,#c7ff38,#c3ff3c,#beff41,#baff45,#b5ff4a,#b1ff4e,#acff53,#a8ff57,#a3ff5c,#9fff60,#9aff65,#96ff69,#91ff6e,#8dff72,#89ff76,#85ff7a,#82ff7d,#7fff80,#7cff83,#79ff86,#76ff89,#73ff8c,#70ff8f,#6dff92,#6aff95,#67ff98,#64ff9b,#61ff9e,#5effa1,#5bffa4,#59ffa6,#56ffa9,#53ffac,#50ffaf,#4dffb2,#4affb5,#47ffb8,#44ffbb,#41ffbe,#3fffc0,#3cffc3,#3affc5,#39ffc6,#38ffc7,#37ffc8,#37ffc8,#37ffc8,#37ffc8,#37ffc8,#36ffc9,#36ffc9,#36ffc9,#36ffc9,#36ffc9,#36ffc9,#36ffc9,#36ffc9,#36ffc9,#36ffc9,#36ffc9,#36ffc9,#36ffc9,#36ffc9,#36ffc9,#36ffc9,#36ffc9,#36ffc9,#35ffca,#35ffca,#35ffca,#35ffca,#34ffcb,#34ffcb,#34ffcb,#34ffcb,#36ffc9,#38ffc7,#3cffc3,#42ffbd,#4affb5,#52ffad,#5cffa3,#65ff9a,#6fff90,#78ff87,#82ff7d,#8bff74,#94ff6b,#9dff62,#a6ff59,#aeff51,#b6ff49,#bfff40,#c7ff38,#cfff30,#d7ff28,#dfff20,#e7ff18,#efff10,#f6ff09,#feff01,#fff800,#fff100,#ffe900,#ffe100,#ffd900,#ffd200,#ffca00,#ffc200,#ffba00,#ffb300,#ffab00,#ffa400,#ff9d00,#ff9700,#ff9300,#ff8f00,#ff8c00,#ff8900,#ff8700,#ff8500,#ff8300,#ff8000,#ff7e00,#ff7c00,#ff7a00,#ff7800,#ff7600,#ff7400,#ff7200,#ff7000,#ff6e00,#ff6c00,#ff6a00,#ff6800,#ff6600,#ff6500,#ff6300,#ff6100,#ff5f00,#ff5d00,#ff5b00,#ff5900,#ff5700,#ff5500,#ff5300,#ff5100,#ff5000,#ff4e00,#ff4c00,#ff4b00,#ff4a00,#ff4a00,#ff4900,#ff4900,#ff4800,#ff4700,#ff4700,#ff4600,#ff4600,#ff4500,#ff4500,#ff4400,#ff4400,#ff4300,#ff4200,#ff4200,#ff4100,#ff4100,#ff4000,#ff4000,#ff3f00,#ff3f00,#ff3e00,#ff3d00,#ff3d00,#ff3c00,#ff3c00,#ff3b00,#ff3b00,#ff3a00,#ff3900,#ff3900,#ff3800,#ff3800,#ff3700,#ff3700,#ff3600,#ff3600,#ff3500,#ff3400,#ff3400,#ff3300,#ff3300,#ff3200,#ff3200,#ff3100,#ff3100,#ff3000,#ff2f00,#ff2f00,#ff2e00,#ff2e00,#ff2e00,#ff2d00,#ff2d00,#ff2d00)"></div><div style="top:152px;background:linear-gradient(90deg,#ffd200,#ffd200,#ffd400,#ffd600,#ffd900,#ffdd00,#ffe100,#ffe500,#ffe900,#ffed00,#fff100,#fff500,#fff900,#fffd00,#feff01,#faff05,#f6ff09,#f2ff0d,#eeff11,#eaff15,#e6ff19,#e2ff1d,#deff21,#daff25,#d6ff29,#d2ff2d,#cfff30,#ccff33,#c9ff36,#c7ff38,#c4ff3b,#c2ff3d,#c0ff3f,#beff41,#bcff43,#b9ff46,#b7ff48,#b5ff4a,#b3ff4c,#b1ff4e,#aeff51,#acff53,#aaff55,#a8ff57,#a5ff5a,#a3ff5c,#a1ff5e,#9fff60,#9dff62,#9aff65,#98ff67,#96ff69,#94ff6b,#93ff6c,#91ff6e,#90ff6f,#90ff6f,#8fff70,#8fff70,#8fff70,#8fff70,#8fff70,#8fff70,#8fff70,#8fff70,#8eff71,#8eff71,#8eff71,#8eff71,#8eff71,#8eff71,#8eff71,#8eff71,#8dff72,#8dff72,#8dff72,#8dff72,#8cff73,#8bff74,#8aff75,#8aff75,#89ff76,#88ff77,#87ff78,#86ff79,#85ff7a,#84ff7b,#84ff7b,#85ff7a,#87ff78,#8aff75,#8eff71,#93ff6c,#99ff66,#9eff61,#a4ff5b,#aaff55,#afff50,#b5ff4a,#baff45,#c0ff3f,#c6ff39,#cbff34,#d1ff2e,#d6ff29,#dcff23,#e2ff1d,#e8ff17,#eeff11,#f4ff0b,#fbff04,#fffd00,#fff700,#fff100,#ffea00,#ffe400,#ffde00,#ffd700,#ffd100,#ffcb00,#ffc400,#ffbe00,#ffb800,#ffb200,#ffac00,#ffa600,#ffa100,#ff9c00,#ff9700,#ff9400,#ff9000,#ff8c00,#ff8900,#ff8500,#ff8200,#ff7e00,#ff7b00,#ff7900,#ff7600,#ff7400,#ff7100,#ff6f00,#ff6d00,#ff6b00,#ff6900,#ff6700,#ff6400,#ff6200,#ff6000,#ff5e00,#ff5c00,#ff5a00,#ff5700,#ff5500,#ff5300,#ff5100,#ff4f00,#ff4d00,#ff4b00,#ff4900,#ff4700,#ff4500,#ff4400,#ff4300,#ff4200,#ff4200,#ff4100,#ff4100,#ff4000,#ff4000,#ff3f00,#ff3f00,#ff3e00,#ff3e00,#ff3d00,#ff3d00,#ff3c00,#ff3c00,#ff3b00,#ff3b00,#ff3a00,#ff3a00,#ff3900,#ff3900,#ff3800,#ff3800,#ff3700,#ff3700,#ff3600,#ff3600,#ff3500,#ff3500,#ff3400,#ff3400,#ff3300,#ff3300,#ff3200,#ff3200,#ff3100,#ff3100,#ff3000,#ff3000,#ff2f00,#ff2f00,#ff2e00,#ff2e00,#ff2d00,#ff2d00,#ff2c00,#ff2c00,#ff2b00,#ff2b00,#ff2a00,#ff2a00,#ff2900,#ff2900,#ff2900,#ff2900,#ff2800)"></div><div style="top:154px;background:linear-gradient(90deg,#ffa300,#ffa400,#ffa500,#ffa700,#ffa900,#ffac00,#ffaf00,#ffb200,#ffb500,#ffb800,#ffbb00,#ffbe00,#ffc100,#ffc400,#ffc700,#ffca00,#ffcd00,#ffd000,#ffd300,#ffd600,#ffda00,#ffdd00,#ffe000,#ffe300,#ffe600,#ffe800,#ffeb00,#ffed00,#ffef00,#fff100,#fff200,#fff400,#fff500,#fff700,#fff800,#fffa00,#fffb00,#fffd00,#fffe00,#feff01,#fdff02,#fbff04,#faff05,#f8ff07,#f7ff08,#f5ff0a,#f4ff0b,#f2ff0d,#f1ff0e,#efff10,#eeff11,#ecff13,#ebff14,#eaff15,#e9ff16,#e8ff17,#e8ff17,#e7ff18,#e7ff18,#e7ff18,#e7ff18,#e6ff19,#e6ff19,#e6ff19,#e6ff19,#e5ff1a,#e5ff1a,#e5ff1a,#e5ff1a,#e4ff1b,#e4ff1b,#e4ff1b,#e4ff1b,#e3ff1c,#e3ff1c,#e3ff1c,#e2ff1d,#e1ff1e,#dfff20,#deff21,#dcff23,#daff25,#d8ff27,#d6ff29,#d4ff2b,#d2ff2d,#d1ff2e,#cfff30,#ceff31,#ceff31,#cfff30,#d0ff2f,#d2ff2d,#d4ff2b,#d6ff29,#d8ff27,#daff25,#dcff23,#deff21,#e0ff1f,#e2ff1d,#e4ff1b,#e6ff19,#e8ff17,#ebff14,#edff12,#f0ff0f,#f4ff0b,#f8ff07,#fcff03,#fffe00,#fff900,#fff500,#fff000,#ffeb00,#ffe700,#ffe200,#ffdd00,#ffd900,#ffd400,#ffd000,#ffcb00,#ffc700,#ffc200,#ffbd00,#ffb900,#ffb400,#ffaf00,#ffa900,#ffa400,#ff9f00,#ff9a00,#ff9400,#ff8f00,#ff8a00,#ff8500,#ff8100,#ff7d00,#ff7a00,#ff7700,#ff7400,#ff7200,#ff6f00,#ff6c00,#ff6a00,#ff6700,#ff6500,#ff6200,#ff6000,#ff5d00,#ff5a00,#ff5800,#ff5500,#ff5300,#ff5000,#ff4e00,#ff4b00,#ff4900,#ff4600,#ff4400,#ff4200,#ff4000,#ff3e00,#ff3d00,#ff3d00,#ff3c00,#ff3c00,#ff3b00,#ff3b00,#ff3a00,#ff3a00,#ff3900,#ff3900,#ff3900,#ff3800,#ff3800,#ff3700,#ff3700,#ff3600,#ff3600,#ff3500,#ff3500,#ff3400,#ff3400,#ff3400,#ff3300,#ff3300,#ff3200,#ff3200,#ff3100,#ff3100,#ff3000,#ff3000,#ff3000,#ff2f00,#ff2f00,#ff2e00,#ff2e00,#ff2d00,#ff2d00,#ff2c00,#ff2c00,#ff2c00,#ff2b00,#ff2b00,#ff2a00,#ff2a00,#ff2900,#ff2900,#ff2800,#ff2800,#ff2800,#ff2700,#ff2700,#ff2600,#ff2600,#ff2600,#ff2600,#ff2600)"></div><div style="top:156px;background:linear-gradient(90deg,#ff7900,#ff7a00,#ff7b00,#ff7c00,#ff7e00,#ff8000,#ff8200,#ff8400,#ff8600,#ff8800,#ff8a00,#ff8d00,#ff8f00,#ff9100,#ff9300,#ff9500,#ff9800,#ff9a00,#ff9c00,#ff9e00,#ffa000,#ffa300,#ffa500,#ffa700,#ffa900,#ffab00,#ffad00,#ffae00,#ffaf00,#ffb000,#ffb100,#ffb200,#ffb300,#ffb400,#ffb500,#ffb600,#ffb700,#ffb700,#ffb800,#ffb900,#ffba00,#ffbb00,#ffbc00,#ffbc00,#ffbd00,#ffbe00,#ffbf00,#ffc000,#ffc100,#ffc200,#ffc200,#ffc300,#ffc400,#ffc500,#ffc500,#ffc600,#ffc600,#ffc700,#ffc700,#ffc700,#ffc800,#ffc800,#ffc800,#ffc900,#ffc900,#ffc900,#ffca00,#ffca00,#ffca00,#ffcb00,#ffcb00,#ffcb00,#ffcc00,#ffcc00,#ffcc00,#ffcd00,#ffce00,#ffd000,#ffd200,#ffd400,#ffd700,#ffd900,#ffdc00,#ffdf00,#ffe100,#ffe400,#ffe600,#ffe900,#ffeb00,#ffed00,#ffef00,#fff000,#fff100,#fff200,#fff300,#fff400,#fff500,#fff600,#fff700,#fff800,#fff900,#fffa00,#fffb00,#fffc00,#fffd00,#fffd00,#fffc00,#fffb00,#fff900,#fff700,#fff500,#fff300,#fff300,#fff500,#fffb00,#f8ff07,#e8ff17,#d3ff2c,#b9ff46,#9dff62,#81ff7e,#69ff96,#55ffaa,#48ffb7,#44ffbb,#49ffb6,#57ffa8,#6eff91,#8cff73,#afff50,#d5ff2a,#fbff04,#ffe100,#ffc300,#ffab00,#ff9900,#ff8c00,#ff8300,#ff7d00,#ff7900,#ff7500,#ff7200,#ff6f00,#ff6c00,#ff6900,#ff6700,#ff6400,#ff6100,#ff5e00,#ff5b00,#ff5800,#ff5500,#ff5200,#ff5000,#ff4d00,#ff4a00,#ff4700,#ff4400,#ff4100,#ff3f00,#ff3c00,#ff3b00,#ff3900,#ff3800,#ff3700,#ff3700,#ff3600,#ff3600,#ff3600,#ff3500,#ff3500,#ff3400,#ff3400,#ff3400,#ff3300,#ff3300,#ff3200,#ff3200,#ff3200,#ff3100,#ff3100,#ff3100,#ff3000,#ff3000,#ff2f00,#ff2f00,#ff2f00,#ff2e00,#ff2e00,#ff2d00,#ff2d00,#ff2d00,#ff2c00,#ff2c00,#ff2b00,#ff2b00,#ff2b00,#ff2a00,#ff2a00,#ff2900,#ff2900,#ff2900,#ff2800,#ff2800,#ff2700,#ff2700,#ff2700,#ff2600,#ff2600,#ff2600,#ff2500,#ff2500,#ff2400,#ff2400,#ff2400,#ff2300,#ff2300,#ff2300,#ff2300)"></div><div style="top:158px;background:linear-gradient(90deg,#ff5c00,#ff5c00,#ff5d00,#ff5e00,#ff5f00,#ff6100,#ff6200,#ff6400,#ff6500,#ff6700,#ff6800,#ff6a00,#ff6b00,#ff6d00,#ff6f00,#ff7000,#ff7200,#ff7300,#ff7500,#ff7600,#ff7800,#ff7900,#ff7b00,#ff7d00,#ff7e00,#ff7f00,#ff8100,#ff8200,#ff8200,#ff8300,#ff8400,#ff8400,#ff8400,#ff8500,#ff8500,#ff8600,#ff8600,#ff8700,#ff8700,#ff8800,#ff8800,#ff8800,#ff8900,#ff8900,#ff8a00,#ff8a00,#ff8b00,#ff8b00,#ff8c00,#ff8c00,#ff8d00,#ff8d00,#ff8d00,#ff8e00,#ff8e00,#ff8f00,#ff8f00,#ff8f00,#ff9000,#ff9000,#ff9000,#ff9100,#ff9100,#ff9100,#ff9200,#ff9200,#ff9200,#ff9300,#ff9300,#ff9300,#ff9400,#ff9400,#ff9400,#ff9500,#ff9500,#ff9600,#ff9700,#ff9900,#ff9b00,#ff9e00,#ffa000,#ffa300,#ffa600,#ffa900,#ffab00,#ffae00,#ffb100,#ffb400,#ffb600,#ffb900,#ffbc00,#ffbe00,#ffc100,#ffc300,#ffc600,#ffc800,#ffca00,#ffcd00,#ffcf00,#ffd200,#ffd400,#ffd700,#ffd900,#ffdb00,#ffde00,#ffdf00,#ffe000,#ffe100,#ffe100,#ffe300,#ffe800,#fff500,#f2ff0d,#ccff33,#96ff69,#50ffaf,#00ffff,#00acff,#005dff,#0019ff,#0000e4,#0000c1,#0000ad,#0000a5,#0000a4,#0000a4,#0000a9,#0000b7,#0000d5,#0005ff,#0047ff,#009aff,#00f7ff,#58ffa7,#b1ff4e,#fcff03,#ffc900,#ffa100,#ff8800,#ff7900,#ff7100,#ff6c00,#ff6900,#ff6600,#ff6300,#ff6000,#ff5d00,#ff5a00,#ff5800,#ff5500,#ff5200,#ff4f00,#ff4d00,#ff4a00,#ff4700,#ff4400,#ff4200,#ff3f00,#ff3c00,#ff3a00,#ff3700,#ff3600,#ff3400,#ff3300,#ff3300,#ff3200,#ff3200,#ff3200,#ff3100,#ff3100,#ff3100,#ff3000,#ff3000,#ff3000,#ff2f00,#ff2f00,#ff2f00,#ff2e00,#ff2e00,#ff2e00,#ff2d00,#ff2d00,#ff2d00,#ff2c00,#ff2c00,#ff2c00,#ff2b00,#ff2b00,#ff2b00,#ff2a00,#ff2a00,#ff2a00,#ff2900,#ff2900,#ff2900,#ff2800,#ff2800,#ff2800,#ff2700,#ff2700,#ff2700,#ff2600,#ff2600,#ff2600,#ff2500,#ff2500,#ff2500,#ff2400,#ff2400,#ff2400,#ff2300,#ff2300,#ff2300,#ff2200,#ff2200,#ff2200,#ff2200,#ff2200,#ff2200)"></div><div style="top:160px;background:linear-gradient(90deg,#ff4c00,#ff4c00,#ff4c00,#ff4d00,#ff4e00,#ff4f00,#ff5000,#ff5100,#ff5300,#ff5400,#ff5500,#ff5600,#ff5700,#ff5800,#ff5900,#ff5b00,#ff5c00,#ff5d00,#ff5e00,#ff5f00,#ff6000,#ff6200,#ff6300,#ff6400,#ff6500,#ff6600,#ff6700,#ff6700,#ff6800,#ff6800,#ff6900,#ff6900,#ff6900,#ff6a00,#ff6a00,#ff6a00,#ff6b00,#ff6b00,#ff6b00,#ff6b00,#ff6c00,#ff6c00,#ff6c00,#ff6d00,#ff6d00,#ff6d00,#ff6d00,#ff6e00,#ff6e00,#ff6e00,#ff6f00,#ff6f00,#ff6f00,#ff6f00,#ff7000,#ff7000,#ff7000,#ff7100,#ff7100,#ff7100,#ff7100,#ff7200,#ff7200,#ff7200,#ff7300,#ff7300,#ff7300,#ff7300,#ff7400,#ff7400,#ff7400,#ff7400,#ff7500,#ff7500,#ff7600,#ff7600,#ff7700,#ff7900,#ff7a00,#ff7c00,#ff7f00,#ff8100,#ff8300,#ff8600,#ff8800,#ff8a00,#ff8d00,#ff8f00,#ff9100,#ff9400,#ff9600,#ff9800,#ff9b00,#ff9d00,#ff9f00,#ffa100,#ffa400,#ffa600,#ffa800,#ffab00,#ffad00,#ffaf00,#ffb200,#ffb400,#ffb600,#ffb700,#ffb800,#ffb900,#ffb800,#ffb800,#ffb700,#ffb700,#ffb900,#ffbd00,#ffc600,#ffd300,#ffe600,#ffff00,#e2ff1d,#c2ff3d,#a3ff5c,#87ff78,#71ff8e,#62ff9d,#5dffa2,#61ff9e,#6fff90,#86ff79,#a4ff5b,#c8ff37,#efff10,#ffe900,#ffc700,#ffa900,#ff9100,#ff7f00,#ff7300,#ff6b00,#ff6500,#ff6200,#ff5f00,#ff5d00,#ff5a00,#ff5800,#ff5600,#ff5300,#ff5100,#ff4f00,#ff4d00,#ff4a00,#ff4800,#ff4600,#ff4400,#ff4100,#ff3f00,#ff3d00,#ff3b00,#ff3900,#ff3600,#ff3400,#ff3200,#ff3100,#ff3000,#ff2f00,#ff2f00,#ff2e00,#ff2e00,#ff2e00,#ff2d00,#ff2d00,#ff2d00,#ff2d00,#ff2c00,#ff2c00,#ff2c00,#ff2c00,#ff2b00,#ff2b00,#ff2b00,#ff2b00,#ff2a00,#ff2a00,#ff2a00,#ff2a00,#ff2900,#ff2900,#ff2900,#ff2900,#ff2800,#ff2800,#ff2800,#ff2800,#ff2700,#ff2700,#ff2700,#ff2600,#ff2600,#ff2600,#ff2600,#ff2500,#ff2500,#ff2500,#ff2500,#ff2400,#ff2400,#ff2400,#ff2400,#ff2300,#ff2300,#ff2300,#ff2300,#ff2200,#ff2200,#ff2200,#ff2200,#ff2100,#ff2100,#ff2100,#ff2100)"></div><div style="top:162px;background:linear-gradient(90deg,#ff3f00,#ff4000,#ff4000,#ff4000,#ff4100,#ff4200,#ff4300,#ff4300,#ff4400,#ff4500,#ff4600,#ff4700,#ff4700,#ff4800,#ff4900,#ff4a00,#ff4b00,#ff4c00,#ff4c00,#ff4d00,#ff4e00,#ff4f00,#ff5000,#ff5100,#ff5100,#ff5200,#ff5300,#ff5300,#ff5400,#ff5400,#ff5400,#ff5400,#ff5400,#ff5500,#ff5500,#ff5500,#ff5500,#ff5500,#ff5600,#ff5600,#ff5600,#ff5600,#ff5600,#ff5700,#ff5700,#ff5700,#ff5700,#ff5700,#ff5800,#ff5800,#ff5800,#ff5800,#ff5900,#ff5900,#ff5900,#ff5900,#ff5900,#ff5a00,#ff5a00,#ff5a00,#ff5a00,#ff5a00,#ff5b00,#ff5b00,#ff5b00,#ff5b00,#ff5b00,#ff5c00,#ff5c00,#ff5c00,#ff5c00,#ff5c00,#ff5d00,#ff5d00,#ff5d00,#ff5e00,#ff5e00,#ff5f00,#ff6100,#ff6200,#ff6400,#ff6500,#ff6700,#ff6900,#ff6a00,#ff6c00,#ff6e00,#ff6f00,#ff7100,#ff7300,#ff7400,#ff7600,#ff7800,#ff7900,#ff7b00,#ff7d00,#ff7e00,#ff8000,#ff8200,#ff8300,#ff8500,#ff8700,#ff8800,#ff8a00,#ff8b00,#ff8d00,#ff8d00,#ff8e00,#ff8d00,#ff8d00,#ff8c00,#ff8b00,#ff8a00,#ff8900,#ff8800,#ff8700,#ff8600,#ff8500,#ff8400,#ff8300,#ff8200,#ff8100,#ff8000,#ff7f00,#ff7e00,#ff7c00,#ff7a00,#ff7700,#ff7400,#ff7000,#ff6c00,#ff6800,#ff6400,#ff6000,#ff5c00,#ff5900,#ff5600,#ff5300,#ff5100,#ff4f00,#ff4d00,#ff4c00,#ff4a00,#ff4800,#ff4700,#ff4500,#ff4400,#ff4200,#ff4000,#ff3f00,#ff3d00,#ff3c00,#ff3a00,#ff3800,#ff3700,#ff3500,#ff3300,#ff3200,#ff3000,#ff2f00,#ff2e00,#ff2c00,#ff2c00,#ff2b00,#ff2b00,#ff2b00,#ff2a00,#ff2a00,#ff2a00,#ff2a00,#ff2a00,#ff2900,#ff2900,#ff2900,#ff2900,#ff2900,#ff2800,#ff2800,#ff2800,#ff2800,#ff2800,#ff2800,#ff2700,#ff2700,#ff2700,#ff2700,#ff2700,#ff2600,#ff2600,#ff2600,#ff2600,#ff2600,#ff2500,#ff2500,#ff2500,#ff2500,#ff2500,#ff2500,#ff2400,#ff2400,#ff2400,#ff2400,#ff2400,#ff2300,#ff2300,#ff2300,#ff2300,#ff2300,#ff2300,#ff2200,#ff2200,#ff2200,#ff2200,#ff2200,#ff2100,#ff2100,#ff2100,#ff2100,#ff2100)"></div><div style="top:164px;background:linear-gradient(90deg,#ff3300,#ff3400,#ff3400,#ff3400,#ff3400,#ff3500,#ff3500,#ff3600,#ff3600,#ff3700,#ff3700,#ff3800,#ff3800,#ff3900,#ff3900,#ff3a00,#ff3a00,#ff3b00,#ff3b00,#ff3c00,#ff3c00,#ff3d00,#ff3d00,#ff3e00,#ff3e00,#ff3f00,#ff3f00,#ff3f00,#ff4000,#ff4000,#ff4000,#ff4000,#ff4000,#ff4000,#ff4000,#ff4000,#ff4100,#ff4100,#ff4100,#ff4100,#ff4100,#ff4100,#ff4100,#ff4100,#ff4200,#ff4200,#ff4200,#ff4200,#ff4200,#ff4200,#ff4200,#ff4200,#ff4300,#ff4300,#ff4300,#ff4300,#ff4300,#ff4300,#ff4300,#ff4300,#ff4400,#ff4400,#ff4400,#ff4400,#ff4400,#ff4400,#ff4400,#ff4400,#ff4400,#ff4500,#ff4500,#ff4500,#ff4500,#ff4500,#ff4500,#ff4600,#ff4600,#ff4700,#ff4700,#ff4800,#ff4900,#ff4a00,#ff4b00,#ff4c00,#ff4d00,#ff4e00,#ff4f00,#ff5000,#ff5100,#ff5200,#ff5300,#ff5400,#ff5500,#ff5600,#ff5700,#ff5800,#ff5900,#ff5a00,#ff5b00,#ff5c00,#ff5d00,#ff5e00,#ff5f00,#ff6000,#ff6100,#ff6200,#ff6200,#ff6300,#ff6200,#ff6200,#ff6100,#ff6100,#ff6000,#ff6000,#ff5f00,#ff5e00,#ff5e00,#ff5d00,#ff5d00,#ff5c00,#ff5b00,#ff5b00,#ff5a00,#ff5a00,#ff5900,#ff5800,#ff5700,#ff5500,#ff5300,#ff5100,#ff4e00,#ff4c00,#ff4a00,#ff4700,#ff4500,#ff4300,#ff4100,#ff3f00,#ff3e00,#ff3d00,#ff3c00,#ff3b00,#ff3a00,#ff3900,#ff3800,#ff3700,#ff3600,#ff3500,#ff3400,#ff3300,#ff3200,#ff3100,#ff3000,#ff2f00,#ff2e00,#ff2d00,#ff2c00,#ff2b00,#ff2a00,#ff2900,#ff2900,#ff2800,#ff2700,#ff2700,#ff2700,#ff2700,#ff2700,#ff2700,#ff2600,#ff2600,#ff2600,#ff2600,#ff2600,#ff2600,#ff2600,#ff2600,#ff2600,#ff2500,#ff2500,#ff2500,#ff2500,#ff2500,#ff2500,#ff2500,#ff2500,#ff2500,#ff2400,#ff2400,#ff2400,#ff2400,#ff2400,#ff2400,#ff2400,#ff2400,#ff2400,#ff2300,#ff2300,#ff2300,#ff2300,#ff2300,#ff2300,#ff2300,#ff2300,#ff2300,#ff2200,#ff2200,#ff2200,#ff2200,#ff2200,#ff2200,#ff2200,#ff2200,#ff2200,#ff2100,#ff2100,#ff2100,#ff2100,#ff2100,#ff2100)"></div><div style="top:166px;background:linear-gradient(90deg,#ff2900,#ff2900,#ff2900,#ff2900,#ff2900,#ff2900,#ff2a00,#ff2a00,#ff2a00,#ff2a00,#ff2a00,#ff2b00,#ff2b00,#ff2b00,#ff2b00,#ff2b00,#ff2c00,#ff2c00,#ff2c00,#ff2c00,#ff2d00,#ff2d00,#ff2d00,#ff2d00,#ff2d00,#ff2e00,#ff2e00,#ff2e00,#ff2e00,#ff2e00,#ff2e00,#ff2e00,#ff2e00,#ff2e00,#ff2e00,#ff2e00,#ff2e00,#ff2e00,#ff2e00,#ff2e00,#ff2f00,#ff2f00,#ff2f00,#ff2f00,#ff2f00,#ff2f00,#ff2f00,#ff2f00,#ff2f00,#ff2f00,#ff2f00,#ff2f00,#ff2f00,#ff2f00,#ff2f00,#ff2f00,#ff2f00,#ff2f00,#ff2f00,#ff3000,#ff3000,#ff3000,#ff3000,#ff3000,#ff3000,#ff3000,#ff3000,#ff3000,#ff3000,#ff3000,#ff3000,#ff3000,#ff3000,#ff3000,#ff3000,#ff3000,#ff3100,#ff3100,#ff3100,#ff3200,#ff3200,#ff3200,#ff3300,#ff3300,#ff3400,#ff3400,#ff3400,#ff3500,#ff3500,#ff3600,#ff3600,#ff3700,#ff3700,#ff3700,#ff3800,#ff3800,#ff3900,#ff3900,#ff3a00,#ff3a00,#ff3a00,#ff3b00,#ff3b00,#ff3c00,#ff3c00,#ff3c00,#ff3d00,#ff3d00,#ff3d00,#ff3c00,#ff3c00,#ff3c00,#ff3c00,#ff3b00,#ff3b00,#ff3b00,#ff3b00,#ff3a00,#ff3a00,#ff3a00,#ff3a00,#ff3900,#ff3900,#ff3900,#ff3800,#ff3800,#ff3800,#ff3700,#ff3600,#ff3500,#ff3400,#ff3300,#ff3200,#ff3100,#ff3000,#ff2f00,#ff2e00,#ff2e00,#ff2d00,#ff2d00,#ff2c00,#ff2c00,#ff2b00,#ff2b00,#ff2b00,#ff2a00,#ff2a00,#ff2900,#ff2900,#ff2900,#ff2800,#ff2800,#ff2700,#ff2700,#ff2700,#ff2600,#ff2600,#ff2500,#ff2500,#ff2500,#ff2400,#ff2400,#ff2400,#ff2400,#ff2400,#ff2400,#ff2300,#ff2300,#ff2300,#ff2300,#ff2300,#ff2300,#ff2300,#ff2300,#ff2300,#ff2300,#ff2300,#ff2300,#ff2300,#ff2300,#ff2300,#ff2300,#ff2300,#ff2300,#ff2300,#ff2300,#ff2300,#ff2200,#ff2200,#ff2200,#ff2200,#ff2200,#ff2200,#ff2200,#ff2200,#ff2200,#ff2200,#ff2200,#ff2200,#ff2200,#ff2200,#ff2200,#ff2200,#ff2200,#ff2200,#ff2200,#ff2200,#ff2200,#ff2200,#ff2100,#ff2100,#ff2100,#ff2100,#ff2100,#ff2100,#ff2100,#ff2100,#ff2100,#ff2100)"></div><div style="top:168px;background:linear-gradient(90deg,#ff2300,#ff2300,#ff2300,#ff2300,#ff2300,#ff2300,#ff2300,#ff2300,#ff2300,#ff2300,#ff2300,#ff2300,#ff2300,#ff2300,#ff2300,#ff2300,#ff2300,#ff2300,#ff2300,#ff2300,#ff2400,#ff2400,#ff2400,#ff2400,#ff2400,#ff2400,#ff2400,#ff2400,#ff2400,#ff2400,#ff2400,#ff2400,#ff2400,#ff2400,#ff2400,#ff2400,#ff2400,#ff2400,#ff2400,#ff2400,#ff2400,#ff2400,#ff2400,#ff2400,#ff2400,#ff2400,#ff2400,#ff2400,#ff2400,#ff2400,#ff2400,#ff2400,#ff2400,#ff2400,#ff2400,#ff2400,#ff2400,#ff2400,#ff2400,#ff2400,#ff2400,#ff2400,#ff2400,#ff2400,#ff2400,#ff2400,#ff2400,#ff2400,#ff2400,#ff2400,#ff2400,#ff2400,#ff2400,#ff2400,#ff2400,#ff2400,#ff2400,#ff2400,#ff2500,#ff2500,#ff2500,#ff2500,#ff2500,#ff2500,#ff2500,#ff2500,#ff2500,#ff2500,#ff2500,#ff2500,#ff2600,#ff2600,#ff2600,#ff2600,#ff2600,#ff2600,#ff2600,#ff2600,#ff2600,#ff2600,#ff2600,#ff2700,#ff2700,#ff2700,#ff2700,#ff2700,#ff2700,#ff2700,#ff2700,#ff2700,#ff2700,#ff2700,#ff2700,#ff2700,#ff2700,#ff2700,#ff2600,#ff2600,#ff2600,#ff2600,#ff2600,#ff2600,#ff2600,#ff2600,#ff2600,#ff2600,#ff2600,#ff2600,#ff2600,#ff2500,#ff2500,#ff2500,#ff2500,#ff2400,#ff2400,#ff2400,#ff2400,#ff2400,#ff2400,#ff2400,#ff2300,#ff2300,#ff2300,#ff2300,#ff2300,#ff2300,#ff2300,#ff2300,#ff2300,#ff2300,#ff2300,#ff2300,#ff2200,#ff2200,#ff2200,#ff2200,#ff2200,#ff2200,#ff2200,#ff2200,#ff2200,#ff2200,#ff2200,#ff2200,#ff2200,#ff2200,#ff2200,#ff2200,#ff2200,#ff2200,#ff2200,#ff2200,#ff2200,#ff2200,#ff2200,#ff2200,#ff2200,#ff2200,#ff2200,#ff2200,#ff2100,#ff2100,#ff2100,#ff2100,#ff2100,#ff2100,#ff2100,#ff2100,#ff2100,#ff2100,#ff2100,#ff2100,#ff2100,#ff2100,#ff2100,#ff2100,#ff2100,#ff2100,#ff2100,#ff2100,#ff2100,#ff2100,#ff2100,#ff2100,#ff2100,#ff2100,#ff2100,#ff2100,#ff2100,#ff2100,#ff2100,#ff2100,#ff2100,#ff2100,#ff2100,#ff2100,#ff2100,#ff2100,#ff2100)"></div><div style="top:170px;background:linear-gradient(90deg,#ff2100,#ff2100,#ff2100,#ff2100,#ff2100,#ff2100,#ff2100,#ff2100,#ff2100,#ff2100,#ff2100,#ff2100,#ff2100,#ff2100,#ff2100,#ff2100,#ff2100,#ff2100,#ff2100,#ff2100,#ff2100,#ff2100,#ff2100,#ff2100,#ff2100,#ff2100,#ff2100,#ff2100,#ff2100,#ff2100,#ff2100,#ff2100,#ff2100,#ff2100,#ff2100,#ff2100,#ff2100,#ff2100,#ff2100,#ff2100,#ff2100,#ff2100,#ff2100,#ff2100,#ff2100,#ff2100,#ff2100,#ff2100,#ff2100,#ff2100,#ff2100,#ff2100,#ff2100,#ff2100,#ff2100,#ff2100,#ff2100,#ff2100,#ff2100,#ff2100,#ff2100,#ff2100,#ff2100,#ff2100,#ff2100,#ff2100,#ff2100,#ff2100,#ff2100,#ff2100,#ff2100,#ff2100,#ff2100,#ff2100,#ff2100,#ff2100,#ff2100,#ff2100,#ff2100,#ff2100,#ff2100,#ff2100,#ff2100,#ff2100,#ff2100,#ff2100,#ff2100,#ff2100,#ff2100,#ff2100,#ff2100,#ff2100,#ff2100,#ff2100,#ff2100,#ff2100,#ff2100,#ff2100,#ff2100,#ff2100,#ff2100,#ff2100,#ff2100,#ff2100,#ff2100,#ff2100,#ff2100,#ff2100,#ff2100,#ff2100,#ff2100,#ff2100,#ff2100,#ff2100,#ff2100,#ff2100,#ff2100,#ff2100,#ff2100,#ff2100,#ff2100,#ff2100,#ff2100,#ff2100,#ff2100,#ff2100,#ff2100,#ff2100,#ff2100,#ff2100,#ff2100,#ff2100,#ff2100,#ff2100,#ff2100,#ff2100,#ff2100,#ff2100,#ff2100,#ff2100,#ff2100,#ff2100,#ff2100,#ff2100,#ff2100,#ff2100,#ff2100,#ff2100,#ff2100,#ff2100,#ff2100,#ff2100,#ff2100,#ff2100,#ff2100,#ff2100,#ff2100,#ff2100,#ff2100,#ff2100,#ff2100,#ff2100,#ff2100,#ff2100,#ff2100,#ff2100,#ff2100,#ff2100,#ff2100,#ff2100,#ff2100,#ff2100,#ff2100,#ff2100,#ff2100,#ff2100,#ff2100,#ff2100,#ff2100,#ff2100,#ff2100,#ff2100,#ff2100,#ff2100,#ff2100,#ff2100,#ff2100,#ff2100,#ff2100,#ff2100,#ff2100,#ff2100,#ff2100,#ff2100,#ff2100,#ff2100,#ff2100,#ff2100,#ff2100,#ff2100,#ff2100,#ff2100,#ff2100,#ff2100,#ff2100,#ff2100,#ff2100,#ff2100,#ff2100,#ff2100,#ff2100,#ff2100,#ff2100,#ff2100,#ff2100,#ff2100,#ff2100,#ff2100,#ff2100)"></div><div style="top:172px;background:linear-gradient(90deg,#ff2100,#ff2100,#ff2100,#ff2100,#ff2100,#ff2100,#ff2100,#ff2100,#ff2100,#ff2100,#ff2100,#ff2100,#ff2100,#ff2100,#ff2100,#ff2100,#ff2100,#ff2100,#ff2100,#ff2100,#ff2100,#ff2100,#ff2100,#ff2100,#ff2100,#ff2100,#ff2100,#ff2100,#ff2100,#ff2100,#ff2100,#ff2100,#ff2100,#ff2100,#ff2100,#ff2100,#ff2100,#ff2100,#ff2100,#ff2100,#ff2100,#ff2100,#ff2100,#ff2100,#ff2100,#ff2100,#ff2100,#ff2100,#ff2100,#ff2100,#ff2100,#ff2100,#ff2100,#ff2100,#ff2100,#ff2100,#ff2100,#ff2100,#ff2100,#ff2100,#ff2100,#ff2100,#ff2100,#ff2100,#ff2100,#ff2100,#ff2100,#ff2100,#ff2100,#ff2100,#ff2100,#ff2100,#ff2100,#ff2100,#ff2100,#ff2100,#ff2100,#ff2100,#ff2100,#ff2100,#ff2100,#ff2100,#ff2100,#ff2100,#ff2100,#ff2100,#ff2100,#ff2100,#ff2100,#ff2100,#ff2100,#ff2100,#ff2100,#ff2100,#ff2100,#ff2100,#ff2100,#ff2100,#ff2100,#ff2100,#ff2100,#ff2100,#ff2100,#ff2100,#ff2100,#ff2100,#ff2100,#ff2100,#ff2100,#ff2100,#ff2100,#ff2100,#ff2100,#ff2100,#ff2100,#ff2100,#ff2100,#ff2100,#ff2100,#ff2100,#ff2100,#ff2100,#ff2100,#ff2100,#ff2100,#ff2100,#ff2100,#ff2100,#ff2100,#ff2100,#ff2100,#ff2100,#ff2100,#ff2100,#ff2100,#ff2100,#ff2100,#ff2100,#ff2100,#ff2100,#ff2100,#ff2100,#ff2100,#ff2100,#ff2100,#ff2100,#ff2100,#ff2100,#ff2100,#ff2100,#ff2100,#ff2100,#ff2100,#ff2100,#ff2100,#ff2100,#ff2100,#ff2100,#ff2100,#ff2100,#ff2100,#ff2100,#ff2100,#ff2100,#ff2100,#ff2100,#ff2100,#ff2100,#ff2100,#ff2100,#ff2100,#ff2100,#ff2100,#ff2100,#ff2100,#ff2100,#ff2100,#ff2100,#ff2100,#ff2100,#ff2100,#ff2100,#ff2100,#ff2100,#ff2100,#ff2100,#ff2100,#ff2100,#ff2100,#ff2100,#ff2100,#ff2100,#ff2100,#ff2100,#ff2100,#ff2100,#ff2100,#ff2100,#ff2100,#ff2100,#ff2100,#ff2100,#ff2100,#ff2100,#ff2100,#ff2100,#ff2100,#ff2100,#ff2100,#ff2100,#ff2100,#ff2100,#ff2100,#ff2100,#ff2100,#ff2100,#ff2100,#ff2100,#ff2100)"></div></div></div>
<div class="cb" style="top:254px;height:165px"></div>
<svg width="550" height="463" viewBox="0 0 550 463"><defs><clipPath id="cp0"><rect x="51.5" y="27.5" width="428.0" height="163.0"/></clipPath></defs><g clip-path="url(#cp0)"><g stroke="#000" stroke-width="2.6" stroke-linejoin="round"><path d="M58.3,39 L58.8,48" fill="none"/><path d="M58.2,29.5 Q60.3,33 59.8,38 Q59,40.5 58,40 Q56.6,36 56.8,32 Q57.2,30 58.2,29.5 Z" fill="#e0f030"/><path d="M57.5,46 Q61,47 62.5,52 Q64.5,60 65.5,67.5 Q63.5,70 60,68.5 Q57,65 56.5,59 Q56,52 57.5,46 Z" fill="#ff9010"/><ellipse cx="75.3" cy="33" rx="2.6" ry="6" fill="#000"/><ellipse cx="75.3" cy="35" rx="0.7" ry="1.4" fill="#f0f030" stroke="none"/><path d="M69.7,79.6 Q72,77.4 75.6,77.4 L84.7,77.4 Q89,77 92,76.5 L97,76 Q96.5,78 95.6,79.6 Q94.5,83 92.9,86 Q91,89 89.3,90 Q85,92 80.2,92 L73.8,91 Q71,89.5 70.2,86.9 Q68.7,83 69.7,79.6 Z" fill="#ff3800"/><circle cx="102.5" cy="74.6" r="2.6" fill="#000" stroke="none"/><ellipse cx="86.4" cy="58.7" rx="2.1" ry="2.5" fill="#f0f030"/><path d="M130.5,46.5 Q133.5,49 135.5,56 Q135,59.5 132.5,59 Q129.5,56 129.8,51 Q129.8,48 130.5,46.5 Z" fill="#ffe020"/><ellipse cx="108.2" cy="31" rx="1.9" ry="3.3" fill="#000"/><circle cx="149" cy="37.6" r="2.2" fill="#000" stroke="none"/><path d="M159.2,39.7 Q163,43.5 165.7,49 Q166.2,54 163,55.5 L157.9,54.8 Q156,52 156.5,47 Q157.2,42.5 159.2,39.7 Z" fill="#ffe020"/><path d="M189.3,35.2 Q190,40 188.5,46 L185.5,54.5 Q183.5,56.5 183,54 Q183,49 185.5,44 Z" fill="#e8e820"/><path d="M195.5,24 L201,24 Q201.5,34 200,38.5 Q198,40.5 196.2,38.8 Q195,34 195.5,24 Z" fill="#ffe020"/><path d="M213.6,28.6 Q214.8,33 214.8,40 L214.8,52 Q212,55 208,54 Q205.2,52.5 205.8,48 Q207.5,42 210.5,35 Q212,30 213.6,28.6 Z" fill="#ffe020"/><ellipse cx="251.4" cy="53.2" rx="2.7" ry="4.7" fill="#ffe020"/><path d="M218.8,64 Q215,67.5 213.5,71.5 Q217.5,77 217.2,84 Q215.5,90.5 210,91 Q204.5,90 204,83 Q204,75 208,71 Q211,68.5 214,66.5 Q216.5,63.5 218.8,64 Z" fill="#ff4a10"/><path d="M233.5,61.5 Q238,62.5 240,66.5 Q240.5,71.5 236.5,72.5 Q233.5,71 233,67 Q232.5,63.5 233.5,61.5 Z" fill="#ffc020"/><path d="M155,71.6 Q160,72.5 162.5,75.5 Q162,79.5 158,79 Q155,78.5 153,76 Z" fill="#ffe020"/><ellipse cx="280.6" cy="62" rx="2.3" ry="3.6" fill="#000"/><ellipse cx="280.8" cy="62.5" rx="0.6" ry="1.3" fill="#e8f030" stroke="none"/><circle cx="344.4" cy="38.8" r="2.1" fill="#000" stroke="none"/><ellipse cx="362.6" cy="42" rx="2.2" ry="5.8" transform="rotate(15 362.6 42)" fill="#e8e820"/><path d="M371.5,58 Q370.6,53 370.9,49.6 Q371.5,45 372.9,43 Q374,41.5 376.8,41 Q379,39 381.4,37 Q383.5,37.5 384,39 Q385.5,42.5 384.6,45.6 Q383,48.5 380.7,49 Q378,48.5 376,48.2 Q375,50 374.8,52.2 Q373.5,56 371.5,58 Z" fill="#f0e020"/><path d="M429.8,66.4 Q432,64.5 435.7,65.2 Q439,68 439.8,71.7 Q441,76 439.3,77 Q436.5,77.5 434.5,75.9 Q431.5,73.5 430.3,71.1 Q428.5,68.5 429.8,66.4 Z" fill="#ffa010"/><path d="M452.3,34.9 Q449.5,38 449.3,43.8 Q449,50 450,55.7 Q451,61 453.5,65.2 Q455.5,69 458.3,71.7 Q461,72.5 462.4,70.5 Q463,68 461.8,66.4 Q458.5,64 456.5,61.6 Q454.5,58 454.1,54.5 Q453.4,48 453.5,43.8 Q453.8,39 453.5,36.7 Q453,35 452.3,34.9 Z" fill="#ffb018"/><path d="M325,173.5 Q329,169.5 340,169 Q355,168 372,165.5 L376,168 Q360,172.5 348,176 Q334,178 325,173.5 Z" fill="#e80000"/><path d="M483,151 L441,148.4 Q420,149 411,151 Q401,153 401,156 L400,160 Q396,163 391,163 L371,166 M334,177.5 Q360,176 372,179 Q378,182 372,184.5 Q350,187 300,188 L282,189" fill="none"/><path d="M366,182 Q371,181 377,183.5 Q372,186 366,185" fill="none"/></g><polygon points="51.5,220.5 51.5,25.5 52.9,25.5 54.4,37.6 55.8,52.1 57.2,62.3 58.7,70.3 60.1,76.8 61.5,82.3 63.0,87.1 64.4,91.3 65.8,95.0 67.2,98.4 68.7,101.5 70.1,104.4 71.5,107.0 73.0,109.5 74.4,111.8 75.8,114.0 77.3,116.0 78.7,117.9 80.1,119.8 81.6,121.5 83.0,123.2 84.4,124.8 85.9,126.3 87.3,127.7 88.7,129.1 90.1,130.5 91.6,131.8 93.0,133.0 94.4,134.2 95.9,135.4 97.3,136.5 98.7,137.6 100.2,138.7 101.6,139.7 103.0,140.7 104.5,141.7 105.9,142.7 107.3,143.6 108.8,144.5 110.2,145.4 111.6,146.2 113.1,147.1 114.5,147.9 115.9,148.7 117.3,149.5 118.8,150.3 120.2,151.0 121.6,151.8 123.1,152.5 124.5,153.2 125.9,153.9 127.4,154.6 128.8,155.2 130.2,155.9 131.7,156.5 133.1,157.1 134.5,157.8 136.0,158.4 137.4,159.0 138.8,159.6 140.2,160.2 141.7,160.7 143.1,161.3 144.5,161.8 146.0,162.4 147.4,162.9 148.8,163.4 150.3,164.0 151.7,164.5 153.1,165.0 154.6,165.5 156.0,166.0 157.4,166.5 158.9,166.9 160.3,167.4 161.7,167.9 163.2,168.3 164.6,168.8 166.0,169.2 167.4,169.7 168.9,170.1 170.3,170.6 171.7,171.0 173.2,171.4 174.6,171.8 176.0,172.2 177.5,172.6 178.9,173.1 180.3,173.5 181.8,173.8 183.2,174.2 184.6,174.6 186.1,175.0 187.5,175.4 188.9,175.8 190.3,176.1 191.8,176.5 193.2,176.9 194.6,177.2 196.1,177.6 197.5,177.9 198.9,178.3 200.4,178.6 201.8,179.0 203.2,179.3 204.7,179.6 206.1,180.0 207.5,180.3 209.0,180.6 210.4,180.9 211.8,181.3 213.3,181.6 214.7,181.9 216.1,182.2 217.5,182.5 219.0,182.8 220.4,183.1 221.8,183.4 223.3,183.7 224.7,184.0 226.1,184.3 227.6,184.6 229.0,184.9 230.4,185.2 231.9,185.5 233.3,185.7 234.7,186.0 236.2,186.3 237.6,186.6 239.0,186.9 240.4,187.1 241.9,187.4 243.3,187.7 244.7,187.9 246.2,188.2 247.6,188.4 249.0,188.7 250.5,189.0 251.9,189.2 253.3,189.5 254.8,189.7 256.2,190.0 257.6,190.2 259.1,190.5 260.5,190.7 261.9,191.0 263.4,191.2 264.8,191.4 266.2,191.4 267.6,191.2 269.1,191.0 270.5,190.7 271.9,190.5 273.4,190.2 274.8,190.0 276.2,189.7 277.7,189.5 279.1,189.2 280.5,189.0 282.0,188.7 283.4,188.4 284.8,188.2 286.3,187.9 287.7,187.7 289.1,187.4 290.6,187.1 292.0,186.9 293.4,186.6 294.8,186.3 296.3,186.0 297.7,185.7 299.1,185.5 300.6,185.2 302.0,184.9 303.4,184.6 304.9,184.3 306.3,184.0 307.7,183.7 309.2,183.4 310.6,183.1 312.0,182.8 313.5,182.5 314.9,182.2 316.3,181.9 317.7,181.6 319.2,181.3 320.6,180.9 322.0,180.6 323.5,180.3 324.9,180.0 326.3,179.6 327.8,179.3 329.2,179.0 330.6,178.6 332.1,178.3 333.5,177.9 334.9,177.6 336.4,177.2 337.8,176.9 339.2,176.5 340.7,176.1 342.1,175.8 343.5,175.4 344.9,175.0 346.4,174.6 347.8,174.2 349.2,173.8 350.7,173.5 352.1,173.1 353.5,172.6 355.0,172.2 356.4,171.8 357.8,171.4 359.3,171.0 360.7,170.6 362.1,170.1 363.6,169.7 365.0,169.2 366.4,168.8 367.8,168.3 369.3,167.9 370.7,167.4 372.1,166.9 373.6,166.5 375.0,166.0 376.4,165.5 377.9,165.0 379.3,164.5 380.7,164.0 382.2,163.4 383.6,162.9 385.0,162.4 386.5,161.8 387.9,161.3 389.3,160.7 390.8,160.2 392.2,159.6 393.6,159.0 395.0,158.4 396.5,157.8 397.9,157.1 399.3,156.5 400.8,155.9 402.2,155.2 403.6,154.6 405.1,153.9 406.5,153.2 407.9,152.5 409.4,151.8 410.8,151.0 412.2,150.3 413.7,149.5 415.1,148.7 416.5,147.9 417.9,147.1 419.4,146.2 420.8,145.4 422.2,144.5 423.7,143.6 425.1,142.7 426.5,141.7 428.0,140.7 429.4,139.7 430.8,138.7 432.3,137.6 433.7,136.5 435.1,135.4 436.6,134.2 438.0,133.0 439.4,131.8 440.9,130.5 442.3,129.1 443.7,127.7 445.1,126.3 446.6,124.8 448.0,123.2 449.4,121.5 450.9,119.8 452.3,117.9 453.7,116.0 455.2,114.0 456.6,111.8 458.0,109.5 459.5,107.0 460.9,104.4 462.3,101.5 463.8,98.4 465.2,95.0 466.6,91.3 468.0,87.1 469.5,82.3 470.9,76.8 472.3,70.3 473.8,62.3 475.2,52.1 476.6,37.6 478.1,25.5 479.5,25.5 479.5,220.5" fill="#fff" fill-opacity="0.5"/><path d="M191,190.3 L282,189.8" stroke="#000" stroke-width="2" fill="none"/><polyline points="51.5,25.5 52.9,25.5 54.4,37.6 55.8,52.1 57.2,62.3 58.7,70.3 60.1,76.8 61.5,82.3 63.0,87.1 64.4,91.3 65.8,95.0 67.2,98.4 68.7,101.5 70.1,104.4 71.5,107.0 73.0,109.5 74.4,111.8 75.8,114.0 77.3,116.0 78.7,117.9 80.1,119.8 81.6,121.5 83.0,123.2 84.4,124.8 85.9,126.3 87.3,127.7 88.7,129.1 90.1,130.5 91.6,131.8 93.0,133.0 94.4,134.2 95.9,135.4 97.3,136.5 98.7,137.6 100.2,138.7 101.6,139.7 103.0,140.7 104.5,141.7 105.9,142.7 107.3,143.6 108.8,144.5 110.2,145.4 111.6,146.2 113.1,147.1 114.5,147.9 115.9,148.7 117.3,149.5 118.8,150.3 120.2,151.0 121.6,151.8 123.1,152.5 124.5,153.2 125.9,153.9 127.4,154.6 128.8,155.2 130.2,155.9 131.7,156.5 133.1,157.1 134.5,157.8 136.0,158.4 137.4,159.0 138.8,159.6 140.2,160.2 141.7,160.7 143.1,161.3 144.5,161.8 146.0,162.4 147.4,162.9 148.8,163.4 150.3,164.0 151.7,164.5 153.1,165.0 154.6,165.5 156.0,166.0 157.4,166.5 158.9,166.9 160.3,167.4 161.7,167.9 163.2,168.3 164.6,168.8 166.0,169.2 167.4,169.7 168.9,170.1 170.3,170.6 171.7,171.0 173.2,171.4 174.6,171.8 176.0,172.2 177.5,172.6 178.9,173.1 180.3,173.5 181.8,173.8 183.2,174.2 184.6,174.6 186.1,175.0 187.5,175.4 188.9,175.8 190.3,176.1 191.8,176.5 193.2,176.9 194.6,177.2 196.1,177.6 197.5,177.9 198.9,178.3 200.4,178.6 201.8,179.0 203.2,179.3 204.7,179.6 206.1,180.0 207.5,180.3 209.0,180.6 210.4,180.9 211.8,181.3 213.3,181.6 214.7,181.9 216.1,182.2 217.5,182.5 219.0,182.8 220.4,183.1 221.8,183.4 223.3,183.7 224.7,184.0 226.1,184.3 227.6,184.6 229.0,184.9 230.4,185.2 231.9,185.5 233.3,185.7 234.7,186.0 236.2,186.3 237.6,186.6 239.0,186.9 240.4,187.1 241.9,187.4 243.3,187.7 244.7,187.9 246.2,188.2 247.6,188.4 249.0,188.7 250.5,189.0 251.9,189.2 253.3,189.5 254.8,189.7 256.2,190.0 257.6,190.2 259.1,190.5 260.5,190.7 261.9,191.0 263.4,191.2 264.8,191.4 266.2,191.4 267.6,191.2 269.1,191.0 270.5,190.7 271.9,190.5 273.4,190.2 274.8,190.0 276.2,189.7 277.7,189.5 279.1,189.2 280.5,189.0 282.0,188.7 283.4,188.4 284.8,188.2 286.3,187.9 287.7,187.7 289.1,187.4 290.6,187.1 292.0,186.9 293.4,186.6 294.8,186.3 296.3,186.0 297.7,185.7 299.1,185.5 300.6,185.2 302.0,184.9 303.4,184.6 304.9,184.3 306.3,184.0 307.7,183.7 309.2,183.4 310.6,183.1 312.0,182.8 313.5,182.5 314.9,182.2 316.3,181.9 317.7,181.6 319.2,181.3 320.6,180.9 322.0,180.6 323.5,180.3 324.9,180.0 326.3,179.6 327.8,179.3 329.2,179.0 330.6,178.6 332.1,178.3 333.5,177.9 334.9,177.6 336.4,177.2 337.8,176.9 339.2,176.5 340.7,176.1 342.1,175.8 343.5,175.4 344.9,175.0 346.4,174.6 347.8,174.2 349.2,173.8 350.7,173.5 352.1,173.1 353.5,172.6 355.0,172.2 356.4,171.8 357.8,171.4 359.3,171.0 360.7,170.6 362.1,170.1 363.6,169.7 365.0,169.2 366.4,168.8 367.8,168.3 369.3,167.9 370.7,167.4 372.1,166.9 373.6,166.5 375.0,166.0 376.4,165.5 377.9,165.0 379.3,164.5 380.7,164.0 382.2,163.4 383.6,162.9 385.0,162.4 386.5,161.8 387.9,161.3 389.3,160.7 390.8,160.2 392.2,159.6 393.6,159.0 395.0,158.4 396.5,157.8 397.9,157.1 399.3,156.5 400.8,155.9 402.2,155.2 403.6,154.6 405.1,153.9 406.5,153.2 407.9,152.5 409.4,151.8 410.8,151.0 412.2,150.3 413.7,149.5 415.1,148.7 416.5,147.9 417.9,147.1 419.4,146.2 420.8,145.4 422.2,144.5 423.7,143.6 425.1,142.7 426.5,141.7 428.0,140.7 429.4,139.7 430.8,138.7 432.3,137.6 433.7,136.5 435.1,135.4 436.6,134.2 438.0,133.0 439.4,131.8 440.9,130.5 442.3,129.1 443.7,127.7 445.1,126.3 446.6,124.8 448.0,123.2 449.4,121.5 450.9,119.8 452.3,117.9 453.7,116.0 455.2,114.0 456.6,111.8 458.0,109.5 459.5,107.0 460.9,104.4 462.3,101.5 463.8,98.4 465.2,95.0 466.6,91.3 468.0,87.1 469.5,82.3 470.9,76.8 472.3,70.3 473.8,62.3 475.2,52.1 476.6,37.6 478.1,25.5 479.5,25.5" fill="none" stroke="#000" stroke-width="0.9"/></g><g stroke="#262626" stroke-width="0.8"><line x1="51.5" y1="51.7" x2="55.5" y2="51.7"/><line x1="479.5" y1="51.7" x2="475.5" y2="51.7"/><text x="47.3" y="56.7" font-size="13.90" text-anchor="end">4</text><line x1="51.5" y1="76.5" x2="55.5" y2="76.5"/><line x1="479.5" y1="76.5" x2="475.5" y2="76.5"/><text x="47.3" y="81.5" font-size="13.90" text-anchor="end">8</text><line x1="51.5" y1="101.2" x2="55.5" y2="101.2"/><line x1="479.5" y1="101.2" x2="475.5" y2="101.2"/><text x="47.3" y="106.2" font-size="13.90" text-anchor="end">16</text><line x1="51.5" y1="125.9" x2="55.5" y2="125.9"/><line x1="479.5" y1="125.9" x2="475.5" y2="125.9"/><text x="47.3" y="130.9" font-size="13.90" text-anchor="end">32</text><line x1="51.5" y1="150.7" x2="55.5" y2="150.7"/><line x1="479.5" y1="150.7" x2="475.5" y2="150.7"/><text x="47.3" y="155.7" font-size="13.90" text-anchor="end">64</text><line x1="51.5" y1="175.4" x2="55.5" y2="175.4"/><line x1="479.5" y1="175.4" x2="475.5" y2="175.4"/><text x="47.3" y="180.4" font-size="13.90" text-anchor="end">128</text><line x1="79.4" y1="190.5" x2="79.4" y2="186.5"/><line x1="79.4" y1="27.5" x2="79.4" y2="31.5"/><text x="79.4" y="208.7" font-size="13.90" text-anchor="middle">1970</text><line x1="172.5" y1="190.5" x2="172.5" y2="186.5"/><line x1="172.5" y1="27.5" x2="172.5" y2="31.5"/><text x="172.5" y="208.7" font-size="13.90" text-anchor="middle">1980</text><line x1="265.6" y1="190.5" x2="265.6" y2="186.5"/><line x1="265.6" y1="27.5" x2="265.6" y2="31.5"/><text x="265.6" y="208.7" font-size="13.90" text-anchor="middle">1990</text><line x1="358.6" y1="190.5" x2="358.6" y2="186.5"/><line x1="358.6" y1="27.5" x2="358.6" y2="31.5"/><text x="358.6" y="208.7" font-size="13.90" text-anchor="middle">2000</text><line x1="451.7" y1="190.5" x2="451.7" y2="186.5"/><line x1="451.7" y1="27.5" x2="451.7" y2="31.5"/><text x="451.7" y="208.7" font-size="13.90" text-anchor="middle">2010</text><rect x="51.5" y="27.5" width="428" height="163.0" fill="none" stroke="#1e1e1e" stroke-width="1"/><text x="265.5" y="228.0" font-size="14.50" text-anchor="middle" letter-spacing="0.5">Year</text><text x="0" y="0" font-size="14" letter-spacing="0.53" text-anchor="middle" transform="translate(16.9,109.5) rotate(-90)">Period(Month)</text><line x1="515.5" y1="43.1" x2="513.8" y2="43.1"/><text x="521.3" y="47.2" font-size="11.80" text-anchor="start" letter-spacing="0.35">16</text><line x1="515.5" y1="59.7" x2="513.8" y2="59.7"/><text x="524.6" y="63.8" font-size="11.80" text-anchor="start" letter-spacing="0.35">8</text><line x1="515.5" y1="76.4" x2="513.8" y2="76.4"/><text x="524.2" y="80.5" font-size="11.80" text-anchor="start" letter-spacing="0.35">4</text><line x1="515.5" y1="93.0" x2="513.8" y2="93.0"/><text x="524.7" y="97.1" font-size="11.80" text-anchor="start" letter-spacing="0.35">2</text><line x1="515.5" y1="109.7" x2="513.8" y2="109.7"/><text x="524.4" y="113.8" font-size="11.80" text-anchor="start" letter-spacing="0.35">1</text><line x1="515.5" y1="126.4" x2="513.8" y2="126.4"/><text x="521.2" y="130.5" font-size="11.80" text-anchor="start" letter-spacing="0.35">1/2</text><line x1="515.5" y1="143.0" x2="513.8" y2="143.0"/><text x="521.2" y="147.1" font-size="11.80" text-anchor="start" letter-spacing="0.35">1/4</text><line x1="515.5" y1="159.7" x2="513.8" y2="159.7"/><text x="521.2" y="163.8" font-size="11.80" text-anchor="start" letter-spacing="0.35">1/8</text><line x1="515.5" y1="176.3" x2="513.8" y2="176.3"/><text x="521.0" y="180.4" font-size="11.80" text-anchor="start" letter-spacing="0.35">1/16</text><rect x="491.5" y="27.5" width="24" height="163.0" fill="none" stroke="#1e1e1e" stroke-width="1"/></g><defs><clipPath id="cp1"><rect x="51.5" y="254.5" width="428.0" height="164.0"/></clipPath></defs><g clip-path="url(#cp1)"><g stroke="#000" stroke-width="2.6" stroke-linejoin="round"><path d="M58,266 L58.5,278" fill="none" stroke-width="3.5"/><path d="M55,253 L60,253 Q60.5,260 59.5,265.5 Q58,267.5 56.5,265.5 Q55,261 55,253 Z" fill="#f0e020"/><path d="M57,278 Q60.4,278 62,284 Q64.2,291 65.3,296.6 Q63,298.5 59.8,297.7 Q57.5,292 57,285 Z" fill="#ff5000"/><path d="M73.4,253 L82.7,253 L82.7,265 Q81.5,269.5 78,269 Q74,268 73.4,264 Z" fill="#000"/><ellipse cx="79.4" cy="263" rx="0.7" ry="1.2" fill="#f0f030" stroke="none"/><rect x="81.8" y="282.4" width="7.2" height="8" rx="2.6" fill="#ff9a10"/><path d="M68.2,306.4 Q70,303.8 76.4,303.6 L92.7,303 Q98,302.5 102,301.8 Q100,303.5 98.2,305.3 Q96.5,310 94.9,315 Q93.5,318 91.6,319.4 Q87,321.5 81.8,321.6 L73,322.2 Q69.5,321 68.7,318.4 Q67.3,315 67.6,311.8 Q67.5,308 68.2,306.4 Z" fill="#d81000"/><ellipse cx="81" cy="313" rx="7" ry="4" fill="#a80000" stroke="none" opacity="0.8"/><circle cx="102.5" cy="302" r="2.4" fill="#000" stroke="none"/><path d="M158.3,269 Q162,270 165.1,272.7 Q168,274 168.9,276.4 Q169.5,281 168.2,284.8 Q166.5,287.5 163.6,287 Q160,285 158.3,280.2 Q157,274 158.3,269 Z" fill="#ff9010"/><path d="M187.8,253 L191,253 Q191.2,262 190.8,271 Q190.3,274 188.6,277.2 Q187.8,280 187,283.2 Q186,286.5 184.8,287.8 Q182,288 180.3,286.3 Q180,281 181,277.2 Q181.7,275 182.5,273.4 Q184,271.5 185.5,271 Q187.2,268.5 187.5,266.6 Z" fill="#ffa010"/><path d="M195,253 L201,253 Q201.2,262 200,267 Q198.8,270 197.6,269.6 Q195.5,268 195.2,262 Z" fill="#ff9a10"/><ellipse cx="210.1" cy="270.4" rx="2.2" ry="10" transform="rotate(10 210.1 270.4)" fill="#f0e020"/><path d="M156,300.6 Q160,298.6 165,298.4 L175,298 Q176.5,299.5 175,301.4 Q173,304.5 169.7,306.7 Q165.5,308.6 160.6,308.2 Q156.5,307 155.3,304.4 Q155,302 156,300.6 Z" fill="#ff3a00"/><path d="M205.2,300.6 Q209,299.2 213.5,299.9 Q215,304 215,310.5 Q216,314 215.8,317.3 Q213.5,319.5 210.5,318.8 Q206,318 204.5,315 Q203.3,310 203.7,306 Q204,302 205.2,300.6 Z" fill="#ff3a00"/><ellipse cx="251.7" cy="281.7" rx="2.4" ry="4.6" fill="#f0e020"/><path d="M263.4,287.8 Q266,293 268,300.7 Q263,300 257.4,296.9 Q260.5,292 263.4,287.8 Z" fill="#ffa010"/><path d="M273.3,265.1 Q276,270 277.8,276.4 Q274,277 271,275.7 Q271.5,270 273.3,265.1 Z" fill="#ffe020"/><circle cx="283.9" cy="267.4" r="2.3" fill="#000" stroke="none"/><path d="M281,281.5 Q285,282 286,285 Q286.5,292 286.5,300 Q288.5,306 288.3,312 Q287,316.5 281,316.5 Q274,316 272.5,312 Q273,307 277,303 Q278.5,300 278,295 Q277,289 278,285 Q279,282 281,281.5 Z" fill="#ff4a10"/><path d="M359.1,269.6 Q360,263.5 364.1,263 Q366,265 365.8,269.6 Q365,275 361.6,277.1 Q359,275 359.1,269.6 Z" fill="#ffc020"/><path d="M374.1,263.8 Q377.5,266 380.8,263.8 Q384.5,264.5 385,269.6 Q385,274 383.3,275.5 Q379,277 375.8,277.1 Q373,280 372.4,284.6 Q372,288 373.3,291.3 Q376.5,293 378.3,296.3 Q378.5,300 377.4,302 Q375.5,302.5 374.1,301.3 Q371.5,298 370.8,294.6 Q370.3,288 370.8,283 Q371,278 371.6,274.6 Q371.7,268 372.4,266.3 Q373,264 374.1,263.8 Z" fill="#ffb018"/><path d="M377.4,309.6 Q382,312 385.8,317 Q384,320.6 380,320.4 Q376,319.5 375,316.2 Q375,312 377.4,309.6 Z" fill="#ff3000"/><ellipse cx="277" cy="346.5" rx="6.3" ry="3" transform="rotate(-20 277 346.5)" fill="#ee1000"/><ellipse cx="428" cy="400.5" rx="30" ry="3.3" fill="none"/><path d="M58,422 Q72,415.5 95,415 L440,415.3 Q465,416 475,419" fill="none"/></g><polygon points="51.5,448.5 51.5,252.5 52.9,252.5 54.4,265.6 55.8,280.0 57.2,290.3 58.7,298.2 60.1,304.7 61.5,310.2 63.0,315.0 64.4,319.2 65.8,322.9 67.2,326.3 68.7,329.4 70.1,332.3 71.5,334.9 73.0,337.3 74.4,339.6 75.8,341.8 77.3,343.8 78.7,345.8 80.1,347.6 81.6,349.3 83.0,351.0 84.4,352.6 85.9,354.1 87.3,355.5 88.7,356.9 90.1,358.3 91.6,359.6 93.0,360.8 94.4,362.0 95.9,363.2 97.3,364.3 98.7,365.4 100.2,366.5 101.6,367.5 103.0,368.5 104.5,369.5 105.9,370.4 107.3,371.4 108.8,372.3 110.2,373.2 111.6,374.0 113.1,374.8 114.5,375.7 115.9,376.5 117.3,377.2 118.8,378.0 120.2,378.8 121.6,379.5 123.1,380.2 124.5,380.9 125.9,381.6 127.4,382.3 128.8,383.0 130.2,383.6 131.7,384.3 133.1,384.9 134.5,385.5 136.0,386.1 137.4,386.7 138.8,387.3 140.2,387.9 141.7,388.4 143.1,389.0 144.5,389.6 146.0,390.1 147.4,390.6 148.8,391.2 150.3,391.7 151.7,392.2 153.1,392.7 154.6,393.2 156.0,393.7 157.4,394.2 158.9,394.7 160.3,395.1 161.7,395.6 163.2,396.1 164.6,396.5 166.0,397.0 167.4,397.4 168.9,397.8 170.3,398.3 171.7,398.7 173.2,399.1 174.6,399.5 176.0,399.9 177.5,400.3 178.9,400.7 180.3,401.1 181.8,401.5 183.2,401.9 184.6,402.3 186.1,402.7 187.5,403.1 188.9,403.4 190.3,403.8 191.8,404.2 193.2,404.5 194.6,404.9 196.1,405.3 197.5,405.6 198.9,406.0 200.4,406.3 201.8,406.6 203.2,407.0 204.7,407.3 206.1,407.6 207.5,408.0 209.0,408.3 210.4,408.6 211.8,408.9 213.3,409.2 214.7,409.6 216.1,409.9 217.5,410.2 219.0,410.5 220.4,410.8 221.8,411.1 223.3,411.4 224.7,411.7 226.1,412.0 227.6,412.3 229.0,412.6 230.4,412.8 231.9,413.1 233.3,413.4 234.7,413.7 236.2,414.0 237.6,414.2 239.0,414.5 240.4,414.8 241.9,415.1 243.3,415.3 244.7,415.6 246.2,415.8 247.6,416.1 249.0,416.4 250.5,416.6 251.9,416.9 253.3,417.1 254.8,417.4 256.2,417.6 257.6,417.9 259.1,418.1 260.5,418.4 261.9,418.6 263.4,418.9 264.8,419.1 266.2,419.1 267.6,418.9 269.1,418.6 270.5,418.4 271.9,418.1 273.4,417.9 274.8,417.6 276.2,417.4 277.7,417.1 279.1,416.9 280.5,416.6 282.0,416.4 283.4,416.1 284.8,415.8 286.3,415.6 287.7,415.3 289.1,415.1 290.6,414.8 292.0,414.5 293.4,414.2 294.8,414.0 296.3,413.7 297.7,413.4 299.1,413.1 300.6,412.8 302.0,412.6 303.4,412.3 304.9,412.0 306.3,411.7 307.7,411.4 309.2,411.1 310.6,410.8 312.0,410.5 313.5,410.2 314.9,409.9 316.3,409.6 317.7,409.2 319.2,408.9 320.6,408.6 322.0,408.3 323.5,408.0 324.9,407.6 326.3,407.3 327.8,407.0 329.2,406.6 330.6,406.3 332.1,406.0 333.5,405.6 334.9,405.3 336.4,404.9 337.8,404.5 339.2,404.2 340.7,403.8 342.1,403.4 343.5,403.1 344.9,402.7 346.4,402.3 347.8,401.9 349.2,401.5 350.7,401.1 352.1,400.7 353.5,400.3 355.0,399.9 356.4,399.5 357.8,399.1 359.3,398.7 360.7,398.3 362.1,397.8 363.6,397.4 365.0,397.0 366.4,396.5 367.8,396.1 369.3,395.6 370.7,395.1 372.1,394.7 373.6,394.2 375.0,393.7 376.4,393.2 377.9,392.7 379.3,392.2 380.7,391.7 382.2,391.2 383.6,390.6 385.0,390.1 386.5,389.6 387.9,389.0 389.3,388.4 390.8,387.9 392.2,387.3 393.6,386.7 395.0,386.1 396.5,385.5 397.9,384.9 399.3,384.3 400.8,383.6 402.2,383.0 403.6,382.3 405.1,381.6 406.5,380.9 407.9,380.2 409.4,379.5 410.8,378.8 412.2,378.0 413.7,377.2 415.1,376.5 416.5,375.7 417.9,374.8 419.4,374.0 420.8,373.2 422.2,372.3 423.7,371.4 425.1,370.4 426.5,369.5 428.0,368.5 429.4,367.5 430.8,366.5 432.3,365.4 433.7,364.3 435.1,363.2 436.6,362.0 438.0,360.8 439.4,359.6 440.9,358.3 442.3,356.9 443.7,355.5 445.1,354.1 446.6,352.6 448.0,351.0 449.4,349.3 450.9,347.6 452.3,345.8 453.7,343.8 455.2,341.8 456.6,339.6 458.0,337.3 459.5,334.9 460.9,332.3 462.3,329.4 463.8,326.3 465.2,322.9 466.6,319.2 468.0,315.0 469.5,310.2 470.9,304.7 472.3,298.2 473.8,290.3 475.2,280.0 476.6,265.6 478.1,252.5 479.5,252.5 479.5,448.5" fill="#fff" fill-opacity="0.5"/><polyline points="51.5,252.5 52.9,252.5 54.4,265.6 55.8,280.0 57.2,290.3 58.7,298.2 60.1,304.7 61.5,310.2 63.0,315.0 64.4,319.2 65.8,322.9 67.2,326.3 68.7,329.4 70.1,332.3 71.5,334.9 73.0,337.3 74.4,339.6 75.8,341.8 77.3,343.8 78.7,345.8 80.1,347.6 81.6,349.3 83.0,351.0 84.4,352.6 85.9,354.1 87.3,355.5 88.7,356.9 90.1,358.3 91.6,359.6 93.0,360.8 94.4,362.0 95.9,363.2 97.3,364.3 98.7,365.4 100.2,366.5 101.6,367.5 103.0,368.5 104.5,369.5 105.9,370.4 107.3,371.4 108.8,372.3 110.2,373.2 111.6,374.0 113.1,374.8 114.5,375.7 115.9,376.5 117.3,377.2 118.8,378.0 120.2,378.8 121.6,379.5 123.1,380.2 124.5,380.9 125.9,381.6 127.4,382.3 128.8,383.0 130.2,383.6 131.7,384.3 133.1,384.9 134.5,385.5 136.0,386.1 137.4,386.7 138.8,387.3 140.2,387.9 141.7,388.4 143.1,389.0 144.5,389.6 146.0,390.1 147.4,390.6 148.8,391.2 150.3,391.7 151.7,392.2 153.1,392.7 154.6,393.2 156.0,393.7 157.4,394.2 158.9,394.7 160.3,395.1 161.7,395.6 163.2,396.1 164.6,396.5 166.0,397.0 167.4,397.4 168.9,397.8 170.3,398.3 171.7,398.7 173.2,399.1 174.6,399.5 176.0,399.9 177.5,400.3 178.9,400.7 180.3,401.1 181.8,401.5 183.2,401.9 184.6,402.3 186.1,402.7 187.5,403.1 188.9,403.4 190.3,403.8 191.8,404.2 193.2,404.5 194.6,404.9 196.1,405.3 197.5,405.6 198.9,406.0 200.4,406.3 201.8,406.6 203.2,407.0 204.7,407.3 206.1,407.6 207.5,408.0 209.0,408.3 210.4,408.6 211.8,408.9 213.3,409.2 214.7,409.6 216.1,409.9 217.5,410.2 219.0,410.5 220.4,410.8 221.8,411.1 223.3,411.4 224.7,411.7 226.1,412.0 227.6,412.3 229.0,412.6 230.4,412.8 231.9,413.1 233.3,413.4 234.7,413.7 236.2,414.0 237.6,414.2 239.0,414.5 240.4,414.8 241.9,415.1 243.3,415.3 244.7,415.6 246.2,415.8 247.6,416.1 249.0,416.4 250.5,416.6 251.9,416.9 253.3,417.1 254.8,417.4 256.2,417.6 257.6,417.9 259.1,418.1 260.5,418.4 261.9,418.6 263.4,418.9 264.8,419.1 266.2,419.1 267.6,418.9 269.1,418.6 270.5,418.4 271.9,418.1 273.4,417.9 274.8,417.6 276.2,417.4 277.7,417.1 279.1,416.9 280.5,416.6 282.0,416.4 283.4,416.1 284.8,415.8 286.3,415.6 287.7,415.3 289.1,415.1 290.6,414.8 292.0,414.5 293.4,414.2 294.8,414.0 296.3,413.7 297.7,413.4 299.1,413.1 300.6,412.8 302.0,412.6 303.4,412.3 304.9,412.0 306.3,411.7 307.7,411.4 309.2,411.1 310.6,410.8 312.0,410.5 313.5,410.2 314.9,409.9 316.3,409.6 317.7,409.2 319.2,408.9 320.6,408.6 322.0,408.3 323.5,408.0 324.9,407.6 326.3,407.3 327.8,407.0 329.2,406.6 330.6,406.3 332.1,406.0 333.5,405.6 334.9,405.3 336.4,404.9 337.8,404.5 339.2,404.2 340.7,403.8 342.1,403.4 343.5,403.1 344.9,402.7 346.4,402.3 347.8,401.9 349.2,401.5 350.7,401.1 352.1,400.7 353.5,400.3 355.0,399.9 356.4,399.5 357.8,399.1 359.3,398.7 360.7,398.3 362.1,397.8 363.6,397.4 365.0,397.0 366.4,396.5 367.8,396.1 369.3,395.6 370.7,395.1 372.1,394.7 373.6,394.2 375.0,393.7 376.4,393.2 377.9,392.7 379.3,392.2 380.7,391.7 382.2,391.2 383.6,390.6 385.0,390.1 386.5,389.6 387.9,389.0 389.3,388.4 390.8,387.9 392.2,387.3 393.6,386.7 395.0,386.1 396.5,385.5 397.9,384.9 399.3,384.3 400.8,383.6 402.2,383.0 403.6,382.3 405.1,381.6 406.5,380.9 407.9,380.2 409.4,379.5 410.8,378.8 412.2,378.0 413.7,377.2 415.1,376.5 416.5,375.7 417.9,374.8 419.4,374.0 420.8,373.2 422.2,372.3 423.7,371.4 425.1,370.4 426.5,369.5 428.0,368.5 429.4,367.5 430.8,366.5 432.3,365.4 433.7,364.3 435.1,363.2 436.6,362.0 438.0,360.8 439.4,359.6 440.9,358.3 442.3,356.9 443.7,355.5 445.1,354.1 446.6,352.6 448.0,351.0 449.4,349.3 450.9,347.6 452.3,345.8 453.7,343.8 455.2,341.8 456.6,339.6 458.0,337.3 459.5,334.9 460.9,332.3 462.3,329.4 463.8,326.3 465.2,322.9 466.6,319.2 468.0,315.0 469.5,310.2 470.9,304.7 472.3,298.2 473.8,290.3 475.2,280.0 476.6,265.6 478.1,252.5 479.5,252.5" fill="none" stroke="#000" stroke-width="0.9"/></g><g stroke="#262626" stroke-width="0.8"><line x1="51.5" y1="279.7" x2="55.5" y2="279.7"/><line x1="479.5" y1="279.7" x2="475.5" y2="279.7"/><text x="47.3" y="284.7" font-size="13.90" text-anchor="end">4</text><line x1="51.5" y1="304.4" x2="55.5" y2="304.4"/><line x1="479.5" y1="304.4" x2="475.5" y2="304.4"/><text x="47.3" y="309.4" font-size="13.90" text-anchor="end">8</text><line x1="51.5" y1="329.1" x2="55.5" y2="329.1"/><line x1="479.5" y1="329.1" x2="475.5" y2="329.1"/><text x="47.3" y="334.1" font-size="13.90" text-anchor="end">16</text><line x1="51.5" y1="353.8" x2="55.5" y2="353.8"/><line x1="479.5" y1="353.8" x2="475.5" y2="353.8"/><text x="47.3" y="358.8" font-size="13.90" text-anchor="end">32</text><line x1="51.5" y1="378.4" x2="55.5" y2="378.4"/><line x1="479.5" y1="378.4" x2="475.5" y2="378.4"/><text x="47.3" y="383.4" font-size="13.90" text-anchor="end">64</text><line x1="51.5" y1="403.1" x2="55.5" y2="403.1"/><line x1="479.5" y1="403.1" x2="475.5" y2="403.1"/><text x="47.3" y="408.1" font-size="13.90" text-anchor="end">128</text><line x1="79.4" y1="418.5" x2="79.4" y2="414.5"/><line x1="79.4" y1="254.5" x2="79.4" y2="258.5"/><text x="79.4" y="436.7" font-size="13.90" text-anchor="middle">1970</text><line x1="172.5" y1="418.5" x2="172.5" y2="414.5"/><line x1="172.5" y1="254.5" x2="172.5" y2="258.5"/><text x="172.5" y="436.7" font-size="13.90" text-anchor="middle">1980</text><line x1="265.6" y1="418.5" x2="265.6" y2="414.5"/><line x1="265.6" y1="254.5" x2="265.6" y2="258.5"/><text x="265.6" y="436.7" font-size="13.90" text-anchor="middle">1990</text><line x1="358.6" y1="418.5" x2="358.6" y2="414.5"/><line x1="358.6" y1="254.5" x2="358.6" y2="258.5"/><text x="358.6" y="436.7" font-size="13.90" text-anchor="middle">2000</text><line x1="451.7" y1="418.5" x2="451.7" y2="414.5"/><line x1="451.7" y1="254.5" x2="451.7" y2="258.5"/><text x="451.7" y="436.7" font-size="13.90" text-anchor="middle">2010</text><rect x="51.5" y="254.5" width="428" height="164.0" fill="none" stroke="#1e1e1e" stroke-width="1"/><text x="265.5" y="456.0" font-size="14.50" text-anchor="middle" letter-spacing="0.5">Year</text><text x="0" y="0" font-size="14" letter-spacing="0.53" text-anchor="middle" transform="translate(16.9,337.0) rotate(-90)">Period(Month)</text><line x1="515.5" y1="263.3" x2="513.8" y2="263.3"/><text x="521.3" y="267.4" font-size="11.80" text-anchor="start" letter-spacing="0.35">16</text><line x1="515.5" y1="281.7" x2="513.8" y2="281.7"/><text x="524.6" y="285.8" font-size="11.80" text-anchor="start" letter-spacing="0.35">8</text><line x1="515.5" y1="300.2" x2="513.8" y2="300.2"/><text x="524.2" y="304.3" font-size="11.80" text-anchor="start" letter-spacing="0.35">4</text><line x1="515.5" y1="318.6" x2="513.8" y2="318.6"/><text x="524.7" y="322.7" font-size="11.80" text-anchor="start" letter-spacing="0.35">2</text><line x1="515.5" y1="337.0" x2="513.8" y2="337.0"/><text x="524.4" y="341.1" font-size="11.80" text-anchor="start" letter-spacing="0.35">1</text><line x1="515.5" y1="355.4" x2="513.8" y2="355.4"/><text x="521.2" y="359.5" font-size="11.80" text-anchor="start" letter-spacing="0.35">1/2</text><line x1="515.5" y1="373.8" x2="513.8" y2="373.8"/><text x="521.2" y="377.9" font-size="11.80" text-anchor="start" letter-spacing="0.35">1/4</text><line x1="515.5" y1="392.3" x2="513.8" y2="392.3"/><text x="521.2" y="396.4" font-size="11.80" text-anchor="start" letter-spacing="0.35">1/8</text><line x1="515.5" y1="410.7" x2="513.8" y2="410.7"/><text x="521.0" y="414.8" font-size="11.80" text-anchor="start" letter-spacing="0.35">1/16</text><rect x="491.5" y="254.5" width="24" height="164.0" fill="none" stroke="#1e1e1e" stroke-width="1"/></g><text y="16.6" font-size="14.8"><tspan x="203.2" y="17.2" font-family="Liberation Serif, serif" font-style="italic">ρ</tspan><tspan x="210.4" y="23.4" font-size="12.5" letter-spacing="0.15">obs</tspan><tspan x="230.4" y="16.6">/</tspan><tspan x="234.3" y="17.2" font-family="Liberation Serif, serif" font-style="italic">ρ</tspan><tspan x="242.5" y="23.4" font-size="12.5" letter-spacing="0.1">mod</tspan><tspan x="266.7" y="16.6" letter-spacing="0.45">@250km</tspan></text><text y="250.4" font-size="14.8"><tspan x="227.6" font-family="Liberation Serif, serif" font-style="italic" font-size="15.8" letter-spacing="0.5">δρ</tspan><tspan x="242.6" letter-spacing="0.45">@250km</tspan></text></svg>
</body></html>
